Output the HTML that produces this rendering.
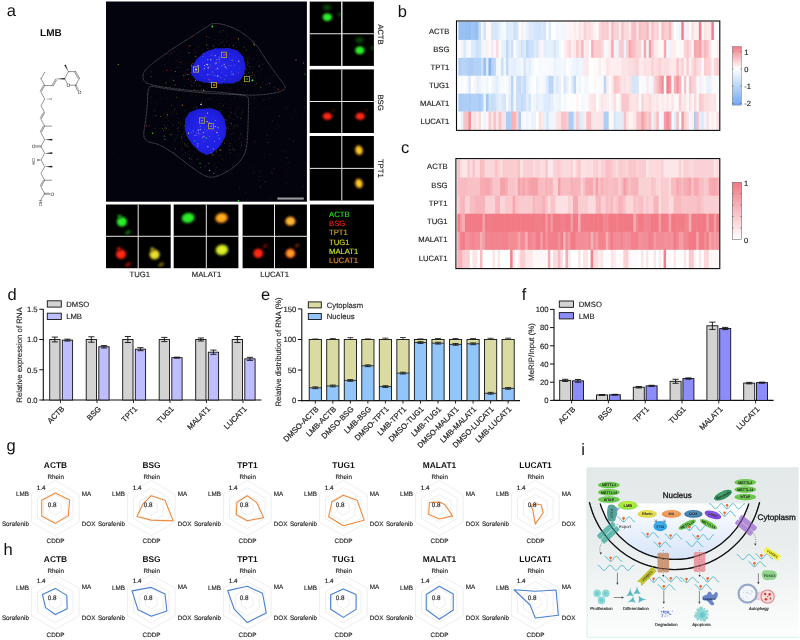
<!DOCTYPE html>
<html><head><meta charset="utf-8"><title>Figure</title>
<style>
html,body{margin:0;padding:0;background:#fff;}
body{width:800px;height:640px;overflow:hidden;font-family:"Liberation Sans", sans-serif;}
svg{display:block;font-family:"Liberation Sans", sans-serif;text-rendering:geometricPrecision;}
</style></head><body>
<svg width="800" height="640" viewBox="0 0 800 640">
<defs>
<filter id="b1" x="-50%" y="-50%" width="200%" height="200%" color-interpolation-filters="sRGB"><feGaussianBlur stdDeviation="1.1"/></filter>
<filter id="b2" x="-50%" y="-50%" width="200%" height="200%" color-interpolation-filters="sRGB"><feGaussianBlur stdDeviation="1.8"/></filter>
<filter id="b05" x="-50%" y="-50%" width="200%" height="200%" color-interpolation-filters="sRGB"><feGaussianBlur stdDeviation="0.45"/></filter>
<filter id="b03" x="-50%" y="-50%" width="200%" height="200%" color-interpolation-filters="sRGB"><feGaussianBlur stdDeviation="0.3"/></filter>
<clipPath id="cm"><rect x="106" y="1.5" width="200.9" height="200.2"/></clipPath>
<radialGradient id="nuc" cx="50%" cy="50%" r="50%"><stop offset="0" stop-color="#2626ec"/><stop offset="0.75" stop-color="#2020e4"/><stop offset="1" stop-color="#1c1cd0"/></radialGradient>
<clipPath id="cpA"><rect x="309.7" y="1.6" width="64.2" height="64.3"/></clipPath>
<radialGradient id="g7"><stop offset="0" stop-color="#0d5a0d"/><stop offset="0.55" stop-color="#0d5a0d"/><stop offset="1" stop-color="#073007"/></radialGradient>
<radialGradient id="g8"><stop offset="0" stop-color="#0d5a0d"/><stop offset="0.55" stop-color="#0d5a0d"/><stop offset="1" stop-color="#073007"/></radialGradient>
<radialGradient id="g9"><stop offset="0" stop-color="#0d6a0d"/><stop offset="0.55" stop-color="#0d6a0d"/><stop offset="1" stop-color="#073007"/></radialGradient>
<radialGradient id="g10"><stop offset="0" stop-color="#0d6a0d"/><stop offset="0.55" stop-color="#0d6a0d"/><stop offset="1" stop-color="#073007"/></radialGradient>
<radialGradient id="g11"><stop offset="0" stop-color="#2cf02c"/><stop offset="0.55" stop-color="#2cf02c"/><stop offset="1" stop-color="#1ec81e"/></radialGradient>
<radialGradient id="g12"><stop offset="0" stop-color="#2cf02c"/><stop offset="0.55" stop-color="#2cf02c"/><stop offset="1" stop-color="#1ec81e"/></radialGradient>
<radialGradient id="g13"><stop offset="0" stop-color="#ff2a18"/><stop offset="0.55" stop-color="#ff2a18"/><stop offset="1" stop-color="#d81408"/></radialGradient>
<radialGradient id="g14"><stop offset="0" stop-color="#ff2a18"/><stop offset="0.55" stop-color="#ff2a18"/><stop offset="1" stop-color="#d81408"/></radialGradient>
<radialGradient id="g15"><stop offset="0" stop-color="#701008"/><stop offset="0.55" stop-color="#701008"/><stop offset="1" stop-color="#400804"/></radialGradient>
<radialGradient id="g16"><stop offset="0" stop-color="#701008"/><stop offset="0.55" stop-color="#701008"/><stop offset="1" stop-color="#400804"/></radialGradient>
<radialGradient id="g17"><stop offset="0" stop-color="#ffd028"/><stop offset="0.55" stop-color="#ffd028"/><stop offset="1" stop-color="#c87808"/></radialGradient>
<radialGradient id="g18"><stop offset="0" stop-color="#ffd028"/><stop offset="0.55" stop-color="#ffd028"/><stop offset="1" stop-color="#c87808"/></radialGradient>
<radialGradient id="g19"><stop offset="0" stop-color="#127812"/><stop offset="0.55" stop-color="#127812"/><stop offset="1" stop-color="#0a400a"/></radialGradient>
<radialGradient id="g20"><stop offset="0" stop-color="#2cf02c"/><stop offset="0.55" stop-color="#2cf02c"/><stop offset="1" stop-color="#1ec01e"/></radialGradient>
<radialGradient id="g21"><stop offset="0" stop-color="#1aa01a"/><stop offset="0.55" stop-color="#1aa01a"/><stop offset="1" stop-color="#0a500a"/></radialGradient>
<radialGradient id="g22"><stop offset="0" stop-color="#b01008"/><stop offset="0.55" stop-color="#b01008"/><stop offset="1" stop-color="#500804"/></radialGradient>
<radialGradient id="g23"><stop offset="0" stop-color="#ff2a18"/><stop offset="0.55" stop-color="#ff2a18"/><stop offset="1" stop-color="#d01408"/></radialGradient>
<radialGradient id="g24"><stop offset="0" stop-color="#c01810"/><stop offset="0.55" stop-color="#c01810"/><stop offset="1" stop-color="#600804"/></radialGradient>
<radialGradient id="g25"><stop offset="0" stop-color="#80700c"/><stop offset="0.55" stop-color="#80700c"/><stop offset="1" stop-color="#403804"/></radialGradient>
<radialGradient id="g26"><stop offset="0" stop-color="#e8e030"/><stop offset="0.55" stop-color="#e8e030"/><stop offset="1" stop-color="#c0b018"/></radialGradient>
<radialGradient id="g27"><stop offset="0" stop-color="#b0a018"/><stop offset="0.55" stop-color="#b0a018"/><stop offset="1" stop-color="#605008"/></radialGradient>
<radialGradient id="g28"><stop offset="0" stop-color="#2cf02c"/><stop offset="0.55" stop-color="#2cf02c"/><stop offset="1" stop-color="#1ec01e"/></radialGradient>
<radialGradient id="g29"><stop offset="0" stop-color="#ffb020"/><stop offset="0.55" stop-color="#ffb020"/><stop offset="1" stop-color="#d87008"/></radialGradient>
<radialGradient id="g30"><stop offset="0" stop-color="#e0f028"/><stop offset="0.55" stop-color="#e0f028"/><stop offset="1" stop-color="#a8c818"/></radialGradient>
<radialGradient id="g31"><stop offset="0" stop-color="#ffb838"/><stop offset="0.55" stop-color="#ffb838"/><stop offset="1" stop-color="#e08818"/></radialGradient>
<radialGradient id="g32"><stop offset="0" stop-color="#a01008"/><stop offset="0.55" stop-color="#a01008"/><stop offset="1" stop-color="#400804"/></radialGradient>
<radialGradient id="g33"><stop offset="0" stop-color="#ff2a18"/><stop offset="0.55" stop-color="#ff2a18"/><stop offset="1" stop-color="#e01408"/></radialGradient>
<radialGradient id="g34"><stop offset="0" stop-color="#a03008"/><stop offset="0.55" stop-color="#a03008"/><stop offset="1" stop-color="#401004"/></radialGradient>
<radialGradient id="g35"><stop offset="0" stop-color="#ffa028"/><stop offset="0.55" stop-color="#ffa028"/><stop offset="1" stop-color="#e84010"/></radialGradient>
<linearGradient id="cbb" x1="0" y1="0" x2="0" y2="1"><stop offset="0" stop-color="#f17a85"/><stop offset="0.38" stop-color="#ffffff"/><stop offset="1" stop-color="#70a8ee"/></linearGradient>
<linearGradient id="cbc" x1="0" y1="0" x2="0" y2="1"><stop offset="0" stop-color="#f17a85"/><stop offset="1" stop-color="#ffffff"/></linearGradient>
<linearGradient id="ibg" x1="0" y1="0" x2="0" y2="1"><stop offset="0" stop-color="#e3e8e8"/><stop offset="0.45" stop-color="#e9eded"/><stop offset="0.8" stop-color="#f6f8f8"/><stop offset="1" stop-color="#fdfefe"/></linearGradient>
<linearGradient id="inuc" x1="0" y1="0" x2="0" y2="1"><stop offset="0" stop-color="#ffffff"/><stop offset="0.25" stop-color="#f4f8fe"/><stop offset="1" stop-color="#d6e4f8"/></linearGradient>
<clipPath id="ci"><rect x="586.6" y="467.3" width="212" height="170.5"/></clipPath>
<radialGradient id="o41" cx="50%" cy="40%" r="65%"><stop offset="0" stop-color="#7ed45a"/><stop offset="1" stop-color="#5cc040"/></radialGradient>
<radialGradient id="o42" cx="50%" cy="40%" r="65%"><stop offset="0" stop-color="#7ed45a"/><stop offset="1" stop-color="#5cc040"/></radialGradient>
<radialGradient id="o43" cx="50%" cy="40%" r="65%"><stop offset="0" stop-color="#7ed45a"/><stop offset="1" stop-color="#5cc040"/></radialGradient>
<radialGradient id="o44" cx="50%" cy="40%" r="65%"><stop offset="0" stop-color="#7ed45a"/><stop offset="1" stop-color="#5cc040"/></radialGradient>
<radialGradient id="o45" cx="50%" cy="40%" r="65%"><stop offset="0" stop-color="#7ed45a"/><stop offset="1" stop-color="#5cc040"/></radialGradient>
<radialGradient id="o46" cx="50%" cy="40%" r="65%"><stop offset="0" stop-color="#7ed45a"/><stop offset="1" stop-color="#5cc040"/></radialGradient>
<radialGradient id="o47" cx="50%" cy="40%" r="65%"><stop offset="0" stop-color="#4fb27a"/><stop offset="1" stop-color="#1f7a4c"/></radialGradient>
<radialGradient id="o48" cx="50%" cy="40%" r="65%"><stop offset="0" stop-color="#d4f43c"/><stop offset="1" stop-color="#7ee040"/></radialGradient>
<radialGradient id="o49" cx="50%" cy="40%" r="65%"><stop offset="0" stop-color="#f6ee62"/><stop offset="1" stop-color="#d8d040"/></radialGradient>
<radialGradient id="o50" cx="50%" cy="40%" r="65%"><stop offset="0" stop-color="#f6b078"/><stop offset="1" stop-color="#e88844"/></radialGradient>
<radialGradient id="o51" cx="50%" cy="40%" r="65%"><stop offset="0" stop-color="#6aa2c8"/><stop offset="1" stop-color="#2e6c9c"/></radialGradient>
<radialGradient id="o52" cx="50%" cy="40%" r="65%"><stop offset="0" stop-color="#a070f0"/><stop offset="1" stop-color="#6e34d8"/></radialGradient>
<radialGradient id="o53" cx="50%" cy="40%" r="65%"><stop offset="0" stop-color="#48b4f0"/><stop offset="1" stop-color="#2a9ce4"/></radialGradient>
<radialGradient id="o54" cx="50%" cy="40%" r="65%"><stop offset="0" stop-color="#7ed45a"/><stop offset="1" stop-color="#5cc040"/></radialGradient>
<radialGradient id="o55" cx="50%" cy="40%" r="65%"><stop offset="0" stop-color="#7ed45a"/><stop offset="1" stop-color="#5cc040"/></radialGradient>
</defs>
<text x="6.7" y="15.9" font-size="16.5" fill="#111">a</text>
<text x="50.9" y="36.1" font-size="10" text-anchor="middle" font-weight="bold" fill="#111">LMB</text>
<g stroke="#3a3a3a" stroke-width="0.55" fill="none" stroke-linecap="round">
<polyline points="41,78.75 44.7,85.52 41,92.28 44.7,99.05 41,105.81 44.7,112.57 41,119.34 44.7,126.1 41,132.87 44.7,139.63 41,146.4 44.7,153.16 41,159.93 44.7,166.69 41,173.46 44.7,180.22 41,186.99 44.7,193.75"/>
<line x1="41" y1="78.75" x2="44.75" y2="72.2" stroke="#3a3a3a" stroke-width="0.55"/>
<line x1="43.4" y1="85.5" x2="40.29" y2="91.19" stroke="#3a3a3a" stroke-width="0.55"/>
<line x1="43.4" y1="112.56" x2="40.29" y2="118.25" stroke="#3a3a3a" stroke-width="0.55"/>
<line x1="43.4" y1="126.09" x2="40.29" y2="131.78" stroke="#3a3a3a" stroke-width="0.55"/>
<line x1="43.4" y1="180.21" x2="40.29" y2="185.9" stroke="#3a3a3a" stroke-width="0.55"/>
<line x1="44.7" y1="85.52" x2="52" y2="85.6" stroke="#3a3a3a" stroke-width="0.55"/>
<line x1="52" y1="85.6" x2="55.7" y2="79" stroke="#3a3a3a" stroke-width="0.55"/>
<line x1="53.2" y1="85.9" x2="56.6" y2="79.9" stroke="#3a3a3a" stroke-width="0.55"/>
<line x1="44.7" y1="126.1" x2="51.5" y2="126.1" stroke="#3a3a3a" stroke-width="0.55"/>
<line x1="44.7" y1="180.22" x2="51.5" y2="180.22" stroke="#3a3a3a" stroke-width="0.55"/>
<line x1="41" y1="145.85" x2="35.8" y2="145.85" stroke="#3a3a3a" stroke-width="0.5"/>
<line x1="41" y1="146.95" x2="35.8" y2="146.95" stroke="#3a3a3a" stroke-width="0.5"/>
<line x1="44.7" y1="193.2" x2="49.7" y2="193.2" stroke="#3a3a3a" stroke-width="0.5"/>
<line x1="44.7" y1="194.31" x2="49.7" y2="194.31" stroke="#3a3a3a" stroke-width="0.5"/>
<line x1="44.7" y1="193.75" x2="41" y2="199.6" stroke="#3a3a3a" stroke-width="0.55"/>
<line x1="64.75" y1="78.6" x2="68.3" y2="71.6" stroke="#3a3a3a" stroke-width="0.55"/>
<line x1="68.3" y1="71.6" x2="75.7" y2="71.6" stroke="#3a3a3a" stroke-width="0.55"/>
<line x1="75.7" y1="71.6" x2="79.4" y2="78.2" stroke="#3a3a3a" stroke-width="0.55"/>
<line x1="74.8" y1="72.5" x2="78.1" y2="78.3" stroke="#3a3a3a" stroke-width="0.55"/>
<line x1="79.4" y1="78.2" x2="75.7" y2="85.2" stroke="#3a3a3a" stroke-width="0.55"/>
<line x1="75.7" y1="85.2" x2="70.1" y2="85.2" stroke="#3a3a3a" stroke-width="0.55"/>
<line x1="67.3" y1="83.6" x2="64.75" y2="78.6" stroke="#3a3a3a" stroke-width="0.55"/>
<line x1="76.2" y1="85" x2="78.5" y2="90.2" stroke="#3a3a3a" stroke-width="0.5"/>
<line x1="75.2" y1="85.6" x2="77.5" y2="90.8" stroke="#3a3a3a" stroke-width="0.5"/>
</g>
<g fill="#1a1a1a" stroke="none">
<polygon points="55.7,79 64.75,77.9 64.75,79.4" fill="#1a1a1a"/>
<polygon points="68.3,71.6 64.3,65.2 65.7,64.6" fill="#1a1a1a"/>
<polygon points="44.7,139.63 52.3,138.73 52.3,140.53" fill="#1a1a1a"/>
<polygon points="44.7,153.16 52.3,152.26 52.3,154.06" fill="#1a1a1a"/>
<polygon points="44.7,166.69 52.3,165.79 52.3,167.59" fill="#1a1a1a"/>
<polygon points="41,159.93 37.4,159.13 37.4,160.73" fill="#1a1a1a"/>
</g>
<line x1="46.9" y1="98.7" x2="46.9" y2="99.39" stroke="#3a3a3a" stroke-width="0.45"/>
<line x1="48.05" y1="98.58" x2="48.05" y2="99.52" stroke="#3a3a3a" stroke-width="0.45"/>
<line x1="49.2" y1="98.45" x2="49.2" y2="99.64" stroke="#3a3a3a" stroke-width="0.45"/>
<line x1="50.35" y1="98.34" x2="50.35" y2="99.75" stroke="#3a3a3a" stroke-width="0.45"/>
<line x1="51.5" y1="98.22" x2="51.5" y2="99.88" stroke="#3a3a3a" stroke-width="0.45"/>
<text x="68.3" y="87.03" font-size="4.8" text-anchor="middle" font-weight="normal" fill="#2a2a2a">O</text>
<text x="79.5" y="93.93" font-size="4.8" text-anchor="middle" font-weight="normal" fill="#2a2a2a">O</text>
<text x="33.6" y="148.13" font-size="4.8" text-anchor="middle" font-weight="normal" fill="#2a2a2a">O</text>
<text x="52.3" y="195.53" font-size="4.8" text-anchor="middle" font-weight="normal" fill="#2a2a2a">O</text>
<text x="33.4" y="162.81" font-size="4.2" text-anchor="middle" font-weight="normal" fill="#2a2a2a" transform="rotate(-90 33.4 161.3)">HO</text>
<text x="40.9" y="204.71" font-size="4.2" text-anchor="middle" font-weight="normal" fill="#2a2a2a" transform="rotate(-90 40.9 203.2)">OH</text>
<rect x="106" y="1.5" width="200.9" height="200.2" fill="#03030e"/>
<g clip-path="url(#cm)">
<g filter="url(#b03)">
<circle cx="237.02" cy="85.07" r="0.45" fill="#2fd12f" opacity="0.15"/>
<circle cx="242.86" cy="73.76" r="0.3" fill="#2fd12f" opacity="0.55"/>
<circle cx="220.03" cy="86.35" r="0.45" fill="#2fd12f" opacity="0.15"/>
<circle cx="233.46" cy="65.02" r="0.45" fill="#2fd12f" opacity="0.55"/>
<circle cx="223.47" cy="86.22" r="0.35" fill="#e02626" opacity="0.55"/>
<circle cx="232.35" cy="76.09" r="0.3" fill="#e02626" opacity="0.25"/>
<circle cx="210.83" cy="65.8" r="0.45" fill="#2fd12f" opacity="0.25"/>
<circle cx="181.03" cy="62.25" r="0.45" fill="#e07a1c" opacity="0.9"/>
<circle cx="218.54" cy="76.84" r="0.3" fill="#e02626" opacity="0.3"/>
<circle cx="243.58" cy="50.26" r="0.45" fill="#d6c22a" opacity="0.15"/>
<circle cx="186.18" cy="79.82" r="0.4" fill="#e02626" opacity="0.55"/>
<circle cx="200.01" cy="45.18" r="0.35" fill="#c8a020" opacity="0.4"/>
<circle cx="194.37" cy="56.36" r="0.3" fill="#e07a1c" opacity="0.15"/>
<circle cx="210.86" cy="70.95" r="0.6" fill="#2fd12f" opacity="0.3"/>
<circle cx="259.23" cy="66.19" r="0.6" fill="#d6c22a" opacity="0.55"/>
<circle cx="198.72" cy="56.17" r="0.35" fill="#e02626" opacity="0.2"/>
<circle cx="199.86" cy="89.42" r="0.3" fill="#e07a1c" opacity="0.2"/>
<circle cx="174.97" cy="57.89" r="0.45" fill="#e07a1c" opacity="0.3"/>
<circle cx="219.5" cy="73.6" r="0.3" fill="#e02626" opacity="0.25"/>
<circle cx="225.21" cy="59.09" r="0.3" fill="#d6c22a" opacity="0.2"/>
<circle cx="199.03" cy="81.6" r="0.6" fill="#e02626" opacity="0.12"/>
<circle cx="197.75" cy="61.9" r="0.3" fill="#e07a1c" opacity="0.9"/>
<circle cx="225.99" cy="69.54" r="0.4" fill="#e02626" opacity="0.2"/>
<circle cx="210.16" cy="63.28" r="0.3" fill="#c8a020" opacity="0.15"/>
<circle cx="231.02" cy="27.54" r="0.45" fill="#e02626" opacity="0.55"/>
<circle cx="218.11" cy="81.26" r="0.4" fill="#d6c22a" opacity="0.15"/>
<circle cx="157.85" cy="70.5" r="0.4" fill="#e07a1c" opacity="0.3"/>
<circle cx="234.54" cy="75.63" r="0.4" fill="#d6c22a" opacity="0.2"/>
<circle cx="200.47" cy="36.49" r="0.35" fill="#c8a020" opacity="0.15"/>
<circle cx="216.93" cy="81.7" r="0.35" fill="#e02626" opacity="0.25"/>
<circle cx="221.97" cy="54.21" r="0.45" fill="#e02626" opacity="0.25"/>
<circle cx="260.57" cy="76.48" r="0.3" fill="#e02626" opacity="0.9"/>
<circle cx="223.55" cy="68.05" r="0.4" fill="#d6c22a" opacity="0.3"/>
<circle cx="202.44" cy="58.94" r="0.35" fill="#d6c22a" opacity="0.15"/>
<circle cx="220.51" cy="77.22" r="0.4" fill="#e02626" opacity="0.12"/>
<circle cx="195.81" cy="45.35" r="0.6" fill="#2fd12f" opacity="0.15"/>
<circle cx="255.36" cy="77.24" r="0.3" fill="#e07a1c" opacity="0.55"/>
<circle cx="190.42" cy="80.94" r="0.4" fill="#e07a1c" opacity="0.55"/>
<circle cx="201.53" cy="50.28" r="0.4" fill="#c8a020" opacity="0.4"/>
<circle cx="214.03" cy="66.47" r="0.45" fill="#2fd12f" opacity="0.2"/>
<circle cx="246.9" cy="47.16" r="0.3" fill="#e02626" opacity="0.3"/>
<circle cx="181.03" cy="67.21" r="0.35" fill="#d6c22a" opacity="0.55"/>
<circle cx="151.19" cy="76.49" r="0.6" fill="#e07a1c" opacity="0.55"/>
<circle cx="173.82" cy="65.38" r="0.45" fill="#e02626" opacity="0.12"/>
<circle cx="224.11" cy="71.07" r="0.45" fill="#c8a020" opacity="0.9"/>
<circle cx="157.72" cy="63.36" r="0.3" fill="#e02626" opacity="0.3"/>
<circle cx="238.13" cy="76.88" r="0.3" fill="#2fd12f" opacity="0.9"/>
<circle cx="248.01" cy="63.99" r="0.6" fill="#e02626" opacity="0.3"/>
<circle cx="193.86" cy="63.85" r="0.6" fill="#e02626" opacity="0.3"/>
<circle cx="199.38" cy="74.89" r="0.3" fill="#d6c22a" opacity="0.25"/>
<circle cx="222.74" cy="79.79" r="0.3" fill="#2fd12f" opacity="0.4"/>
<circle cx="239.59" cy="62.95" r="0.3" fill="#e07a1c" opacity="0.25"/>
<circle cx="194.33" cy="74.93" r="0.4" fill="#d6c22a" opacity="0.25"/>
<circle cx="235.98" cy="75.24" r="0.45" fill="#d6c22a" opacity="0.9"/>
<circle cx="238.02" cy="68.93" r="0.35" fill="#c8a020" opacity="0.15"/>
<circle cx="232.22" cy="62.11" r="0.3" fill="#2fd12f" opacity="0.3"/>
<circle cx="229.96" cy="62.11" r="0.4" fill="#e02626" opacity="0.3"/>
<circle cx="192.64" cy="63.29" r="0.6" fill="#e07a1c" opacity="0.4"/>
<circle cx="249.82" cy="75.5" r="0.3" fill="#e07a1c" opacity="0.3"/>
<circle cx="234.01" cy="81" r="0.45" fill="#2fd12f" opacity="0.25"/>
<circle cx="234.14" cy="54.87" r="0.45" fill="#d6c22a" opacity="0.55"/>
<circle cx="219.17" cy="74.6" r="0.35" fill="#e02626" opacity="0.12"/>
<circle cx="246.6" cy="58.68" r="0.3" fill="#c8a020" opacity="0.3"/>
<circle cx="210.19" cy="56.88" r="0.35" fill="#2fd12f" opacity="0.12"/>
<circle cx="215.45" cy="48.52" r="0.45" fill="#e02626" opacity="0.9"/>
<circle cx="187.93" cy="74.58" r="0.6" fill="#e07a1c" opacity="0.9"/>
<circle cx="221.85" cy="77.98" r="0.6" fill="#e02626" opacity="0.2"/>
<circle cx="214.17" cy="71.5" r="0.3" fill="#e02626" opacity="0.15"/>
<circle cx="235.41" cy="56.49" r="0.3" fill="#2fd12f" opacity="0.55"/>
<circle cx="239.23" cy="43.01" r="0.6" fill="#e02626" opacity="0.3"/>
<circle cx="225.28" cy="78.31" r="0.35" fill="#2fd12f" opacity="0.4"/>
<circle cx="236.9" cy="64.64" r="0.3" fill="#d6c22a" opacity="0.12"/>
<circle cx="233.78" cy="73.5" r="0.3" fill="#e02626" opacity="0.12"/>
<circle cx="223.41" cy="59.77" r="0.3" fill="#c8a020" opacity="0.55"/>
<circle cx="213.05" cy="77.69" r="0.45" fill="#c8a020" opacity="0.2"/>
<circle cx="208.81" cy="37.27" r="0.35" fill="#e07a1c" opacity="0.9"/>
<circle cx="213.29" cy="46.15" r="0.6" fill="#2fd12f" opacity="0.55"/>
<circle cx="176.66" cy="66.62" r="0.6" fill="#2fd12f" opacity="0.25"/>
<circle cx="248.65" cy="72.95" r="0.4" fill="#2fd12f" opacity="0.9"/>
<circle cx="196.96" cy="52.26" r="0.4" fill="#e02626" opacity="0.3"/>
<circle cx="229.19" cy="43.6" r="0.45" fill="#c8a020" opacity="0.15"/>
<circle cx="251.29" cy="77.28" r="0.3" fill="#d6c22a" opacity="0.3"/>
<circle cx="219.04" cy="56.54" r="0.4" fill="#e07a1c" opacity="0.55"/>
<circle cx="233.72" cy="60.82" r="0.45" fill="#2fd12f" opacity="0.25"/>
<circle cx="228.52" cy="76.58" r="0.45" fill="#d6c22a" opacity="0.2"/>
<circle cx="234.56" cy="71.81" r="0.6" fill="#2fd12f" opacity="0.25"/>
<circle cx="211.67" cy="84.89" r="0.4" fill="#e07a1c" opacity="0.9"/>
<circle cx="239.76" cy="76.12" r="0.4" fill="#d6c22a" opacity="0.15"/>
<circle cx="207.8" cy="63.34" r="0.35" fill="#c8a020" opacity="0.4"/>
<circle cx="229.6" cy="51.23" r="0.6" fill="#2fd12f" opacity="0.4"/>
<circle cx="238.72" cy="57.03" r="0.3" fill="#2fd12f" opacity="0.12"/>
<circle cx="240.82" cy="52.04" r="0.4" fill="#e02626" opacity="0.4"/>
<circle cx="232.71" cy="76.67" r="0.35" fill="#d6c22a" opacity="0.55"/>
<circle cx="249.51" cy="56.83" r="0.35" fill="#d6c22a" opacity="0.4"/>
<circle cx="184.13" cy="86.69" r="0.35" fill="#2fd12f" opacity="0.55"/>
<circle cx="201.99" cy="49.28" r="0.3" fill="#e02626" opacity="0.3"/>
<circle cx="203.22" cy="91.07" r="0.3" fill="#e07a1c" opacity="0.55"/>
<circle cx="149.54" cy="75.93" r="0.45" fill="#e07a1c" opacity="0.2"/>
<circle cx="216.83" cy="72.03" r="0.3" fill="#c8a020" opacity="0.2"/>
<circle cx="208.13" cy="77.89" r="0.4" fill="#d6c22a" opacity="0.25"/>
<circle cx="197.78" cy="62.11" r="0.6" fill="#e02626" opacity="0.2"/>
<circle cx="178.19" cy="67.3" r="0.3" fill="#c8a020" opacity="0.9"/>
<circle cx="221.8" cy="73.52" r="0.45" fill="#d6c22a" opacity="0.15"/>
<circle cx="191.29" cy="87.51" r="0.3" fill="#e02626" opacity="0.55"/>
<circle cx="218.01" cy="57.1" r="0.35" fill="#d6c22a" opacity="0.12"/>
<circle cx="199.83" cy="61.02" r="0.45" fill="#c8a020" opacity="0.25"/>
<circle cx="235.68" cy="58.47" r="0.4" fill="#e07a1c" opacity="0.3"/>
<circle cx="206.63" cy="36.53" r="0.45" fill="#e07a1c" opacity="0.9"/>
<circle cx="179.33" cy="89.01" r="0.4" fill="#c8a020" opacity="0.9"/>
<circle cx="228.27" cy="72.9" r="0.6" fill="#c8a020" opacity="0.15"/>
<circle cx="246.62" cy="69.72" r="0.3" fill="#e07a1c" opacity="0.12"/>
<circle cx="238.51" cy="81.22" r="0.6" fill="#2fd12f" opacity="0.3"/>
<circle cx="232.86" cy="61.02" r="0.6" fill="#e07a1c" opacity="0.15"/>
<circle cx="191.09" cy="64.3" r="0.4" fill="#2fd12f" opacity="0.3"/>
<circle cx="232.21" cy="72.66" r="0.35" fill="#e07a1c" opacity="0.25"/>
<circle cx="206.71" cy="44.89" r="0.6" fill="#d6c22a" opacity="0.55"/>
<circle cx="228.91" cy="43.88" r="0.3" fill="#c8a020" opacity="0.25"/>
<circle cx="229.89" cy="91.73" r="0.3" fill="#e02626" opacity="0.9"/>
<circle cx="219.61" cy="54.89" r="0.4" fill="#c8a020" opacity="0.2"/>
<circle cx="212.44" cy="88.95" r="0.45" fill="#2fd12f" opacity="0.2"/>
<circle cx="188.57" cy="79.36" r="0.4" fill="#e02626" opacity="0.9"/>
<circle cx="269.99" cy="75.96" r="0.3" fill="#2fd12f" opacity="0.4"/>
<circle cx="202.96" cy="52.43" r="0.3" fill="#e07a1c" opacity="0.3"/>
<circle cx="203.01" cy="77.43" r="0.4" fill="#d6c22a" opacity="0.2"/>
<circle cx="226.36" cy="70.31" r="0.3" fill="#e07a1c" opacity="0.25"/>
<circle cx="220.62" cy="54.6" r="0.3" fill="#e07a1c" opacity="0.12"/>
<circle cx="170.66" cy="61.99" r="0.3" fill="#e07a1c" opacity="0.4"/>
<circle cx="222.75" cy="65.16" r="0.3" fill="#e07a1c" opacity="0.55"/>
<circle cx="226.12" cy="68.57" r="0.35" fill="#2fd12f" opacity="0.25"/>
<circle cx="247.81" cy="61.94" r="0.6" fill="#d6c22a" opacity="0.4"/>
<circle cx="185.35" cy="75.15" r="0.6" fill="#c8a020" opacity="0.15"/>
<circle cx="220.93" cy="84.35" r="0.4" fill="#e07a1c" opacity="0.3"/>
<circle cx="269.2" cy="69.3" r="0.6" fill="#d6c22a" opacity="0.2"/>
<circle cx="209.33" cy="79.02" r="0.45" fill="#d6c22a" opacity="0.15"/>
<circle cx="208.31" cy="72.97" r="0.3" fill="#e07a1c" opacity="0.12"/>
<circle cx="205.89" cy="64.94" r="0.3" fill="#e07a1c" opacity="0.15"/>
<circle cx="226.96" cy="70.8" r="0.6" fill="#e07a1c" opacity="0.9"/>
<circle cx="234.81" cy="79.76" r="0.6" fill="#e02626" opacity="0.15"/>
<circle cx="184.84" cy="42.82" r="0.35" fill="#d6c22a" opacity="0.3"/>
<circle cx="244.47" cy="92.97" r="0.3" fill="#c8a020" opacity="0.4"/>
<circle cx="218.23" cy="78.67" r="0.3" fill="#c8a020" opacity="0.15"/>
<circle cx="228.61" cy="67" r="0.3" fill="#e07a1c" opacity="0.9"/>
<circle cx="237.62" cy="61.25" r="0.4" fill="#e02626" opacity="0.3"/>
<circle cx="213.29" cy="53.93" r="0.35" fill="#2fd12f" opacity="0.4"/>
<circle cx="223.21" cy="78.43" r="0.6" fill="#c8a020" opacity="0.25"/>
<circle cx="260.64" cy="52.3" r="0.3" fill="#d6c22a" opacity="0.3"/>
<circle cx="243.64" cy="70.85" r="0.3" fill="#e07a1c" opacity="0.55"/>
<circle cx="196.4" cy="78.99" r="0.3" fill="#c8a020" opacity="0.2"/>
<circle cx="212.19" cy="69.8" r="0.35" fill="#c8a020" opacity="0.55"/>
<circle cx="229.96" cy="90.29" r="0.3" fill="#e02626" opacity="0.55"/>
<circle cx="203.59" cy="82.37" r="0.45" fill="#e07a1c" opacity="0.4"/>
<circle cx="220.39" cy="69.61" r="0.3" fill="#c8a020" opacity="0.55"/>
<circle cx="203.16" cy="57.37" r="0.3" fill="#c8a020" opacity="0.2"/>
<circle cx="225.51" cy="75.23" r="0.3" fill="#2fd12f" opacity="0.55"/>
<circle cx="237.79" cy="30.54" r="0.35" fill="#e02626" opacity="0.2"/>
<circle cx="194" cy="54.04" r="0.6" fill="#2fd12f" opacity="0.2"/>
<circle cx="237.43" cy="51.02" r="0.3" fill="#c8a020" opacity="0.9"/>
<circle cx="222.82" cy="82.25" r="0.3" fill="#c8a020" opacity="0.55"/>
<circle cx="170.21" cy="87.01" r="0.6" fill="#2fd12f" opacity="0.4"/>
<circle cx="195.86" cy="56.3" r="0.6" fill="#d6c22a" opacity="0.55"/>
<circle cx="218.5" cy="82.29" r="0.4" fill="#d6c22a" opacity="0.9"/>
<circle cx="189.54" cy="74.23" r="0.3" fill="#e07a1c" opacity="0.9"/>
<circle cx="237.32" cy="73.19" r="0.3" fill="#d6c22a" opacity="0.9"/>
<circle cx="214.91" cy="63.79" r="0.3" fill="#e02626" opacity="0.4"/>
<circle cx="216.26" cy="26.37" r="0.4" fill="#c8a020" opacity="0.2"/>
<circle cx="246.16" cy="75.79" r="0.3" fill="#2fd12f" opacity="0.2"/>
<circle cx="166.24" cy="80.03" r="0.3" fill="#e02626" opacity="0.4"/>
<circle cx="218.13" cy="80.67" r="0.35" fill="#c8a020" opacity="0.9"/>
<circle cx="168.97" cy="66.93" r="0.45" fill="#e02626" opacity="0.3"/>
<circle cx="220.08" cy="81.83" r="0.3" fill="#e02626" opacity="0.55"/>
<circle cx="248.98" cy="58.59" r="0.3" fill="#e07a1c" opacity="0.3"/>
<circle cx="187.69" cy="63.31" r="0.4" fill="#d6c22a" opacity="0.15"/>
<circle cx="176.13" cy="60.82" r="0.35" fill="#d6c22a" opacity="0.55"/>
<circle cx="225.77" cy="48.73" r="0.4" fill="#2fd12f" opacity="0.25"/>
<circle cx="218.12" cy="62.68" r="0.35" fill="#c8a020" opacity="0.3"/>
<circle cx="247.47" cy="65.41" r="0.6" fill="#d6c22a" opacity="0.12"/>
<circle cx="200.2" cy="74.46" r="0.3" fill="#2fd12f" opacity="0.9"/>
<circle cx="215.73" cy="64.79" r="0.45" fill="#2fd12f" opacity="0.4"/>
<circle cx="191.49" cy="64.72" r="0.45" fill="#e07a1c" opacity="0.3"/>
<circle cx="227.14" cy="87.52" r="0.3" fill="#e07a1c" opacity="0.2"/>
<circle cx="229.37" cy="45.1" r="0.3" fill="#e07a1c" opacity="0.15"/>
<circle cx="244.92" cy="48.46" r="0.35" fill="#e07a1c" opacity="0.12"/>
<circle cx="238.42" cy="38.8" r="0.6" fill="#c8a020" opacity="0.9"/>
<circle cx="192.92" cy="65.47" r="0.3" fill="#e02626" opacity="0.12"/>
<circle cx="232.32" cy="68.92" r="0.3" fill="#e02626" opacity="0.15"/>
<circle cx="168.73" cy="56.18" r="0.4" fill="#e02626" opacity="0.25"/>
<circle cx="198.56" cy="50.48" r="0.45" fill="#e07a1c" opacity="0.2"/>
<circle cx="246.81" cy="75.6" r="0.6" fill="#e07a1c" opacity="0.12"/>
<circle cx="173.66" cy="80.23" r="0.6" fill="#2fd12f" opacity="0.9"/>
<circle cx="235.52" cy="67.15" r="0.3" fill="#2fd12f" opacity="0.4"/>
<circle cx="276" cy="91.32" r="0.6" fill="#d6c22a" opacity="0.12"/>
<circle cx="196.18" cy="62.08" r="0.35" fill="#c8a020" opacity="0.3"/>
<circle cx="233.42" cy="65.12" r="0.3" fill="#c8a020" opacity="0.2"/>
<circle cx="221.57" cy="92.06" r="0.6" fill="#e02626" opacity="0.4"/>
<circle cx="195.57" cy="80.49" r="0.6" fill="#e07a1c" opacity="0.9"/>
<circle cx="215.96" cy="67.08" r="0.4" fill="#2fd12f" opacity="0.25"/>
<circle cx="213.01" cy="77.08" r="0.45" fill="#c8a020" opacity="0.15"/>
<circle cx="221.09" cy="70.82" r="0.3" fill="#2fd12f" opacity="0.2"/>
<circle cx="221.74" cy="70.22" r="0.3" fill="#2fd12f" opacity="0.12"/>
<circle cx="217.73" cy="61.89" r="0.35" fill="#c8a020" opacity="0.25"/>
<circle cx="260.74" cy="87.55" r="0.6" fill="#2fd12f" opacity="0.55"/>
<circle cx="221.34" cy="74.43" r="0.6" fill="#2fd12f" opacity="0.15"/>
<circle cx="233.59" cy="43.41" r="0.3" fill="#2fd12f" opacity="0.15"/>
<circle cx="235.73" cy="43.92" r="0.4" fill="#d6c22a" opacity="0.3"/>
<circle cx="217.65" cy="79.61" r="0.35" fill="#d6c22a" opacity="0.9"/>
<circle cx="183.49" cy="77.44" r="0.4" fill="#d6c22a" opacity="0.12"/>
<circle cx="224.11" cy="59.1" r="0.45" fill="#2fd12f" opacity="0.25"/>
<circle cx="218.42" cy="62.4" r="0.4" fill="#d6c22a" opacity="0.15"/>
<circle cx="222.47" cy="58.23" r="0.45" fill="#e07a1c" opacity="0.4"/>
<circle cx="216.79" cy="64.65" r="0.35" fill="#e02626" opacity="0.25"/>
<circle cx="253.13" cy="58.24" r="0.3" fill="#c8a020" opacity="0.4"/>
<circle cx="200.47" cy="76.14" r="0.4" fill="#2fd12f" opacity="0.12"/>
<circle cx="210.78" cy="82.38" r="0.45" fill="#c8a020" opacity="0.2"/>
<circle cx="230.37" cy="60.11" r="0.3" fill="#e07a1c" opacity="0.12"/>
<circle cx="212.48" cy="75.12" r="0.6" fill="#e07a1c" opacity="0.4"/>
<circle cx="183.26" cy="77.1" r="0.3" fill="#c8a020" opacity="0.2"/>
<circle cx="197.19" cy="49.3" r="0.3" fill="#c8a020" opacity="0.3"/>
<circle cx="206.11" cy="39.74" r="0.6" fill="#e02626" opacity="0.2"/>
<circle cx="246.82" cy="66.47" r="0.3" fill="#d6c22a" opacity="0.25"/>
<circle cx="248.29" cy="54.19" r="0.3" fill="#e02626" opacity="0.15"/>
<circle cx="236.85" cy="56.34" r="0.4" fill="#2fd12f" opacity="0.55"/>
<circle cx="187.28" cy="67.34" r="0.3" fill="#e07a1c" opacity="0.2"/>
<circle cx="218.23" cy="65.83" r="0.4" fill="#e02626" opacity="0.55"/>
<circle cx="238.84" cy="70.1" r="0.3" fill="#c8a020" opacity="0.2"/>
<circle cx="200.13" cy="71.11" r="0.4" fill="#2fd12f" opacity="0.25"/>
<circle cx="245.38" cy="68.42" r="0.4" fill="#d6c22a" opacity="0.9"/>
<circle cx="202.1" cy="56.75" r="0.6" fill="#e02626" opacity="0.4"/>
<circle cx="198.53" cy="58.21" r="0.3" fill="#2fd12f" opacity="0.3"/>
<circle cx="238.8" cy="89.57" r="0.45" fill="#e02626" opacity="0.4"/>
<circle cx="193.9" cy="58.95" r="0.45" fill="#e07a1c" opacity="0.12"/>
<circle cx="231.12" cy="51.38" r="0.6" fill="#e07a1c" opacity="0.9"/>
<circle cx="209.6" cy="53.68" r="0.6" fill="#2fd12f" opacity="0.4"/>
<circle cx="218.07" cy="82.11" r="0.3" fill="#2fd12f" opacity="0.15"/>
<circle cx="188.5" cy="78.52" r="0.45" fill="#d6c22a" opacity="0.3"/>
<circle cx="211.06" cy="81.72" r="0.3" fill="#c8a020" opacity="0.55"/>
<circle cx="222.72" cy="58.02" r="0.6" fill="#c8a020" opacity="0.25"/>
<circle cx="163.52" cy="71.09" r="0.4" fill="#e07a1c" opacity="0.3"/>
<circle cx="236.2" cy="79.41" r="0.35" fill="#e07a1c" opacity="0.25"/>
<circle cx="206.42" cy="75.45" r="0.6" fill="#e07a1c" opacity="0.2"/>
<circle cx="231.85" cy="42.15" r="0.3" fill="#d6c22a" opacity="0.3"/>
<circle cx="187.79" cy="69.38" r="0.6" fill="#2fd12f" opacity="0.4"/>
<circle cx="211.29" cy="81.38" r="0.45" fill="#2fd12f" opacity="0.4"/>
<circle cx="162.67" cy="83.17" r="0.3" fill="#c8a020" opacity="0.12"/>
<circle cx="234.88" cy="72.86" r="0.3" fill="#c8a020" opacity="0.2"/>
<circle cx="169.21" cy="55.44" r="0.3" fill="#e02626" opacity="0.55"/>
<circle cx="224.78" cy="45.54" r="0.6" fill="#c8a020" opacity="0.3"/>
<circle cx="208.88" cy="50.13" r="0.6" fill="#e07a1c" opacity="0.15"/>
<circle cx="216.94" cy="78.31" r="0.4" fill="#e02626" opacity="0.9"/>
<circle cx="170.85" cy="70.59" r="0.3" fill="#e07a1c" opacity="0.9"/>
<circle cx="189.36" cy="53.09" r="0.35" fill="#e02626" opacity="0.9"/>
<circle cx="199.94" cy="67.59" r="0.35" fill="#e07a1c" opacity="0.55"/>
<circle cx="226.85" cy="65.95" r="0.6" fill="#d6c22a" opacity="0.12"/>
<circle cx="252.85" cy="74.36" r="0.3" fill="#d6c22a" opacity="0.9"/>
<circle cx="223.02" cy="65.04" r="0.6" fill="#e07a1c" opacity="0.2"/>
<circle cx="231.96" cy="56.46" r="0.45" fill="#e07a1c" opacity="0.25"/>
<circle cx="209.25" cy="76.97" r="0.35" fill="#2fd12f" opacity="0.3"/>
<circle cx="198.59" cy="67.93" r="0.45" fill="#d6c22a" opacity="0.4"/>
<circle cx="236.92" cy="80.29" r="0.3" fill="#d6c22a" opacity="0.4"/>
<circle cx="240.59" cy="67.07" r="0.4" fill="#c8a020" opacity="0.12"/>
<circle cx="223.67" cy="70.31" r="0.45" fill="#e07a1c" opacity="0.12"/>
<circle cx="194.66" cy="50.84" r="0.6" fill="#c8a020" opacity="0.15"/>
<circle cx="206.27" cy="53.01" r="0.3" fill="#e02626" opacity="0.2"/>
<circle cx="203.27" cy="29.75" r="0.35" fill="#2fd12f" opacity="0.2"/>
<circle cx="223.57" cy="41.26" r="0.3" fill="#d6c22a" opacity="0.55"/>
<circle cx="246.61" cy="69.88" r="0.3" fill="#c8a020" opacity="0.9"/>
<circle cx="229.13" cy="69.25" r="0.45" fill="#e07a1c" opacity="0.55"/>
<circle cx="240.08" cy="68.72" r="0.6" fill="#c8a020" opacity="0.2"/>
<circle cx="209.7" cy="71.04" r="0.3" fill="#e07a1c" opacity="0.2"/>
<circle cx="215.7" cy="68.31" r="0.3" fill="#2fd12f" opacity="0.25"/>
<circle cx="177.38" cy="76.02" r="0.3" fill="#e02626" opacity="0.4"/>
<circle cx="245.44" cy="84.94" r="0.35" fill="#2fd12f" opacity="0.9"/>
<circle cx="233.74" cy="62.66" r="0.6" fill="#2fd12f" opacity="0.12"/>
<circle cx="250.17" cy="69.41" r="0.3" fill="#c8a020" opacity="0.55"/>
<circle cx="216.69" cy="58.44" r="0.45" fill="#e07a1c" opacity="0.12"/>
<circle cx="252.07" cy="59.74" r="0.6" fill="#e07a1c" opacity="0.2"/>
<circle cx="224.53" cy="53.77" r="0.6" fill="#e02626" opacity="0.55"/>
<circle cx="222.64" cy="51.19" r="0.45" fill="#d6c22a" opacity="0.4"/>
<circle cx="273.56" cy="82.47" r="0.35" fill="#c8a020" opacity="0.12"/>
<circle cx="229.2" cy="44.96" r="0.3" fill="#e07a1c" opacity="0.55"/>
<circle cx="191.47" cy="85.49" r="0.4" fill="#e02626" opacity="0.3"/>
<circle cx="210.85" cy="78.07" r="0.45" fill="#e02626" opacity="0.12"/>
<circle cx="247.75" cy="91.8" r="0.3" fill="#c8a020" opacity="0.3"/>
<circle cx="257.52" cy="62.45" r="0.35" fill="#e07a1c" opacity="0.15"/>
<circle cx="196.92" cy="68.81" r="0.35" fill="#e02626" opacity="0.12"/>
<circle cx="203.79" cy="69.61" r="0.45" fill="#d6c22a" opacity="0.12"/>
<circle cx="208.78" cy="28.81" r="0.3" fill="#d6c22a" opacity="0.25"/>
<circle cx="201.49" cy="65.87" r="0.35" fill="#c8a020" opacity="0.9"/>
<circle cx="222.93" cy="77.3" r="0.3" fill="#2fd12f" opacity="0.3"/>
<circle cx="197.88" cy="61.4" r="0.3" fill="#c8a020" opacity="0.25"/>
<circle cx="239.69" cy="67.14" r="0.35" fill="#2fd12f" opacity="0.9"/>
<circle cx="164.95" cy="66.06" r="0.35" fill="#d6c22a" opacity="0.12"/>
<circle cx="205.36" cy="62.01" r="0.4" fill="#d6c22a" opacity="0.15"/>
<circle cx="253.19" cy="82.26" r="0.35" fill="#e02626" opacity="0.12"/>
<circle cx="239.83" cy="66.91" r="0.3" fill="#2fd12f" opacity="0.12"/>
<circle cx="235.15" cy="55.34" r="0.45" fill="#2fd12f" opacity="0.55"/>
<circle cx="219.4" cy="73.87" r="0.4" fill="#c8a020" opacity="0.2"/>
<circle cx="244.87" cy="69.67" r="0.3" fill="#e07a1c" opacity="0.15"/>
<circle cx="220.02" cy="31.9" r="0.45" fill="#d6c22a" opacity="0.9"/>
<circle cx="236.32" cy="79.49" r="0.4" fill="#e02626" opacity="0.25"/>
<circle cx="274.42" cy="87.62" r="0.6" fill="#e07a1c" opacity="0.25"/>
<circle cx="165.06" cy="83.28" r="0.45" fill="#2fd12f" opacity="0.4"/>
<circle cx="256.52" cy="54.93" r="0.4" fill="#2fd12f" opacity="0.4"/>
<circle cx="219.5" cy="74.8" r="0.3" fill="#d6c22a" opacity="0.4"/>
<circle cx="251.01" cy="75.68" r="0.3" fill="#c8a020" opacity="0.9"/>
<circle cx="180.87" cy="52.5" r="0.3" fill="#e02626" opacity="0.3"/>
<circle cx="237.18" cy="77.89" r="0.3" fill="#e07a1c" opacity="0.2"/>
<circle cx="224.46" cy="83.98" r="0.3" fill="#d6c22a" opacity="0.3"/>
<circle cx="219.55" cy="78.44" r="0.35" fill="#e07a1c" opacity="0.55"/>
<circle cx="150.7" cy="75.51" r="0.3" fill="#d6c22a" opacity="0.12"/>
<circle cx="192.12" cy="66.52" r="0.3" fill="#e07a1c" opacity="0.3"/>
<circle cx="173.86" cy="80.49" r="0.35" fill="#e02626" opacity="0.2"/>
<circle cx="234.44" cy="90.69" r="0.3" fill="#e02626" opacity="0.15"/>
<circle cx="270.82" cy="75.83" r="0.3" fill="#d6c22a" opacity="0.25"/>
<circle cx="203.47" cy="48.91" r="0.45" fill="#e02626" opacity="0.3"/>
<circle cx="251.14" cy="77.17" r="0.6" fill="#e07a1c" opacity="0.12"/>
<circle cx="208.1" cy="77.38" r="0.3" fill="#e07a1c" opacity="0.12"/>
<circle cx="219.36" cy="59.4" r="0.3" fill="#d6c22a" opacity="0.2"/>
<circle cx="224.39" cy="67.03" r="0.45" fill="#d6c22a" opacity="0.12"/>
<circle cx="208.16" cy="76.21" r="0.6" fill="#d6c22a" opacity="0.55"/>
<circle cx="233.04" cy="59.96" r="0.6" fill="#2fd12f" opacity="0.9"/>
<circle cx="257.63" cy="71.75" r="0.3" fill="#e02626" opacity="0.25"/>
<circle cx="246.42" cy="80.64" r="0.35" fill="#e02626" opacity="0.12"/>
<circle cx="234.36" cy="56.31" r="0.6" fill="#e02626" opacity="0.9"/>
<circle cx="242.26" cy="49.98" r="0.35" fill="#2fd12f" opacity="0.15"/>
<circle cx="186.45" cy="54.35" r="0.3" fill="#2fd12f" opacity="0.15"/>
<circle cx="237.6" cy="82.62" r="0.3" fill="#e02626" opacity="0.9"/>
<circle cx="166.13" cy="82.78" r="0.6" fill="#e07a1c" opacity="0.55"/>
<circle cx="213.63" cy="64.95" r="0.35" fill="#2fd12f" opacity="0.4"/>
<circle cx="236.83" cy="47.2" r="0.35" fill="#c8a020" opacity="0.55"/>
<circle cx="204.32" cy="56.83" r="0.3" fill="#c8a020" opacity="0.15"/>
<circle cx="228.36" cy="88.65" r="0.3" fill="#e02626" opacity="0.55"/>
<circle cx="254.54" cy="90.89" r="0.3" fill="#2fd12f" opacity="0.12"/>
<circle cx="232.06" cy="89.5" r="0.35" fill="#c8a020" opacity="0.12"/>
<circle cx="218.3" cy="85.58" r="0.3" fill="#e07a1c" opacity="0.12"/>
<circle cx="207.56" cy="87.76" r="0.3" fill="#2fd12f" opacity="0.3"/>
<circle cx="175.38" cy="48.72" r="0.3" fill="#e07a1c" opacity="0.2"/>
<circle cx="215.21" cy="42.86" r="0.4" fill="#d6c22a" opacity="0.25"/>
<circle cx="228.86" cy="89.91" r="0.45" fill="#e07a1c" opacity="0.3"/>
<circle cx="199.79" cy="69.91" r="0.35" fill="#e02626" opacity="0.25"/>
<circle cx="162.65" cy="56.12" r="0.3" fill="#e07a1c" opacity="0.4"/>
<circle cx="236.99" cy="63.46" r="0.4" fill="#d6c22a" opacity="0.3"/>
<circle cx="236.76" cy="66.42" r="0.3" fill="#2fd12f" opacity="0.15"/>
<circle cx="199.79" cy="85.33" r="0.4" fill="#c8a020" opacity="0.9"/>
<circle cx="220.55" cy="49.26" r="0.4" fill="#e02626" opacity="0.4"/>
<circle cx="227.81" cy="75.19" r="0.35" fill="#c8a020" opacity="0.15"/>
<circle cx="249.73" cy="77.93" r="0.35" fill="#e07a1c" opacity="0.2"/>
<circle cx="236.41" cy="76.72" r="0.45" fill="#c8a020" opacity="0.15"/>
<circle cx="246.28" cy="62.87" r="0.35" fill="#e07a1c" opacity="0.15"/>
<circle cx="195.14" cy="72.3" r="0.35" fill="#d6c22a" opacity="0.4"/>
<circle cx="198.02" cy="62.36" r="0.3" fill="#d6c22a" opacity="0.9"/>
<circle cx="209.96" cy="85.1" r="0.4" fill="#e02626" opacity="0.55"/>
<circle cx="260.51" cy="85.1" r="0.45" fill="#d6c22a" opacity="0.25"/>
<circle cx="171.9" cy="53.57" r="0.3" fill="#2fd12f" opacity="0.12"/>
<circle cx="233.14" cy="59.69" r="0.35" fill="#c8a020" opacity="0.55"/>
<circle cx="185.15" cy="64.93" r="0.4" fill="#e07a1c" opacity="0.4"/>
<circle cx="207.59" cy="52.66" r="0.6" fill="#2fd12f" opacity="0.15"/>
<circle cx="235.72" cy="75.86" r="0.6" fill="#e07a1c" opacity="0.2"/>
<circle cx="178.65" cy="62.21" r="0.35" fill="#e02626" opacity="0.4"/>
<circle cx="235.3" cy="73.28" r="0.3" fill="#e02626" opacity="0.3"/>
<circle cx="203.18" cy="33.83" r="0.45" fill="#d6c22a" opacity="0.25"/>
<circle cx="223.69" cy="76.21" r="0.45" fill="#c8a020" opacity="0.15"/>
<circle cx="249.67" cy="66.56" r="0.6" fill="#2fd12f" opacity="0.55"/>
<circle cx="253.04" cy="67.81" r="0.3" fill="#c8a020" opacity="0.3"/>
<circle cx="221.56" cy="68.94" r="0.3" fill="#2fd12f" opacity="0.2"/>
<circle cx="202.06" cy="63.53" r="0.45" fill="#c8a020" opacity="0.2"/>
<circle cx="208.9" cy="71.45" r="0.45" fill="#e02626" opacity="0.15"/>
<circle cx="265.87" cy="84.18" r="0.4" fill="#e07a1c" opacity="0.55"/>
<circle cx="189.02" cy="74.7" r="0.35" fill="#d6c22a" opacity="0.2"/>
<circle cx="188.31" cy="45.91" r="0.3" fill="#c8a020" opacity="0.4"/>
<circle cx="215.29" cy="65.31" r="0.4" fill="#e02626" opacity="0.12"/>
<circle cx="206.27" cy="59.61" r="0.3" fill="#2fd12f" opacity="0.2"/>
<circle cx="250.97" cy="51.02" r="0.4" fill="#d6c22a" opacity="0.3"/>
<circle cx="191.44" cy="82.65" r="0.4" fill="#e02626" opacity="0.3"/>
<circle cx="217.29" cy="64.3" r="0.3" fill="#e02626" opacity="0.2"/>
<circle cx="216.43" cy="68.68" r="0.4" fill="#d6c22a" opacity="0.4"/>
<circle cx="197.17" cy="64.28" r="0.6" fill="#e07a1c" opacity="0.15"/>
<circle cx="203.38" cy="89.14" r="0.3" fill="#c8a020" opacity="0.55"/>
<circle cx="215.01" cy="78.19" r="0.35" fill="#2fd12f" opacity="0.12"/>
<circle cx="237.59" cy="86.88" r="0.3" fill="#2fd12f" opacity="0.3"/>
<circle cx="224.93" cy="48.84" r="0.3" fill="#e07a1c" opacity="0.2"/>
<circle cx="223.09" cy="82.35" r="0.3" fill="#c8a020" opacity="0.3"/>
<circle cx="215.3" cy="39.01" r="0.6" fill="#e07a1c" opacity="0.2"/>
<circle cx="245.56" cy="66.23" r="0.45" fill="#e07a1c" opacity="0.25"/>
<circle cx="218.54" cy="44.82" r="0.45" fill="#2fd12f" opacity="0.3"/>
<circle cx="242.71" cy="79.14" r="0.35" fill="#e02626" opacity="0.25"/>
<circle cx="240.3" cy="79.59" r="0.45" fill="#d6c22a" opacity="0.3"/>
<circle cx="216.56" cy="61.09" r="0.3" fill="#d6c22a" opacity="0.55"/>
<circle cx="178.85" cy="86.13" r="0.35" fill="#e02626" opacity="0.2"/>
<circle cx="204.5" cy="47.39" r="0.4" fill="#d6c22a" opacity="0.12"/>
<circle cx="213.19" cy="56.64" r="0.35" fill="#e07a1c" opacity="0.15"/>
<circle cx="254.8" cy="89.34" r="0.6" fill="#e02626" opacity="0.12"/>
<circle cx="200.27" cy="57.36" r="0.3" fill="#d6c22a" opacity="0.55"/>
<circle cx="222.16" cy="68.41" r="0.45" fill="#e02626" opacity="0.25"/>
<circle cx="214.89" cy="56.15" r="0.6" fill="#e07a1c" opacity="0.4"/>
<circle cx="158.55" cy="78.23" r="0.3" fill="#d6c22a" opacity="0.12"/>
<circle cx="221.84" cy="53.78" r="0.4" fill="#2fd12f" opacity="0.55"/>
<circle cx="231.25" cy="38.54" r="0.3" fill="#c8a020" opacity="0.4"/>
<circle cx="203.62" cy="90.4" r="0.6" fill="#c8a020" opacity="0.9"/>
<circle cx="211.75" cy="58.28" r="0.3" fill="#c8a020" opacity="0.9"/>
<circle cx="148.71" cy="73.77" r="0.35" fill="#c8a020" opacity="0.2"/>
<circle cx="249.16" cy="63.32" r="0.35" fill="#c8a020" opacity="0.25"/>
<circle cx="210.58" cy="61.24" r="0.6" fill="#e07a1c" opacity="0.9"/>
<circle cx="219.78" cy="85.43" r="0.3" fill="#e07a1c" opacity="0.4"/>
<circle cx="241.48" cy="84.89" r="0.45" fill="#c8a020" opacity="0.25"/>
<circle cx="229.48" cy="50.06" r="0.6" fill="#e02626" opacity="0.2"/>
<circle cx="182.01" cy="73.58" r="0.3" fill="#e02626" opacity="0.3"/>
<circle cx="211.87" cy="67.78" r="0.35" fill="#d6c22a" opacity="0.25"/>
<circle cx="191.53" cy="73.99" r="0.3" fill="#d6c22a" opacity="0.15"/>
<circle cx="158.13" cy="75.64" r="0.3" fill="#e07a1c" opacity="0.4"/>
<circle cx="223.79" cy="30.35" r="0.4" fill="#e07a1c" opacity="0.9"/>
<circle cx="215.66" cy="66.88" r="0.6" fill="#2fd12f" opacity="0.3"/>
<circle cx="247.78" cy="58.77" r="0.6" fill="#d6c22a" opacity="0.25"/>
<circle cx="218.32" cy="64.01" r="0.3" fill="#e07a1c" opacity="0.3"/>
<circle cx="244.5" cy="63.07" r="0.3" fill="#e02626" opacity="0.3"/>
<circle cx="188.63" cy="49.34" r="0.35" fill="#c8a020" opacity="0.3"/>
<circle cx="245.91" cy="72.37" r="0.3" fill="#e07a1c" opacity="0.25"/>
<circle cx="205.52" cy="67.43" r="0.45" fill="#d6c22a" opacity="0.15"/>
<circle cx="220.09" cy="75.5" r="0.3" fill="#e07a1c" opacity="0.12"/>
<circle cx="211.63" cy="38.36" r="0.3" fill="#d6c22a" opacity="0.12"/>
<circle cx="265.91" cy="79.92" r="0.3" fill="#e07a1c" opacity="0.3"/>
<circle cx="250.98" cy="75.45" r="0.3" fill="#d6c22a" opacity="0.9"/>
<circle cx="231.58" cy="64.85" r="0.4" fill="#e02626" opacity="0.3"/>
<circle cx="229.41" cy="46.19" r="0.3" fill="#c8a020" opacity="0.9"/>
<circle cx="207.48" cy="82.31" r="0.6" fill="#c8a020" opacity="0.2"/>
<circle cx="151.07" cy="71.85" r="0.6" fill="#c8a020" opacity="0.3"/>
<circle cx="199.84" cy="74.24" r="0.35" fill="#e02626" opacity="0.4"/>
<circle cx="189.9" cy="45.71" r="0.6" fill="#e02626" opacity="0.9"/>
<circle cx="235.86" cy="83.14" r="0.45" fill="#c8a020" opacity="0.55"/>
<circle cx="219.86" cy="83.56" r="0.3" fill="#d6c22a" opacity="0.25"/>
<circle cx="239.76" cy="55.35" r="0.3" fill="#2fd12f" opacity="0.3"/>
<circle cx="230.93" cy="88.04" r="0.3" fill="#e07a1c" opacity="0.9"/>
<circle cx="208.73" cy="64.16" r="0.45" fill="#c8a020" opacity="0.15"/>
<circle cx="240.52" cy="80.9" r="0.45" fill="#e02626" opacity="0.15"/>
<circle cx="244.06" cy="62.95" r="0.6" fill="#e07a1c" opacity="0.55"/>
<circle cx="232.46" cy="65.44" r="0.3" fill="#e07a1c" opacity="0.2"/>
<circle cx="201.96" cy="57.03" r="0.35" fill="#2fd12f" opacity="0.12"/>
<circle cx="205.76" cy="61.6" r="0.3" fill="#d6c22a" opacity="0.2"/>
<circle cx="241.85" cy="53.94" r="0.45" fill="#e02626" opacity="0.15"/>
<circle cx="191.7" cy="78.22" r="0.35" fill="#2fd12f" opacity="0.15"/>
<circle cx="191.66" cy="65.89" r="0.6" fill="#d6c22a" opacity="0.9"/>
<circle cx="210.39" cy="63.23" r="0.35" fill="#c8a020" opacity="0.15"/>
<circle cx="232.25" cy="61.42" r="0.3" fill="#d6c22a" opacity="0.9"/>
<circle cx="242.03" cy="66.26" r="0.4" fill="#2fd12f" opacity="0.15"/>
<circle cx="217.74" cy="75.95" r="0.6" fill="#d6c22a" opacity="0.55"/>
<circle cx="227.35" cy="40.69" r="0.4" fill="#d6c22a" opacity="0.12"/>
<circle cx="243.81" cy="66.8" r="0.3" fill="#e07a1c" opacity="0.12"/>
<circle cx="195.39" cy="52.59" r="0.4" fill="#c8a020" opacity="0.9"/>
<circle cx="242.46" cy="55.19" r="0.45" fill="#e02626" opacity="0.15"/>
<circle cx="199.7" cy="65.11" r="0.45" fill="#e02626" opacity="0.12"/>
<circle cx="233.33" cy="45.47" r="0.45" fill="#d6c22a" opacity="0.9"/>
<circle cx="216.94" cy="68.71" r="0.4" fill="#c8a020" opacity="0.4"/>
<circle cx="194.28" cy="49.69" r="0.35" fill="#e02626" opacity="0.55"/>
<circle cx="201.25" cy="67.4" r="0.45" fill="#c8a020" opacity="0.2"/>
<circle cx="268.37" cy="79" r="0.6" fill="#c8a020" opacity="0.15"/>
<circle cx="221.42" cy="42.88" r="0.6" fill="#c8a020" opacity="0.25"/>
<circle cx="197.08" cy="62.6" r="0.6" fill="#2fd12f" opacity="0.4"/>
<circle cx="247.01" cy="49.91" r="0.35" fill="#c8a020" opacity="0.25"/>
<circle cx="243.53" cy="53" r="0.4" fill="#e07a1c" opacity="0.55"/>
<circle cx="214.07" cy="76.03" r="0.3" fill="#2fd12f" opacity="0.3"/>
<circle cx="178.81" cy="64.21" r="0.3" fill="#d6c22a" opacity="0.25"/>
<circle cx="230.5" cy="71.94" r="0.35" fill="#c8a020" opacity="0.9"/>
<circle cx="221.96" cy="51.73" r="0.4" fill="#2fd12f" opacity="0.4"/>
<circle cx="227.29" cy="77.58" r="0.3" fill="#2fd12f" opacity="0.12"/>
<circle cx="227.58" cy="86.8" r="0.6" fill="#c8a020" opacity="0.15"/>
<circle cx="212.69" cy="29.06" r="0.3" fill="#c8a020" opacity="0.15"/>
<circle cx="230.06" cy="49.45" r="0.3" fill="#e02626" opacity="0.25"/>
<circle cx="216.01" cy="65.36" r="0.3" fill="#d6c22a" opacity="0.25"/>
<circle cx="221.88" cy="64.8" r="0.4" fill="#e07a1c" opacity="0.4"/>
<circle cx="244.04" cy="47.14" r="0.6" fill="#2fd12f" opacity="0.4"/>
<circle cx="207.59" cy="56.68" r="0.45" fill="#e07a1c" opacity="0.4"/>
<circle cx="233.42" cy="68.6" r="0.3" fill="#c8a020" opacity="0.4"/>
<circle cx="203.51" cy="61.78" r="0.45" fill="#c8a020" opacity="0.2"/>
<circle cx="202.56" cy="59.39" r="0.35" fill="#c8a020" opacity="0.9"/>
<circle cx="254.45" cy="45.01" r="0.6" fill="#c8a020" opacity="0.9"/>
<circle cx="201" cy="81.49" r="0.3" fill="#d6c22a" opacity="0.3"/>
<circle cx="186.66" cy="70.72" r="0.3" fill="#d6c22a" opacity="0.25"/>
<circle cx="238.21" cy="80.44" r="0.45" fill="#e02626" opacity="0.2"/>
<circle cx="190.11" cy="52.23" r="0.6" fill="#e02626" opacity="0.2"/>
<circle cx="197.92" cy="86.41" r="0.4" fill="#e07a1c" opacity="0.25"/>
<circle cx="196.35" cy="89.75" r="0.3" fill="#e07a1c" opacity="0.4"/>
<circle cx="146.22" cy="70.65" r="0.3" fill="#2fd12f" opacity="0.55"/>
<circle cx="209.04" cy="76.11" r="0.4" fill="#e07a1c" opacity="0.55"/>
<circle cx="232.96" cy="38.78" r="0.3" fill="#d6c22a" opacity="0.3"/>
<circle cx="177.32" cy="48.3" r="0.4" fill="#d6c22a" opacity="0.3"/>
<circle cx="233.76" cy="67.03" r="0.3" fill="#c8a020" opacity="0.9"/>
<circle cx="172.27" cy="70.26" r="0.35" fill="#e02626" opacity="0.9"/>
<circle cx="254.77" cy="75.82" r="0.3" fill="#d6c22a" opacity="0.9"/>
<circle cx="228.97" cy="68.52" r="0.3" fill="#2fd12f" opacity="0.3"/>
<circle cx="217.53" cy="60.63" r="0.4" fill="#e02626" opacity="0.55"/>
<circle cx="243.75" cy="71.59" r="0.45" fill="#e02626" opacity="0.55"/>
<circle cx="217.47" cy="62.72" r="0.3" fill="#d6c22a" opacity="0.15"/>
<circle cx="206.55" cy="68.04" r="0.3" fill="#e07a1c" opacity="0.2"/>
<circle cx="188.24" cy="62.06" r="0.45" fill="#c8a020" opacity="0.15"/>
<circle cx="260.76" cy="61.98" r="0.6" fill="#e02626" opacity="0.15"/>
<circle cx="226.02" cy="77.95" r="0.3" fill="#2fd12f" opacity="0.25"/>
<circle cx="194.89" cy="77.84" r="0.35" fill="#d6c22a" opacity="0.12"/>
<circle cx="241.78" cy="71.64" r="0.45" fill="#d6c22a" opacity="0.4"/>
<circle cx="262.91" cy="64.02" r="0.4" fill="#d6c22a" opacity="0.55"/>
<circle cx="166.75" cy="87" r="0.4" fill="#e07a1c" opacity="0.55"/>
<circle cx="272.09" cy="68.82" r="0.45" fill="#e02626" opacity="0.3"/>
<circle cx="252.55" cy="72.4" r="0.6" fill="#e07a1c" opacity="0.4"/>
<circle cx="187.84" cy="75.28" r="0.45" fill="#e07a1c" opacity="0.12"/>
<circle cx="203.48" cy="53.88" r="0.45" fill="#d6c22a" opacity="0.55"/>
<circle cx="193.48" cy="49.42" r="0.35" fill="#e07a1c" opacity="0.15"/>
<circle cx="188.51" cy="64.01" r="0.3" fill="#d6c22a" opacity="0.25"/>
<circle cx="252.92" cy="41.57" r="0.6" fill="#e07a1c" opacity="0.4"/>
<circle cx="203.01" cy="68.95" r="0.3" fill="#e02626" opacity="0.4"/>
<circle cx="178.69" cy="62.68" r="0.6" fill="#e02626" opacity="0.2"/>
<circle cx="211.16" cy="59.42" r="0.35" fill="#2fd12f" opacity="0.55"/>
<circle cx="233.63" cy="55.42" r="0.3" fill="#e07a1c" opacity="0.3"/>
<circle cx="196.98" cy="84.02" r="0.45" fill="#c8a020" opacity="0.3"/>
<circle cx="237.19" cy="75.3" r="0.6" fill="#e07a1c" opacity="0.15"/>
<circle cx="179.4" cy="71.04" r="0.3" fill="#c8a020" opacity="0.12"/>
<circle cx="200.51" cy="80.9" r="0.45" fill="#e02626" opacity="0.4"/>
<circle cx="223.75" cy="56.54" r="0.3" fill="#c8a020" opacity="0.12"/>
<circle cx="231.3" cy="70.74" r="0.35" fill="#c8a020" opacity="0.4"/>
<circle cx="216.12" cy="83.43" r="0.6" fill="#c8a020" opacity="0.9"/>
<circle cx="171.52" cy="53.33" r="0.45" fill="#d6c22a" opacity="0.4"/>
<circle cx="245.99" cy="49.87" r="0.6" fill="#2fd12f" opacity="0.3"/>
<circle cx="204.63" cy="66.8" r="0.35" fill="#d6c22a" opacity="0.25"/>
<circle cx="174.35" cy="51.2" r="0.6" fill="#e02626" opacity="0.4"/>
<circle cx="197.68" cy="72.43" r="0.4" fill="#e07a1c" opacity="0.12"/>
<circle cx="170.99" cy="53.78" r="0.4" fill="#e07a1c" opacity="0.9"/>
<circle cx="238.72" cy="73.41" r="0.45" fill="#e02626" opacity="0.12"/>
<circle cx="217.06" cy="52.22" r="0.6" fill="#2fd12f" opacity="0.3"/>
<circle cx="222.95" cy="41.88" r="0.3" fill="#2fd12f" opacity="0.25"/>
<circle cx="227.27" cy="58.87" r="0.3" fill="#e07a1c" opacity="0.25"/>
<circle cx="212.12" cy="26.4" r="0.45" fill="#e07a1c" opacity="0.2"/>
<circle cx="260.35" cy="86.14" r="0.35" fill="#e02626" opacity="0.4"/>
<circle cx="232.43" cy="66.33" r="0.35" fill="#c8a020" opacity="0.3"/>
<circle cx="194.2" cy="82.18" r="0.45" fill="#d6c22a" opacity="0.55"/>
<circle cx="212.15" cy="69.74" r="0.3" fill="#d6c22a" opacity="0.55"/>
<circle cx="244.25" cy="73.38" r="0.4" fill="#d6c22a" opacity="0.9"/>
<circle cx="185.22" cy="73.75" r="0.6" fill="#2fd12f" opacity="0.4"/>
<circle cx="267.69" cy="82.61" r="0.3" fill="#d6c22a" opacity="0.3"/>
<circle cx="204.74" cy="71.15" r="0.45" fill="#e02626" opacity="0.9"/>
<circle cx="216.34" cy="57.37" r="0.3" fill="#e02626" opacity="0.2"/>
<circle cx="213.93" cy="63.75" r="0.45" fill="#2fd12f" opacity="0.9"/>
<circle cx="243.34" cy="58.38" r="0.4" fill="#e02626" opacity="0.25"/>
<circle cx="210.05" cy="56.23" r="0.45" fill="#e02626" opacity="0.2"/>
<circle cx="231.43" cy="62.36" r="0.4" fill="#2fd12f" opacity="0.15"/>
<circle cx="224.33" cy="70.02" r="0.6" fill="#e02626" opacity="0.3"/>
<circle cx="206.28" cy="53.44" r="0.6" fill="#2fd12f" opacity="0.2"/>
<circle cx="227.85" cy="56.68" r="0.45" fill="#e02626" opacity="0.4"/>
<circle cx="246.28" cy="45.03" r="0.35" fill="#d6c22a" opacity="0.25"/>
<circle cx="239.45" cy="70.41" r="0.3" fill="#d6c22a" opacity="0.15"/>
<circle cx="226.72" cy="75.1" r="0.6" fill="#d6c22a" opacity="0.55"/>
<circle cx="223.72" cy="60.66" r="0.6" fill="#e02626" opacity="0.15"/>
<circle cx="197.24" cy="87.8" r="0.3" fill="#e07a1c" opacity="0.25"/>
<circle cx="237.89" cy="52.13" r="0.3" fill="#c8a020" opacity="0.25"/>
<circle cx="248.62" cy="59.89" r="0.3" fill="#2fd12f" opacity="0.4"/>
<circle cx="198.87" cy="68.99" r="0.3" fill="#d6c22a" opacity="0.15"/>
<circle cx="241.38" cy="78.14" r="0.45" fill="#e02626" opacity="0.55"/>
<circle cx="244.21" cy="71.19" r="0.4" fill="#2fd12f" opacity="0.2"/>
<circle cx="222.96" cy="62.3" r="0.35" fill="#e02626" opacity="0.2"/>
<circle cx="220.25" cy="68.2" r="0.35" fill="#e07a1c" opacity="0.2"/>
<circle cx="231.14" cy="74.27" r="0.4" fill="#e02626" opacity="0.3"/>
<circle cx="236.67" cy="78.75" r="0.45" fill="#e02626" opacity="0.12"/>
<circle cx="208.61" cy="74.79" r="0.45" fill="#e07a1c" opacity="0.25"/>
<circle cx="273.57" cy="75.51" r="0.45" fill="#c8a020" opacity="0.25"/>
<circle cx="225.69" cy="48.55" r="0.3" fill="#e02626" opacity="0.2"/>
<circle cx="217.91" cy="71.14" r="0.45" fill="#e07a1c" opacity="0.15"/>
<circle cx="225.53" cy="63.4" r="0.3" fill="#c8a020" opacity="0.25"/>
<circle cx="222.52" cy="49.63" r="0.3" fill="#2fd12f" opacity="0.15"/>
<circle cx="224.75" cy="66.93" r="0.6" fill="#c8a020" opacity="0.2"/>
<circle cx="191.8" cy="81.65" r="0.45" fill="#e07a1c" opacity="0.2"/>
<circle cx="239.5" cy="61.74" r="0.3" fill="#e07a1c" opacity="0.15"/>
<circle cx="163.78" cy="59.78" r="0.3" fill="#e02626" opacity="0.4"/>
<circle cx="216.29" cy="62.01" r="0.4" fill="#2fd12f" opacity="0.12"/>
<circle cx="227.19" cy="35.18" r="0.6" fill="#c8a020" opacity="0.15"/>
<circle cx="188.35" cy="46.87" r="0.3" fill="#e07a1c" opacity="0.4"/>
<circle cx="226.83" cy="50.9" r="0.3" fill="#e07a1c" opacity="0.3"/>
<circle cx="277.72" cy="88.54" r="0.6" fill="#e07a1c" opacity="0.2"/>
<circle cx="235.93" cy="44" r="0.35" fill="#c8a020" opacity="0.15"/>
<circle cx="226.59" cy="40.98" r="0.3" fill="#e02626" opacity="0.25"/>
<circle cx="176.65" cy="55.8" r="0.6" fill="#c8a020" opacity="0.12"/>
<circle cx="226.65" cy="41.35" r="0.4" fill="#d6c22a" opacity="0.55"/>
<circle cx="175.37" cy="71.52" r="0.6" fill="#d6c22a" opacity="0.55"/>
<circle cx="249.31" cy="84.97" r="0.4" fill="#e07a1c" opacity="0.3"/>
<circle cx="210.6" cy="76.34" r="0.4" fill="#d6c22a" opacity="0.9"/>
<circle cx="215.93" cy="73.61" r="0.3" fill="#d6c22a" opacity="0.9"/>
<circle cx="202.5" cy="64.75" r="0.6" fill="#e02626" opacity="0.12"/>
<circle cx="235.8" cy="58.38" r="0.3" fill="#d6c22a" opacity="0.4"/>
<circle cx="194.29" cy="89.56" r="0.35" fill="#e07a1c" opacity="0.9"/>
<circle cx="246.12" cy="48.78" r="0.3" fill="#c8a020" opacity="0.2"/>
<circle cx="261.45" cy="69.07" r="0.3" fill="#2fd12f" opacity="0.9"/>
<circle cx="198.6" cy="46.95" r="0.45" fill="#2fd12f" opacity="0.55"/>
<circle cx="218.75" cy="55.94" r="0.3" fill="#e07a1c" opacity="0.4"/>
<circle cx="238.52" cy="63.68" r="0.45" fill="#e07a1c" opacity="0.12"/>
<circle cx="214.33" cy="48.99" r="0.3" fill="#2fd12f" opacity="0.15"/>
<circle cx="183.67" cy="75.47" r="0.6" fill="#e02626" opacity="0.9"/>
<circle cx="212.97" cy="74.65" r="0.3" fill="#d6c22a" opacity="0.25"/>
<circle cx="212.37" cy="65.25" r="0.3" fill="#e07a1c" opacity="0.3"/>
<circle cx="196.91" cy="62.82" r="0.6" fill="#2fd12f" opacity="0.55"/>
<circle cx="238.93" cy="65.15" r="0.35" fill="#d6c22a" opacity="0.2"/>
<circle cx="213.99" cy="25.93" r="0.35" fill="#c8a020" opacity="0.2"/>
<circle cx="221.17" cy="62.39" r="0.6" fill="#d6c22a" opacity="0.2"/>
<circle cx="242.87" cy="56.45" r="0.35" fill="#e07a1c" opacity="0.2"/>
<circle cx="237.76" cy="56.65" r="0.35" fill="#c8a020" opacity="0.9"/>
<circle cx="209.71" cy="54.48" r="0.4" fill="#d6c22a" opacity="0.9"/>
<circle cx="234.7" cy="49.16" r="0.3" fill="#d6c22a" opacity="0.2"/>
<circle cx="186.83" cy="62.49" r="0.3" fill="#e07a1c" opacity="0.3"/>
<circle cx="213.9" cy="52.67" r="0.6" fill="#d6c22a" opacity="0.15"/>
<circle cx="219.26" cy="63.08" r="0.35" fill="#c8a020" opacity="0.4"/>
<circle cx="238.11" cy="42.33" r="0.35" fill="#2fd12f" opacity="0.2"/>
<circle cx="248.93" cy="63.06" r="0.4" fill="#2fd12f" opacity="0.55"/>
<circle cx="256.44" cy="83.75" r="0.4" fill="#e07a1c" opacity="0.9"/>
<circle cx="192.9" cy="35.98" r="0.45" fill="#e02626" opacity="0.55"/>
<circle cx="228" cy="62.74" r="0.6" fill="#d6c22a" opacity="0.15"/>
<circle cx="220.52" cy="83.3" r="0.45" fill="#e02626" opacity="0.3"/>
<circle cx="240.53" cy="84.75" r="0.3" fill="#e02626" opacity="0.25"/>
<circle cx="219.07" cy="49.73" r="0.3" fill="#d6c22a" opacity="0.55"/>
<circle cx="161.36" cy="73.87" r="0.45" fill="#e07a1c" opacity="0.3"/>
<circle cx="253.81" cy="66.61" r="0.35" fill="#c8a020" opacity="0.25"/>
<circle cx="187.06" cy="48.7" r="0.3" fill="#c8a020" opacity="0.4"/>
<circle cx="207.25" cy="66.57" r="0.3" fill="#d6c22a" opacity="0.12"/>
<circle cx="220.5" cy="51.14" r="0.3" fill="#c8a020" opacity="0.9"/>
<circle cx="213.75" cy="65.23" r="0.4" fill="#c8a020" opacity="0.15"/>
<circle cx="219.03" cy="39.23" r="0.3" fill="#c8a020" opacity="0.3"/>
<circle cx="259.18" cy="61.66" r="0.3" fill="#2fd12f" opacity="0.2"/>
<circle cx="195.3" cy="66.94" r="0.6" fill="#2fd12f" opacity="0.3"/>
<circle cx="226.86" cy="51.65" r="0.45" fill="#c8a020" opacity="0.55"/>
<circle cx="186.45" cy="73.88" r="0.4" fill="#c8a020" opacity="0.25"/>
<circle cx="226.64" cy="81.56" r="0.3" fill="#d6c22a" opacity="0.15"/>
<circle cx="216.94" cy="54.46" r="0.6" fill="#e02626" opacity="0.25"/>
<circle cx="171.45" cy="77.63" r="0.6" fill="#d6c22a" opacity="0.12"/>
<circle cx="246.73" cy="75" r="0.35" fill="#2fd12f" opacity="0.25"/>
<circle cx="234.52" cy="48.94" r="0.35" fill="#c8a020" opacity="0.4"/>
<circle cx="200.83" cy="62.18" r="0.35" fill="#d6c22a" opacity="0.15"/>
<circle cx="227.74" cy="79.93" r="0.6" fill="#2fd12f" opacity="0.9"/>
<circle cx="191.92" cy="85.13" r="0.4" fill="#d6c22a" opacity="0.9"/>
<circle cx="274.05" cy="80.5" r="0.3" fill="#e07a1c" opacity="0.15"/>
<circle cx="218.23" cy="82.29" r="0.35" fill="#d6c22a" opacity="0.12"/>
<circle cx="217.34" cy="79.01" r="0.3" fill="#e07a1c" opacity="0.55"/>
<circle cx="233.62" cy="68.24" r="0.45" fill="#c8a020" opacity="0.55"/>
<circle cx="221.22" cy="57.45" r="0.45" fill="#c8a020" opacity="0.15"/>
<circle cx="191.27" cy="63.31" r="0.4" fill="#e07a1c" opacity="0.25"/>
<circle cx="224.21" cy="80.87" r="0.3" fill="#2fd12f" opacity="0.2"/>
<circle cx="205.94" cy="64.22" r="0.3" fill="#e07a1c" opacity="0.12"/>
<circle cx="166.8" cy="70.05" r="0.6" fill="#e02626" opacity="0.9"/>
<circle cx="206.43" cy="68.87" r="0.45" fill="#e07a1c" opacity="0.55"/>
<circle cx="188.19" cy="83.95" r="0.6" fill="#e02626" opacity="0.12"/>
<circle cx="230.71" cy="61.92" r="0.3" fill="#2fd12f" opacity="0.9"/>
<circle cx="194.46" cy="36.86" r="0.4" fill="#c8a020" opacity="0.3"/>
<circle cx="193.79" cy="70.83" r="0.6" fill="#2fd12f" opacity="0.15"/>
<circle cx="223" cy="59.03" r="0.35" fill="#c8a020" opacity="0.15"/>
<circle cx="239.18" cy="63.46" r="0.3" fill="#2fd12f" opacity="0.12"/>
<circle cx="229.67" cy="51.43" r="0.45" fill="#c8a020" opacity="0.15"/>
<circle cx="237.91" cy="67.36" r="0.4" fill="#e07a1c" opacity="0.12"/>
<circle cx="222.05" cy="76.74" r="0.4" fill="#c8a020" opacity="0.25"/>
<circle cx="209.59" cy="59.13" r="0.3" fill="#e07a1c" opacity="0.15"/>
<circle cx="212.53" cy="72.73" r="0.3" fill="#e02626" opacity="0.15"/>
<circle cx="207.88" cy="48.44" r="0.4" fill="#c8a020" opacity="0.9"/>
<circle cx="220.38" cy="42.39" r="0.3" fill="#2fd12f" opacity="0.12"/>
<circle cx="146.82" cy="72.17" r="0.3" fill="#e07a1c" opacity="0.2"/>
<circle cx="213.85" cy="78.5" r="0.35" fill="#e02626" opacity="0.3"/>
<circle cx="188.1" cy="70.9" r="0.35" fill="#d6c22a" opacity="0.25"/>
<circle cx="198.88" cy="64.18" r="0.35" fill="#c8a020" opacity="0.4"/>
<circle cx="220.54" cy="56.42" r="0.3" fill="#d6c22a" opacity="0.2"/>
<circle cx="227.11" cy="55.82" r="0.35" fill="#d6c22a" opacity="0.15"/>
<circle cx="231.14" cy="65.5" r="0.3" fill="#c8a020" opacity="0.25"/>
<circle cx="201.24" cy="89.2" r="0.6" fill="#2fd12f" opacity="0.25"/>
<circle cx="219.86" cy="36.18" r="0.4" fill="#d6c22a" opacity="0.15"/>
<circle cx="167.85" cy="54.42" r="0.6" fill="#e02626" opacity="0.3"/>
<circle cx="212.95" cy="57.82" r="0.45" fill="#d6c22a" opacity="0.2"/>
<circle cx="190.71" cy="54.07" r="0.3" fill="#d6c22a" opacity="0.15"/>
<circle cx="219.75" cy="27.77" r="0.3" fill="#2fd12f" opacity="0.15"/>
<circle cx="236.03" cy="59.7" r="0.4" fill="#d6c22a" opacity="0.2"/>
<circle cx="179.21" cy="51.26" r="0.4" fill="#e02626" opacity="0.15"/>
<circle cx="208.92" cy="45.99" r="0.3" fill="#e02626" opacity="0.55"/>
<circle cx="175.07" cy="84.9" r="0.6" fill="#d6c22a" opacity="0.4"/>
<circle cx="232.65" cy="68" r="0.3" fill="#2fd12f" opacity="0.3"/>
<circle cx="223.57" cy="74.97" r="0.3" fill="#2fd12f" opacity="0.55"/>
<circle cx="243.09" cy="77.93" r="0.3" fill="#2fd12f" opacity="0.3"/>
<circle cx="225.38" cy="61.07" r="0.35" fill="#d6c22a" opacity="0.2"/>
<circle cx="222.36" cy="56.3" r="0.3" fill="#d6c22a" opacity="0.15"/>
<circle cx="246.64" cy="50.77" r="0.3" fill="#d6c22a" opacity="0.9"/>
<circle cx="228.47" cy="67.73" r="0.35" fill="#e07a1c" opacity="0.25"/>
<circle cx="193.34" cy="70.37" r="0.4" fill="#2fd12f" opacity="0.9"/>
<circle cx="236.97" cy="78.96" r="0.3" fill="#e02626" opacity="0.55"/>
<circle cx="224.47" cy="71.21" r="0.4" fill="#d6c22a" opacity="0.9"/>
<circle cx="214.41" cy="71.78" r="0.3" fill="#c8a020" opacity="0.9"/>
<circle cx="223.68" cy="86.01" r="0.3" fill="#e07a1c" opacity="0.12"/>
<circle cx="218.19" cy="39.92" r="0.45" fill="#e02626" opacity="0.4"/>
<circle cx="233.37" cy="73.27" r="0.6" fill="#e07a1c" opacity="0.2"/>
<circle cx="199.99" cy="71.22" r="0.35" fill="#e02626" opacity="0.4"/>
<circle cx="211.2" cy="51.09" r="0.3" fill="#d6c22a" opacity="0.12"/>
<circle cx="236.31" cy="37.41" r="0.6" fill="#e07a1c" opacity="0.12"/>
<circle cx="220.98" cy="84.95" r="0.3" fill="#c8a020" opacity="0.4"/>
<circle cx="235.95" cy="33.24" r="0.35" fill="#2fd12f" opacity="0.2"/>
<circle cx="242.65" cy="69.03" r="0.4" fill="#2fd12f" opacity="0.25"/>
<circle cx="186.36" cy="45.36" r="0.3" fill="#e02626" opacity="0.55"/>
<circle cx="228.96" cy="79.6" r="0.3" fill="#e07a1c" opacity="0.15"/>
<circle cx="164.99" cy="64.73" r="0.6" fill="#e07a1c" opacity="0.25"/>
<circle cx="242.7" cy="67.36" r="0.35" fill="#e02626" opacity="0.12"/>
<circle cx="200.33" cy="85.98" r="0.45" fill="#2fd12f" opacity="0.4"/>
<circle cx="176.83" cy="83.58" r="0.45" fill="#e02626" opacity="0.3"/>
<circle cx="191.02" cy="70.35" r="0.3" fill="#e07a1c" opacity="0.3"/>
<circle cx="259" cy="93.57" r="0.3" fill="#e02626" opacity="0.2"/>
<circle cx="224.1" cy="64.04" r="0.4" fill="#e02626" opacity="0.2"/>
<circle cx="221.82" cy="107.28" r="0.45" fill="#d6c22a" opacity="0.25"/>
<circle cx="244.05" cy="110.42" r="0.3" fill="#e07a1c" opacity="0.12"/>
<circle cx="229.79" cy="95.73" r="0.3" fill="#d6c22a" opacity="0.3"/>
<circle cx="161.5" cy="98.37" r="0.45" fill="#2fd12f" opacity="0.55"/>
<circle cx="228.22" cy="145.91" r="0.45" fill="#c8a020" opacity="0.15"/>
<circle cx="178.35" cy="131.35" r="0.45" fill="#d6c22a" opacity="0.25"/>
<circle cx="191.33" cy="125.02" r="0.3" fill="#e07a1c" opacity="0.3"/>
<circle cx="220.36" cy="110.34" r="0.45" fill="#2fd12f" opacity="0.9"/>
<circle cx="185.46" cy="152.72" r="0.4" fill="#e02626" opacity="0.4"/>
<circle cx="167.59" cy="125.35" r="0.45" fill="#e02626" opacity="0.55"/>
<circle cx="229.71" cy="149.85" r="0.6" fill="#d6c22a" opacity="0.4"/>
<circle cx="184.45" cy="131.81" r="0.6" fill="#e02626" opacity="0.25"/>
<circle cx="154.94" cy="132.66" r="0.45" fill="#e07a1c" opacity="0.55"/>
<circle cx="181.63" cy="134.44" r="0.45" fill="#d6c22a" opacity="0.4"/>
<circle cx="206.41" cy="118.28" r="0.6" fill="#e07a1c" opacity="0.12"/>
<circle cx="209.67" cy="116.57" r="0.6" fill="#2fd12f" opacity="0.3"/>
<circle cx="210.8" cy="144.17" r="0.3" fill="#c8a020" opacity="0.4"/>
<circle cx="174.77" cy="109.21" r="0.45" fill="#2fd12f" opacity="0.9"/>
<circle cx="235.41" cy="139.95" r="0.3" fill="#e02626" opacity="0.55"/>
<circle cx="171.77" cy="92.07" r="0.3" fill="#2fd12f" opacity="0.15"/>
<circle cx="221.3" cy="131.57" r="0.6" fill="#d6c22a" opacity="0.25"/>
<circle cx="244.11" cy="154.34" r="0.3" fill="#e02626" opacity="0.9"/>
<circle cx="186.26" cy="129.46" r="0.6" fill="#e07a1c" opacity="0.9"/>
<circle cx="204.62" cy="136.7" r="0.6" fill="#2fd12f" opacity="0.3"/>
<circle cx="218.67" cy="121.43" r="0.4" fill="#c8a020" opacity="0.2"/>
<circle cx="230.84" cy="123" r="0.3" fill="#2fd12f" opacity="0.55"/>
<circle cx="202.13" cy="120.7" r="0.4" fill="#2fd12f" opacity="0.15"/>
<circle cx="227.93" cy="153.09" r="0.4" fill="#e07a1c" opacity="0.25"/>
<circle cx="216.67" cy="116.19" r="0.3" fill="#e07a1c" opacity="0.12"/>
<circle cx="196.27" cy="127.75" r="0.3" fill="#e07a1c" opacity="0.3"/>
<circle cx="185.83" cy="129.46" r="0.3" fill="#2fd12f" opacity="0.25"/>
<circle cx="166.34" cy="112.44" r="0.45" fill="#e07a1c" opacity="0.25"/>
<circle cx="164.61" cy="114.32" r="0.3" fill="#d6c22a" opacity="0.2"/>
<circle cx="185.93" cy="134.45" r="0.4" fill="#d6c22a" opacity="0.4"/>
<circle cx="192.23" cy="155.59" r="0.3" fill="#d6c22a" opacity="0.3"/>
<circle cx="192.85" cy="130.56" r="0.4" fill="#e02626" opacity="0.12"/>
<circle cx="224.51" cy="143.47" r="0.35" fill="#c8a020" opacity="0.9"/>
<circle cx="207.06" cy="124.28" r="0.45" fill="#2fd12f" opacity="0.55"/>
<circle cx="241.65" cy="142.31" r="0.3" fill="#c8a020" opacity="0.9"/>
<circle cx="171.04" cy="134.73" r="0.45" fill="#d6c22a" opacity="0.9"/>
<circle cx="219.53" cy="114.64" r="0.3" fill="#2fd12f" opacity="0.9"/>
<circle cx="215.79" cy="127.55" r="0.3" fill="#c8a020" opacity="0.15"/>
<circle cx="191.8" cy="122.67" r="0.6" fill="#2fd12f" opacity="0.4"/>
<circle cx="224.3" cy="139" r="0.6" fill="#2fd12f" opacity="0.12"/>
<circle cx="233.05" cy="119.3" r="0.3" fill="#c8a020" opacity="0.15"/>
<circle cx="217.89" cy="112.76" r="0.3" fill="#e07a1c" opacity="0.25"/>
<circle cx="207.58" cy="115.57" r="0.35" fill="#d6c22a" opacity="0.15"/>
<circle cx="191.37" cy="136.54" r="0.35" fill="#2fd12f" opacity="0.55"/>
<circle cx="234.23" cy="125.78" r="0.4" fill="#d6c22a" opacity="0.55"/>
<circle cx="220.51" cy="97.57" r="0.4" fill="#e02626" opacity="0.15"/>
<circle cx="197.18" cy="159.64" r="0.35" fill="#2fd12f" opacity="0.9"/>
<circle cx="216.43" cy="175.71" r="0.35" fill="#c8a020" opacity="0.4"/>
<circle cx="204.74" cy="117.59" r="0.6" fill="#e02626" opacity="0.55"/>
<circle cx="221.37" cy="131.31" r="0.3" fill="#d6c22a" opacity="0.3"/>
<circle cx="228.99" cy="108.71" r="0.35" fill="#d6c22a" opacity="0.3"/>
<circle cx="192.48" cy="142.97" r="0.3" fill="#2fd12f" opacity="0.12"/>
<circle cx="186.36" cy="144.29" r="0.3" fill="#c8a020" opacity="0.12"/>
<circle cx="219.88" cy="155.27" r="0.35" fill="#d6c22a" opacity="0.4"/>
<circle cx="211.69" cy="124.51" r="0.6" fill="#c8a020" opacity="0.4"/>
<circle cx="189.3" cy="154.74" r="0.6" fill="#c8a020" opacity="0.12"/>
<circle cx="192.66" cy="128.22" r="0.6" fill="#e02626" opacity="0.4"/>
<circle cx="215.56" cy="134.25" r="0.3" fill="#2fd12f" opacity="0.25"/>
<circle cx="186.04" cy="119.65" r="0.3" fill="#2fd12f" opacity="0.9"/>
<circle cx="196.02" cy="147.13" r="0.35" fill="#e07a1c" opacity="0.9"/>
<circle cx="181.78" cy="155.01" r="0.45" fill="#d6c22a" opacity="0.15"/>
<circle cx="202.2" cy="132.07" r="0.3" fill="#e02626" opacity="0.25"/>
<circle cx="239.92" cy="154.79" r="0.4" fill="#2fd12f" opacity="0.55"/>
<circle cx="198.66" cy="148.75" r="0.3" fill="#d6c22a" opacity="0.25"/>
<circle cx="239.03" cy="122.58" r="0.4" fill="#e02626" opacity="0.15"/>
<circle cx="164.3" cy="113.45" r="0.45" fill="#d6c22a" opacity="0.2"/>
<circle cx="205.44" cy="129.09" r="0.45" fill="#e02626" opacity="0.55"/>
<circle cx="202.25" cy="159" r="0.3" fill="#e02626" opacity="0.15"/>
<circle cx="231.11" cy="133.9" r="0.45" fill="#e02626" opacity="0.9"/>
<circle cx="202.13" cy="98.86" r="0.3" fill="#e07a1c" opacity="0.55"/>
<circle cx="193.95" cy="112.43" r="0.4" fill="#e02626" opacity="0.25"/>
<circle cx="195.91" cy="132.61" r="0.35" fill="#2fd12f" opacity="0.2"/>
<circle cx="168.03" cy="109.19" r="0.3" fill="#c8a020" opacity="0.25"/>
<circle cx="217.58" cy="125.59" r="0.6" fill="#c8a020" opacity="0.15"/>
<circle cx="218.2" cy="151.19" r="0.4" fill="#d6c22a" opacity="0.12"/>
<circle cx="237.8" cy="137.23" r="0.3" fill="#e07a1c" opacity="0.4"/>
<circle cx="156.2" cy="91.41" r="0.4" fill="#d6c22a" opacity="0.25"/>
<circle cx="187.96" cy="136.36" r="0.4" fill="#e02626" opacity="0.15"/>
<circle cx="195.81" cy="127.17" r="0.3" fill="#d6c22a" opacity="0.55"/>
<circle cx="228.76" cy="125.54" r="0.4" fill="#e02626" opacity="0.2"/>
<circle cx="207.59" cy="145.19" r="0.3" fill="#e07a1c" opacity="0.55"/>
<circle cx="203.41" cy="117.8" r="0.6" fill="#e07a1c" opacity="0.2"/>
<circle cx="219.45" cy="115.01" r="0.6" fill="#2fd12f" opacity="0.9"/>
<circle cx="171.52" cy="106.72" r="0.4" fill="#e07a1c" opacity="0.3"/>
<circle cx="184.42" cy="110.97" r="0.6" fill="#2fd12f" opacity="0.2"/>
<circle cx="195.68" cy="117.7" r="0.45" fill="#d6c22a" opacity="0.25"/>
<circle cx="231.53" cy="124.87" r="0.6" fill="#e07a1c" opacity="0.2"/>
<circle cx="236.7" cy="155.81" r="0.45" fill="#2fd12f" opacity="0.4"/>
<circle cx="189.55" cy="110.95" r="0.3" fill="#c8a020" opacity="0.4"/>
<circle cx="210.46" cy="118.45" r="0.3" fill="#e07a1c" opacity="0.4"/>
<circle cx="183.49" cy="118.98" r="0.3" fill="#d6c22a" opacity="0.4"/>
<circle cx="153.35" cy="132.41" r="0.3" fill="#e07a1c" opacity="0.15"/>
<circle cx="242.47" cy="141.21" r="0.35" fill="#e02626" opacity="0.25"/>
<circle cx="195.06" cy="134.27" r="0.3" fill="#2fd12f" opacity="0.15"/>
<circle cx="169.79" cy="131.78" r="0.3" fill="#e07a1c" opacity="0.2"/>
<circle cx="211.47" cy="130.69" r="0.3" fill="#2fd12f" opacity="0.15"/>
<circle cx="189.49" cy="151.69" r="0.3" fill="#e02626" opacity="0.9"/>
<circle cx="218.08" cy="149.96" r="0.35" fill="#e02626" opacity="0.15"/>
<circle cx="188.88" cy="121.68" r="0.4" fill="#d6c22a" opacity="0.25"/>
<circle cx="237.92" cy="134.74" r="0.3" fill="#e02626" opacity="0.2"/>
<circle cx="226.81" cy="143.38" r="0.4" fill="#2fd12f" opacity="0.12"/>
<circle cx="200.8" cy="167.23" r="0.4" fill="#2fd12f" opacity="0.9"/>
<circle cx="206.47" cy="116.7" r="0.45" fill="#e07a1c" opacity="0.2"/>
<circle cx="239.61" cy="137.36" r="0.4" fill="#e02626" opacity="0.2"/>
<circle cx="222.96" cy="149.31" r="0.6" fill="#c8a020" opacity="0.12"/>
<circle cx="181.22" cy="150.72" r="0.45" fill="#e02626" opacity="0.55"/>
<circle cx="241.1" cy="142.38" r="0.4" fill="#d6c22a" opacity="0.25"/>
<circle cx="237.49" cy="116.19" r="0.3" fill="#c8a020" opacity="0.4"/>
<circle cx="206.21" cy="119.61" r="0.35" fill="#c8a020" opacity="0.2"/>
<circle cx="153.43" cy="120.76" r="0.4" fill="#2fd12f" opacity="0.12"/>
<circle cx="207.39" cy="111.77" r="0.45" fill="#d6c22a" opacity="0.55"/>
<circle cx="173.29" cy="152.8" r="0.4" fill="#c8a020" opacity="0.9"/>
<circle cx="201.38" cy="134.28" r="0.3" fill="#d6c22a" opacity="0.15"/>
<circle cx="201.71" cy="145.51" r="0.45" fill="#c8a020" opacity="0.55"/>
<circle cx="216.14" cy="145.36" r="0.4" fill="#d6c22a" opacity="0.4"/>
<circle cx="229.07" cy="126.06" r="0.3" fill="#2fd12f" opacity="0.2"/>
<circle cx="174.17" cy="141.16" r="0.6" fill="#c8a020" opacity="0.2"/>
<circle cx="231.24" cy="107.47" r="0.45" fill="#d6c22a" opacity="0.12"/>
<circle cx="214.37" cy="132.29" r="0.3" fill="#2fd12f" opacity="0.9"/>
<circle cx="211.82" cy="126.98" r="0.35" fill="#d6c22a" opacity="0.2"/>
<circle cx="211.13" cy="155.55" r="0.45" fill="#e02626" opacity="0.3"/>
<circle cx="231.55" cy="160.93" r="0.3" fill="#e07a1c" opacity="0.3"/>
<circle cx="217.5" cy="134.62" r="0.35" fill="#c8a020" opacity="0.15"/>
<circle cx="163.1" cy="125.24" r="0.3" fill="#e07a1c" opacity="0.15"/>
<circle cx="186.69" cy="133.76" r="0.6" fill="#2fd12f" opacity="0.55"/>
<circle cx="165.55" cy="137.68" r="0.35" fill="#e02626" opacity="0.2"/>
<circle cx="219.46" cy="140.27" r="0.3" fill="#e02626" opacity="0.9"/>
<circle cx="231.26" cy="123.44" r="0.45" fill="#2fd12f" opacity="0.9"/>
<circle cx="205.24" cy="100.56" r="0.35" fill="#2fd12f" opacity="0.55"/>
<circle cx="246.66" cy="98.55" r="0.35" fill="#c8a020" opacity="0.4"/>
<circle cx="187.15" cy="127.47" r="0.35" fill="#2fd12f" opacity="0.25"/>
<circle cx="228.76" cy="126.86" r="0.45" fill="#d6c22a" opacity="0.4"/>
<circle cx="218.6" cy="127.03" r="0.35" fill="#e02626" opacity="0.25"/>
<circle cx="213.31" cy="130.37" r="0.3" fill="#2fd12f" opacity="0.15"/>
<circle cx="194.38" cy="130.95" r="0.6" fill="#e02626" opacity="0.15"/>
<circle cx="205.1" cy="130.43" r="0.4" fill="#2fd12f" opacity="0.15"/>
<circle cx="176.05" cy="138.07" r="0.45" fill="#2fd12f" opacity="0.55"/>
<circle cx="198.67" cy="113.37" r="0.3" fill="#e02626" opacity="0.25"/>
<circle cx="238.69" cy="106.29" r="0.3" fill="#e02626" opacity="0.3"/>
<circle cx="201.83" cy="93.83" r="0.4" fill="#e07a1c" opacity="0.12"/>
<circle cx="204.99" cy="119.39" r="0.4" fill="#e02626" opacity="0.4"/>
<circle cx="181.07" cy="139.42" r="0.3" fill="#e07a1c" opacity="0.4"/>
<circle cx="201.21" cy="118.74" r="0.35" fill="#d6c22a" opacity="0.2"/>
<circle cx="211.56" cy="137.21" r="0.3" fill="#2fd12f" opacity="0.3"/>
<circle cx="180.22" cy="122.63" r="0.4" fill="#e07a1c" opacity="0.12"/>
<circle cx="167.94" cy="98.57" r="0.3" fill="#2fd12f" opacity="0.4"/>
<circle cx="226.34" cy="140.69" r="0.4" fill="#e07a1c" opacity="0.4"/>
<circle cx="203.07" cy="157.12" r="0.35" fill="#2fd12f" opacity="0.15"/>
<circle cx="195.92" cy="148.07" r="0.3" fill="#e07a1c" opacity="0.2"/>
<circle cx="155.07" cy="128.37" r="0.3" fill="#c8a020" opacity="0.9"/>
<circle cx="223.68" cy="113.56" r="0.6" fill="#e02626" opacity="0.12"/>
<circle cx="212.07" cy="132.46" r="0.6" fill="#c8a020" opacity="0.25"/>
<circle cx="221.52" cy="150.73" r="0.35" fill="#e07a1c" opacity="0.9"/>
<circle cx="206.92" cy="130.57" r="0.6" fill="#e02626" opacity="0.55"/>
<circle cx="182.57" cy="141.46" r="0.35" fill="#d6c22a" opacity="0.4"/>
<circle cx="195" cy="119.9" r="0.4" fill="#2fd12f" opacity="0.55"/>
<circle cx="193.79" cy="134.98" r="0.3" fill="#2fd12f" opacity="0.25"/>
<circle cx="190.99" cy="132.01" r="0.45" fill="#e07a1c" opacity="0.9"/>
<circle cx="242.35" cy="120.19" r="0.3" fill="#e07a1c" opacity="0.2"/>
<circle cx="175.56" cy="139.75" r="0.6" fill="#2fd12f" opacity="0.2"/>
<circle cx="212.02" cy="130.62" r="0.3" fill="#2fd12f" opacity="0.4"/>
<circle cx="215.11" cy="167.22" r="0.35" fill="#d6c22a" opacity="0.2"/>
<circle cx="182.16" cy="148.89" r="0.3" fill="#d6c22a" opacity="0.9"/>
<circle cx="215.03" cy="131.45" r="0.3" fill="#e07a1c" opacity="0.2"/>
<circle cx="204.66" cy="138.77" r="0.3" fill="#e07a1c" opacity="0.25"/>
<circle cx="225.23" cy="134.98" r="0.45" fill="#d6c22a" opacity="0.4"/>
<circle cx="222.09" cy="137.2" r="0.4" fill="#c8a020" opacity="0.25"/>
<circle cx="215.47" cy="154.49" r="0.35" fill="#e02626" opacity="0.4"/>
<circle cx="192.12" cy="125.71" r="0.6" fill="#d6c22a" opacity="0.2"/>
<circle cx="177.04" cy="142.12" r="0.3" fill="#e02626" opacity="0.3"/>
<circle cx="209.71" cy="108.09" r="0.45" fill="#d6c22a" opacity="0.9"/>
<circle cx="228.89" cy="123.22" r="0.45" fill="#e07a1c" opacity="0.3"/>
<circle cx="208.1" cy="127.96" r="0.4" fill="#d6c22a" opacity="0.4"/>
<circle cx="165.48" cy="127.32" r="0.6" fill="#d6c22a" opacity="0.3"/>
<circle cx="223.22" cy="138.61" r="0.3" fill="#e02626" opacity="0.55"/>
<circle cx="191.42" cy="112.25" r="0.35" fill="#2fd12f" opacity="0.12"/>
<circle cx="185.5" cy="139.95" r="0.45" fill="#c8a020" opacity="0.3"/>
<circle cx="167.21" cy="116.7" r="0.6" fill="#2fd12f" opacity="0.2"/>
<circle cx="193.51" cy="140.01" r="0.3" fill="#e07a1c" opacity="0.2"/>
<circle cx="232.64" cy="165.68" r="0.35" fill="#e07a1c" opacity="0.55"/>
<circle cx="223.29" cy="148.98" r="0.35" fill="#e02626" opacity="0.3"/>
<circle cx="197.87" cy="121.28" r="0.3" fill="#2fd12f" opacity="0.12"/>
<circle cx="218.83" cy="155.44" r="0.45" fill="#d6c22a" opacity="0.15"/>
<circle cx="201.84" cy="149.06" r="0.35" fill="#c8a020" opacity="0.12"/>
<circle cx="220.46" cy="155.39" r="0.3" fill="#d6c22a" opacity="0.4"/>
<circle cx="192.21" cy="112.33" r="0.3" fill="#e02626" opacity="0.12"/>
<circle cx="191.06" cy="126.5" r="0.3" fill="#2fd12f" opacity="0.25"/>
<circle cx="180.73" cy="121.21" r="0.3" fill="#d6c22a" opacity="0.12"/>
<circle cx="162.73" cy="128.36" r="0.45" fill="#2fd12f" opacity="0.9"/>
<circle cx="209.8" cy="143.9" r="0.35" fill="#e07a1c" opacity="0.12"/>
<circle cx="215.6" cy="122.51" r="0.3" fill="#c8a020" opacity="0.55"/>
<circle cx="177.81" cy="128.96" r="0.35" fill="#d6c22a" opacity="0.9"/>
<circle cx="193.85" cy="138.67" r="0.3" fill="#c8a020" opacity="0.9"/>
<circle cx="175.45" cy="148.8" r="0.35" fill="#2fd12f" opacity="0.9"/>
<circle cx="235.71" cy="114.27" r="0.6" fill="#e02626" opacity="0.12"/>
<circle cx="217" cy="125.93" r="0.4" fill="#2fd12f" opacity="0.55"/>
<circle cx="197.03" cy="153.93" r="0.35" fill="#c8a020" opacity="0.2"/>
<circle cx="194.74" cy="130.01" r="0.45" fill="#d6c22a" opacity="0.25"/>
<circle cx="172.93" cy="150.2" r="0.45" fill="#c8a020" opacity="0.3"/>
<circle cx="229.61" cy="145.74" r="0.6" fill="#c8a020" opacity="0.4"/>
<circle cx="200.43" cy="124.75" r="0.4" fill="#e02626" opacity="0.12"/>
<circle cx="181.11" cy="122.71" r="0.6" fill="#e02626" opacity="0.25"/>
<circle cx="184.21" cy="136.36" r="0.3" fill="#e02626" opacity="0.9"/>
<circle cx="240.43" cy="117.55" r="0.3" fill="#2fd12f" opacity="0.55"/>
<circle cx="237.7" cy="125.73" r="0.4" fill="#2fd12f" opacity="0.9"/>
<circle cx="221.07" cy="156.52" r="0.3" fill="#c8a020" opacity="0.2"/>
<circle cx="217.85" cy="122.22" r="0.3" fill="#c8a020" opacity="0.9"/>
<circle cx="154.75" cy="110.87" r="0.6" fill="#d6c22a" opacity="0.25"/>
<circle cx="176.96" cy="113.83" r="0.3" fill="#c8a020" opacity="0.9"/>
<circle cx="176.77" cy="97.26" r="0.4" fill="#d6c22a" opacity="0.9"/>
<circle cx="209.35" cy="135.8" r="0.3" fill="#2fd12f" opacity="0.12"/>
<circle cx="195.53" cy="114.64" r="0.35" fill="#e02626" opacity="0.15"/>
<circle cx="217.94" cy="115.24" r="0.45" fill="#2fd12f" opacity="0.25"/>
<circle cx="221.62" cy="111.24" r="0.3" fill="#c8a020" opacity="0.2"/>
<circle cx="221.48" cy="123.18" r="0.3" fill="#2fd12f" opacity="0.4"/>
<circle cx="209.35" cy="129.58" r="0.3" fill="#2fd12f" opacity="0.2"/>
<circle cx="213.92" cy="113.36" r="0.3" fill="#2fd12f" opacity="0.9"/>
<circle cx="232.85" cy="127.82" r="0.3" fill="#2fd12f" opacity="0.3"/>
<circle cx="172.08" cy="111.94" r="0.4" fill="#e02626" opacity="0.9"/>
<circle cx="219.75" cy="104.84" r="0.35" fill="#e02626" opacity="0.3"/>
<circle cx="230.78" cy="108.47" r="0.4" fill="#d6c22a" opacity="0.12"/>
<circle cx="216.55" cy="167.75" r="0.4" fill="#d6c22a" opacity="0.4"/>
<circle cx="241.71" cy="135.47" r="0.4" fill="#d6c22a" opacity="0.25"/>
<circle cx="156.88" cy="132.08" r="0.3" fill="#e07a1c" opacity="0.2"/>
<circle cx="228.75" cy="167.81" r="0.3" fill="#e02626" opacity="0.25"/>
<circle cx="209.15" cy="125.13" r="0.35" fill="#d6c22a" opacity="0.15"/>
<circle cx="184.71" cy="145.08" r="0.35" fill="#e02626" opacity="0.55"/>
<circle cx="235.12" cy="113.53" r="0.45" fill="#e02626" opacity="0.2"/>
<circle cx="228.53" cy="128.38" r="0.4" fill="#e07a1c" opacity="0.55"/>
<circle cx="223.68" cy="140.44" r="0.3" fill="#c8a020" opacity="0.4"/>
<circle cx="219.98" cy="120.25" r="0.3" fill="#e02626" opacity="0.2"/>
<circle cx="231.79" cy="100.48" r="0.45" fill="#c8a020" opacity="0.25"/>
<circle cx="163.52" cy="130.64" r="0.3" fill="#2fd12f" opacity="0.9"/>
<circle cx="208.54" cy="111.93" r="0.4" fill="#c8a020" opacity="0.25"/>
<circle cx="247.11" cy="143.79" r="0.3" fill="#c8a020" opacity="0.2"/>
<circle cx="187.99" cy="143.68" r="0.6" fill="#2fd12f" opacity="0.2"/>
<circle cx="221.27" cy="146.88" r="0.3" fill="#2fd12f" opacity="0.12"/>
<circle cx="210.03" cy="142.39" r="0.35" fill="#2fd12f" opacity="0.9"/>
<circle cx="207.49" cy="162.06" r="0.3" fill="#e07a1c" opacity="0.25"/>
<circle cx="200.66" cy="131.5" r="0.3" fill="#e02626" opacity="0.4"/>
<circle cx="206.38" cy="115.86" r="0.4" fill="#c8a020" opacity="0.25"/>
<circle cx="183.43" cy="137.15" r="0.4" fill="#c8a020" opacity="0.3"/>
<circle cx="166.85" cy="148.85" r="0.3" fill="#e07a1c" opacity="0.12"/>
<circle cx="177.47" cy="136.02" r="0.45" fill="#e02626" opacity="0.15"/>
<circle cx="174.57" cy="153.98" r="0.3" fill="#2fd12f" opacity="0.3"/>
<circle cx="176.81" cy="110" r="0.3" fill="#e07a1c" opacity="0.3"/>
<circle cx="171.66" cy="105.03" r="0.6" fill="#e02626" opacity="0.55"/>
<circle cx="202.87" cy="128.66" r="0.6" fill="#e07a1c" opacity="0.4"/>
<circle cx="206.36" cy="136.89" r="0.6" fill="#2fd12f" opacity="0.15"/>
<circle cx="210.15" cy="118.9" r="0.6" fill="#c8a020" opacity="0.2"/>
<circle cx="204.42" cy="125.7" r="0.3" fill="#d6c22a" opacity="0.4"/>
<circle cx="208.07" cy="144.37" r="0.3" fill="#e07a1c" opacity="0.15"/>
<circle cx="190.86" cy="135.57" r="0.35" fill="#e02626" opacity="0.9"/>
<circle cx="216.3" cy="118.28" r="0.35" fill="#c8a020" opacity="0.15"/>
<circle cx="195.45" cy="121.76" r="0.3" fill="#e02626" opacity="0.9"/>
<circle cx="189.31" cy="122.28" r="0.45" fill="#c8a020" opacity="0.2"/>
<circle cx="184.22" cy="125.49" r="0.45" fill="#2fd12f" opacity="0.9"/>
<circle cx="217.36" cy="99.34" r="0.6" fill="#e07a1c" opacity="0.15"/>
<circle cx="212.36" cy="116.77" r="0.6" fill="#c8a020" opacity="0.12"/>
<circle cx="181.45" cy="159.3" r="0.3" fill="#2fd12f" opacity="0.12"/>
<circle cx="206.96" cy="137.39" r="0.45" fill="#2fd12f" opacity="0.25"/>
<circle cx="221.84" cy="136.62" r="0.4" fill="#e07a1c" opacity="0.3"/>
<circle cx="232.64" cy="128.53" r="0.35" fill="#e07a1c" opacity="0.12"/>
<circle cx="153.61" cy="91.51" r="0.45" fill="#e02626" opacity="0.3"/>
<circle cx="198.35" cy="150.31" r="0.35" fill="#2fd12f" opacity="0.9"/>
<circle cx="200.05" cy="142.76" r="0.3" fill="#c8a020" opacity="0.15"/>
<circle cx="195.35" cy="106.73" r="0.35" fill="#2fd12f" opacity="0.3"/>
<circle cx="182.48" cy="123.65" r="0.35" fill="#c8a020" opacity="0.25"/>
<circle cx="242.61" cy="109.34" r="0.3" fill="#c8a020" opacity="0.2"/>
<circle cx="211.39" cy="160.33" r="0.3" fill="#c8a020" opacity="0.15"/>
<circle cx="199.41" cy="117.72" r="0.3" fill="#c8a020" opacity="0.55"/>
<circle cx="203.16" cy="124.74" r="0.3" fill="#2fd12f" opacity="0.9"/>
<circle cx="182.82" cy="128.5" r="0.4" fill="#e02626" opacity="0.55"/>
<circle cx="216.31" cy="152.25" r="0.6" fill="#c8a020" opacity="0.3"/>
<circle cx="181.41" cy="123.66" r="0.4" fill="#e02626" opacity="0.2"/>
<circle cx="214.07" cy="121.87" r="0.6" fill="#2fd12f" opacity="0.2"/>
<circle cx="235.86" cy="110.31" r="0.4" fill="#e07a1c" opacity="0.4"/>
<circle cx="178.71" cy="151.06" r="0.45" fill="#e02626" opacity="0.2"/>
<circle cx="221.32" cy="147.42" r="0.4" fill="#e02626" opacity="0.4"/>
<circle cx="198.4" cy="98.85" r="0.3" fill="#c8a020" opacity="0.4"/>
<circle cx="173.48" cy="93.18" r="0.4" fill="#e02626" opacity="0.12"/>
<circle cx="166.22" cy="128.64" r="0.6" fill="#e07a1c" opacity="0.55"/>
<circle cx="207.16" cy="151.39" r="0.6" fill="#e07a1c" opacity="0.55"/>
<circle cx="188.87" cy="131.01" r="0.3" fill="#d6c22a" opacity="0.12"/>
<circle cx="208.02" cy="128.78" r="0.6" fill="#c8a020" opacity="0.9"/>
<circle cx="210.3" cy="123.28" r="0.4" fill="#c8a020" opacity="0.3"/>
<circle cx="210.48" cy="136.82" r="0.6" fill="#c8a020" opacity="0.4"/>
<circle cx="240.9" cy="118.37" r="0.6" fill="#c8a020" opacity="0.4"/>
<circle cx="179.24" cy="131.19" r="0.35" fill="#2fd12f" opacity="0.3"/>
<circle cx="241.35" cy="145.2" r="0.4" fill="#d6c22a" opacity="0.9"/>
<circle cx="177.56" cy="135.28" r="0.6" fill="#2fd12f" opacity="0.2"/>
<circle cx="169.21" cy="148.7" r="0.3" fill="#e02626" opacity="0.2"/>
<circle cx="198.36" cy="122.89" r="0.6" fill="#d6c22a" opacity="0.9"/>
<circle cx="245.56" cy="139.54" r="0.3" fill="#2fd12f" opacity="0.9"/>
<circle cx="201.41" cy="132.14" r="0.6" fill="#e07a1c" opacity="0.55"/>
<circle cx="219.1" cy="136.92" r="0.3" fill="#e02626" opacity="0.55"/>
<circle cx="196.76" cy="147.72" r="0.3" fill="#e07a1c" opacity="0.12"/>
<circle cx="203.64" cy="133.3" r="0.3" fill="#2fd12f" opacity="0.55"/>
<circle cx="194.73" cy="131.11" r="0.3" fill="#d6c22a" opacity="0.55"/>
<circle cx="226.97" cy="132.46" r="0.4" fill="#d6c22a" opacity="0.15"/>
<circle cx="195.25" cy="130.12" r="0.4" fill="#2fd12f" opacity="0.15"/>
<circle cx="181.65" cy="138.64" r="0.3" fill="#2fd12f" opacity="0.9"/>
<circle cx="228.91" cy="115.96" r="0.6" fill="#d6c22a" opacity="0.12"/>
<circle cx="237.53" cy="108.44" r="0.4" fill="#c8a020" opacity="0.55"/>
<circle cx="184.74" cy="116.55" r="0.35" fill="#2fd12f" opacity="0.3"/>
<circle cx="231.02" cy="122.86" r="0.6" fill="#c8a020" opacity="0.12"/>
<circle cx="228.52" cy="117" r="0.3" fill="#c8a020" opacity="0.9"/>
<circle cx="210.87" cy="128.68" r="0.6" fill="#d6c22a" opacity="0.12"/>
<circle cx="196.83" cy="108.73" r="0.3" fill="#e02626" opacity="0.2"/>
<circle cx="168.14" cy="120.79" r="0.6" fill="#e02626" opacity="0.4"/>
<circle cx="230.42" cy="152.41" r="0.3" fill="#2fd12f" opacity="0.9"/>
<circle cx="190.13" cy="140.4" r="0.3" fill="#e07a1c" opacity="0.3"/>
<circle cx="217.5" cy="127.82" r="0.4" fill="#2fd12f" opacity="0.15"/>
<circle cx="224.79" cy="137.63" r="0.45" fill="#d6c22a" opacity="0.12"/>
<circle cx="233.93" cy="149.99" r="0.3" fill="#c8a020" opacity="0.9"/>
<circle cx="229.67" cy="105.61" r="0.35" fill="#e02626" opacity="0.25"/>
<circle cx="216.59" cy="125.63" r="0.6" fill="#e07a1c" opacity="0.4"/>
<circle cx="156.66" cy="102.69" r="0.6" fill="#e07a1c" opacity="0.2"/>
<circle cx="202.86" cy="111.04" r="0.45" fill="#d6c22a" opacity="0.2"/>
<circle cx="234.71" cy="107" r="0.6" fill="#e02626" opacity="0.12"/>
<circle cx="232.93" cy="149.35" r="0.35" fill="#2fd12f" opacity="0.4"/>
<circle cx="197.89" cy="156.56" r="0.45" fill="#e07a1c" opacity="0.2"/>
<circle cx="224.02" cy="139.68" r="0.3" fill="#e02626" opacity="0.25"/>
<circle cx="205.57" cy="124.74" r="0.3" fill="#e07a1c" opacity="0.2"/>
<circle cx="182.28" cy="105.18" r="0.6" fill="#e07a1c" opacity="0.9"/>
<circle cx="193.64" cy="137.37" r="0.4" fill="#c8a020" opacity="0.4"/>
<circle cx="199.15" cy="150.15" r="0.4" fill="#e02626" opacity="0.15"/>
<circle cx="198.15" cy="155.39" r="0.4" fill="#e02626" opacity="0.4"/>
<circle cx="222.56" cy="159.6" r="0.35" fill="#e07a1c" opacity="0.55"/>
<circle cx="214.75" cy="135.32" r="0.45" fill="#2fd12f" opacity="0.9"/>
<circle cx="170.08" cy="109.47" r="0.3" fill="#2fd12f" opacity="0.2"/>
<circle cx="206.29" cy="132.85" r="0.35" fill="#e07a1c" opacity="0.55"/>
<circle cx="172.37" cy="122.86" r="0.4" fill="#2fd12f" opacity="0.2"/>
<circle cx="187.36" cy="130.14" r="0.4" fill="#e07a1c" opacity="0.3"/>
<circle cx="217.13" cy="129.48" r="0.6" fill="#d6c22a" opacity="0.12"/>
<circle cx="210.34" cy="131.11" r="0.4" fill="#c8a020" opacity="0.4"/>
<circle cx="235.29" cy="125.02" r="0.4" fill="#2fd12f" opacity="0.55"/>
<circle cx="216.7" cy="148.58" r="0.3" fill="#2fd12f" opacity="0.25"/>
<circle cx="211.6" cy="145.13" r="0.6" fill="#e07a1c" opacity="0.55"/>
<circle cx="211.89" cy="134.84" r="0.3" fill="#c8a020" opacity="0.9"/>
<circle cx="241.86" cy="146.62" r="0.4" fill="#c8a020" opacity="0.2"/>
<circle cx="187.1" cy="118.54" r="0.35" fill="#e07a1c" opacity="0.3"/>
<circle cx="241.07" cy="131.22" r="0.4" fill="#2fd12f" opacity="0.25"/>
<circle cx="208.3" cy="126.59" r="0.3" fill="#d6c22a" opacity="0.25"/>
<circle cx="209.89" cy="115.4" r="0.4" fill="#c8a020" opacity="0.15"/>
<circle cx="235.27" cy="140.29" r="0.4" fill="#2fd12f" opacity="0.2"/>
<circle cx="229.59" cy="113.47" r="0.3" fill="#2fd12f" opacity="0.4"/>
<circle cx="206.46" cy="135.73" r="0.35" fill="#e07a1c" opacity="0.12"/>
<circle cx="185.56" cy="152.69" r="0.4" fill="#d6c22a" opacity="0.25"/>
<circle cx="192.7" cy="133.08" r="0.6" fill="#e07a1c" opacity="0.4"/>
<circle cx="193.97" cy="140.41" r="0.6" fill="#e02626" opacity="0.15"/>
<circle cx="182.61" cy="145.2" r="0.3" fill="#d6c22a" opacity="0.12"/>
<circle cx="231.46" cy="112.04" r="0.35" fill="#d6c22a" opacity="0.9"/>
<circle cx="200.15" cy="119.18" r="0.45" fill="#d6c22a" opacity="0.9"/>
<circle cx="208.5" cy="131.12" r="0.45" fill="#2fd12f" opacity="0.55"/>
<circle cx="189.89" cy="117.22" r="0.6" fill="#e07a1c" opacity="0.25"/>
<circle cx="242.19" cy="137.17" r="0.35" fill="#e02626" opacity="0.9"/>
<circle cx="216.41" cy="112.56" r="0.6" fill="#e02626" opacity="0.9"/>
<circle cx="208.91" cy="163.69" r="0.45" fill="#d6c22a" opacity="0.9"/>
<circle cx="203.46" cy="121.43" r="0.4" fill="#d6c22a" opacity="0.4"/>
<circle cx="191.23" cy="163.21" r="0.45" fill="#e02626" opacity="0.2"/>
<circle cx="204.14" cy="123.87" r="0.3" fill="#c8a020" opacity="0.15"/>
<circle cx="206.84" cy="115.84" r="0.35" fill="#e07a1c" opacity="0.4"/>
<circle cx="196.06" cy="142.86" r="0.4" fill="#e02626" opacity="0.3"/>
<circle cx="207.98" cy="138.56" r="0.35" fill="#d6c22a" opacity="0.15"/>
<circle cx="196.99" cy="134.12" r="0.4" fill="#e07a1c" opacity="0.3"/>
<circle cx="164.83" cy="128.28" r="0.35" fill="#2fd12f" opacity="0.55"/>
<circle cx="226.56" cy="137.45" r="0.4" fill="#e07a1c" opacity="0.4"/>
<circle cx="168.79" cy="109.41" r="0.3" fill="#2fd12f" opacity="0.25"/>
<circle cx="164.73" cy="124.99" r="0.4" fill="#d6c22a" opacity="0.4"/>
<circle cx="216.35" cy="150.98" r="0.45" fill="#e07a1c" opacity="0.9"/>
<circle cx="203.85" cy="127.08" r="0.35" fill="#d6c22a" opacity="0.15"/>
<circle cx="159.53" cy="128.72" r="0.45" fill="#2fd12f" opacity="0.2"/>
<circle cx="156.37" cy="105.67" r="0.4" fill="#d6c22a" opacity="0.15"/>
<circle cx="178.69" cy="122.33" r="0.3" fill="#d6c22a" opacity="0.9"/>
<circle cx="164.15" cy="135.98" r="0.6" fill="#2fd12f" opacity="0.9"/>
<circle cx="222.13" cy="141.05" r="0.35" fill="#2fd12f" opacity="0.2"/>
<circle cx="212.78" cy="107.79" r="0.35" fill="#d6c22a" opacity="0.15"/>
<circle cx="205.43" cy="126.83" r="0.4" fill="#e07a1c" opacity="0.9"/>
<circle cx="183.17" cy="154.31" r="0.3" fill="#2fd12f" opacity="0.9"/>
<circle cx="211.13" cy="144.52" r="0.4" fill="#c8a020" opacity="0.25"/>
<circle cx="195.31" cy="108.11" r="0.3" fill="#c8a020" opacity="0.12"/>
<circle cx="153.18" cy="133.94" r="0.35" fill="#d6c22a" opacity="0.12"/>
<circle cx="180.69" cy="123.93" r="0.3" fill="#d6c22a" opacity="0.9"/>
<circle cx="221.12" cy="104.97" r="0.3" fill="#e02626" opacity="0.3"/>
<circle cx="198.81" cy="133.8" r="0.4" fill="#2fd12f" opacity="0.12"/>
<circle cx="230.2" cy="150.73" r="0.3" fill="#e02626" opacity="0.55"/>
<circle cx="203.75" cy="142.33" r="0.6" fill="#e07a1c" opacity="0.4"/>
<circle cx="225.69" cy="119.86" r="0.3" fill="#c8a020" opacity="0.25"/>
<circle cx="218.75" cy="137.26" r="0.3" fill="#e02626" opacity="0.12"/>
<circle cx="230.02" cy="115.29" r="0.4" fill="#e02626" opacity="0.3"/>
<circle cx="209.85" cy="98.82" r="0.4" fill="#c8a020" opacity="0.9"/>
<circle cx="182.54" cy="154.53" r="0.3" fill="#d6c22a" opacity="0.25"/>
<circle cx="232.43" cy="148.03" r="0.6" fill="#d6c22a" opacity="0.2"/>
<circle cx="211.46" cy="146.15" r="0.3" fill="#c8a020" opacity="0.9"/>
<circle cx="198.98" cy="133.67" r="0.4" fill="#d6c22a" opacity="0.55"/>
<circle cx="207.05" cy="149.42" r="0.4" fill="#c8a020" opacity="0.2"/>
<circle cx="240.38" cy="133.85" r="0.4" fill="#e07a1c" opacity="0.9"/>
<circle cx="209.8" cy="134.11" r="0.3" fill="#c8a020" opacity="0.2"/>
<circle cx="242.16" cy="111.99" r="0.6" fill="#e07a1c" opacity="0.4"/>
<circle cx="238.94" cy="107.31" r="0.4" fill="#e02626" opacity="0.3"/>
<circle cx="215.89" cy="137.75" r="0.3" fill="#d6c22a" opacity="0.4"/>
<circle cx="240.12" cy="129.09" r="0.3" fill="#e07a1c" opacity="0.12"/>
<circle cx="212.95" cy="154.83" r="0.6" fill="#e07a1c" opacity="0.9"/>
<circle cx="241.91" cy="156.19" r="0.3" fill="#e02626" opacity="0.12"/>
<circle cx="205.53" cy="165.77" r="0.45" fill="#2fd12f" opacity="0.25"/>
<circle cx="214.88" cy="162.37" r="0.4" fill="#2fd12f" opacity="0.2"/>
<circle cx="205.26" cy="166.49" r="0.6" fill="#e02626" opacity="0.4"/>
<circle cx="190.3" cy="115.32" r="0.3" fill="#e02626" opacity="0.3"/>
<circle cx="233.83" cy="119.37" r="0.6" fill="#e07a1c" opacity="0.2"/>
<circle cx="200.81" cy="121.41" r="0.3" fill="#c8a020" opacity="0.25"/>
<circle cx="230.62" cy="114.4" r="0.4" fill="#e02626" opacity="0.3"/>
<circle cx="183.56" cy="133.65" r="0.3" fill="#d6c22a" opacity="0.55"/>
<circle cx="211.07" cy="101.87" r="0.35" fill="#c8a020" opacity="0.25"/>
<circle cx="203.8" cy="139.31" r="0.6" fill="#d6c22a" opacity="0.9"/>
<circle cx="195.6" cy="126.62" r="0.6" fill="#d6c22a" opacity="0.3"/>
<circle cx="199.68" cy="115.8" r="0.35" fill="#2fd12f" opacity="0.15"/>
<circle cx="217.69" cy="114.3" r="0.45" fill="#d6c22a" opacity="0.25"/>
<circle cx="230.09" cy="158.26" r="0.6" fill="#2fd12f" opacity="0.15"/>
<circle cx="233.55" cy="134.07" r="0.3" fill="#c8a020" opacity="0.55"/>
<circle cx="177.89" cy="132.62" r="0.4" fill="#d6c22a" opacity="0.12"/>
<circle cx="184.99" cy="157.57" r="0.35" fill="#c8a020" opacity="0.15"/>
<circle cx="200.64" cy="118.43" r="0.35" fill="#d6c22a" opacity="0.15"/>
<circle cx="207.07" cy="125.09" r="0.35" fill="#e07a1c" opacity="0.2"/>
<circle cx="196.09" cy="141.34" r="0.6" fill="#e02626" opacity="0.3"/>
<circle cx="212.9" cy="126.13" r="0.3" fill="#e02626" opacity="0.25"/>
<circle cx="193.56" cy="130.58" r="0.45" fill="#e07a1c" opacity="0.9"/>
<circle cx="198.91" cy="135.88" r="0.3" fill="#d6c22a" opacity="0.12"/>
<circle cx="207.7" cy="123.58" r="0.6" fill="#d6c22a" opacity="0.15"/>
<circle cx="230.78" cy="157.79" r="0.45" fill="#e02626" opacity="0.3"/>
<circle cx="214.2" cy="138.01" r="0.3" fill="#e07a1c" opacity="0.2"/>
<circle cx="218.23" cy="141.29" r="0.4" fill="#e02626" opacity="0.4"/>
<circle cx="152.28" cy="116.04" r="0.6" fill="#e07a1c" opacity="0.15"/>
<circle cx="199.57" cy="158.29" r="0.3" fill="#c8a020" opacity="0.3"/>
<circle cx="216.74" cy="142.22" r="0.3" fill="#e07a1c" opacity="0.15"/>
<circle cx="194.65" cy="105.6" r="0.35" fill="#d6c22a" opacity="0.12"/>
<circle cx="207.86" cy="108.3" r="0.35" fill="#d6c22a" opacity="0.4"/>
<circle cx="226.99" cy="123.68" r="0.35" fill="#2fd12f" opacity="0.3"/>
<circle cx="169.13" cy="129.24" r="0.35" fill="#2fd12f" opacity="0.55"/>
<circle cx="188.12" cy="146.28" r="0.35" fill="#c8a020" opacity="0.9"/>
<circle cx="235.04" cy="113.47" r="0.6" fill="#d6c22a" opacity="0.15"/>
<circle cx="192.51" cy="118.03" r="0.45" fill="#2fd12f" opacity="0.3"/>
<circle cx="183.48" cy="127.51" r="0.45" fill="#c8a020" opacity="0.15"/>
<circle cx="205.57" cy="153.94" r="0.6" fill="#e07a1c" opacity="0.12"/>
<circle cx="148.46" cy="86.58" r="0.3" fill="#e02626" opacity="0.55"/>
<circle cx="207.04" cy="122.63" r="0.6" fill="#c8a020" opacity="0.55"/>
<circle cx="167.51" cy="114.76" r="0.6" fill="#c8a020" opacity="0.9"/>
<circle cx="146.68" cy="125.86" r="0.6" fill="#e02626" opacity="0.9"/>
<circle cx="179.16" cy="118.38" r="0.6" fill="#d6c22a" opacity="0.12"/>
<circle cx="245.45" cy="150.71" r="0.45" fill="#c8a020" opacity="0.2"/>
<circle cx="164.5" cy="135.16" r="0.35" fill="#e07a1c" opacity="0.12"/>
<circle cx="216.23" cy="133.46" r="0.3" fill="#2fd12f" opacity="0.55"/>
<circle cx="203.73" cy="147.6" r="0.4" fill="#2fd12f" opacity="0.9"/>
<circle cx="178.5" cy="127.76" r="0.6" fill="#e07a1c" opacity="0.25"/>
<circle cx="150.95" cy="97.01" r="0.6" fill="#d6c22a" opacity="0.2"/>
<circle cx="233.91" cy="120.53" r="0.3" fill="#e02626" opacity="0.25"/>
<circle cx="193.31" cy="144.06" r="0.3" fill="#d6c22a" opacity="0.12"/>
<circle cx="195.11" cy="152.63" r="0.4" fill="#c8a020" opacity="0.3"/>
<circle cx="203.61" cy="143.85" r="0.4" fill="#e02626" opacity="0.9"/>
<circle cx="203.99" cy="135.48" r="0.45" fill="#e07a1c" opacity="0.4"/>
<circle cx="234.23" cy="107.55" r="0.3" fill="#e07a1c" opacity="0.25"/>
<circle cx="225.92" cy="131.85" r="0.4" fill="#d6c22a" opacity="0.15"/>
<circle cx="236.35" cy="116.08" r="0.35" fill="#d6c22a" opacity="0.2"/>
<circle cx="234.08" cy="127.02" r="0.4" fill="#2fd12f" opacity="0.4"/>
<circle cx="232.62" cy="131.15" r="0.35" fill="#d6c22a" opacity="0.12"/>
<circle cx="172.18" cy="126.49" r="0.3" fill="#d6c22a" opacity="0.55"/>
<circle cx="185.89" cy="145.97" r="0.45" fill="#e02626" opacity="0.9"/>
<circle cx="212.83" cy="128.52" r="0.35" fill="#d6c22a" opacity="0.15"/>
<circle cx="191.45" cy="158.94" r="0.6" fill="#e02626" opacity="0.3"/>
<circle cx="208.56" cy="120.11" r="0.45" fill="#c8a020" opacity="0.25"/>
<circle cx="232.69" cy="128.88" r="0.3" fill="#c8a020" opacity="0.2"/>
<circle cx="230.32" cy="117.31" r="0.4" fill="#e07a1c" opacity="0.3"/>
<circle cx="215.09" cy="131.42" r="0.3" fill="#c8a020" opacity="0.2"/>
<circle cx="220.88" cy="103.4" r="0.6" fill="#e02626" opacity="0.12"/>
<circle cx="221.39" cy="135.64" r="0.45" fill="#e02626" opacity="0.15"/>
<circle cx="165.11" cy="92.53" r="0.3" fill="#e02626" opacity="0.25"/>
<circle cx="195.36" cy="146.89" r="0.4" fill="#e02626" opacity="0.9"/>
<circle cx="230.23" cy="143.85" r="0.45" fill="#e07a1c" opacity="0.9"/>
<circle cx="204.63" cy="108.98" r="0.3" fill="#d6c22a" opacity="0.15"/>
<circle cx="206.69" cy="114.35" r="0.4" fill="#e07a1c" opacity="0.2"/>
<circle cx="192.89" cy="135.76" r="0.35" fill="#e07a1c" opacity="0.15"/>
<circle cx="210.69" cy="152.16" r="0.3" fill="#e02626" opacity="0.9"/>
<circle cx="227.33" cy="131.23" r="0.4" fill="#e07a1c" opacity="0.2"/>
<circle cx="196.75" cy="147.31" r="0.6" fill="#e07a1c" opacity="0.9"/>
<circle cx="210.81" cy="133.07" r="0.3" fill="#e07a1c" opacity="0.12"/>
<circle cx="242.22" cy="97.26" r="0.4" fill="#d6c22a" opacity="0.4"/>
<circle cx="180.78" cy="142.82" r="0.35" fill="#c8a020" opacity="0.25"/>
<circle cx="224.54" cy="119.37" r="0.6" fill="#2fd12f" opacity="0.3"/>
<circle cx="191.07" cy="95.78" r="0.4" fill="#2fd12f" opacity="0.55"/>
<circle cx="185.07" cy="115.61" r="0.3" fill="#e07a1c" opacity="0.12"/>
<circle cx="222.88" cy="110.77" r="0.35" fill="#e07a1c" opacity="0.3"/>
<circle cx="234.25" cy="128.82" r="0.35" fill="#d6c22a" opacity="0.4"/>
<circle cx="206.52" cy="125.53" r="0.3" fill="#e07a1c" opacity="0.55"/>
<circle cx="226.32" cy="129.86" r="0.3" fill="#2fd12f" opacity="0.3"/>
<circle cx="240.69" cy="147.18" r="0.3" fill="#c8a020" opacity="0.55"/>
<circle cx="155.71" cy="115.59" r="0.6" fill="#2fd12f" opacity="0.55"/>
<circle cx="233.29" cy="127.29" r="0.45" fill="#e02626" opacity="0.12"/>
<circle cx="205.46" cy="120.56" r="0.35" fill="#d6c22a" opacity="0.55"/>
<circle cx="149.37" cy="125.74" r="0.45" fill="#e02626" opacity="0.9"/>
<circle cx="204.53" cy="132.99" r="0.35" fill="#e02626" opacity="0.55"/>
<circle cx="156.25" cy="142.08" r="0.35" fill="#e02626" opacity="0.12"/>
<circle cx="220.85" cy="138.51" r="0.45" fill="#e07a1c" opacity="0.55"/>
<circle cx="220.97" cy="138.72" r="0.4" fill="#2fd12f" opacity="0.12"/>
<circle cx="216.48" cy="133.08" r="0.45" fill="#c8a020" opacity="0.25"/>
<circle cx="191.11" cy="136.59" r="0.3" fill="#d6c22a" opacity="0.4"/>
<circle cx="217.73" cy="127.52" r="0.45" fill="#d6c22a" opacity="0.9"/>
<circle cx="196.56" cy="149" r="0.35" fill="#e07a1c" opacity="0.4"/>
<circle cx="202.61" cy="112.65" r="0.3" fill="#e02626" opacity="0.15"/>
<circle cx="220.57" cy="144.69" r="0.3" fill="#2fd12f" opacity="0.9"/>
<circle cx="185.14" cy="127.55" r="0.4" fill="#e02626" opacity="0.12"/>
<circle cx="215.4" cy="164.64" r="0.4" fill="#e02626" opacity="0.3"/>
<circle cx="203.46" cy="133.94" r="0.6" fill="#d6c22a" opacity="0.9"/>
<circle cx="200.13" cy="126.33" r="0.4" fill="#e07a1c" opacity="0.25"/>
<circle cx="194.13" cy="98.13" r="0.4" fill="#c8a020" opacity="0.15"/>
<circle cx="216.43" cy="148.45" r="0.6" fill="#e02626" opacity="0.55"/>
<circle cx="197.46" cy="123.01" r="0.35" fill="#c8a020" opacity="0.15"/>
<circle cx="155.2" cy="126.61" r="0.3" fill="#2fd12f" opacity="0.55"/>
<circle cx="212.69" cy="145.76" r="0.6" fill="#2fd12f" opacity="0.55"/>
<circle cx="197.96" cy="135.96" r="0.3" fill="#c8a020" opacity="0.2"/>
<circle cx="199.9" cy="152.42" r="0.45" fill="#e02626" opacity="0.25"/>
<circle cx="219.72" cy="128.31" r="0.3" fill="#e02626" opacity="0.55"/>
<circle cx="178.37" cy="156.58" r="0.3" fill="#2fd12f" opacity="0.15"/>
<circle cx="200.38" cy="130.65" r="0.45" fill="#2fd12f" opacity="0.15"/>
<circle cx="226.15" cy="128.01" r="0.45" fill="#e07a1c" opacity="0.55"/>
<circle cx="239.21" cy="130.93" r="0.6" fill="#e02626" opacity="0.12"/>
<circle cx="223.26" cy="105.58" r="0.4" fill="#c8a020" opacity="0.9"/>
<circle cx="188.48" cy="128.92" r="0.4" fill="#2fd12f" opacity="0.55"/>
<circle cx="203.26" cy="143.93" r="0.6" fill="#e07a1c" opacity="0.3"/>
<circle cx="234.21" cy="149.85" r="0.4" fill="#2fd12f" opacity="0.9"/>
<circle cx="229.87" cy="134.04" r="0.35" fill="#c8a020" opacity="0.3"/>
<circle cx="197.03" cy="131.88" r="0.4" fill="#e02626" opacity="0.9"/>
<circle cx="193.48" cy="111.17" r="0.4" fill="#d6c22a" opacity="0.2"/>
<circle cx="198.84" cy="126.77" r="0.35" fill="#d6c22a" opacity="0.2"/>
<circle cx="190.09" cy="153.7" r="0.45" fill="#e07a1c" opacity="0.12"/>
<circle cx="199.74" cy="138.24" r="0.4" fill="#c8a020" opacity="0.12"/>
<circle cx="171.2" cy="115.52" r="0.6" fill="#d6c22a" opacity="0.12"/>
<circle cx="220.69" cy="123.73" r="0.6" fill="#e07a1c" opacity="0.9"/>
<circle cx="223.78" cy="124.22" r="0.45" fill="#d6c22a" opacity="0.25"/>
<circle cx="202.07" cy="148.48" r="0.3" fill="#c8a020" opacity="0.25"/>
<circle cx="199.18" cy="120.58" r="0.3" fill="#2fd12f" opacity="0.15"/>
<circle cx="215.15" cy="115.72" r="0.35" fill="#e07a1c" opacity="0.3"/>
<circle cx="239.33" cy="97.27" r="0.6" fill="#e02626" opacity="0.25"/>
<circle cx="213.61" cy="124.8" r="0.35" fill="#e07a1c" opacity="0.9"/>
<circle cx="177.21" cy="145.71" r="0.45" fill="#e02626" opacity="0.3"/>
<circle cx="243.72" cy="140.48" r="0.35" fill="#2fd12f" opacity="0.2"/>
<circle cx="211.05" cy="142.47" r="0.4" fill="#c8a020" opacity="0.2"/>
<circle cx="227.56" cy="149.78" r="0.35" fill="#c8a020" opacity="0.3"/>
<circle cx="211.89" cy="129.24" r="0.4" fill="#d6c22a" opacity="0.15"/>
<circle cx="205.05" cy="140.04" r="0.3" fill="#2fd12f" opacity="0.25"/>
<circle cx="224.62" cy="141.42" r="0.4" fill="#c8a020" opacity="0.2"/>
<circle cx="197.87" cy="127" r="0.4" fill="#2fd12f" opacity="0.2"/>
<circle cx="216.75" cy="123.8" r="0.35" fill="#2fd12f" opacity="0.15"/>
<circle cx="233.19" cy="144.68" r="0.3" fill="#c8a020" opacity="0.15"/>
<circle cx="204.43" cy="102.77" r="0.35" fill="#2fd12f" opacity="0.15"/>
<circle cx="211.07" cy="134.34" r="0.45" fill="#d6c22a" opacity="0.12"/>
<circle cx="234.29" cy="97.08" r="0.3" fill="#e07a1c" opacity="0.9"/>
<circle cx="207.87" cy="139.02" r="0.3" fill="#c8a020" opacity="0.12"/>
<circle cx="151.16" cy="101.8" r="0.35" fill="#c8a020" opacity="0.25"/>
<circle cx="202.38" cy="141.76" r="0.3" fill="#2fd12f" opacity="0.25"/>
<circle cx="208.9" cy="113.36" r="0.3" fill="#2fd12f" opacity="0.25"/>
<circle cx="239.79" cy="138.86" r="0.35" fill="#d6c22a" opacity="0.55"/>
<circle cx="207.43" cy="150.62" r="0.35" fill="#2fd12f" opacity="0.55"/>
<circle cx="183.5" cy="145.16" r="0.3" fill="#e07a1c" opacity="0.12"/>
<circle cx="194.61" cy="146.61" r="0.3" fill="#e02626" opacity="0.3"/>
<circle cx="172.26" cy="115.09" r="0.6" fill="#e07a1c" opacity="0.15"/>
<circle cx="204.41" cy="149.21" r="0.3" fill="#c8a020" opacity="0.55"/>
<circle cx="195.75" cy="118.42" r="0.3" fill="#d6c22a" opacity="0.3"/>
<circle cx="242.07" cy="108.49" r="0.45" fill="#2fd12f" opacity="0.12"/>
<circle cx="219.22" cy="122.83" r="0.4" fill="#c8a020" opacity="0.3"/>
<circle cx="216.61" cy="143.38" r="0.6" fill="#2fd12f" opacity="0.9"/>
<circle cx="217.67" cy="137.64" r="0.3" fill="#d6c22a" opacity="0.3"/>
<circle cx="160.55" cy="116.26" r="0.6" fill="#c8a020" opacity="0.55"/>
<circle cx="187.63" cy="129.96" r="0.3" fill="#e07a1c" opacity="0.9"/>
<circle cx="232.89" cy="133.6" r="0.3" fill="#d6c22a" opacity="0.2"/>
<circle cx="238.94" cy="135.76" r="0.3" fill="#c8a020" opacity="0.12"/>
<circle cx="165.51" cy="139.82" r="0.3" fill="#c8a020" opacity="0.12"/>
<circle cx="201.28" cy="125.46" r="0.3" fill="#e02626" opacity="0.15"/>
<circle cx="227.38" cy="127.49" r="0.3" fill="#e02626" opacity="0.4"/>
<circle cx="231.27" cy="138.75" r="0.4" fill="#c8a020" opacity="0.15"/>
<circle cx="188.12" cy="153.45" r="0.4" fill="#e02626" opacity="0.12"/>
<circle cx="232.74" cy="105.54" r="0.3" fill="#e02626" opacity="0.15"/>
<circle cx="204.44" cy="120.55" r="0.4" fill="#d6c22a" opacity="0.15"/>
<circle cx="237.62" cy="116.63" r="0.6" fill="#c8a020" opacity="0.2"/>
<circle cx="190.42" cy="150.9" r="0.4" fill="#e02626" opacity="0.3"/>
<circle cx="175.43" cy="135.37" r="0.3" fill="#e02626" opacity="0.3"/>
<circle cx="200.93" cy="126.63" r="0.4" fill="#d6c22a" opacity="0.12"/>
<circle cx="207.97" cy="118.61" r="0.3" fill="#2fd12f" opacity="0.9"/>
<circle cx="224.75" cy="131.12" r="0.4" fill="#c8a020" opacity="0.9"/>
<circle cx="164.96" cy="139.5" r="0.6" fill="#2fd12f" opacity="0.9"/>
<circle cx="189.61" cy="158.55" r="0.45" fill="#c8a020" opacity="0.9"/>
<circle cx="184.59" cy="143.96" r="0.6" fill="#2fd12f" opacity="0.4"/>
<circle cx="204.32" cy="149.17" r="0.6" fill="#2fd12f" opacity="0.4"/>
<circle cx="216.41" cy="121.64" r="0.6" fill="#2fd12f" opacity="0.2"/>
<circle cx="204.47" cy="119.48" r="0.3" fill="#c8a020" opacity="0.3"/>
<circle cx="186.31" cy="145.27" r="0.6" fill="#c8a020" opacity="0.3"/>
<circle cx="161.94" cy="122.63" r="0.3" fill="#2fd12f" opacity="0.4"/>
<circle cx="210.16" cy="135.55" r="0.3" fill="#d6c22a" opacity="0.12"/>
<circle cx="172.21" cy="133.08" r="0.3" fill="#2fd12f" opacity="0.4"/>
<circle cx="194.53" cy="129.38" r="0.3" fill="#e07a1c" opacity="0.4"/>
<circle cx="233.27" cy="165.52" r="0.3" fill="#c8a020" opacity="0.15"/>
<circle cx="200.01" cy="121.58" r="0.35" fill="#e07a1c" opacity="0.4"/>
<circle cx="236.93" cy="107.78" r="0.3" fill="#d6c22a" opacity="0.12"/>
<circle cx="201.8" cy="152.85" r="0.3" fill="#c8a020" opacity="0.9"/>
<circle cx="222.22" cy="122.81" r="0.3" fill="#e07a1c" opacity="0.25"/>
<circle cx="210.47" cy="143.97" r="0.6" fill="#c8a020" opacity="0.2"/>
<circle cx="219.49" cy="120.55" r="0.35" fill="#e02626" opacity="0.25"/>
<circle cx="223.36" cy="107.04" r="0.3" fill="#c8a020" opacity="0.4"/>
<circle cx="169.39" cy="134.18" r="0.35" fill="#e02626" opacity="0.9"/>
<circle cx="149.24" cy="91.29" r="0.6" fill="#d6c22a" opacity="0.15"/>
<circle cx="219.12" cy="135.64" r="0.45" fill="#e07a1c" opacity="0.9"/>
<circle cx="201.39" cy="145.95" r="0.3" fill="#e07a1c" opacity="0.25"/>
<circle cx="166.04" cy="130.17" r="0.3" fill="#e07a1c" opacity="0.12"/>
<circle cx="241.39" cy="114.77" r="0.6" fill="#2fd12f" opacity="0.2"/>
<circle cx="196.06" cy="95.62" r="0.4" fill="#e07a1c" opacity="0.55"/>
<circle cx="219.12" cy="103.43" r="0.45" fill="#2fd12f" opacity="0.25"/>
<circle cx="225.48" cy="170.79" r="0.6" fill="#e02626" opacity="0.4"/>
<circle cx="237.76" cy="164.43" r="0.5" fill="#a05a18" opacity="0.17"/>
<circle cx="300.67" cy="191.04" r="0.4" fill="#a05a18" opacity="0.21"/>
<circle cx="272.34" cy="120.9" r="0.7" fill="#a05a18" opacity="0.26"/>
<circle cx="279.49" cy="126.33" r="0.4" fill="#a05a18" opacity="0.25"/>
<circle cx="274" cy="169.04" r="0.7" fill="#a05a18" opacity="0.39"/>
<circle cx="264.53" cy="122.54" r="0.5" fill="#a05a18" opacity="0.16"/>
<circle cx="281.34" cy="127.49" r="0.4" fill="#a05a18" opacity="0.34"/>
<circle cx="293.41" cy="140.95" r="0.7" fill="#a05a18" opacity="0.31"/>
<circle cx="275.49" cy="117.64" r="0.4" fill="#a05a18" opacity="0.31"/>
<circle cx="265.01" cy="156.86" r="0.7" fill="#a05a18" opacity="0.27"/>
<circle cx="286.79" cy="183.36" r="0.5" fill="#a05a18" opacity="0.38"/>
<circle cx="261.14" cy="160.28" r="0.4" fill="#a05a18" opacity="0.23"/>
<circle cx="239.38" cy="189.47" r="0.5" fill="#a05a18" opacity="0.22"/>
<circle cx="270.9" cy="117.76" r="0.4" fill="#a05a18" opacity="0.36"/>
<circle cx="239.52" cy="187.22" r="0.4" fill="#a05a18" opacity="0.39"/>
<circle cx="302.37" cy="186.16" r="0.4" fill="#a05a18" opacity="0.35"/>
<circle cx="303.31" cy="186.12" r="0.7" fill="#a05a18" opacity="0.2"/>
<circle cx="256.95" cy="105.16" r="0.7" fill="#a05a18" opacity="0.16"/>
<circle cx="273.37" cy="120.22" r="0.4" fill="#a05a18" opacity="0.2"/>
<circle cx="265.01" cy="154.03" r="0.5" fill="#a05a18" opacity="0.35"/>
<circle cx="280.62" cy="94.59" r="0.4" fill="#a05a18" opacity="0.18"/>
<circle cx="280.34" cy="151.04" r="0.5" fill="#a05a18" opacity="0.14"/>
<circle cx="245.92" cy="192.74" r="0.7" fill="#a05a18" opacity="0.18"/>
<circle cx="291.17" cy="115.54" r="0.7" fill="#a05a18" opacity="0.16"/>
<circle cx="270.76" cy="197.86" r="0.7" fill="#a05a18" opacity="0.26"/>
<circle cx="300.84" cy="133.03" r="0.7" fill="#a05a18" opacity="0.13"/>
<circle cx="283.44" cy="150.63" r="0.5" fill="#a05a18" opacity="0.37"/>
<circle cx="275.57" cy="128.18" r="0.5" fill="#a05a18" opacity="0.38"/>
<circle cx="289.09" cy="162.36" r="0.5" fill="#a05a18" opacity="0.38"/>
<circle cx="238.78" cy="163.4" r="0.7" fill="#a05a18" opacity="0.13"/>
<circle cx="286.48" cy="107.9" r="0.7" fill="#a05a18" opacity="0.26"/>
<circle cx="262.22" cy="181.64" r="0.4" fill="#a05a18" opacity="0.3"/>
<circle cx="277.89" cy="199.02" r="0.7" fill="#a05a18" opacity="0.24"/>
<circle cx="290.29" cy="185.66" r="0.4" fill="#a05a18" opacity="0.18"/>
<circle cx="301.25" cy="99.11" r="0.4" fill="#a05a18" opacity="0.23"/>
<circle cx="250.33" cy="167.18" r="0.4" fill="#a05a18" opacity="0.23"/>
<circle cx="268.71" cy="99.1" r="0.5" fill="#a05a18" opacity="0.39"/>
<circle cx="255.68" cy="165.13" r="0.5" fill="#a05a18" opacity="0.22"/>
<circle cx="270.03" cy="154.52" r="0.7" fill="#a05a18" opacity="0.29"/>
<circle cx="253.31" cy="189.87" r="0.4" fill="#a05a18" opacity="0.39"/>
<circle cx="258.67" cy="180.41" r="0.7" fill="#a05a18" opacity="0.26"/>
<circle cx="278.54" cy="154.23" r="0.5" fill="#a05a18" opacity="0.2"/>
<circle cx="265.26" cy="182.26" r="0.7" fill="#a05a18" opacity="0.36"/>
<circle cx="267.53" cy="100.71" r="0.4" fill="#a05a18" opacity="0.14"/>
<circle cx="296.75" cy="114.75" r="0.4" fill="#a05a18" opacity="0.22"/>
<circle cx="288.32" cy="191.83" r="0.7" fill="#a05a18" opacity="0.13"/>
<circle cx="260.21" cy="170.7" r="0.4" fill="#a05a18" opacity="0.27"/>
<circle cx="267.34" cy="135.3" r="0.7" fill="#a05a18" opacity="0.32"/>
<circle cx="289.57" cy="138.71" r="0.7" fill="#a05a18" opacity="0.33"/>
<circle cx="273.01" cy="128.88" r="0.4" fill="#a05a18" opacity="0.29"/>
<circle cx="271.89" cy="172.96" r="0.7" fill="#a05a18" opacity="0.36"/>
<circle cx="247.83" cy="172.41" r="0.4" fill="#a05a18" opacity="0.25"/>
<circle cx="295.08" cy="110.54" r="0.5" fill="#a05a18" opacity="0.29"/>
<circle cx="303.55" cy="116.59" r="0.5" fill="#a05a18" opacity="0.2"/>
<circle cx="295.69" cy="133.11" r="0.5" fill="#a05a18" opacity="0.23"/>
<circle cx="296.39" cy="137.86" r="0.5" fill="#a05a18" opacity="0.22"/>
<circle cx="281.35" cy="144.27" r="0.4" fill="#a05a18" opacity="0.18"/>
<circle cx="259.39" cy="176.57" r="0.5" fill="#a05a18" opacity="0.39"/>
<circle cx="249.47" cy="97.03" r="0.4" fill="#a05a18" opacity="0.22"/>
<circle cx="299.81" cy="99.94" r="0.4" fill="#a05a18" opacity="0.13"/>
<circle cx="254.01" cy="146.22" r="0.4" fill="#a05a18" opacity="0.31"/>
<circle cx="248.17" cy="199.82" r="0.7" fill="#a05a18" opacity="0.19"/>
<circle cx="276.83" cy="102.41" r="0.7" fill="#a05a18" opacity="0.12"/>
<circle cx="276.92" cy="178.47" r="0.5" fill="#a05a18" opacity="0.21"/>
<circle cx="287.13" cy="157.74" r="0.7" fill="#a05a18" opacity="0.27"/>
<circle cx="263.83" cy="99.37" r="0.7" fill="#a05a18" opacity="0.35"/>
<circle cx="254.8" cy="141.41" r="0.7" fill="#a05a18" opacity="0.28"/>
<circle cx="287.09" cy="174.14" r="0.5" fill="#a05a18" opacity="0.14"/>
<circle cx="291.49" cy="119.04" r="0.4" fill="#a05a18" opacity="0.27"/>
<circle cx="281.69" cy="108.52" r="0.4" fill="#a05a18" opacity="0.12"/>
<circle cx="286.05" cy="169.47" r="0.7" fill="#a05a18" opacity="0.22"/>
<circle cx="301.64" cy="94.12" r="0.4" fill="#a05a18" opacity="0.18"/>
<circle cx="237.45" cy="173.82" r="0.4" fill="#a05a18" opacity="0.17"/>
<circle cx="253.47" cy="166.65" r="0.4" fill="#a05a18" opacity="0.22"/>
<circle cx="259.23" cy="171.24" r="0.5" fill="#a05a18" opacity="0.34"/>
<circle cx="270.78" cy="97.96" r="0.5" fill="#a05a18" opacity="0.38"/>
<circle cx="297.64" cy="152.15" r="0.7" fill="#a05a18" opacity="0.16"/>
<circle cx="250.19" cy="103.57" r="0.7" fill="#a05a18" opacity="0.17"/>
<circle cx="277.99" cy="125.69" r="0.5" fill="#a05a18" opacity="0.28"/>
<circle cx="292.91" cy="99.62" r="0.5" fill="#a05a18" opacity="0.26"/>
<circle cx="279.25" cy="116.23" r="0.7" fill="#a05a18" opacity="0.38"/>
<circle cx="276.48" cy="195.14" r="0.5" fill="#a05a18" opacity="0.16"/>
<circle cx="256.05" cy="172.72" r="0.4" fill="#a05a18" opacity="0.16"/>
<circle cx="292.05" cy="119.36" r="0.4" fill="#a05a18" opacity="0.21"/>
<circle cx="268.39" cy="142.45" r="0.7" fill="#a05a18" opacity="0.34"/>
<circle cx="304.65" cy="107.1" r="0.7" fill="#a05a18" opacity="0.32"/>
<circle cx="269.17" cy="107.76" r="0.5" fill="#a05a18" opacity="0.37"/>
<circle cx="260.45" cy="186.82" r="0.7" fill="#a05a18" opacity="0.39"/>
<circle cx="253.66" cy="172.85" r="0.7" fill="#a05a18" opacity="0.3"/>
<circle cx="269.66" cy="163.78" r="0.5" fill="#a05a18" opacity="0.26"/>
<circle cx="273.91" cy="139.05" r="0.4" fill="#a05a18" opacity="0.35"/>
<circle cx="296.92" cy="123.48" r="0.7" fill="#a05a18" opacity="0.15"/>
<circle cx="291.33" cy="118.12" r="0.4" fill="#a05a18" opacity="0.34"/>
<circle cx="283.06" cy="141.22" r="0.5" fill="#a05a18" opacity="0.28"/>
<circle cx="286.44" cy="163.75" r="0.5" fill="#a05a18" opacity="0.29"/>
<circle cx="271.25" cy="149.23" r="0.5" fill="#a05a18" opacity="0.26"/>
<circle cx="254.31" cy="98.51" r="0.7" fill="#a05a18" opacity="0.28"/>
<circle cx="148.82" cy="198.18" r="0.45" fill="#8a5a18" opacity="0.14"/>
<circle cx="151.01" cy="144.65" r="0.45" fill="#8a5a18" opacity="0.15"/>
<circle cx="181.49" cy="187.88" r="0.45" fill="#8a5a18" opacity="0.27"/>
<circle cx="131.66" cy="195.89" r="0.45" fill="#8a5a18" opacity="0.17"/>
<circle cx="149.43" cy="197.04" r="0.45" fill="#8a5a18" opacity="0.21"/>
<circle cx="108.44" cy="155.88" r="0.45" fill="#8a5a18" opacity="0.12"/>
<circle cx="196.1" cy="180.7" r="0.45" fill="#8a5a18" opacity="0.14"/>
<circle cx="173.39" cy="159.08" r="0.45" fill="#8a5a18" opacity="0.21"/>
<circle cx="114.98" cy="189.97" r="0.45" fill="#8a5a18" opacity="0.26"/>
<circle cx="161.44" cy="181.44" r="0.45" fill="#8a5a18" opacity="0.17"/>
<circle cx="119.75" cy="159.51" r="0.45" fill="#8a5a18" opacity="0.25"/>
<circle cx="159.8" cy="148.08" r="0.45" fill="#8a5a18" opacity="0.15"/>
<circle cx="112.12" cy="166.99" r="0.45" fill="#8a5a18" opacity="0.13"/>
<circle cx="176.93" cy="187.68" r="0.45" fill="#8a5a18" opacity="0.16"/>
<circle cx="157.87" cy="199.52" r="0.45" fill="#8a5a18" opacity="0.22"/>
<circle cx="143.62" cy="198.55" r="0.45" fill="#8a5a18" opacity="0.15"/>
<circle cx="146.78" cy="158.94" r="0.45" fill="#8a5a18" opacity="0.23"/>
<circle cx="189.18" cy="181.35" r="0.45" fill="#8a5a18" opacity="0.14"/>
<circle cx="199.11" cy="183.37" r="0.45" fill="#8a5a18" opacity="0.2"/>
<circle cx="163.02" cy="187.15" r="0.45" fill="#8a5a18" opacity="0.26"/>
<circle cx="152.01" cy="156.13" r="0.45" fill="#8a5a18" opacity="0.22"/>
<circle cx="144.52" cy="167.35" r="0.45" fill="#8a5a18" opacity="0.21"/>
<circle cx="162.13" cy="193.42" r="0.45" fill="#8a5a18" opacity="0.16"/>
<circle cx="133.29" cy="151.07" r="0.45" fill="#8a5a18" opacity="0.12"/>
<circle cx="186.14" cy="195.17" r="0.45" fill="#8a5a18" opacity="0.13"/>
<circle cx="141.14" cy="194.25" r="0.45" fill="#8a5a18" opacity="0.27"/>
<circle cx="198.01" cy="199.55" r="0.45" fill="#8a5a18" opacity="0.16"/>
<circle cx="114.12" cy="154.98" r="0.45" fill="#8a5a18" opacity="0.2"/>
<circle cx="109.41" cy="155.22" r="0.45" fill="#8a5a18" opacity="0.19"/>
<circle cx="119.33" cy="159.82" r="0.45" fill="#8a5a18" opacity="0.12"/>
<circle cx="119.25" cy="146.19" r="0.45" fill="#8a5a18" opacity="0.26"/>
<circle cx="212.3" cy="26.5" r="0.9" fill="#35e035"/>
<circle cx="118.3" cy="64.5" r="0.6" fill="#b89018"/>
<circle cx="253.6" cy="44" r="0.6" fill="#2fd12f"/>
<circle cx="252.6" cy="80.2" r="0.8" fill="#2fe02f"/>
<circle cx="269.6" cy="83.5" r="0.6" fill="#e02626"/>
<circle cx="278.4" cy="89.5" r="0.6" fill="#e02626"/>
<circle cx="209.5" cy="170.5" r="0.7" fill="#2fd12f"/>
<circle cx="214" cy="173" r="0.6" fill="#2fd12f"/>
<circle cx="200" cy="163.5" r="0.6" fill="#2fd12f"/>
<circle cx="152.5" cy="133.2" r="0.7" fill="#2fd12f"/>
<circle cx="238.5" cy="200.8" r="0.9" fill="#35e035"/>
<circle cx="296" cy="60" r="0.7" fill="#a03060"/>
<circle cx="303.5" cy="63" r="0.7" fill="#a03060"/>
<circle cx="305" cy="74" r="0.5" fill="#2fd12f"/>
</g>
<g filter="url(#b05)">
<path d="M191.2,70.5 C191.37,65.5 191.23,67.5 194.5,62.5 C197.77,57.5 195.5,59.73 201,55.5 C206.5,51.27 204,52.23 211,49.8 C218,47.37 214.67,48.4 222,48.2 C229.33,48 226.67,47.27 233,49.2 C239.33,51.13 237.13,49.73 241,54 C244.87,58.27 243.33,56.67 244.6,62 C245.87,67.33 245.67,64.83 244.8,70 C243.93,75.17 245.1,73.4 242,77.5 C238.9,81.6 241.17,80.27 235.5,82.3 C229.83,84.33 232.83,83.3 225,83.6 C217.17,83.9 220,83.87 212,83.2 C204,82.53 207,83.5 201,81.6 C195,79.7 197.27,81.2 194,77.5 C190.73,73.8 191.03,75.5 191.2,70.5 Z" fill="url(#nuc)"/>
<path d="M205,108.6 C212,108.33 209.33,107.47 215,109.6 C220.67,111.73 218.5,110.2 222,115 C225.5,119.8 224.17,118.33 225.5,124 C226.83,129.67 226.83,126.33 226,132 C225.17,137.67 226,135.33 223,141 C220,146.67 221.5,144.67 217,149 C212.5,153.33 214.17,152.6 209.5,154 C204.83,155.4 207.5,155.2 203,153.2 C198.5,151.2 200.33,152.07 196,148 C191.67,143.93 193.33,146 190,141 C186.67,136 187.67,138.67 186,133 C184.33,127.33 184.67,129.67 185,124 C185.33,118.33 184,120.53 187,116 C190,111.47 188,112.87 194,110.4 C200,107.93 198,108.87 205,108.6 Z" fill="url(#nuc)"/>
</g>
<g filter="url(#b03)">
<circle cx="221.61" cy="65.77" r="0.7" fill="#e040a0" opacity="0.81"/>
<circle cx="209.84" cy="81.5" r="0.35" fill="#c8c8ff" opacity="0.48"/>
<circle cx="228.58" cy="65.81" r="0.35" fill="#e8e8ff" opacity="0.68"/>
<circle cx="225.22" cy="54.57" r="0.55" fill="#c8c8ff" opacity="0.58"/>
<circle cx="208.16" cy="68.21" r="0.45" fill="#ffffff" opacity="0.63"/>
<circle cx="188.9" cy="52.65" r="0.45" fill="#c8c8ff" opacity="0.86"/>
<circle cx="207.24" cy="65.4" r="0.45" fill="#e040a0" opacity="0.7"/>
<circle cx="201.21" cy="74.85" r="0.45" fill="#e040a0" opacity="0.74"/>
<circle cx="211.67" cy="55.35" r="0.35" fill="#c8c8ff" opacity="0.95"/>
<circle cx="234.37" cy="65.01" r="0.35" fill="#ffffff" opacity="0.88"/>
<circle cx="215.18" cy="63.75" r="0.55" fill="#ffffff" opacity="0.62"/>
<circle cx="207.79" cy="74.78" r="0.55" fill="#c8c8ff" opacity="1"/>
<circle cx="216.96" cy="59.73" r="0.55" fill="#ffd0ff" opacity="0.87"/>
<circle cx="210.94" cy="81.96" r="0.35" fill="#f0e060" opacity="0.83"/>
<circle cx="198.36" cy="69.18" r="0.7" fill="#f0e060" opacity="0.65"/>
<circle cx="219.46" cy="59.15" r="0.7" fill="#f0e060" opacity="0.55"/>
<circle cx="217.2" cy="68.09" r="0.45" fill="#f0e060" opacity="0.64"/>
<circle cx="225.93" cy="75.56" r="0.45" fill="#ffffff" opacity="0.57"/>
<circle cx="217.65" cy="68.28" r="0.55" fill="#ffffff" opacity="0.91"/>
<circle cx="224.4" cy="79.69" r="0.55" fill="#40e060" opacity="0.59"/>
<circle cx="217.68" cy="67.66" r="0.35" fill="#e040a0" opacity="0.48"/>
<circle cx="215.13" cy="75.61" r="0.45" fill="#e8e8ff" opacity="0.87"/>
<circle cx="222.03" cy="81.33" r="0.45" fill="#ffd0ff" opacity="0.59"/>
<circle cx="244.48" cy="74.39" r="0.35" fill="#e040a0" opacity="0.55"/>
<circle cx="233.88" cy="83.38" r="0.35" fill="#40e060" opacity="0.53"/>
<circle cx="238.66" cy="72.24" r="0.35" fill="#ffffff" opacity="0.79"/>
<circle cx="209.12" cy="82.05" r="0.35" fill="#40e060" opacity="0.89"/>
<circle cx="216.12" cy="69.41" r="0.35" fill="#ffd0ff" opacity="0.73"/>
<circle cx="219.26" cy="62.09" r="0.55" fill="#e040a0" opacity="0.89"/>
<circle cx="216.25" cy="63.63" r="0.45" fill="#ffffff" opacity="0.78"/>
<circle cx="217.29" cy="62.73" r="0.35" fill="#e040a0" opacity="0.59"/>
<circle cx="204.37" cy="68.61" r="0.7" fill="#ffffff" opacity="0.54"/>
<circle cx="224.21" cy="57.55" r="0.45" fill="#ffffff" opacity="0.96"/>
<circle cx="207.75" cy="59.62" r="0.7" fill="#ffffff" opacity="0.55"/>
<circle cx="208.17" cy="67.53" r="0.7" fill="#ffffff" opacity="0.57"/>
<circle cx="208.97" cy="79.67" r="0.7" fill="#e040a0" opacity="0.92"/>
<circle cx="231.13" cy="74.23" r="0.35" fill="#ffffff" opacity="0.7"/>
<circle cx="238.72" cy="61.18" r="0.7" fill="#e8e8ff" opacity="0.64"/>
<circle cx="233.18" cy="74.18" r="0.7" fill="#40e060" opacity="0.81"/>
<circle cx="219.08" cy="57.02" r="0.45" fill="#ffd0ff" opacity="0.77"/>
<circle cx="210.44" cy="64.42" r="0.35" fill="#40e060" opacity="0.84"/>
<circle cx="215.1" cy="55.67" r="0.55" fill="#c8c8ff" opacity="1"/>
<circle cx="213.32" cy="75.03" r="0.35" fill="#40e060" opacity="0.88"/>
<circle cx="239.34" cy="68.33" r="0.35" fill="#40e060" opacity="0.68"/>
<circle cx="203.54" cy="53.41" r="0.35" fill="#e8e8ff" opacity="0.8"/>
<circle cx="219" cy="57.37" r="0.45" fill="#ffd0ff" opacity="0.55"/>
<circle cx="224.23" cy="64.23" r="0.55" fill="#ffd0ff" opacity="0.97"/>
<circle cx="198.72" cy="72.59" r="0.35" fill="#e8e8ff" opacity="0.68"/>
<circle cx="226.31" cy="68.01" r="0.45" fill="#e8e8ff" opacity="1"/>
<circle cx="206.55" cy="64.22" r="0.45" fill="#ffffff" opacity="0.74"/>
<circle cx="221.93" cy="72.3" r="0.35" fill="#e8e8ff" opacity="0.77"/>
<circle cx="212.38" cy="53.48" r="0.35" fill="#ffd0ff" opacity="0.49"/>
<circle cx="202.32" cy="62" r="0.35" fill="#ffffff" opacity="0.51"/>
<circle cx="204.71" cy="65.55" r="0.55" fill="#ffffff" opacity="0.78"/>
<circle cx="217.74" cy="75.96" r="0.7" fill="#ffffff" opacity="0.76"/>
<circle cx="231.63" cy="71.88" r="0.35" fill="#ffffff" opacity="0.9"/>
<circle cx="207.59" cy="64.44" r="0.7" fill="#ffffff" opacity="0.66"/>
<circle cx="216.02" cy="62.21" r="0.45" fill="#ffffff" opacity="0.76"/>
<circle cx="230.94" cy="65.77" r="0.35" fill="#ffffff" opacity="0.93"/>
<circle cx="225.19" cy="66.84" r="0.55" fill="#e8e8ff" opacity="0.97"/>
<circle cx="190.45" cy="72.47" r="0.35" fill="#e040a0" opacity="0.88"/>
<circle cx="202.9" cy="56.29" r="0.45" fill="#ffffff" opacity="0.5"/>
<circle cx="198.13" cy="65.82" r="0.7" fill="#ffd0ff" opacity="0.99"/>
<circle cx="212.31" cy="71.94" r="0.45" fill="#f0e060" opacity="0.98"/>
<circle cx="210.86" cy="59.78" r="0.7" fill="#c8c8ff" opacity="0.79"/>
<circle cx="220.31" cy="77.74" r="0.45" fill="#c8c8ff" opacity="0.65"/>
<circle cx="232.09" cy="60.14" r="0.7" fill="#c8c8ff" opacity="0.58"/>
<circle cx="206.48" cy="64.69" r="0.35" fill="#ffffff" opacity="0.8"/>
<circle cx="210.09" cy="74.48" r="0.45" fill="#f0e060" opacity="0.68"/>
<circle cx="210.1" cy="66.59" r="0.55" fill="#e040a0" opacity="0.97"/>
<circle cx="207.23" cy="121.58" r="0.7" fill="#f0e060" opacity="0.83"/>
<circle cx="200.35" cy="129.54" r="0.7" fill="#ffffff" opacity="0.5"/>
<circle cx="226.08" cy="120.06" r="0.45" fill="#ffffff" opacity="0.65"/>
<circle cx="208.7" cy="123.63" r="0.45" fill="#e040a0" opacity="0.8"/>
<circle cx="206.88" cy="130.48" r="0.35" fill="#c8c8ff" opacity="0.87"/>
<circle cx="197.69" cy="146.08" r="0.7" fill="#c8c8ff" opacity="0.63"/>
<circle cx="214.51" cy="130.93" r="0.45" fill="#e040a0" opacity="0.89"/>
<circle cx="193.65" cy="131.96" r="0.35" fill="#ffffff" opacity="0.57"/>
<circle cx="216.99" cy="132.34" r="0.7" fill="#ffffff" opacity="0.76"/>
<circle cx="219.29" cy="138.73" r="0.55" fill="#ffd0ff" opacity="0.79"/>
<circle cx="215.2" cy="126.58" r="0.55" fill="#c8c8ff" opacity="0.65"/>
<circle cx="213.28" cy="148.73" r="0.55" fill="#f0e060" opacity="0.78"/>
<circle cx="191.64" cy="159.26" r="0.35" fill="#40e060" opacity="0.82"/>
<circle cx="202.35" cy="137.73" r="0.45" fill="#ffffff" opacity="0.87"/>
<circle cx="199.83" cy="134.6" r="0.7" fill="#e040a0" opacity="0.68"/>
<circle cx="213.02" cy="119.4" r="0.35" fill="#40e060" opacity="0.52"/>
<circle cx="201.07" cy="104.37" r="0.7" fill="#ffffff" opacity="0.98"/>
<circle cx="212.14" cy="130.27" r="0.55" fill="#e040a0" opacity="0.62"/>
<circle cx="181.81" cy="136.87" r="0.45" fill="#ffffff" opacity="0.62"/>
<circle cx="193.45" cy="107.89" r="0.35" fill="#c8c8ff" opacity="0.51"/>
<circle cx="200.79" cy="126.66" r="0.35" fill="#ffffff" opacity="0.82"/>
<circle cx="218.14" cy="127.63" r="0.7" fill="#f0e060" opacity="0.64"/>
<circle cx="204" cy="141.24" r="0.35" fill="#e040a0" opacity="0.86"/>
<circle cx="199.56" cy="126.88" r="0.35" fill="#40e060" opacity="0.7"/>
<circle cx="214.47" cy="141.24" r="0.55" fill="#c8c8ff" opacity="0.59"/>
<circle cx="215.28" cy="120.58" r="0.7" fill="#40e060" opacity="0.7"/>
<circle cx="196.84" cy="135.58" r="0.35" fill="#ffffff" opacity="0.61"/>
<circle cx="203.72" cy="123.86" r="0.35" fill="#ffd0ff" opacity="0.83"/>
<circle cx="206.87" cy="121.59" r="0.35" fill="#f0e060" opacity="0.81"/>
<circle cx="201.01" cy="104.35" r="0.7" fill="#ffd0ff" opacity="0.69"/>
<circle cx="203.92" cy="141.89" r="0.45" fill="#40e060" opacity="0.51"/>
<circle cx="206.13" cy="117.26" r="0.35" fill="#ffffff" opacity="0.94"/>
<circle cx="200.18" cy="133.24" r="0.35" fill="#e040a0" opacity="0.75"/>
<circle cx="198.29" cy="130.16" r="0.7" fill="#ffffff" opacity="0.72"/>
<circle cx="191.76" cy="132.6" r="0.35" fill="#ffffff" opacity="0.81"/>
<circle cx="192.98" cy="130.6" r="0.45" fill="#ffffff" opacity="0.51"/>
<circle cx="209.25" cy="122.63" r="0.7" fill="#ffffff" opacity="0.48"/>
<circle cx="207.9" cy="146.64" r="0.55" fill="#ffffff" opacity="0.84"/>
<circle cx="197.94" cy="143.87" r="0.55" fill="#ffffff" opacity="0.62"/>
<circle cx="204.74" cy="129.52" r="0.45" fill="#c8c8ff" opacity="0.66"/>
<circle cx="207.54" cy="113.08" r="0.7" fill="#ffffff" opacity="0.79"/>
<circle cx="196.38" cy="133.12" r="0.45" fill="#e8e8ff" opacity="0.85"/>
<circle cx="203.4" cy="132.65" r="0.7" fill="#e8e8ff" opacity="0.61"/>
<circle cx="211.08" cy="153" r="0.55" fill="#ffffff" opacity="0.49"/>
<circle cx="196.33" cy="107" r="0.45" fill="#ffd0ff" opacity="0.58"/>
<circle cx="220.09" cy="149.89" r="0.55" fill="#f0e060" opacity="0.73"/>
<circle cx="205.41" cy="115.94" r="0.35" fill="#ffffff" opacity="0.81"/>
<circle cx="188.62" cy="133.18" r="0.7" fill="#f0e060" opacity="0.8"/>
<circle cx="216.93" cy="132.98" r="0.35" fill="#c8c8ff" opacity="0.9"/>
<circle cx="195.01" cy="135.33" r="0.7" fill="#f0e060" opacity="0.51"/>
<circle cx="198.66" cy="133.07" r="0.55" fill="#ffffff" opacity="0.61"/>
<circle cx="194.63" cy="140.99" r="0.7" fill="#40e060" opacity="0.49"/>
<circle cx="218.2" cy="135.43" r="0.45" fill="#ffffff" opacity="0.52"/>
<circle cx="206.36" cy="137.95" r="0.7" fill="#40e060" opacity="0.77"/>
<circle cx="173.12" cy="124.97" r="0.35" fill="#ffffff" opacity="0.51"/>
<circle cx="203.43" cy="136.78" r="0.7" fill="#e040a0" opacity="0.65"/>
<circle cx="201.69" cy="102.86" r="0.35" fill="#ffffff" opacity="0.83"/>
<circle cx="215.81" cy="126.48" r="0.45" fill="#ffffff" opacity="0.94"/>
<circle cx="209.24" cy="136.41" r="0.35" fill="#e8e8ff" opacity="0.86"/>
<circle cx="204.07" cy="136.34" r="0.55" fill="#f0e060" opacity="0.62"/>
</g>
<path d="M221.35,24.1 Q229,25.8 235.75,29.15 Q242.5,32.5 249.25,38.15 Q256,43.8 261.65,52.8 Q267.3,61.8 272.9,69.65 Q278.5,77.5 282.65,82.55 Q286.8,87.6 283.9,89.55 Q281,91.5 277.5,92.4 Q274,93.3 265,94.4 Q256,95.5 247,94.95 Q238,94.4 229,93.2 Q220,92 208.75,91.5 Q197.5,91 186.25,89.9 Q175,88.8 163.75,87.1 Q152.5,85.4 148.25,83.7 Q144,82 143.2,78.65 Q142.4,75.3 144.1,71.9 Q145.8,68.5 152.55,63.45 Q159.3,58.4 167.15,52.7 Q175,47 184,41.45 Q193,35.9 199.75,31.4 Q206.5,26.9 210.1,24.65 Q213.7,22.4 221.35,24.1 Z" fill="none" stroke="#c4c4be" stroke-width="0.55" stroke-dasharray="0.9 0.5" opacity="0.8"/>
<path d="M147.75,94.05 Q147.5,102.5 146.65,111.5 Q145.8,120.5 144.4,128.4 Q143,136.3 144.95,139.1 Q146.9,141.9 153.1,143 Q159.3,144.1 167.15,149.2 Q175,154.3 182.9,160.45 Q190.8,166.6 196.4,170.55 Q202,174.5 205.95,176.2 Q209.9,177.9 214.95,176.75 Q220,175.6 226.75,171.7 Q233.5,167.8 238,163.3 Q242.5,158.8 244.75,153.15 Q247,147.5 247.55,136.25 Q248.1,125 248.35,113.75 Q248.6,102.5 248.6,99.35 Q248.6,96.2 243.3,95.4 Q238,94.6 229,94.3 Q220,94 208.75,93.2 Q197.5,92.4 186.25,91.25 Q175,90.1 166,88.65 Q157,87.2 152.5,86.4 Q148,85.6 147.75,94.05 Z" fill="none" stroke="#c4c4be" stroke-width="0.55" stroke-dasharray="0.9 0.5" opacity="0.8"/>
<rect x="221.4" y="52.2" width="5.2" height="5.2" fill="none" stroke="#b8b028" stroke-width="0.8"/>
<rect x="193.4" y="66.9" width="5.2" height="5.2" fill="none" stroke="#c0b850" stroke-width="0.8"/>
<rect x="211.4" y="82.4" width="5.2" height="5.2" fill="none" stroke="#c0b028" stroke-width="0.8"/>
<rect x="244.4" y="76.4" width="5.2" height="5.2" fill="none" stroke="#b0a828" stroke-width="0.8"/>
<rect x="199.4" y="117.9" width="5.2" height="5.2" fill="none" stroke="#b8ac30" stroke-width="0.8"/>
<rect x="208.4" y="123.6" width="5.2" height="5.2" fill="none" stroke="#b8ac30" stroke-width="0.8"/>
<circle cx="224" cy="54.8" r="0.9" fill="#e03090"/>
<circle cx="214" cy="85" r="1.1" fill="#f07018"/>
<circle cx="247" cy="79" r="0.8" fill="#30d030"/><circle cx="252.4" cy="80.4" r="1.0" fill="#30d030"/>
<circle cx="196" cy="69.5" r="0.9" fill="#ffffff"/>
<circle cx="202" cy="120.5" r="0.6" fill="#ffffff"/>
<circle cx="211" cy="126.1" r="0.6" fill="#f0f0a0"/>
<rect x="277.4" y="197.5" width="26.4" height="2.1" fill="#9a9a9a"/>
</g>
<rect x="309.7" y="1.6" width="64.2" height="64.3" fill="#000"/>
<line x1="341.8" y1="1.6" x2="341.8" y2="65.9" stroke="#e6e6e6" stroke-width="1"/>
<line x1="309.7" y1="33.75" x2="373.9" y2="33.75" stroke="#e6e6e6" stroke-width="1"/>
<g clip-path="url(#cpA)">
<ellipse cx="327" cy="7.5" rx="4.5" ry="3.2" fill="url(#g7)" filter="url(#b2)" opacity="0.8"/>
<ellipse cx="359.5" cy="40.2" rx="4.5" ry="3.2" fill="url(#g8)" filter="url(#b2)" opacity="0.8"/>
<ellipse cx="339.5" cy="14.5" rx="1.8" ry="2.2" fill="url(#g9)" filter="url(#b1)" opacity="0.7"/>
<ellipse cx="372.5" cy="48" rx="1.8" ry="2.4" fill="url(#g10)" filter="url(#b1)" opacity="0.7"/>
<ellipse cx="327.3" cy="17.2" rx="4.8" ry="4" fill="url(#g11)" filter="url(#b1)" opacity="1"/>
<ellipse cx="359.8" cy="50.3" rx="4.8" ry="4" fill="url(#g12)" filter="url(#b1)" opacity="1"/>
</g>
<line x1="341.8" y1="1.6" x2="341.8" y2="65.9" stroke="#e6e6e6" stroke-width="1"/>
<rect x="309.7" y="69.4" width="64.2" height="63.6" fill="#000"/>
<line x1="341.8" y1="69.4" x2="341.8" y2="133" stroke="#e6e6e6" stroke-width="1"/>
<line x1="309.7" y1="101.5" x2="373.9" y2="101.5" stroke="#e6e6e6" stroke-width="1"/>
<ellipse cx="327.4" cy="116.3" rx="4.8" ry="3.7" fill="url(#g13)" filter="url(#b1)" opacity="1"/>
<ellipse cx="360.2" cy="116.3" rx="4.8" ry="3.7" fill="url(#g14)" filter="url(#b1)" opacity="1"/>
<ellipse cx="333.5" cy="110.5" rx="1.6" ry="1.4" fill="url(#g15)" filter="url(#b1)" opacity="0.8"/>
<ellipse cx="366.5" cy="110.5" rx="1.6" ry="1.4" fill="url(#g16)" filter="url(#b1)" opacity="0.8"/>
<rect x="309.7" y="136" width="64.2" height="64.6" fill="#000"/>
<line x1="341.8" y1="136" x2="341.8" y2="200.6" stroke="#e6e6e6" stroke-width="1"/>
<line x1="309.7" y1="168.4" x2="373.9" y2="168.4" stroke="#e6e6e6" stroke-width="1"/>
<ellipse cx="359" cy="150.3" rx="3.9" ry="5" fill="url(#g17)" filter="url(#b1)" opacity="1" transform="rotate(-15 359 150.3)"/>
<ellipse cx="359" cy="183.5" rx="3.9" ry="5" fill="url(#g18)" filter="url(#b1)" opacity="1" transform="rotate(-15 359 183.5)"/>
<text x="381" y="37.17" font-size="7.7" text-anchor="middle" font-weight="normal" fill="#1c1c1c" transform="rotate(90 381 34.4)" stroke="#1c1c1c" stroke-width="0.14">ACTB</text>
<text x="381" y="105.27" font-size="7.7" text-anchor="middle" font-weight="normal" fill="#1c1c1c" transform="rotate(90 381 102.5)" stroke="#1c1c1c" stroke-width="0.14">BSG</text>
<text x="381" y="171.07" font-size="7.7" text-anchor="middle" font-weight="normal" fill="#1c1c1c" transform="rotate(90 381 168.3)" stroke="#1c1c1c" stroke-width="0.14">TPT1</text>
<rect x="106" y="204.5" width="64.7" height="63.7" fill="#000"/>
<line x1="138.2" y1="204.5" x2="138.2" y2="268.2" stroke="#e6e6e6" stroke-width="1"/>
<line x1="106" y1="236.3" x2="170.7" y2="236.3" stroke="#e6e6e6" stroke-width="1"/>
<ellipse cx="127.9" cy="232.3" rx="3.4" ry="2" fill="url(#g19)" filter="url(#b1)" opacity="0.9" transform="rotate(-30 127.9 232.3)"/>
<ellipse cx="121.9" cy="221.8" rx="5.2" ry="5" fill="url(#g20)" filter="url(#b1)" opacity="1"/>
<ellipse cx="119.6" cy="216.6" rx="2.4" ry="2.4" fill="url(#g21)" filter="url(#b1)" opacity="0.9"/>
<ellipse cx="128" cy="264.6" rx="3.4" ry="2" fill="url(#g22)" filter="url(#b1)" opacity="0.9" transform="rotate(-30 128 264.6)"/>
<ellipse cx="121" cy="254.2" rx="5.2" ry="5" fill="url(#g23)" filter="url(#b1)" opacity="1"/>
<ellipse cx="119" cy="249" rx="2.4" ry="2.4" fill="url(#g24)" filter="url(#b1)" opacity="0.9"/>
<ellipse cx="161.2" cy="264.6" rx="3.4" ry="2" fill="url(#g25)" filter="url(#b1)" opacity="0.9" transform="rotate(-30 161.2 264.6)"/>
<ellipse cx="154.6" cy="254.6" rx="5.2" ry="5" fill="url(#g26)" filter="url(#b1)" opacity="1"/>
<ellipse cx="152.4" cy="249.4" rx="2.4" ry="2.4" fill="url(#g27)" filter="url(#b1)" opacity="0.9"/>
<rect x="173.7" y="204.5" width="64.7" height="63.7" fill="#000"/>
<line x1="206.3" y1="204.5" x2="206.3" y2="268.2" stroke="#e6e6e6" stroke-width="1"/>
<line x1="173.7" y1="236.3" x2="238.4" y2="236.3" stroke="#e6e6e6" stroke-width="1"/>
<ellipse cx="188.1" cy="217.9" rx="6.6" ry="5.2" fill="url(#g28)" filter="url(#b1)" opacity="1" transform="rotate(-10 188.1 217.9)"/>
<ellipse cx="221.5" cy="217.9" rx="6.4" ry="5.2" fill="url(#g29)" filter="url(#b1)" opacity="1" transform="rotate(-10 221.5 217.9)"/>
<ellipse cx="221.9" cy="249.9" rx="6.4" ry="5.4" fill="url(#g30)" filter="url(#b1)" opacity="1" transform="rotate(-10 221.9 249.9)"/>
<rect x="242.6" y="204.5" width="64.3" height="63.7" fill="#000"/>
<line x1="274.5" y1="204.5" x2="274.5" y2="268.2" stroke="#e6e6e6" stroke-width="1"/>
<line x1="242.6" y1="236.3" x2="306.9" y2="236.3" stroke="#e6e6e6" stroke-width="1"/>
<ellipse cx="290.4" cy="221.2" rx="5.2" ry="4.6" fill="url(#g31)" filter="url(#b1)" opacity="1"/>
<ellipse cx="265.2" cy="246" rx="3" ry="1.4" fill="url(#g32)" filter="url(#b1)" opacity="0.9" transform="rotate(-35 265.2 246)"/>
<ellipse cx="258.2" cy="253.4" rx="5" ry="4.8" fill="url(#g33)" filter="url(#b1)" opacity="1"/>
<ellipse cx="297" cy="245.6" rx="3" ry="1.4" fill="url(#g34)" filter="url(#b1)" opacity="0.9" transform="rotate(-35 297 245.6)"/>
<ellipse cx="290.4" cy="253.4" rx="5" ry="4.8" fill="url(#g35)" filter="url(#b1)" opacity="1"/>
<rect x="310" y="204.5" width="64" height="63.7" fill="#000"/>
<text x="329" y="216.77" font-size="7.7" text-anchor="start" font-weight="normal" fill="#22e022" stroke="#22e022" stroke-width="0.14">ACTB</text>
<text x="329" y="226.05" font-size="7.7" text-anchor="start" font-weight="normal" fill="#f02020" stroke="#f02020" stroke-width="0.14">BSG</text>
<text x="329" y="235.33" font-size="7.7" text-anchor="start" font-weight="normal" fill="#d2aa22" stroke="#d2aa22" stroke-width="0.14">TPT1</text>
<text x="329" y="244.61" font-size="7.7" text-anchor="start" font-weight="normal" fill="#d2d222" stroke="#d2d222" stroke-width="0.14">TUG1</text>
<text x="329" y="253.89" font-size="7.7" text-anchor="start" font-weight="normal" fill="#c8e028" stroke="#c8e028" stroke-width="0.14">MALAT1</text>
<text x="329" y="263.17" font-size="7.7" text-anchor="start" font-weight="normal" fill="#e88a20" stroke="#e88a20" stroke-width="0.14">LUCAT1</text>
<text x="139.8" y="276.77" font-size="7.7" text-anchor="middle" font-weight="normal" fill="#1c1c1c" stroke="#1c1c1c" stroke-width="0.14">TUG1</text>
<text x="206.5" y="276.77" font-size="7.7" text-anchor="middle" font-weight="normal" fill="#1c1c1c" stroke="#1c1c1c" stroke-width="0.14">MALAT1</text>
<text x="274.6" y="276.77" font-size="7.7" text-anchor="middle" font-weight="normal" fill="#1c1c1c" stroke="#1c1c1c" stroke-width="0.14">LUCAT1</text>
<text x="397.8" y="17.3" font-size="16.5" fill="#111">b</text>
<rect x="458.4" y="22" width="3.1" height="18.22" fill="#97c0f3"/>
<rect x="460.9" y="22" width="3.1" height="18.22" fill="#98c0f3"/>
<rect x="463.41" y="22" width="3.1" height="18.22" fill="#98c1f3"/>
<rect x="465.91" y="22" width="3.1" height="18.22" fill="#95bff2"/>
<rect x="468.42" y="22" width="3.1" height="18.22" fill="#95bff2"/>
<rect x="470.92" y="22" width="3.1" height="18.22" fill="#a2c6f4"/>
<rect x="473.43" y="22" width="3.1" height="18.22" fill="#9ac2f3"/>
<rect x="475.93" y="22" width="3.1" height="18.22" fill="#95bff2"/>
<rect x="478.44" y="22" width="3.1" height="18.22" fill="#c7ddf8"/>
<rect x="480.94" y="22" width="3.1" height="18.22" fill="#f1f6fd"/>
<rect x="483.45" y="22" width="3.1" height="18.22" fill="#d1e3fa"/>
<rect x="485.95" y="22" width="3.1" height="18.22" fill="#fefafa"/>
<rect x="488.46" y="22" width="3.1" height="18.22" fill="#fefafa"/>
<rect x="490.96" y="22" width="3.1" height="18.22" fill="#d9e8fb"/>
<rect x="493.47" y="22" width="3.1" height="18.22" fill="#d6e6fa"/>
<rect x="495.97" y="22" width="3.1" height="18.22" fill="#d8e8fa"/>
<rect x="498.48" y="22" width="3.1" height="18.22" fill="#e9f1fc"/>
<rect x="500.98" y="22" width="3.1" height="18.22" fill="#f3f8fe"/>
<rect x="503.49" y="22" width="3.1" height="18.22" fill="#f6fafe"/>
<rect x="505.99" y="22" width="3.1" height="18.22" fill="#dceafb"/>
<rect x="508.5" y="22" width="3.1" height="18.22" fill="#e2edfc"/>
<rect x="511" y="22" width="3.1" height="18.22" fill="#e2edfc"/>
<rect x="513.51" y="22" width="3.1" height="18.22" fill="#cce0f9"/>
<rect x="516.01" y="22" width="3.1" height="18.22" fill="#d6e6fa"/>
<rect x="518.52" y="22" width="3.1" height="18.22" fill="#fffefe"/>
<rect x="521.02" y="22" width="3.1" height="18.22" fill="#fdf0f2"/>
<rect x="523.52" y="22" width="3.1" height="18.22" fill="#f5f9fe"/>
<rect x="526.03" y="22" width="3.1" height="18.22" fill="#e9f2fc"/>
<rect x="528.53" y="22" width="3.1" height="18.22" fill="#dbe9fb"/>
<rect x="531.04" y="22" width="3.1" height="18.22" fill="#ddeafb"/>
<rect x="533.54" y="22" width="3.1" height="18.22" fill="#d6e6fa"/>
<rect x="536.05" y="22" width="3.1" height="18.22" fill="#d2e4fa"/>
<rect x="538.55" y="22" width="3.1" height="18.22" fill="#d3e4fa"/>
<rect x="541.06" y="22" width="3.1" height="18.22" fill="#dae8fb"/>
<rect x="543.56" y="22" width="3.1" height="18.22" fill="#d3e4fa"/>
<rect x="546.07" y="22" width="3.1" height="18.22" fill="#f9fbfe"/>
<rect x="548.57" y="22" width="3.1" height="18.22" fill="#dceafb"/>
<rect x="551.08" y="22" width="3.1" height="18.22" fill="#fdfeff"/>
<rect x="553.58" y="22" width="3.1" height="18.22" fill="#fefeff"/>
<rect x="556.09" y="22" width="3.1" height="18.22" fill="#f2f7fd"/>
<rect x="558.59" y="22" width="3.1" height="18.22" fill="#f6fafe"/>
<rect x="561.1" y="22" width="3.1" height="18.22" fill="#f4f8fe"/>
<rect x="563.6" y="22" width="3.1" height="18.22" fill="#f2f7fe"/>
<rect x="566.11" y="22" width="3.1" height="18.22" fill="#fef5f6"/>
<rect x="568.61" y="22" width="3.1" height="18.22" fill="#fef3f4"/>
<rect x="571.12" y="22" width="3.1" height="18.22" fill="#fef5f6"/>
<rect x="573.62" y="22" width="3.1" height="18.22" fill="#fdecee"/>
<rect x="576.13" y="22" width="3.1" height="18.22" fill="#fef2f3"/>
<rect x="578.63" y="22" width="3.1" height="18.22" fill="#fce4e6"/>
<rect x="581.14" y="22" width="3.1" height="18.22" fill="#fdeef0"/>
<rect x="583.64" y="22" width="3.1" height="18.22" fill="#fad2d6"/>
<rect x="586.15" y="22" width="3.1" height="18.22" fill="#fcdee1"/>
<rect x="588.65" y="22" width="3.1" height="18.22" fill="#fbdde0"/>
<rect x="591.15" y="22" width="3.1" height="18.22" fill="#fce7e9"/>
<rect x="593.66" y="22" width="3.1" height="18.22" fill="#fef2f3"/>
<rect x="596.16" y="22" width="3.1" height="18.22" fill="#fefafa"/>
<rect x="598.67" y="22" width="3.1" height="18.22" fill="#fbd7db"/>
<rect x="601.17" y="22" width="3.1" height="18.22" fill="#f9cace"/>
<rect x="603.68" y="22" width="3.1" height="18.22" fill="#fad0d4"/>
<rect x="606.18" y="22" width="3.1" height="18.22" fill="#f9c9ce"/>
<rect x="608.69" y="22" width="3.1" height="18.22" fill="#fdebed"/>
<rect x="611.19" y="22" width="3.1" height="18.22" fill="#f8bec3"/>
<rect x="613.7" y="22" width="3.1" height="18.22" fill="#fad3d6"/>
<rect x="616.2" y="22" width="3.1" height="18.22" fill="#fad2d6"/>
<rect x="618.71" y="22" width="3.1" height="18.22" fill="#fdeced"/>
<rect x="621.21" y="22" width="3.1" height="18.22" fill="#f9c3c8"/>
<rect x="623.72" y="22" width="3.1" height="18.22" fill="#fbdadd"/>
<rect x="626.22" y="22" width="3.1" height="18.22" fill="#fbd9dc"/>
<rect x="628.73" y="22" width="3.1" height="18.22" fill="#fce7e9"/>
<rect x="631.23" y="22" width="3.1" height="18.22" fill="#f8c1c6"/>
<rect x="633.74" y="22" width="3.1" height="18.22" fill="#f8bec3"/>
<rect x="636.24" y="22" width="3.1" height="18.22" fill="#fcdee1"/>
<rect x="638.75" y="22" width="3.1" height="18.22" fill="#f8bfc5"/>
<rect x="641.25" y="22" width="3.1" height="18.22" fill="#f9c9ce"/>
<rect x="643.76" y="22" width="3.1" height="18.22" fill="#f9c9ce"/>
<rect x="646.26" y="22" width="3.1" height="18.22" fill="#f7b7bd"/>
<rect x="648.77" y="22" width="3.1" height="18.22" fill="#fde8ea"/>
<rect x="651.27" y="22" width="3.1" height="18.22" fill="#f9c2c7"/>
<rect x="653.77" y="22" width="3.1" height="18.22" fill="#fbd7db"/>
<rect x="656.28" y="22" width="3.1" height="18.22" fill="#fad1d5"/>
<rect x="658.78" y="22" width="3.1" height="18.22" fill="#fef5f6"/>
<rect x="661.29" y="22" width="3.1" height="18.22" fill="#f8bec3"/>
<rect x="663.79" y="22" width="3.1" height="18.22" fill="#faccd0"/>
<rect x="666.3" y="22" width="3.1" height="18.22" fill="#fad1d5"/>
<rect x="668.8" y="22" width="3.1" height="18.22" fill="#f7b7bd"/>
<rect x="671.31" y="22" width="3.1" height="18.22" fill="#fce6e8"/>
<rect x="673.81" y="22" width="3.1" height="18.22" fill="#fffefe"/>
<rect x="676.32" y="22" width="3.1" height="18.22" fill="#f5f9fe"/>
<rect x="678.82" y="22" width="3.1" height="18.22" fill="#f1f6fd"/>
<rect x="681.33" y="22" width="3.1" height="18.22" fill="#f27f8a"/>
<rect x="683.83" y="22" width="3.1" height="18.22" fill="#f1f6fd"/>
<rect x="686.34" y="22" width="3.1" height="18.22" fill="#fdeaec"/>
<rect x="688.84" y="22" width="3.1" height="18.22" fill="#fbfcfe"/>
<rect x="691.35" y="22" width="3.1" height="18.22" fill="#fcdee1"/>
<rect x="693.85" y="22" width="3.1" height="18.22" fill="#fdf0f2"/>
<rect x="696.36" y="22" width="3.1" height="18.22" fill="#fdeeef"/>
<rect x="698.86" y="22" width="3.1" height="18.22" fill="#f27f8a"/>
<rect x="701.37" y="22" width="3.1" height="18.22" fill="#fef8f8"/>
<rect x="703.87" y="22" width="3.1" height="18.22" fill="#fce1e4"/>
<rect x="706.38" y="22" width="3.1" height="18.22" fill="#fdedee"/>
<rect x="708.88" y="22" width="3.1" height="18.22" fill="#fde7e9"/>
<rect x="711.39" y="22" width="3.1" height="18.22" fill="#f27f8a"/>
<rect x="713.89" y="22" width="3.1" height="18.22" fill="#f8fbfe"/>
<rect x="716.4" y="22" width="3.1" height="18.22" fill="#fffefe"/>
<text x="449.4" y="33.67" font-size="7.7" text-anchor="end" font-weight="normal" fill="#1c1c1c" stroke="#1c1c1c" stroke-width="0.14">ACTB</text>
<rect x="458.4" y="39.92" width="3.1" height="18.22" fill="#fffafb"/>
<rect x="460.9" y="39.92" width="3.1" height="18.22" fill="#f1f7fd"/>
<rect x="463.41" y="39.92" width="3.1" height="18.22" fill="#dbe9fb"/>
<rect x="465.91" y="39.92" width="3.1" height="18.22" fill="#f2f7fe"/>
<rect x="468.42" y="39.92" width="3.1" height="18.22" fill="#f6f9fe"/>
<rect x="470.92" y="39.92" width="3.1" height="18.22" fill="#deebfb"/>
<rect x="473.43" y="39.92" width="3.1" height="18.22" fill="#dbe9fb"/>
<rect x="475.93" y="39.92" width="3.1" height="18.22" fill="#cde0f9"/>
<rect x="478.44" y="39.92" width="3.1" height="18.22" fill="#d4e5fa"/>
<rect x="480.94" y="39.92" width="3.1" height="18.22" fill="#eef5fd"/>
<rect x="483.45" y="39.92" width="3.1" height="18.22" fill="#f2f7fd"/>
<rect x="485.95" y="39.92" width="3.1" height="18.22" fill="#fdeeef"/>
<rect x="488.46" y="39.92" width="3.1" height="18.22" fill="#f8fbfe"/>
<rect x="490.96" y="39.92" width="3.1" height="18.22" fill="#fde9eb"/>
<rect x="493.47" y="39.92" width="3.1" height="18.22" fill="#f5f9fe"/>
<rect x="495.97" y="39.92" width="3.1" height="18.22" fill="#fbd8db"/>
<rect x="498.48" y="39.92" width="3.1" height="18.22" fill="#fffcfc"/>
<rect x="500.98" y="39.92" width="3.1" height="18.22" fill="#e8f1fc"/>
<rect x="503.49" y="39.92" width="3.1" height="18.22" fill="#e6f0fc"/>
<rect x="505.99" y="39.92" width="3.1" height="18.22" fill="#bed8f7"/>
<rect x="508.5" y="39.92" width="3.1" height="18.22" fill="#e1edfb"/>
<rect x="511" y="39.92" width="3.1" height="18.22" fill="#d0e2f9"/>
<rect x="513.51" y="39.92" width="3.1" height="18.22" fill="#fffbfb"/>
<rect x="516.01" y="39.92" width="3.1" height="18.22" fill="#e9f1fc"/>
<rect x="518.52" y="39.92" width="3.1" height="18.22" fill="#dfebfb"/>
<rect x="521.02" y="39.92" width="3.1" height="18.22" fill="#d1e3f9"/>
<rect x="523.52" y="39.92" width="3.1" height="18.22" fill="#e0ecfb"/>
<rect x="526.03" y="39.92" width="3.1" height="18.22" fill="#bad5f7"/>
<rect x="528.53" y="39.92" width="3.1" height="18.22" fill="#cce0f9"/>
<rect x="531.04" y="39.92" width="3.1" height="18.22" fill="#cce0f9"/>
<rect x="533.54" y="39.92" width="3.1" height="18.22" fill="#deebfb"/>
<rect x="536.05" y="39.92" width="3.1" height="18.22" fill="#d4e5fa"/>
<rect x="538.55" y="39.92" width="3.1" height="18.22" fill="#fdeff1"/>
<rect x="541.06" y="39.92" width="3.1" height="18.22" fill="#f4f8fe"/>
<rect x="543.56" y="39.92" width="3.1" height="18.22" fill="#e4eefc"/>
<rect x="546.07" y="39.92" width="3.1" height="18.22" fill="#e7f0fc"/>
<rect x="548.57" y="39.92" width="3.1" height="18.22" fill="#e7f0fc"/>
<rect x="551.08" y="39.92" width="3.1" height="18.22" fill="#e4effc"/>
<rect x="553.58" y="39.92" width="3.1" height="18.22" fill="#d7e7fa"/>
<rect x="556.09" y="39.92" width="3.1" height="18.22" fill="#e4effc"/>
<rect x="558.59" y="39.92" width="3.1" height="18.22" fill="#f4f8fe"/>
<rect x="561.1" y="39.92" width="3.1" height="18.22" fill="#fffefe"/>
<rect x="563.6" y="39.92" width="3.1" height="18.22" fill="#fef1f2"/>
<rect x="566.11" y="39.92" width="3.1" height="18.22" fill="#fce4e6"/>
<rect x="568.61" y="39.92" width="3.1" height="18.22" fill="#fbd6da"/>
<rect x="571.12" y="39.92" width="3.1" height="18.22" fill="#fef1f2"/>
<rect x="573.62" y="39.92" width="3.1" height="18.22" fill="#fce7e9"/>
<rect x="576.13" y="39.92" width="3.1" height="18.22" fill="#f9c8cc"/>
<rect x="578.63" y="39.92" width="3.1" height="18.22" fill="#fbdee0"/>
<rect x="581.14" y="39.92" width="3.1" height="18.22" fill="#f7b7bd"/>
<rect x="583.64" y="39.92" width="3.1" height="18.22" fill="#fdedef"/>
<rect x="586.15" y="39.92" width="3.1" height="18.22" fill="#fde8ea"/>
<rect x="588.65" y="39.92" width="3.1" height="18.22" fill="#fef9fa"/>
<rect x="591.15" y="39.92" width="3.1" height="18.22" fill="#f7b0b6"/>
<rect x="593.66" y="39.92" width="3.1" height="18.22" fill="#fad0d4"/>
<rect x="596.16" y="39.92" width="3.1" height="18.22" fill="#facdd1"/>
<rect x="598.67" y="39.92" width="3.1" height="18.22" fill="#facdd1"/>
<rect x="601.17" y="39.92" width="3.1" height="18.22" fill="#fbd7da"/>
<rect x="603.68" y="39.92" width="3.1" height="18.22" fill="#f8fafe"/>
<rect x="606.18" y="39.92" width="3.1" height="18.22" fill="#fef4f5"/>
<rect x="608.69" y="39.92" width="3.1" height="18.22" fill="#fdeaec"/>
<rect x="611.19" y="39.92" width="3.1" height="18.22" fill="#f6a8af"/>
<rect x="613.7" y="39.92" width="3.1" height="18.22" fill="#fef3f4"/>
<rect x="616.2" y="39.92" width="3.1" height="18.22" fill="#ebf3fd"/>
<rect x="618.71" y="39.92" width="3.1" height="18.22" fill="#facdd1"/>
<rect x="621.21" y="39.92" width="3.1" height="18.22" fill="#f9c8cd"/>
<rect x="623.72" y="39.92" width="3.1" height="18.22" fill="#eaf2fc"/>
<rect x="626.22" y="39.92" width="3.1" height="18.22" fill="#faced2"/>
<rect x="628.73" y="39.92" width="3.1" height="18.22" fill="#f6a8af"/>
<rect x="631.23" y="39.92" width="3.1" height="18.22" fill="#f8babf"/>
<rect x="633.74" y="39.92" width="3.1" height="18.22" fill="#f9c4c8"/>
<rect x="636.24" y="39.92" width="3.1" height="18.22" fill="#fad3d6"/>
<rect x="638.75" y="39.92" width="3.1" height="18.22" fill="#fad3d6"/>
<rect x="641.25" y="39.92" width="3.1" height="18.22" fill="#f1f7fd"/>
<rect x="643.76" y="39.92" width="3.1" height="18.22" fill="#f6a8af"/>
<rect x="646.26" y="39.92" width="3.1" height="18.22" fill="#f1f7fd"/>
<rect x="648.77" y="39.92" width="3.1" height="18.22" fill="#f59da5"/>
<rect x="651.27" y="39.92" width="3.1" height="18.22" fill="#faccd0"/>
<rect x="653.77" y="39.92" width="3.1" height="18.22" fill="#fce6e8"/>
<rect x="656.28" y="39.92" width="3.1" height="18.22" fill="#fdeeef"/>
<rect x="658.78" y="39.92" width="3.1" height="18.22" fill="#fef8f9"/>
<rect x="661.29" y="39.92" width="3.1" height="18.22" fill="#fef8f9"/>
<rect x="663.79" y="39.92" width="3.1" height="18.22" fill="#f6a8af"/>
<rect x="666.3" y="39.92" width="3.1" height="18.22" fill="#f6f9fe"/>
<rect x="668.8" y="39.92" width="3.1" height="18.22" fill="#edf4fd"/>
<rect x="671.31" y="39.92" width="3.1" height="18.22" fill="#fdeeef"/>
<rect x="673.81" y="39.92" width="3.1" height="18.22" fill="#fdeeef"/>
<rect x="676.32" y="39.92" width="3.1" height="18.22" fill="#fafcfe"/>
<rect x="678.82" y="39.92" width="3.1" height="18.22" fill="#fef8f9"/>
<rect x="681.33" y="39.92" width="3.1" height="18.22" fill="#fef9f9"/>
<rect x="683.83" y="39.92" width="3.1" height="18.22" fill="#fbd5d8"/>
<rect x="686.34" y="39.92" width="3.1" height="18.22" fill="#f9cace"/>
<rect x="688.84" y="39.92" width="3.1" height="18.22" fill="#fbdadd"/>
<rect x="691.35" y="39.92" width="3.1" height="18.22" fill="#fef3f4"/>
<rect x="693.85" y="39.92" width="3.1" height="18.22" fill="#f6a8af"/>
<rect x="696.36" y="39.92" width="3.1" height="18.22" fill="#f6adb3"/>
<rect x="698.86" y="39.92" width="3.1" height="18.22" fill="#f5a2a9"/>
<rect x="701.37" y="39.92" width="3.1" height="18.22" fill="#fad1d4"/>
<rect x="703.87" y="39.92" width="3.1" height="18.22" fill="#f7b7bd"/>
<rect x="706.38" y="39.92" width="3.1" height="18.22" fill="#f9c6ca"/>
<rect x="708.88" y="39.92" width="3.1" height="18.22" fill="#fce3e5"/>
<rect x="711.39" y="39.92" width="3.1" height="18.22" fill="#fffafb"/>
<rect x="713.89" y="39.92" width="3.1" height="18.22" fill="#fffafb"/>
<rect x="716.4" y="39.92" width="3.1" height="18.22" fill="#fdeff1"/>
<text x="449.4" y="51.77" font-size="7.7" text-anchor="end" font-weight="normal" fill="#1c1c1c" stroke="#1c1c1c" stroke-width="0.14">BSG</text>
<rect x="458.4" y="57.84" width="3.1" height="18.22" fill="#afcef5"/>
<rect x="460.9" y="57.84" width="3.1" height="18.22" fill="#b9d4f7"/>
<rect x="463.41" y="57.84" width="3.1" height="18.22" fill="#b9d4f7"/>
<rect x="465.91" y="57.84" width="3.1" height="18.22" fill="#b4d2f6"/>
<rect x="468.42" y="57.84" width="3.1" height="18.22" fill="#adcdf5"/>
<rect x="470.92" y="57.84" width="3.1" height="18.22" fill="#adcdf5"/>
<rect x="473.43" y="57.84" width="3.1" height="18.22" fill="#b4d1f6"/>
<rect x="475.93" y="57.84" width="3.1" height="18.22" fill="#b4d1f6"/>
<rect x="478.44" y="57.84" width="3.1" height="18.22" fill="#b4d1f6"/>
<rect x="480.94" y="57.84" width="3.1" height="18.22" fill="#cbdff9"/>
<rect x="483.45" y="57.84" width="3.1" height="18.22" fill="#97c0f3"/>
<rect x="485.95" y="57.84" width="3.1" height="18.22" fill="#deebfb"/>
<rect x="488.46" y="57.84" width="3.1" height="18.22" fill="#88b6f1"/>
<rect x="490.96" y="57.84" width="3.1" height="18.22" fill="#b3d1f6"/>
<rect x="493.47" y="57.84" width="3.1" height="18.22" fill="#c1d9f8"/>
<rect x="495.97" y="57.84" width="3.1" height="18.22" fill="#f3f8fe"/>
<rect x="498.48" y="57.84" width="3.1" height="18.22" fill="#f5f9fe"/>
<rect x="500.98" y="57.84" width="3.1" height="18.22" fill="#cce0f9"/>
<rect x="503.49" y="57.84" width="3.1" height="18.22" fill="#f2f7fd"/>
<rect x="505.99" y="57.84" width="3.1" height="18.22" fill="#c4dbf8"/>
<rect x="508.5" y="57.84" width="3.1" height="18.22" fill="#eaf2fc"/>
<rect x="511" y="57.84" width="3.1" height="18.22" fill="#e7f0fc"/>
<rect x="513.51" y="57.84" width="3.1" height="18.22" fill="#e5effc"/>
<rect x="516.01" y="57.84" width="3.1" height="18.22" fill="#edf4fd"/>
<rect x="518.52" y="57.84" width="3.1" height="18.22" fill="#ecf4fd"/>
<rect x="521.02" y="57.84" width="3.1" height="18.22" fill="#f3f8fe"/>
<rect x="523.52" y="57.84" width="3.1" height="18.22" fill="#d6e6fa"/>
<rect x="526.03" y="57.84" width="3.1" height="18.22" fill="#ecf3fd"/>
<rect x="528.53" y="57.84" width="3.1" height="18.22" fill="#e1edfb"/>
<rect x="531.04" y="57.84" width="3.1" height="18.22" fill="#f1f6fd"/>
<rect x="533.54" y="57.84" width="3.1" height="18.22" fill="#fbfdff"/>
<rect x="536.05" y="57.84" width="3.1" height="18.22" fill="#fbfdff"/>
<rect x="538.55" y="57.84" width="3.1" height="18.22" fill="#f6fafe"/>
<rect x="541.06" y="57.84" width="3.1" height="18.22" fill="#f9fbfe"/>
<rect x="543.56" y="57.84" width="3.1" height="18.22" fill="#f7fafe"/>
<rect x="546.07" y="57.84" width="3.1" height="18.22" fill="#f8fbfe"/>
<rect x="548.57" y="57.84" width="3.1" height="18.22" fill="#f6f9fe"/>
<rect x="551.08" y="57.84" width="3.1" height="18.22" fill="#f6fafe"/>
<rect x="553.58" y="57.84" width="3.1" height="18.22" fill="#eaf2fd"/>
<rect x="556.09" y="57.84" width="3.1" height="18.22" fill="#f2f7fd"/>
<rect x="558.59" y="57.84" width="3.1" height="18.22" fill="#f2f7fd"/>
<rect x="561.1" y="57.84" width="3.1" height="18.22" fill="#f5f9fe"/>
<rect x="563.6" y="57.84" width="3.1" height="18.22" fill="#eff5fd"/>
<rect x="566.11" y="57.84" width="3.1" height="18.22" fill="#feffff"/>
<rect x="568.61" y="57.84" width="3.1" height="18.22" fill="#f7fafe"/>
<rect x="571.12" y="57.84" width="3.1" height="18.22" fill="#f2f7fd"/>
<rect x="573.62" y="57.84" width="3.1" height="18.22" fill="#eef5fd"/>
<rect x="576.13" y="57.84" width="3.1" height="18.22" fill="#e9f2fc"/>
<rect x="578.63" y="57.84" width="3.1" height="18.22" fill="#f0f6fd"/>
<rect x="581.14" y="57.84" width="3.1" height="18.22" fill="#edf4fd"/>
<rect x="583.64" y="57.84" width="3.1" height="18.22" fill="#fde9eb"/>
<rect x="586.15" y="57.84" width="3.1" height="18.22" fill="#fce7e9"/>
<rect x="588.65" y="57.84" width="3.1" height="18.22" fill="#fefeff"/>
<rect x="591.15" y="57.84" width="3.1" height="18.22" fill="#feffff"/>
<rect x="593.66" y="57.84" width="3.1" height="18.22" fill="#fefafa"/>
<rect x="596.16" y="57.84" width="3.1" height="18.22" fill="#fefafb"/>
<rect x="598.67" y="57.84" width="3.1" height="18.22" fill="#fdecee"/>
<rect x="601.17" y="57.84" width="3.1" height="18.22" fill="#fef9fa"/>
<rect x="603.68" y="57.84" width="3.1" height="18.22" fill="#fef5f5"/>
<rect x="606.18" y="57.84" width="3.1" height="18.22" fill="#fce4e7"/>
<rect x="608.69" y="57.84" width="3.1" height="18.22" fill="#fdeaec"/>
<rect x="611.19" y="57.84" width="3.1" height="18.22" fill="#fdf0f1"/>
<rect x="613.7" y="57.84" width="3.1" height="18.22" fill="#fdeef0"/>
<rect x="616.2" y="57.84" width="3.1" height="18.22" fill="#fdebed"/>
<rect x="618.71" y="57.84" width="3.1" height="18.22" fill="#fdf0f1"/>
<rect x="621.21" y="57.84" width="3.1" height="18.22" fill="#fce2e5"/>
<rect x="623.72" y="57.84" width="3.1" height="18.22" fill="#fce4e6"/>
<rect x="626.22" y="57.84" width="3.1" height="18.22" fill="#fce2e5"/>
<rect x="628.73" y="57.84" width="3.1" height="18.22" fill="#fbdde0"/>
<rect x="631.23" y="57.84" width="3.1" height="18.22" fill="#fbdcdf"/>
<rect x="633.74" y="57.84" width="3.1" height="18.22" fill="#fbd7db"/>
<rect x="636.24" y="57.84" width="3.1" height="18.22" fill="#fad2d6"/>
<rect x="638.75" y="57.84" width="3.1" height="18.22" fill="#fde9eb"/>
<rect x="641.25" y="57.84" width="3.1" height="18.22" fill="#fde9eb"/>
<rect x="643.76" y="57.84" width="3.1" height="18.22" fill="#fcdee1"/>
<rect x="646.26" y="57.84" width="3.1" height="18.22" fill="#fce4e7"/>
<rect x="648.77" y="57.84" width="3.1" height="18.22" fill="#fce1e4"/>
<rect x="651.27" y="57.84" width="3.1" height="18.22" fill="#fad2d6"/>
<rect x="653.77" y="57.84" width="3.1" height="18.22" fill="#fcdfe1"/>
<rect x="656.28" y="57.84" width="3.1" height="18.22" fill="#fbd8db"/>
<rect x="658.78" y="57.84" width="3.1" height="18.22" fill="#fad0d4"/>
<rect x="661.29" y="57.84" width="3.1" height="18.22" fill="#fce1e3"/>
<rect x="663.79" y="57.84" width="3.1" height="18.22" fill="#fbdcdf"/>
<rect x="666.3" y="57.84" width="3.1" height="18.22" fill="#fbdcdf"/>
<rect x="668.8" y="57.84" width="3.1" height="18.22" fill="#fce6e8"/>
<rect x="671.31" y="57.84" width="3.1" height="18.22" fill="#fde8ea"/>
<rect x="673.81" y="57.84" width="3.1" height="18.22" fill="#fde9eb"/>
<rect x="676.32" y="57.84" width="3.1" height="18.22" fill="#f9c3c8"/>
<rect x="678.82" y="57.84" width="3.1" height="18.22" fill="#fce1e3"/>
<rect x="681.33" y="57.84" width="3.1" height="18.22" fill="#fad0d4"/>
<rect x="683.83" y="57.84" width="3.1" height="18.22" fill="#fdeeef"/>
<rect x="686.34" y="57.84" width="3.1" height="18.22" fill="#facdd1"/>
<rect x="688.84" y="57.84" width="3.1" height="18.22" fill="#fdf0f1"/>
<rect x="691.35" y="57.84" width="3.1" height="18.22" fill="#fbdadd"/>
<rect x="693.85" y="57.84" width="3.1" height="18.22" fill="#f9c9ce"/>
<rect x="696.36" y="57.84" width="3.1" height="18.22" fill="#fbdadd"/>
<rect x="698.86" y="57.84" width="3.1" height="18.22" fill="#fce4e6"/>
<rect x="701.37" y="57.84" width="3.1" height="18.22" fill="#fffafb"/>
<rect x="703.87" y="57.84" width="3.1" height="18.22" fill="#faccd0"/>
<rect x="706.38" y="57.84" width="3.1" height="18.22" fill="#fad2d6"/>
<rect x="708.88" y="57.84" width="3.1" height="18.22" fill="#fad4d8"/>
<rect x="711.39" y="57.84" width="3.1" height="18.22" fill="#fef4f5"/>
<rect x="713.89" y="57.84" width="3.1" height="18.22" fill="#fbd6da"/>
<rect x="716.4" y="57.84" width="3.1" height="18.22" fill="#facdd1"/>
<text x="449.4" y="69.87" font-size="7.7" text-anchor="end" font-weight="normal" fill="#1c1c1c" stroke="#1c1c1c" stroke-width="0.14">TPT1</text>
<rect x="458.4" y="75.76" width="3.1" height="18.22" fill="#fbfcff"/>
<rect x="460.9" y="75.76" width="3.1" height="18.22" fill="#f8fbfe"/>
<rect x="463.41" y="75.76" width="3.1" height="18.22" fill="#fdfeff"/>
<rect x="465.91" y="75.76" width="3.1" height="18.22" fill="#f5f9fe"/>
<rect x="468.42" y="75.76" width="3.1" height="18.22" fill="#dbe9fb"/>
<rect x="470.92" y="75.76" width="3.1" height="18.22" fill="#fffdfd"/>
<rect x="473.43" y="75.76" width="3.1" height="18.22" fill="#fef6f6"/>
<rect x="475.93" y="75.76" width="3.1" height="18.22" fill="#e7f0fc"/>
<rect x="478.44" y="75.76" width="3.1" height="18.22" fill="#ebf3fd"/>
<rect x="480.94" y="75.76" width="3.1" height="18.22" fill="#f5f9fe"/>
<rect x="483.45" y="75.76" width="3.1" height="18.22" fill="#f8fbfe"/>
<rect x="485.95" y="75.76" width="3.1" height="18.22" fill="#f0f6fd"/>
<rect x="488.46" y="75.76" width="3.1" height="18.22" fill="#fdfeff"/>
<rect x="490.96" y="75.76" width="3.1" height="18.22" fill="#f1f7fd"/>
<rect x="493.47" y="75.76" width="3.1" height="18.22" fill="#e9f2fc"/>
<rect x="495.97" y="75.76" width="3.1" height="18.22" fill="#e3eefc"/>
<rect x="498.48" y="75.76" width="3.1" height="18.22" fill="#f4f9fe"/>
<rect x="500.98" y="75.76" width="3.1" height="18.22" fill="#f7fafe"/>
<rect x="503.49" y="75.76" width="3.1" height="18.22" fill="#fafcfe"/>
<rect x="505.99" y="75.76" width="3.1" height="18.22" fill="#fef9f9"/>
<rect x="508.5" y="75.76" width="3.1" height="18.22" fill="#e6f0fc"/>
<rect x="511" y="75.76" width="3.1" height="18.22" fill="#bbd6f7"/>
<rect x="513.51" y="75.76" width="3.1" height="18.22" fill="#fef9f9"/>
<rect x="516.01" y="75.76" width="3.1" height="18.22" fill="#cbdff9"/>
<rect x="518.52" y="75.76" width="3.1" height="18.22" fill="#c6dcf8"/>
<rect x="521.02" y="75.76" width="3.1" height="18.22" fill="#d5e6fa"/>
<rect x="523.52" y="75.76" width="3.1" height="18.22" fill="#c5dcf8"/>
<rect x="526.03" y="75.76" width="3.1" height="18.22" fill="#e3eefc"/>
<rect x="528.53" y="75.76" width="3.1" height="18.22" fill="#f3f8fe"/>
<rect x="531.04" y="75.76" width="3.1" height="18.22" fill="#fafcfe"/>
<rect x="533.54" y="75.76" width="3.1" height="18.22" fill="#fffefe"/>
<rect x="536.05" y="75.76" width="3.1" height="18.22" fill="#eef4fd"/>
<rect x="538.55" y="75.76" width="3.1" height="18.22" fill="#f7fafe"/>
<rect x="541.06" y="75.76" width="3.1" height="18.22" fill="#fef7f8"/>
<rect x="543.56" y="75.76" width="3.1" height="18.22" fill="#f2f7fd"/>
<rect x="546.07" y="75.76" width="3.1" height="18.22" fill="#ddeafb"/>
<rect x="548.57" y="75.76" width="3.1" height="18.22" fill="#bbd6f7"/>
<rect x="551.08" y="75.76" width="3.1" height="18.22" fill="#bbd6f7"/>
<rect x="553.58" y="75.76" width="3.1" height="18.22" fill="#ebf3fd"/>
<rect x="556.09" y="75.76" width="3.1" height="18.22" fill="#dbe9fb"/>
<rect x="558.59" y="75.76" width="3.1" height="18.22" fill="#e9f1fc"/>
<rect x="561.1" y="75.76" width="3.1" height="18.22" fill="#fffafb"/>
<rect x="563.6" y="75.76" width="3.1" height="18.22" fill="#d7e7fa"/>
<rect x="566.11" y="75.76" width="3.1" height="18.22" fill="#e8f1fc"/>
<rect x="568.61" y="75.76" width="3.1" height="18.22" fill="#fffafb"/>
<rect x="571.12" y="75.76" width="3.1" height="18.22" fill="#dfebfb"/>
<rect x="573.62" y="75.76" width="3.1" height="18.22" fill="#bbd6f7"/>
<rect x="576.13" y="75.76" width="3.1" height="18.22" fill="#f8fbfe"/>
<rect x="578.63" y="75.76" width="3.1" height="18.22" fill="#eff5fd"/>
<rect x="581.14" y="75.76" width="3.1" height="18.22" fill="#fffcfc"/>
<rect x="583.64" y="75.76" width="3.1" height="18.22" fill="#f4f8fe"/>
<rect x="586.15" y="75.76" width="3.1" height="18.22" fill="#f1f7fd"/>
<rect x="588.65" y="75.76" width="3.1" height="18.22" fill="#fffcfc"/>
<rect x="591.15" y="75.76" width="3.1" height="18.22" fill="#fdfeff"/>
<rect x="593.66" y="75.76" width="3.1" height="18.22" fill="#fef9f9"/>
<rect x="596.16" y="75.76" width="3.1" height="18.22" fill="#fefafa"/>
<rect x="598.67" y="75.76" width="3.1" height="18.22" fill="#f8fbfe"/>
<rect x="601.17" y="75.76" width="3.1" height="18.22" fill="#f7fafe"/>
<rect x="603.68" y="75.76" width="3.1" height="18.22" fill="#bbd6f7"/>
<rect x="606.18" y="75.76" width="3.1" height="18.22" fill="#fdeaec"/>
<rect x="608.69" y="75.76" width="3.1" height="18.22" fill="#fafcfe"/>
<rect x="611.19" y="75.76" width="3.1" height="18.22" fill="#fde9ea"/>
<rect x="613.7" y="75.76" width="3.1" height="18.22" fill="#f9c3c8"/>
<rect x="616.2" y="75.76" width="3.1" height="18.22" fill="#f9c6ca"/>
<rect x="618.71" y="75.76" width="3.1" height="18.22" fill="#fbd7da"/>
<rect x="621.21" y="75.76" width="3.1" height="18.22" fill="#fce5e7"/>
<rect x="623.72" y="75.76" width="3.1" height="18.22" fill="#fcdfe2"/>
<rect x="626.22" y="75.76" width="3.1" height="18.22" fill="#fdeaec"/>
<rect x="628.73" y="75.76" width="3.1" height="18.22" fill="#fce1e3"/>
<rect x="631.23" y="75.76" width="3.1" height="18.22" fill="#d6e6fa"/>
<rect x="633.74" y="75.76" width="3.1" height="18.22" fill="#d6e6fa"/>
<rect x="636.24" y="75.76" width="3.1" height="18.22" fill="#d6e6fa"/>
<rect x="638.75" y="75.76" width="3.1" height="18.22" fill="#fafcfe"/>
<rect x="641.25" y="75.76" width="3.1" height="18.22" fill="#f8fbfe"/>
<rect x="643.76" y="75.76" width="3.1" height="18.22" fill="#f8fbfe"/>
<rect x="646.26" y="75.76" width="3.1" height="18.22" fill="#fde9eb"/>
<rect x="648.77" y="75.76" width="3.1" height="18.22" fill="#f4f9fe"/>
<rect x="651.27" y="75.76" width="3.1" height="18.22" fill="#eff5fd"/>
<rect x="653.77" y="75.76" width="3.1" height="18.22" fill="#fad1d5"/>
<rect x="656.28" y="75.76" width="3.1" height="18.22" fill="#f8c0c5"/>
<rect x="658.78" y="75.76" width="3.1" height="18.22" fill="#f6a8af"/>
<rect x="661.29" y="75.76" width="3.1" height="18.22" fill="#f38c96"/>
<rect x="663.79" y="75.76" width="3.1" height="18.22" fill="#fcfdff"/>
<rect x="666.3" y="75.76" width="3.1" height="18.22" fill="#f2838d"/>
<rect x="668.8" y="75.76" width="3.1" height="18.22" fill="#f4929b"/>
<rect x="671.31" y="75.76" width="3.1" height="18.22" fill="#fef4f5"/>
<rect x="673.81" y="75.76" width="3.1" height="18.22" fill="#f7b0b6"/>
<rect x="676.32" y="75.76" width="3.1" height="18.22" fill="#f4939c"/>
<rect x="678.82" y="75.76" width="3.1" height="18.22" fill="#f7b4bb"/>
<rect x="681.33" y="75.76" width="3.1" height="18.22" fill="#fdfeff"/>
<rect x="683.83" y="75.76" width="3.1" height="18.22" fill="#f9c2c7"/>
<rect x="686.34" y="75.76" width="3.1" height="18.22" fill="#fbfdff"/>
<rect x="688.84" y="75.76" width="3.1" height="18.22" fill="#f8c1c6"/>
<rect x="691.35" y="75.76" width="3.1" height="18.22" fill="#fad0d4"/>
<rect x="693.85" y="75.76" width="3.1" height="18.22" fill="#fbd6d9"/>
<rect x="696.36" y="75.76" width="3.1" height="18.22" fill="#f5f9fe"/>
<rect x="698.86" y="75.76" width="3.1" height="18.22" fill="#fdeff0"/>
<rect x="701.37" y="75.76" width="3.1" height="18.22" fill="#f4f8fe"/>
<rect x="703.87" y="75.76" width="3.1" height="18.22" fill="#fef9f9"/>
<rect x="706.38" y="75.76" width="3.1" height="18.22" fill="#e9f2fc"/>
<rect x="708.88" y="75.76" width="3.1" height="18.22" fill="#e9f2fc"/>
<rect x="711.39" y="75.76" width="3.1" height="18.22" fill="#fef9f9"/>
<rect x="713.89" y="75.76" width="3.1" height="18.22" fill="#fef9fa"/>
<rect x="716.4" y="75.76" width="3.1" height="18.22" fill="#f9fbfe"/>
<text x="449.4" y="87.97" font-size="7.7" text-anchor="end" font-weight="normal" fill="#1c1c1c" stroke="#1c1c1c" stroke-width="0.14">TUG1</text>
<rect x="458.4" y="93.68" width="3.1" height="18.22" fill="#aacbf5"/>
<rect x="460.9" y="93.68" width="3.1" height="18.22" fill="#aaccf5"/>
<rect x="463.41" y="93.68" width="3.1" height="18.22" fill="#aecef5"/>
<rect x="465.91" y="93.68" width="3.1" height="18.22" fill="#afcef5"/>
<rect x="468.42" y="93.68" width="3.1" height="18.22" fill="#a9cbf5"/>
<rect x="470.92" y="93.68" width="3.1" height="18.22" fill="#b1d0f6"/>
<rect x="473.43" y="93.68" width="3.1" height="18.22" fill="#b1d0f6"/>
<rect x="475.93" y="93.68" width="3.1" height="18.22" fill="#b2d0f6"/>
<rect x="478.44" y="93.68" width="3.1" height="18.22" fill="#a8caf5"/>
<rect x="480.94" y="93.68" width="3.1" height="18.22" fill="#b5d2f6"/>
<rect x="483.45" y="93.68" width="3.1" height="18.22" fill="#edf4fd"/>
<rect x="485.95" y="93.68" width="3.1" height="18.22" fill="#a3c7f4"/>
<rect x="488.46" y="93.68" width="3.1" height="18.22" fill="#cfe2f9"/>
<rect x="490.96" y="93.68" width="3.1" height="18.22" fill="#c7ddf8"/>
<rect x="493.47" y="93.68" width="3.1" height="18.22" fill="#cce0f9"/>
<rect x="495.97" y="93.68" width="3.1" height="18.22" fill="#dbe9fb"/>
<rect x="498.48" y="93.68" width="3.1" height="18.22" fill="#e6f0fc"/>
<rect x="500.98" y="93.68" width="3.1" height="18.22" fill="#dceafb"/>
<rect x="503.49" y="93.68" width="3.1" height="18.22" fill="#d5e5fa"/>
<rect x="505.99" y="93.68" width="3.1" height="18.22" fill="#f7fafe"/>
<rect x="508.5" y="93.68" width="3.1" height="18.22" fill="#dfebfb"/>
<rect x="511" y="93.68" width="3.1" height="18.22" fill="#c1d9f8"/>
<rect x="513.51" y="93.68" width="3.1" height="18.22" fill="#f4f8fe"/>
<rect x="516.01" y="93.68" width="3.1" height="18.22" fill="#cce0f9"/>
<rect x="518.52" y="93.68" width="3.1" height="18.22" fill="#cee1f9"/>
<rect x="521.02" y="93.68" width="3.1" height="18.22" fill="#c3dbf8"/>
<rect x="523.52" y="93.68" width="3.1" height="18.22" fill="#cbdff9"/>
<rect x="526.03" y="93.68" width="3.1" height="18.22" fill="#e2edfc"/>
<rect x="528.53" y="93.68" width="3.1" height="18.22" fill="#d4e5fa"/>
<rect x="531.04" y="93.68" width="3.1" height="18.22" fill="#f6f9fe"/>
<rect x="533.54" y="93.68" width="3.1" height="18.22" fill="#eef5fd"/>
<rect x="536.05" y="93.68" width="3.1" height="18.22" fill="#e4eefc"/>
<rect x="538.55" y="93.68" width="3.1" height="18.22" fill="#ecf4fd"/>
<rect x="541.06" y="93.68" width="3.1" height="18.22" fill="#eaf2fd"/>
<rect x="543.56" y="93.68" width="3.1" height="18.22" fill="#dceafb"/>
<rect x="546.07" y="93.68" width="3.1" height="18.22" fill="#ddeafb"/>
<rect x="548.57" y="93.68" width="3.1" height="18.22" fill="#ddeafb"/>
<rect x="551.08" y="93.68" width="3.1" height="18.22" fill="#e5effc"/>
<rect x="553.58" y="93.68" width="3.1" height="18.22" fill="#f1f7fd"/>
<rect x="556.09" y="93.68" width="3.1" height="18.22" fill="#f1f6fd"/>
<rect x="558.59" y="93.68" width="3.1" height="18.22" fill="#eaf2fc"/>
<rect x="561.1" y="93.68" width="3.1" height="18.22" fill="#ffffff"/>
<rect x="563.6" y="93.68" width="3.1" height="18.22" fill="#f4f8fe"/>
<rect x="566.11" y="93.68" width="3.1" height="18.22" fill="#fcfdff"/>
<rect x="568.61" y="93.68" width="3.1" height="18.22" fill="#fefeff"/>
<rect x="571.12" y="93.68" width="3.1" height="18.22" fill="#fcfdff"/>
<rect x="573.62" y="93.68" width="3.1" height="18.22" fill="#feffff"/>
<rect x="576.13" y="93.68" width="3.1" height="18.22" fill="#fef4f5"/>
<rect x="578.63" y="93.68" width="3.1" height="18.22" fill="#fffdfd"/>
<rect x="581.14" y="93.68" width="3.1" height="18.22" fill="#f5f9fe"/>
<rect x="583.64" y="93.68" width="3.1" height="18.22" fill="#f7fafe"/>
<rect x="586.15" y="93.68" width="3.1" height="18.22" fill="#f9fbfe"/>
<rect x="588.65" y="93.68" width="3.1" height="18.22" fill="#fde9eb"/>
<rect x="591.15" y="93.68" width="3.1" height="18.22" fill="#fce4e6"/>
<rect x="593.66" y="93.68" width="3.1" height="18.22" fill="#fce1e4"/>
<rect x="596.16" y="93.68" width="3.1" height="18.22" fill="#ffffff"/>
<rect x="598.67" y="93.68" width="3.1" height="18.22" fill="#fdeff1"/>
<rect x="601.17" y="93.68" width="3.1" height="18.22" fill="#fce4e7"/>
<rect x="603.68" y="93.68" width="3.1" height="18.22" fill="#fdebed"/>
<rect x="606.18" y="93.68" width="3.1" height="18.22" fill="#fdeeef"/>
<rect x="608.69" y="93.68" width="3.1" height="18.22" fill="#fef6f7"/>
<rect x="611.19" y="93.68" width="3.1" height="18.22" fill="#fdeef0"/>
<rect x="613.7" y="93.68" width="3.1" height="18.22" fill="#fcdee1"/>
<rect x="616.2" y="93.68" width="3.1" height="18.22" fill="#fef9fa"/>
<rect x="618.71" y="93.68" width="3.1" height="18.22" fill="#fdf0f1"/>
<rect x="621.21" y="93.68" width="3.1" height="18.22" fill="#f9c6cb"/>
<rect x="623.72" y="93.68" width="3.1" height="18.22" fill="#f9c6cb"/>
<rect x="626.22" y="93.68" width="3.1" height="18.22" fill="#f9c6ca"/>
<rect x="628.73" y="93.68" width="3.1" height="18.22" fill="#fcdee1"/>
<rect x="631.23" y="93.68" width="3.1" height="18.22" fill="#fce6e8"/>
<rect x="633.74" y="93.68" width="3.1" height="18.22" fill="#fce5e8"/>
<rect x="636.24" y="93.68" width="3.1" height="18.22" fill="#fcdfe1"/>
<rect x="638.75" y="93.68" width="3.1" height="18.22" fill="#fffbfc"/>
<rect x="641.25" y="93.68" width="3.1" height="18.22" fill="#fad3d7"/>
<rect x="643.76" y="93.68" width="3.1" height="18.22" fill="#fce5e7"/>
<rect x="646.26" y="93.68" width="3.1" height="18.22" fill="#fce1e3"/>
<rect x="648.77" y="93.68" width="3.1" height="18.22" fill="#fbdadd"/>
<rect x="651.27" y="93.68" width="3.1" height="18.22" fill="#fce6e8"/>
<rect x="653.77" y="93.68" width="3.1" height="18.22" fill="#fdebed"/>
<rect x="656.28" y="93.68" width="3.1" height="18.22" fill="#fce5e7"/>
<rect x="658.78" y="93.68" width="3.1" height="18.22" fill="#fef2f4"/>
<rect x="661.29" y="93.68" width="3.1" height="18.22" fill="#fdeaec"/>
<rect x="663.79" y="93.68" width="3.1" height="18.22" fill="#fef1f2"/>
<rect x="666.3" y="93.68" width="3.1" height="18.22" fill="#fde7e9"/>
<rect x="668.8" y="93.68" width="3.1" height="18.22" fill="#fef4f5"/>
<rect x="671.31" y="93.68" width="3.1" height="18.22" fill="#fce4e6"/>
<rect x="673.81" y="93.68" width="3.1" height="18.22" fill="#f8fbfe"/>
<rect x="676.32" y="93.68" width="3.1" height="18.22" fill="#fef8f8"/>
<rect x="678.82" y="93.68" width="3.1" height="18.22" fill="#facdd1"/>
<rect x="681.33" y="93.68" width="3.1" height="18.22" fill="#fde8ea"/>
<rect x="683.83" y="93.68" width="3.1" height="18.22" fill="#fce5e7"/>
<rect x="686.34" y="93.68" width="3.1" height="18.22" fill="#fef5f6"/>
<rect x="688.84" y="93.68" width="3.1" height="18.22" fill="#fcdfe2"/>
<rect x="691.35" y="93.68" width="3.1" height="18.22" fill="#fef6f6"/>
<rect x="693.85" y="93.68" width="3.1" height="18.22" fill="#fbd9dc"/>
<rect x="696.36" y="93.68" width="3.1" height="18.22" fill="#fef6f6"/>
<rect x="698.86" y="93.68" width="3.1" height="18.22" fill="#f9c9cd"/>
<rect x="701.37" y="93.68" width="3.1" height="18.22" fill="#facfd3"/>
<rect x="703.87" y="93.68" width="3.1" height="18.22" fill="#fbdcdf"/>
<rect x="706.38" y="93.68" width="3.1" height="18.22" fill="#fcdee1"/>
<rect x="708.88" y="93.68" width="3.1" height="18.22" fill="#fce2e4"/>
<rect x="711.39" y="93.68" width="3.1" height="18.22" fill="#fce7e9"/>
<rect x="713.89" y="93.68" width="3.1" height="18.22" fill="#fce4e6"/>
<rect x="716.4" y="93.68" width="3.1" height="18.22" fill="#fdfeff"/>
<text x="449.4" y="106.07" font-size="7.7" text-anchor="end" font-weight="normal" fill="#1c1c1c" stroke="#1c1c1c" stroke-width="0.14">MALAT1</text>
<rect x="458.4" y="111.6" width="3.1" height="18.22" fill="#fffdfd"/>
<rect x="460.9" y="111.6" width="3.1" height="18.22" fill="#e6f0fc"/>
<rect x="463.41" y="111.6" width="3.1" height="18.22" fill="#f9c2c7"/>
<rect x="465.91" y="111.6" width="3.1" height="18.22" fill="#f9c2c7"/>
<rect x="468.42" y="111.6" width="3.1" height="18.22" fill="#f38c95"/>
<rect x="470.92" y="111.6" width="3.1" height="18.22" fill="#fdebec"/>
<rect x="473.43" y="111.6" width="3.1" height="18.22" fill="#fbdddf"/>
<rect x="475.93" y="111.6" width="3.1" height="18.22" fill="#fdeeef"/>
<rect x="478.44" y="111.6" width="3.1" height="18.22" fill="#fbdadd"/>
<rect x="480.94" y="111.6" width="3.1" height="18.22" fill="#fbfdff"/>
<rect x="483.45" y="111.6" width="3.1" height="18.22" fill="#ecf3fd"/>
<rect x="485.95" y="111.6" width="3.1" height="18.22" fill="#fef8f9"/>
<rect x="488.46" y="111.6" width="3.1" height="18.22" fill="#f9cace"/>
<rect x="490.96" y="111.6" width="3.1" height="18.22" fill="#fce3e5"/>
<rect x="493.47" y="111.6" width="3.1" height="18.22" fill="#f9c2c7"/>
<rect x="495.97" y="111.6" width="3.1" height="18.22" fill="#fce5e7"/>
<rect x="498.48" y="111.6" width="3.1" height="18.22" fill="#f9c2c7"/>
<rect x="500.98" y="111.6" width="3.1" height="18.22" fill="#fce3e6"/>
<rect x="503.49" y="111.6" width="3.1" height="18.22" fill="#fce4e6"/>
<rect x="505.99" y="111.6" width="3.1" height="18.22" fill="#adcdf5"/>
<rect x="508.5" y="111.6" width="3.1" height="18.22" fill="#adcdf5"/>
<rect x="511" y="111.6" width="3.1" height="18.22" fill="#f7b1b7"/>
<rect x="513.51" y="111.6" width="3.1" height="18.22" fill="#f7b4ba"/>
<rect x="516.01" y="111.6" width="3.1" height="18.22" fill="#fad1d5"/>
<rect x="518.52" y="111.6" width="3.1" height="18.22" fill="#adcdf5"/>
<rect x="521.02" y="111.6" width="3.1" height="18.22" fill="#f2f7fd"/>
<rect x="523.52" y="111.6" width="3.1" height="18.22" fill="#f7fafe"/>
<rect x="526.03" y="111.6" width="3.1" height="18.22" fill="#eff5fd"/>
<rect x="528.53" y="111.6" width="3.1" height="18.22" fill="#f9fcfe"/>
<rect x="531.04" y="111.6" width="3.1" height="18.22" fill="#edf4fd"/>
<rect x="533.54" y="111.6" width="3.1" height="18.22" fill="#ecf3fd"/>
<rect x="536.05" y="111.6" width="3.1" height="18.22" fill="#ffffff"/>
<rect x="538.55" y="111.6" width="3.1" height="18.22" fill="#fcdfe2"/>
<rect x="541.06" y="111.6" width="3.1" height="18.22" fill="#fde8ea"/>
<rect x="543.56" y="111.6" width="3.1" height="18.22" fill="#eaf2fc"/>
<rect x="546.07" y="111.6" width="3.1" height="18.22" fill="#d6e6fa"/>
<rect x="548.57" y="111.6" width="3.1" height="18.22" fill="#edf4fd"/>
<rect x="551.08" y="111.6" width="3.1" height="18.22" fill="#f1f7fd"/>
<rect x="553.58" y="111.6" width="3.1" height="18.22" fill="#eef5fd"/>
<rect x="556.09" y="111.6" width="3.1" height="18.22" fill="#fce1e4"/>
<rect x="558.59" y="111.6" width="3.1" height="18.22" fill="#fcdfe2"/>
<rect x="561.1" y="111.6" width="3.1" height="18.22" fill="#f9c2c7"/>
<rect x="563.6" y="111.6" width="3.1" height="18.22" fill="#f9c2c7"/>
<rect x="566.11" y="111.6" width="3.1" height="18.22" fill="#f9cacf"/>
<rect x="568.61" y="111.6" width="3.1" height="18.22" fill="#adcdf5"/>
<rect x="571.12" y="111.6" width="3.1" height="18.22" fill="#adcdf5"/>
<rect x="573.62" y="111.6" width="3.1" height="18.22" fill="#e3eefc"/>
<rect x="576.13" y="111.6" width="3.1" height="18.22" fill="#f9cace"/>
<rect x="578.63" y="111.6" width="3.1" height="18.22" fill="#dbe9fb"/>
<rect x="581.14" y="111.6" width="3.1" height="18.22" fill="#e5effc"/>
<rect x="583.64" y="111.6" width="3.1" height="18.22" fill="#fdedee"/>
<rect x="586.15" y="111.6" width="3.1" height="18.22" fill="#f9c2c7"/>
<rect x="588.65" y="111.6" width="3.1" height="18.22" fill="#f9c2c7"/>
<rect x="591.15" y="111.6" width="3.1" height="18.22" fill="#fce5e7"/>
<rect x="593.66" y="111.6" width="3.1" height="18.22" fill="#fce6e8"/>
<rect x="596.16" y="111.6" width="3.1" height="18.22" fill="#fce6e8"/>
<rect x="598.67" y="111.6" width="3.1" height="18.22" fill="#fce5e7"/>
<rect x="601.17" y="111.6" width="3.1" height="18.22" fill="#fce0e3"/>
<rect x="603.68" y="111.6" width="3.1" height="18.22" fill="#adcdf5"/>
<rect x="606.18" y="111.6" width="3.1" height="18.22" fill="#adcdf5"/>
<rect x="608.69" y="111.6" width="3.1" height="18.22" fill="#fef8f8"/>
<rect x="611.19" y="111.6" width="3.1" height="18.22" fill="#fef7f8"/>
<rect x="613.7" y="111.6" width="3.1" height="18.22" fill="#d5e5fa"/>
<rect x="616.2" y="111.6" width="3.1" height="18.22" fill="#e2edfc"/>
<rect x="618.71" y="111.6" width="3.1" height="18.22" fill="#e3eefc"/>
<rect x="621.21" y="111.6" width="3.1" height="18.22" fill="#e1edfb"/>
<rect x="623.72" y="111.6" width="3.1" height="18.22" fill="#f9c1c6"/>
<rect x="626.22" y="111.6" width="3.1" height="18.22" fill="#fce5e8"/>
<rect x="628.73" y="111.6" width="3.1" height="18.22" fill="#fef2f3"/>
<rect x="631.23" y="111.6" width="3.1" height="18.22" fill="#fdedef"/>
<rect x="633.74" y="111.6" width="3.1" height="18.22" fill="#fce6e8"/>
<rect x="636.24" y="111.6" width="3.1" height="18.22" fill="#f9c2c7"/>
<rect x="638.75" y="111.6" width="3.1" height="18.22" fill="#f9c3c8"/>
<rect x="641.25" y="111.6" width="3.1" height="18.22" fill="#f59fa7"/>
<rect x="643.76" y="111.6" width="3.1" height="18.22" fill="#f7b7bd"/>
<rect x="646.26" y="111.6" width="3.1" height="18.22" fill="#f9c9ce"/>
<rect x="648.77" y="111.6" width="3.1" height="18.22" fill="#f8c0c5"/>
<rect x="651.27" y="111.6" width="3.1" height="18.22" fill="#ebf3fd"/>
<rect x="653.77" y="111.6" width="3.1" height="18.22" fill="#fcdee1"/>
<rect x="656.28" y="111.6" width="3.1" height="18.22" fill="#f8bbc0"/>
<rect x="658.78" y="111.6" width="3.1" height="18.22" fill="#f6f9fe"/>
<rect x="661.29" y="111.6" width="3.1" height="18.22" fill="#f4f8fe"/>
<rect x="663.79" y="111.6" width="3.1" height="18.22" fill="#f5a0a8"/>
<rect x="666.3" y="111.6" width="3.1" height="18.22" fill="#f38a94"/>
<rect x="668.8" y="111.6" width="3.1" height="18.22" fill="#f5a0a8"/>
<rect x="671.31" y="111.6" width="3.1" height="18.22" fill="#f7fafe"/>
<rect x="673.81" y="111.6" width="3.1" height="18.22" fill="#e0ecfb"/>
<rect x="676.32" y="111.6" width="3.1" height="18.22" fill="#f8bcc2"/>
<rect x="678.82" y="111.6" width="3.1" height="18.22" fill="#fafcfe"/>
<rect x="681.33" y="111.6" width="3.1" height="18.22" fill="#f59da5"/>
<rect x="683.83" y="111.6" width="3.1" height="18.22" fill="#fad1d5"/>
<rect x="686.34" y="111.6" width="3.1" height="18.22" fill="#fcdfe2"/>
<rect x="688.84" y="111.6" width="3.1" height="18.22" fill="#f5f9fe"/>
<rect x="691.35" y="111.6" width="3.1" height="18.22" fill="#fdf0f1"/>
<rect x="693.85" y="111.6" width="3.1" height="18.22" fill="#adcdf5"/>
<rect x="696.36" y="111.6" width="3.1" height="18.22" fill="#f8bfc4"/>
<rect x="698.86" y="111.6" width="3.1" height="18.22" fill="#e4eefc"/>
<rect x="701.37" y="111.6" width="3.1" height="18.22" fill="#dbe9fb"/>
<rect x="703.87" y="111.6" width="3.1" height="18.22" fill="#eef5fd"/>
<rect x="706.38" y="111.6" width="3.1" height="18.22" fill="#fcdfe2"/>
<rect x="708.88" y="111.6" width="3.1" height="18.22" fill="#fef6f7"/>
<rect x="711.39" y="111.6" width="3.1" height="18.22" fill="#fdf0f1"/>
<rect x="713.89" y="111.6" width="3.1" height="18.22" fill="#fef7f7"/>
<rect x="716.4" y="111.6" width="3.1" height="18.22" fill="#fce1e4"/>
<text x="449.4" y="124.17" font-size="7.7" text-anchor="end" font-weight="normal" fill="#1c1c1c" stroke="#1c1c1c" stroke-width="0.14">LUCAT1</text>
<rect x="456.5" y="21" width="263.3" height="109.4" fill="none" stroke="#0a0a0a" stroke-width="1.1"/>
<rect x="732.3" y="46.5" width="9.1" height="58.6" fill="url(#cbb)" stroke="#777" stroke-width="0.5"/>
<line x1="732.3" y1="51.67" x2="733.6" y2="51.67" stroke="#333" stroke-width="0.5"/>
<line x1="740.1" y1="51.67" x2="741.4" y2="51.67" stroke="#333" stroke-width="0.5"/>
<text x="744.2" y="54.57" font-size="7.5" text-anchor="start" font-weight="normal" fill="#1c1c1c" stroke="#1c1c1c" stroke-width="0.14">1</text>
<line x1="732.3" y1="68.91" x2="733.6" y2="68.91" stroke="#333" stroke-width="0.5"/>
<line x1="740.1" y1="68.91" x2="741.4" y2="68.91" stroke="#333" stroke-width="0.5"/>
<text x="744.2" y="71.81" font-size="7.5" text-anchor="start" font-weight="normal" fill="#1c1c1c" stroke="#1c1c1c" stroke-width="0.14">0</text>
<line x1="732.3" y1="86.14" x2="733.6" y2="86.14" stroke="#333" stroke-width="0.5"/>
<line x1="740.1" y1="86.14" x2="741.4" y2="86.14" stroke="#333" stroke-width="0.5"/>
<text x="744.2" y="89.04" font-size="7.5" text-anchor="start" font-weight="normal" fill="#1c1c1c" stroke="#1c1c1c" stroke-width="0.14">-1</text>
<line x1="732.3" y1="103.38" x2="733.6" y2="103.38" stroke="#333" stroke-width="0.5"/>
<line x1="740.1" y1="103.38" x2="741.4" y2="103.38" stroke="#333" stroke-width="0.5"/>
<text x="744.2" y="106.28" font-size="7.5" text-anchor="start" font-weight="normal" fill="#1c1c1c" stroke="#1c1c1c" stroke-width="0.14">-2</text>
<text x="400.9" y="152.6" font-size="16.5" fill="#111">c</text>
<rect x="457.3" y="159.6" width="3.12" height="18.35" fill="#f8bfc4"/>
<rect x="459.82" y="159.6" width="3.12" height="18.35" fill="#fcdee1"/>
<rect x="462.33" y="159.6" width="3.12" height="18.35" fill="#fce5e7"/>
<rect x="464.85" y="159.6" width="3.12" height="18.35" fill="#fce5e7"/>
<rect x="467.36" y="159.6" width="3.12" height="18.35" fill="#f9cace"/>
<rect x="469.88" y="159.6" width="3.12" height="18.35" fill="#fcdee1"/>
<rect x="472.39" y="159.6" width="3.12" height="18.35" fill="#f9c6cb"/>
<rect x="474.91" y="159.6" width="3.12" height="18.35" fill="#fbdbde"/>
<rect x="477.42" y="159.6" width="3.12" height="18.35" fill="#fbdbde"/>
<rect x="479.94" y="159.6" width="3.12" height="18.35" fill="#f8bbc0"/>
<rect x="482.45" y="159.6" width="3.12" height="18.35" fill="#f9c4c9"/>
<rect x="484.97" y="159.6" width="3.12" height="18.35" fill="#fbd8db"/>
<rect x="487.48" y="159.6" width="3.12" height="18.35" fill="#fbd8db"/>
<rect x="490" y="159.6" width="3.12" height="18.35" fill="#fbd5d9"/>
<rect x="492.52" y="159.6" width="3.12" height="18.35" fill="#fbd5d8"/>
<rect x="495.03" y="159.6" width="3.12" height="18.35" fill="#f9c1c6"/>
<rect x="497.55" y="159.6" width="3.12" height="18.35" fill="#fad4d8"/>
<rect x="500.06" y="159.6" width="3.12" height="18.35" fill="#fbdcdf"/>
<rect x="502.58" y="159.6" width="3.12" height="18.35" fill="#faccd0"/>
<rect x="505.09" y="159.6" width="3.12" height="18.35" fill="#faccd0"/>
<rect x="507.61" y="159.6" width="3.12" height="18.35" fill="#faccd0"/>
<rect x="510.12" y="159.6" width="3.12" height="18.35" fill="#faccd0"/>
<rect x="512.64" y="159.6" width="3.12" height="18.35" fill="#faccd0"/>
<rect x="515.15" y="159.6" width="3.12" height="18.35" fill="#faccd0"/>
<rect x="517.67" y="159.6" width="3.12" height="18.35" fill="#f8c0c5"/>
<rect x="520.18" y="159.6" width="3.12" height="18.35" fill="#fce6e8"/>
<rect x="522.7" y="159.6" width="3.12" height="18.35" fill="#fad0d4"/>
<rect x="525.22" y="159.6" width="3.12" height="18.35" fill="#fad0d4"/>
<rect x="527.73" y="159.6" width="3.12" height="18.35" fill="#fad0d4"/>
<rect x="530.25" y="159.6" width="3.12" height="18.35" fill="#fad0d4"/>
<rect x="532.76" y="159.6" width="3.12" height="18.35" fill="#fbdbde"/>
<rect x="535.28" y="159.6" width="3.12" height="18.35" fill="#fbd4d8"/>
<rect x="537.79" y="159.6" width="3.12" height="18.35" fill="#fbd4d8"/>
<rect x="540.31" y="159.6" width="3.12" height="18.35" fill="#fcdee1"/>
<rect x="542.82" y="159.6" width="3.12" height="18.35" fill="#fcdee1"/>
<rect x="545.34" y="159.6" width="3.12" height="18.35" fill="#f9c8cd"/>
<rect x="547.85" y="159.6" width="3.12" height="18.35" fill="#fde9eb"/>
<rect x="550.37" y="159.6" width="3.12" height="18.35" fill="#fde9eb"/>
<rect x="552.88" y="159.6" width="3.12" height="18.35" fill="#fbd5d9"/>
<rect x="555.4" y="159.6" width="3.12" height="18.35" fill="#faced2"/>
<rect x="557.92" y="159.6" width="3.12" height="18.35" fill="#faced2"/>
<rect x="560.43" y="159.6" width="3.12" height="18.35" fill="#fbd6da"/>
<rect x="562.95" y="159.6" width="3.12" height="18.35" fill="#fbdbde"/>
<rect x="565.46" y="159.6" width="3.12" height="18.35" fill="#fbd9dc"/>
<rect x="567.98" y="159.6" width="3.12" height="18.35" fill="#fbd9dc"/>
<rect x="570.49" y="159.6" width="3.12" height="18.35" fill="#fad0d4"/>
<rect x="573.01" y="159.6" width="3.12" height="18.35" fill="#fce7e9"/>
<rect x="575.52" y="159.6" width="3.12" height="18.35" fill="#fad2d6"/>
<rect x="578.04" y="159.6" width="3.12" height="18.35" fill="#f9c7cb"/>
<rect x="580.55" y="159.6" width="3.12" height="18.35" fill="#fce2e5"/>
<rect x="583.07" y="159.6" width="3.12" height="18.35" fill="#fce2e5"/>
<rect x="585.58" y="159.6" width="3.12" height="18.35" fill="#fcdee1"/>
<rect x="588.1" y="159.6" width="3.12" height="18.35" fill="#fcdee1"/>
<rect x="590.62" y="159.6" width="3.12" height="18.35" fill="#fcdee1"/>
<rect x="593.13" y="159.6" width="3.12" height="18.35" fill="#fad2d6"/>
<rect x="595.65" y="159.6" width="3.12" height="18.35" fill="#facfd3"/>
<rect x="598.16" y="159.6" width="3.12" height="18.35" fill="#fcdfe2"/>
<rect x="600.68" y="159.6" width="3.12" height="18.35" fill="#fad0d4"/>
<rect x="603.19" y="159.6" width="3.12" height="18.35" fill="#fad0d4"/>
<rect x="605.71" y="159.6" width="3.12" height="18.35" fill="#f8c0c5"/>
<rect x="608.22" y="159.6" width="3.12" height="18.35" fill="#f8c0c5"/>
<rect x="610.74" y="159.6" width="3.12" height="18.35" fill="#f9cacf"/>
<rect x="613.25" y="159.6" width="3.12" height="18.35" fill="#fad2d6"/>
<rect x="615.77" y="159.6" width="3.12" height="18.35" fill="#fbdcdf"/>
<rect x="618.28" y="159.6" width="3.12" height="18.35" fill="#faccd0"/>
<rect x="620.8" y="159.6" width="3.12" height="18.35" fill="#faccd0"/>
<rect x="623.32" y="159.6" width="3.12" height="18.35" fill="#fad2d6"/>
<rect x="625.83" y="159.6" width="3.12" height="18.35" fill="#fbd6d9"/>
<rect x="628.35" y="159.6" width="3.12" height="18.35" fill="#f9c6cb"/>
<rect x="630.86" y="159.6" width="3.12" height="18.35" fill="#f9c6cb"/>
<rect x="633.38" y="159.6" width="3.12" height="18.35" fill="#f9c6cb"/>
<rect x="635.89" y="159.6" width="3.12" height="18.35" fill="#fad1d4"/>
<rect x="638.41" y="159.6" width="3.12" height="18.35" fill="#facdd1"/>
<rect x="640.92" y="159.6" width="3.12" height="18.35" fill="#facdd1"/>
<rect x="643.44" y="159.6" width="3.12" height="18.35" fill="#facbd0"/>
<rect x="645.95" y="159.6" width="3.12" height="18.35" fill="#fce5e7"/>
<rect x="648.47" y="159.6" width="3.12" height="18.35" fill="#fbd9dc"/>
<rect x="650.98" y="159.6" width="3.12" height="18.35" fill="#fbd9dc"/>
<rect x="653.5" y="159.6" width="3.12" height="18.35" fill="#fbd9dc"/>
<rect x="656.02" y="159.6" width="3.12" height="18.35" fill="#fbd9dc"/>
<rect x="658.53" y="159.6" width="3.12" height="18.35" fill="#fbd9dc"/>
<rect x="661.05" y="159.6" width="3.12" height="18.35" fill="#facfd3"/>
<rect x="663.56" y="159.6" width="3.12" height="18.35" fill="#fce6e8"/>
<rect x="666.08" y="159.6" width="3.12" height="18.35" fill="#fce6e8"/>
<rect x="668.59" y="159.6" width="3.12" height="18.35" fill="#fce6e8"/>
<rect x="671.11" y="159.6" width="3.12" height="18.35" fill="#fce6e8"/>
<rect x="673.62" y="159.6" width="3.12" height="18.35" fill="#fce6e8"/>
<rect x="676.14" y="159.6" width="3.12" height="18.35" fill="#fce6e8"/>
<rect x="678.65" y="159.6" width="3.12" height="18.35" fill="#fad3d7"/>
<rect x="681.17" y="159.6" width="3.12" height="18.35" fill="#fce5e7"/>
<rect x="683.68" y="159.6" width="3.12" height="18.35" fill="#fad0d3"/>
<rect x="686.2" y="159.6" width="3.12" height="18.35" fill="#fad0d4"/>
<rect x="688.72" y="159.6" width="3.12" height="18.35" fill="#fbd8db"/>
<rect x="691.23" y="159.6" width="3.12" height="18.35" fill="#fbd8db"/>
<rect x="693.75" y="159.6" width="3.12" height="18.35" fill="#fad2d6"/>
<rect x="696.26" y="159.6" width="3.12" height="18.35" fill="#fad2d6"/>
<rect x="698.78" y="159.6" width="3.12" height="18.35" fill="#fad2d6"/>
<rect x="701.29" y="159.6" width="3.12" height="18.35" fill="#fad2d6"/>
<rect x="703.81" y="159.6" width="3.12" height="18.35" fill="#fad2d6"/>
<rect x="706.32" y="159.6" width="3.12" height="18.35" fill="#fad2d6"/>
<rect x="708.84" y="159.6" width="3.12" height="18.35" fill="#fad2d6"/>
<rect x="711.35" y="159.6" width="3.12" height="18.35" fill="#fad3d7"/>
<rect x="713.87" y="159.6" width="3.12" height="18.35" fill="#fce6e8"/>
<rect x="716.38" y="159.6" width="3.12" height="18.35" fill="#fbdcdf"/>
<text x="447.6" y="169.37" font-size="7.7" text-anchor="end" font-weight="normal" fill="#1c1c1c" stroke="#1c1c1c" stroke-width="0.14">ACTB</text>
<rect x="457.3" y="177.65" width="3.12" height="18.35" fill="#f8bbc1"/>
<rect x="459.82" y="177.65" width="3.12" height="18.35" fill="#f8bbc1"/>
<rect x="462.33" y="177.65" width="3.12" height="18.35" fill="#f8bbc1"/>
<rect x="464.85" y="177.65" width="3.12" height="18.35" fill="#f8bbc1"/>
<rect x="467.36" y="177.65" width="3.12" height="18.35" fill="#f8c1c6"/>
<rect x="469.88" y="177.65" width="3.12" height="18.35" fill="#f8c1c6"/>
<rect x="472.39" y="177.65" width="3.12" height="18.35" fill="#f8c1c6"/>
<rect x="474.91" y="177.65" width="3.12" height="18.35" fill="#f8c1c6"/>
<rect x="477.42" y="177.65" width="3.12" height="18.35" fill="#f8c1c6"/>
<rect x="479.94" y="177.65" width="3.12" height="18.35" fill="#f6acb3"/>
<rect x="482.45" y="177.65" width="3.12" height="18.35" fill="#f6acb3"/>
<rect x="484.97" y="177.65" width="3.12" height="18.35" fill="#f6a7af"/>
<rect x="487.48" y="177.65" width="3.12" height="18.35" fill="#f6a7af"/>
<rect x="490" y="177.65" width="3.12" height="18.35" fill="#f7b3b9"/>
<rect x="492.52" y="177.65" width="3.12" height="18.35" fill="#f9c5ca"/>
<rect x="495.03" y="177.65" width="3.12" height="18.35" fill="#f9c5ca"/>
<rect x="497.55" y="177.65" width="3.12" height="18.35" fill="#f9c5ca"/>
<rect x="500.06" y="177.65" width="3.12" height="18.35" fill="#f5a3aa"/>
<rect x="502.58" y="177.65" width="3.12" height="18.35" fill="#f5a3aa"/>
<rect x="505.09" y="177.65" width="3.12" height="18.35" fill="#f6aab1"/>
<rect x="507.61" y="177.65" width="3.12" height="18.35" fill="#f9c3c8"/>
<rect x="510.12" y="177.65" width="3.12" height="18.35" fill="#f9c3c8"/>
<rect x="512.64" y="177.65" width="3.12" height="18.35" fill="#f9c3c8"/>
<rect x="515.15" y="177.65" width="3.12" height="18.35" fill="#faccd0"/>
<rect x="517.67" y="177.65" width="3.12" height="18.35" fill="#f5a4ac"/>
<rect x="520.18" y="177.65" width="3.12" height="18.35" fill="#f7afb6"/>
<rect x="522.7" y="177.65" width="3.12" height="18.35" fill="#f6a5ac"/>
<rect x="525.22" y="177.65" width="3.12" height="18.35" fill="#f7b3b9"/>
<rect x="527.73" y="177.65" width="3.12" height="18.35" fill="#f6a6ad"/>
<rect x="530.25" y="177.65" width="3.12" height="18.35" fill="#f59fa7"/>
<rect x="532.76" y="177.65" width="3.12" height="18.35" fill="#f59fa7"/>
<rect x="535.28" y="177.65" width="3.12" height="18.35" fill="#f59fa7"/>
<rect x="537.79" y="177.65" width="3.12" height="18.35" fill="#f8b8be"/>
<rect x="540.31" y="177.65" width="3.12" height="18.35" fill="#f8bcc1"/>
<rect x="542.82" y="177.65" width="3.12" height="18.35" fill="#f8bcc1"/>
<rect x="545.34" y="177.65" width="3.12" height="18.35" fill="#f7b3b9"/>
<rect x="547.85" y="177.65" width="3.12" height="18.35" fill="#f7b8be"/>
<rect x="550.37" y="177.65" width="3.12" height="18.35" fill="#f7b4ba"/>
<rect x="552.88" y="177.65" width="3.12" height="18.35" fill="#fad3d7"/>
<rect x="555.4" y="177.65" width="3.12" height="18.35" fill="#fad3d7"/>
<rect x="557.92" y="177.65" width="3.12" height="18.35" fill="#f5a1a8"/>
<rect x="560.43" y="177.65" width="3.12" height="18.35" fill="#f8bdc3"/>
<rect x="562.95" y="177.65" width="3.12" height="18.35" fill="#f8bdc3"/>
<rect x="565.46" y="177.65" width="3.12" height="18.35" fill="#f8bdc3"/>
<rect x="567.98" y="177.65" width="3.12" height="18.35" fill="#f8bdc3"/>
<rect x="570.49" y="177.65" width="3.12" height="18.35" fill="#f7b0b7"/>
<rect x="573.01" y="177.65" width="3.12" height="18.35" fill="#f7b5bb"/>
<rect x="575.52" y="177.65" width="3.12" height="18.35" fill="#f7b5bb"/>
<rect x="578.04" y="177.65" width="3.12" height="18.35" fill="#f7b5bb"/>
<rect x="580.55" y="177.65" width="3.12" height="18.35" fill="#fad1d4"/>
<rect x="583.07" y="177.65" width="3.12" height="18.35" fill="#f8bec3"/>
<rect x="585.58" y="177.65" width="3.12" height="18.35" fill="#f6a9b0"/>
<rect x="588.1" y="177.65" width="3.12" height="18.35" fill="#f6a9b0"/>
<rect x="590.62" y="177.65" width="3.12" height="18.35" fill="#f6a9b0"/>
<rect x="593.13" y="177.65" width="3.12" height="18.35" fill="#f9c4c9"/>
<rect x="595.65" y="177.65" width="3.12" height="18.35" fill="#f59fa7"/>
<rect x="598.16" y="177.65" width="3.12" height="18.35" fill="#f8c0c6"/>
<rect x="600.68" y="177.65" width="3.12" height="18.35" fill="#f7b0b6"/>
<rect x="603.19" y="177.65" width="3.12" height="18.35" fill="#f8bbc0"/>
<rect x="605.71" y="177.65" width="3.12" height="18.35" fill="#f8b9bf"/>
<rect x="608.22" y="177.65" width="3.12" height="18.35" fill="#f8bfc5"/>
<rect x="610.74" y="177.65" width="3.12" height="18.35" fill="#f8bfc5"/>
<rect x="613.25" y="177.65" width="3.12" height="18.35" fill="#f8babf"/>
<rect x="615.77" y="177.65" width="3.12" height="18.35" fill="#f8bbc0"/>
<rect x="618.28" y="177.65" width="3.12" height="18.35" fill="#facfd3"/>
<rect x="620.8" y="177.65" width="3.12" height="18.35" fill="#f8bcc2"/>
<rect x="623.32" y="177.65" width="3.12" height="18.35" fill="#f59ea6"/>
<rect x="625.83" y="177.65" width="3.12" height="18.35" fill="#f7b0b6"/>
<rect x="628.35" y="177.65" width="3.12" height="18.35" fill="#f8c0c5"/>
<rect x="630.86" y="177.65" width="3.12" height="18.35" fill="#f7b6bc"/>
<rect x="633.38" y="177.65" width="3.12" height="18.35" fill="#f7b3b9"/>
<rect x="635.89" y="177.65" width="3.12" height="18.35" fill="#f7b3b9"/>
<rect x="638.41" y="177.65" width="3.12" height="18.35" fill="#fad2d5"/>
<rect x="640.92" y="177.65" width="3.12" height="18.35" fill="#fad2d5"/>
<rect x="643.44" y="177.65" width="3.12" height="18.35" fill="#fad2d5"/>
<rect x="645.95" y="177.65" width="3.12" height="18.35" fill="#fad2d5"/>
<rect x="648.47" y="177.65" width="3.12" height="18.35" fill="#fad2d5"/>
<rect x="650.98" y="177.65" width="3.12" height="18.35" fill="#f9c3c8"/>
<rect x="653.5" y="177.65" width="3.12" height="18.35" fill="#f9c8cd"/>
<rect x="656.02" y="177.65" width="3.12" height="18.35" fill="#fbd7da"/>
<rect x="658.53" y="177.65" width="3.12" height="18.35" fill="#fbd7da"/>
<rect x="661.05" y="177.65" width="3.12" height="18.35" fill="#facbcf"/>
<rect x="663.56" y="177.65" width="3.12" height="18.35" fill="#facbcf"/>
<rect x="666.08" y="177.65" width="3.12" height="18.35" fill="#facbcf"/>
<rect x="668.59" y="177.65" width="3.12" height="18.35" fill="#fbdadd"/>
<rect x="671.11" y="177.65" width="3.12" height="18.35" fill="#f8bcc1"/>
<rect x="673.62" y="177.65" width="3.12" height="18.35" fill="#f8bcc2"/>
<rect x="676.14" y="177.65" width="3.12" height="18.35" fill="#f6a9b0"/>
<rect x="678.65" y="177.65" width="3.12" height="18.35" fill="#f7b1b8"/>
<rect x="681.17" y="177.65" width="3.12" height="18.35" fill="#f8b9bf"/>
<rect x="683.68" y="177.65" width="3.12" height="18.35" fill="#f6aeb5"/>
<rect x="686.2" y="177.65" width="3.12" height="18.35" fill="#f6abb2"/>
<rect x="688.72" y="177.65" width="3.12" height="18.35" fill="#f5a3aa"/>
<rect x="691.23" y="177.65" width="3.12" height="18.35" fill="#f8c0c5"/>
<rect x="693.75" y="177.65" width="3.12" height="18.35" fill="#f6a9b0"/>
<rect x="696.26" y="177.65" width="3.12" height="18.35" fill="#f6a9b0"/>
<rect x="698.78" y="177.65" width="3.12" height="18.35" fill="#f8bdc3"/>
<rect x="701.29" y="177.65" width="3.12" height="18.35" fill="#f8bdc3"/>
<rect x="703.81" y="177.65" width="3.12" height="18.35" fill="#f9cbcf"/>
<rect x="706.32" y="177.65" width="3.12" height="18.35" fill="#f9c3c8"/>
<rect x="708.84" y="177.65" width="3.12" height="18.35" fill="#f6aeb4"/>
<rect x="711.35" y="177.65" width="3.12" height="18.35" fill="#f6a6ad"/>
<rect x="713.87" y="177.65" width="3.12" height="18.35" fill="#f6a6ad"/>
<rect x="716.38" y="177.65" width="3.12" height="18.35" fill="#f7b1b7"/>
<text x="447.6" y="187.63" font-size="7.7" text-anchor="end" font-weight="normal" fill="#1c1c1c" stroke="#1c1c1c" stroke-width="0.14">BSG</text>
<rect x="457.3" y="195.7" width="3.12" height="18.35" fill="#f9cace"/>
<rect x="459.82" y="195.7" width="3.12" height="18.35" fill="#f8babf"/>
<rect x="462.33" y="195.7" width="3.12" height="18.35" fill="#f7b4bb"/>
<rect x="464.85" y="195.7" width="3.12" height="18.35" fill="#fad1d5"/>
<rect x="467.36" y="195.7" width="3.12" height="18.35" fill="#fad1d5"/>
<rect x="469.88" y="195.7" width="3.12" height="18.35" fill="#f8bdc3"/>
<rect x="472.39" y="195.7" width="3.12" height="18.35" fill="#f8bdc3"/>
<rect x="474.91" y="195.7" width="3.12" height="18.35" fill="#f7b4ba"/>
<rect x="477.42" y="195.7" width="3.12" height="18.35" fill="#f7b4ba"/>
<rect x="479.94" y="195.7" width="3.12" height="18.35" fill="#f7b4ba"/>
<rect x="482.45" y="195.7" width="3.12" height="18.35" fill="#f7b4ba"/>
<rect x="484.97" y="195.7" width="3.12" height="18.35" fill="#fad2d6"/>
<rect x="487.48" y="195.7" width="3.12" height="18.35" fill="#fad2d6"/>
<rect x="490" y="195.7" width="3.12" height="18.35" fill="#fad2d6"/>
<rect x="492.52" y="195.7" width="3.12" height="18.35" fill="#fad2d6"/>
<rect x="495.03" y="195.7" width="3.12" height="18.35" fill="#f7b5bb"/>
<rect x="497.55" y="195.7" width="3.12" height="18.35" fill="#f7b5bb"/>
<rect x="500.06" y="195.7" width="3.12" height="18.35" fill="#fad4d8"/>
<rect x="502.58" y="195.7" width="3.12" height="18.35" fill="#fbd4d8"/>
<rect x="505.09" y="195.7" width="3.12" height="18.35" fill="#f9c9ce"/>
<rect x="507.61" y="195.7" width="3.12" height="18.35" fill="#f9c9ce"/>
<rect x="510.12" y="195.7" width="3.12" height="18.35" fill="#f9c9ce"/>
<rect x="512.64" y="195.7" width="3.12" height="18.35" fill="#f6a7ae"/>
<rect x="515.15" y="195.7" width="3.12" height="18.35" fill="#f8c1c6"/>
<rect x="517.67" y="195.7" width="3.12" height="18.35" fill="#f9c7cc"/>
<rect x="520.18" y="195.7" width="3.12" height="18.35" fill="#f9cace"/>
<rect x="522.7" y="195.7" width="3.12" height="18.35" fill="#f9cace"/>
<rect x="525.22" y="195.7" width="3.12" height="18.35" fill="#f9cace"/>
<rect x="527.73" y="195.7" width="3.12" height="18.35" fill="#f9cace"/>
<rect x="530.25" y="195.7" width="3.12" height="18.35" fill="#f9cace"/>
<rect x="532.76" y="195.7" width="3.12" height="18.35" fill="#f7b6bc"/>
<rect x="535.28" y="195.7" width="3.12" height="18.35" fill="#f8c0c6"/>
<rect x="537.79" y="195.7" width="3.12" height="18.35" fill="#f8c0c6"/>
<rect x="540.31" y="195.7" width="3.12" height="18.35" fill="#f8babf"/>
<rect x="542.82" y="195.7" width="3.12" height="18.35" fill="#f7b0b7"/>
<rect x="545.34" y="195.7" width="3.12" height="18.35" fill="#f9c4c9"/>
<rect x="547.85" y="195.7" width="3.12" height="18.35" fill="#fbdcdf"/>
<rect x="550.37" y="195.7" width="3.12" height="18.35" fill="#f9c4c8"/>
<rect x="552.88" y="195.7" width="3.12" height="18.35" fill="#f9c4c8"/>
<rect x="555.4" y="195.7" width="3.12" height="18.35" fill="#fce0e3"/>
<rect x="557.92" y="195.7" width="3.12" height="18.35" fill="#fce0e3"/>
<rect x="560.43" y="195.7" width="3.12" height="18.35" fill="#fce0e3"/>
<rect x="562.95" y="195.7" width="3.12" height="18.35" fill="#fce0e3"/>
<rect x="565.46" y="195.7" width="3.12" height="18.35" fill="#fce0e3"/>
<rect x="567.98" y="195.7" width="3.12" height="18.35" fill="#fad0d4"/>
<rect x="570.49" y="195.7" width="3.12" height="18.35" fill="#fbd7db"/>
<rect x="573.01" y="195.7" width="3.12" height="18.35" fill="#f6a9b0"/>
<rect x="575.52" y="195.7" width="3.12" height="18.35" fill="#f6a9b0"/>
<rect x="578.04" y="195.7" width="3.12" height="18.35" fill="#facdd1"/>
<rect x="580.55" y="195.7" width="3.12" height="18.35" fill="#facdd1"/>
<rect x="583.07" y="195.7" width="3.12" height="18.35" fill="#facdd1"/>
<rect x="585.58" y="195.7" width="3.12" height="18.35" fill="#facdd1"/>
<rect x="588.1" y="195.7" width="3.12" height="18.35" fill="#fbdbde"/>
<rect x="590.62" y="195.7" width="3.12" height="18.35" fill="#fbdbde"/>
<rect x="593.13" y="195.7" width="3.12" height="18.35" fill="#fbdbde"/>
<rect x="595.65" y="195.7" width="3.12" height="18.35" fill="#f8b8be"/>
<rect x="598.16" y="195.7" width="3.12" height="18.35" fill="#f7b2b8"/>
<rect x="600.68" y="195.7" width="3.12" height="18.35" fill="#facdd2"/>
<rect x="603.19" y="195.7" width="3.12" height="18.35" fill="#facdd2"/>
<rect x="605.71" y="195.7" width="3.12" height="18.35" fill="#f8bbc1"/>
<rect x="608.22" y="195.7" width="3.12" height="18.35" fill="#f9c3c8"/>
<rect x="610.74" y="195.7" width="3.12" height="18.35" fill="#f8b8be"/>
<rect x="613.25" y="195.7" width="3.12" height="18.35" fill="#facdd1"/>
<rect x="615.77" y="195.7" width="3.12" height="18.35" fill="#f9c5ca"/>
<rect x="618.28" y="195.7" width="3.12" height="18.35" fill="#f7b1b7"/>
<rect x="620.8" y="195.7" width="3.12" height="18.35" fill="#f7b6bc"/>
<rect x="623.32" y="195.7" width="3.12" height="18.35" fill="#f9c2c7"/>
<rect x="625.83" y="195.7" width="3.12" height="18.35" fill="#fbd7da"/>
<rect x="628.35" y="195.7" width="3.12" height="18.35" fill="#fbd7da"/>
<rect x="630.86" y="195.7" width="3.12" height="18.35" fill="#fbd7da"/>
<rect x="633.38" y="195.7" width="3.12" height="18.35" fill="#f8c1c6"/>
<rect x="635.89" y="195.7" width="3.12" height="18.35" fill="#f9c8cd"/>
<rect x="638.41" y="195.7" width="3.12" height="18.35" fill="#f8c0c5"/>
<rect x="640.92" y="195.7" width="3.12" height="18.35" fill="#f8c0c5"/>
<rect x="643.44" y="195.7" width="3.12" height="18.35" fill="#fad4d7"/>
<rect x="645.95" y="195.7" width="3.12" height="18.35" fill="#f9c8cc"/>
<rect x="648.47" y="195.7" width="3.12" height="18.35" fill="#fad2d6"/>
<rect x="650.98" y="195.7" width="3.12" height="18.35" fill="#fad2d6"/>
<rect x="653.5" y="195.7" width="3.12" height="18.35" fill="#f7b4ba"/>
<rect x="656.02" y="195.7" width="3.12" height="18.35" fill="#f7b4ba"/>
<rect x="658.53" y="195.7" width="3.12" height="18.35" fill="#fbdee0"/>
<rect x="661.05" y="195.7" width="3.12" height="18.35" fill="#f9cacf"/>
<rect x="663.56" y="195.7" width="3.12" height="18.35" fill="#f9cacf"/>
<rect x="666.08" y="195.7" width="3.12" height="18.35" fill="#f9cacf"/>
<rect x="668.59" y="195.7" width="3.12" height="18.35" fill="#fbdadd"/>
<rect x="671.11" y="195.7" width="3.12" height="18.35" fill="#fbdadd"/>
<rect x="673.62" y="195.7" width="3.12" height="18.35" fill="#f8babf"/>
<rect x="676.14" y="195.7" width="3.12" height="18.35" fill="#f8babf"/>
<rect x="678.65" y="195.7" width="3.12" height="18.35" fill="#f8b9bf"/>
<rect x="681.17" y="195.7" width="3.12" height="18.35" fill="#f9c3c8"/>
<rect x="683.68" y="195.7" width="3.12" height="18.35" fill="#f9c3c8"/>
<rect x="686.2" y="195.7" width="3.12" height="18.35" fill="#f9c2c7"/>
<rect x="688.72" y="195.7" width="3.12" height="18.35" fill="#f9c2c7"/>
<rect x="691.23" y="195.7" width="3.12" height="18.35" fill="#f9c2c7"/>
<rect x="693.75" y="195.7" width="3.12" height="18.35" fill="#f9c2c7"/>
<rect x="696.26" y="195.7" width="3.12" height="18.35" fill="#f8bcc2"/>
<rect x="698.78" y="195.7" width="3.12" height="18.35" fill="#f8bcc2"/>
<rect x="701.29" y="195.7" width="3.12" height="18.35" fill="#f9c6cb"/>
<rect x="703.81" y="195.7" width="3.12" height="18.35" fill="#facfd3"/>
<rect x="706.32" y="195.7" width="3.12" height="18.35" fill="#facfd3"/>
<rect x="708.84" y="195.7" width="3.12" height="18.35" fill="#facfd3"/>
<rect x="711.35" y="195.7" width="3.12" height="18.35" fill="#facfd3"/>
<rect x="713.87" y="195.7" width="3.12" height="18.35" fill="#fad0d4"/>
<rect x="716.38" y="195.7" width="3.12" height="18.35" fill="#fad0d4"/>
<text x="447.6" y="205.89" font-size="7.7" text-anchor="end" font-weight="normal" fill="#1c1c1c" stroke="#1c1c1c" stroke-width="0.14">TPT1</text>
<rect x="457.3" y="213.75" width="3.12" height="18.35" fill="#f17a85"/>
<rect x="459.82" y="213.75" width="3.12" height="18.35" fill="#f49ba4"/>
<rect x="462.33" y="213.75" width="3.12" height="18.35" fill="#f7afb6"/>
<rect x="464.85" y="213.75" width="3.12" height="18.35" fill="#f17b86"/>
<rect x="467.36" y="213.75" width="3.12" height="18.35" fill="#f17b86"/>
<rect x="469.88" y="213.75" width="3.12" height="18.35" fill="#f17b86"/>
<rect x="472.39" y="213.75" width="3.12" height="18.35" fill="#f17b86"/>
<rect x="474.91" y="213.75" width="3.12" height="18.35" fill="#f17b86"/>
<rect x="477.42" y="213.75" width="3.12" height="18.35" fill="#f17b86"/>
<rect x="479.94" y="213.75" width="3.12" height="18.35" fill="#f17a85"/>
<rect x="482.45" y="213.75" width="3.12" height="18.35" fill="#f5a2aa"/>
<rect x="484.97" y="213.75" width="3.12" height="18.35" fill="#f17a85"/>
<rect x="487.48" y="213.75" width="3.12" height="18.35" fill="#f17d88"/>
<rect x="490" y="213.75" width="3.12" height="18.35" fill="#f17d88"/>
<rect x="492.52" y="213.75" width="3.12" height="18.35" fill="#f17a85"/>
<rect x="495.03" y="213.75" width="3.12" height="18.35" fill="#f17a85"/>
<rect x="497.55" y="213.75" width="3.12" height="18.35" fill="#f17a85"/>
<rect x="500.06" y="213.75" width="3.12" height="18.35" fill="#f17a85"/>
<rect x="502.58" y="213.75" width="3.12" height="18.35" fill="#f17a85"/>
<rect x="505.09" y="213.75" width="3.12" height="18.35" fill="#f17a85"/>
<rect x="507.61" y="213.75" width="3.12" height="18.35" fill="#f17a85"/>
<rect x="510.12" y="213.75" width="3.12" height="18.35" fill="#f17a85"/>
<rect x="512.64" y="213.75" width="3.12" height="18.35" fill="#f17a85"/>
<rect x="515.15" y="213.75" width="3.12" height="18.35" fill="#f17a85"/>
<rect x="517.67" y="213.75" width="3.12" height="18.35" fill="#f17a85"/>
<rect x="520.18" y="213.75" width="3.12" height="18.35" fill="#f17c87"/>
<rect x="522.7" y="213.75" width="3.12" height="18.35" fill="#f17a85"/>
<rect x="525.22" y="213.75" width="3.12" height="18.35" fill="#f17a85"/>
<rect x="527.73" y="213.75" width="3.12" height="18.35" fill="#f17a85"/>
<rect x="530.25" y="213.75" width="3.12" height="18.35" fill="#f17a85"/>
<rect x="532.76" y="213.75" width="3.12" height="18.35" fill="#f17a85"/>
<rect x="535.28" y="213.75" width="3.12" height="18.35" fill="#f17d87"/>
<rect x="537.79" y="213.75" width="3.12" height="18.35" fill="#f17d87"/>
<rect x="540.31" y="213.75" width="3.12" height="18.35" fill="#f17c87"/>
<rect x="542.82" y="213.75" width="3.12" height="18.35" fill="#f17a85"/>
<rect x="545.34" y="213.75" width="3.12" height="18.35" fill="#f49ba4"/>
<rect x="547.85" y="213.75" width="3.12" height="18.35" fill="#f17c87"/>
<rect x="550.37" y="213.75" width="3.12" height="18.35" fill="#f497a0"/>
<rect x="552.88" y="213.75" width="3.12" height="18.35" fill="#f17a85"/>
<rect x="555.4" y="213.75" width="3.12" height="18.35" fill="#f17a85"/>
<rect x="557.92" y="213.75" width="3.12" height="18.35" fill="#f17a85"/>
<rect x="560.43" y="213.75" width="3.12" height="18.35" fill="#f2818b"/>
<rect x="562.95" y="213.75" width="3.12" height="18.35" fill="#f2818b"/>
<rect x="565.46" y="213.75" width="3.12" height="18.35" fill="#f17a85"/>
<rect x="567.98" y="213.75" width="3.12" height="18.35" fill="#f17a85"/>
<rect x="570.49" y="213.75" width="3.12" height="18.35" fill="#f49ba4"/>
<rect x="573.01" y="213.75" width="3.12" height="18.35" fill="#f17a85"/>
<rect x="575.52" y="213.75" width="3.12" height="18.35" fill="#f17a85"/>
<rect x="578.04" y="213.75" width="3.12" height="18.35" fill="#f7afb6"/>
<rect x="580.55" y="213.75" width="3.12" height="18.35" fill="#f17b86"/>
<rect x="583.07" y="213.75" width="3.12" height="18.35" fill="#f17b86"/>
<rect x="585.58" y="213.75" width="3.12" height="18.35" fill="#f17a85"/>
<rect x="588.1" y="213.75" width="3.12" height="18.35" fill="#f17a85"/>
<rect x="590.62" y="213.75" width="3.12" height="18.35" fill="#f17a85"/>
<rect x="593.13" y="213.75" width="3.12" height="18.35" fill="#f17a85"/>
<rect x="595.65" y="213.75" width="3.12" height="18.35" fill="#f17a85"/>
<rect x="598.16" y="213.75" width="3.12" height="18.35" fill="#f17a85"/>
<rect x="600.68" y="213.75" width="3.12" height="18.35" fill="#f17a85"/>
<rect x="603.19" y="213.75" width="3.12" height="18.35" fill="#f28892"/>
<rect x="605.71" y="213.75" width="3.12" height="18.35" fill="#f28892"/>
<rect x="608.22" y="213.75" width="3.12" height="18.35" fill="#f17a85"/>
<rect x="610.74" y="213.75" width="3.12" height="18.35" fill="#f17a85"/>
<rect x="613.25" y="213.75" width="3.12" height="18.35" fill="#f17a85"/>
<rect x="615.77" y="213.75" width="3.12" height="18.35" fill="#f2818c"/>
<rect x="618.28" y="213.75" width="3.12" height="18.35" fill="#f17a85"/>
<rect x="620.8" y="213.75" width="3.12" height="18.35" fill="#f17a85"/>
<rect x="623.32" y="213.75" width="3.12" height="18.35" fill="#f17a85"/>
<rect x="625.83" y="213.75" width="3.12" height="18.35" fill="#f17a85"/>
<rect x="628.35" y="213.75" width="3.12" height="18.35" fill="#f17a85"/>
<rect x="630.86" y="213.75" width="3.12" height="18.35" fill="#f17a85"/>
<rect x="633.38" y="213.75" width="3.12" height="18.35" fill="#f7afb6"/>
<rect x="635.89" y="213.75" width="3.12" height="18.35" fill="#f28892"/>
<rect x="638.41" y="213.75" width="3.12" height="18.35" fill="#f17a85"/>
<rect x="640.92" y="213.75" width="3.12" height="18.35" fill="#f17a85"/>
<rect x="643.44" y="213.75" width="3.12" height="18.35" fill="#f2858f"/>
<rect x="645.95" y="213.75" width="3.12" height="18.35" fill="#f2858f"/>
<rect x="648.47" y="213.75" width="3.12" height="18.35" fill="#f2858f"/>
<rect x="650.98" y="213.75" width="3.12" height="18.35" fill="#f17a85"/>
<rect x="653.5" y="213.75" width="3.12" height="18.35" fill="#f17a85"/>
<rect x="656.02" y="213.75" width="3.12" height="18.35" fill="#f17a85"/>
<rect x="658.53" y="213.75" width="3.12" height="18.35" fill="#f49ba4"/>
<rect x="661.05" y="213.75" width="3.12" height="18.35" fill="#f17a85"/>
<rect x="663.56" y="213.75" width="3.12" height="18.35" fill="#f17a85"/>
<rect x="666.08" y="213.75" width="3.12" height="18.35" fill="#f17a85"/>
<rect x="668.59" y="213.75" width="3.12" height="18.35" fill="#f5a2aa"/>
<rect x="671.11" y="213.75" width="3.12" height="18.35" fill="#f17a85"/>
<rect x="673.62" y="213.75" width="3.12" height="18.35" fill="#f17a85"/>
<rect x="676.14" y="213.75" width="3.12" height="18.35" fill="#f17e89"/>
<rect x="678.65" y="213.75" width="3.12" height="18.35" fill="#f17d88"/>
<rect x="681.17" y="213.75" width="3.12" height="18.35" fill="#f17a85"/>
<rect x="683.68" y="213.75" width="3.12" height="18.35" fill="#f2818b"/>
<rect x="686.2" y="213.75" width="3.12" height="18.35" fill="#f28690"/>
<rect x="688.72" y="213.75" width="3.12" height="18.35" fill="#f7afb6"/>
<rect x="691.23" y="213.75" width="3.12" height="18.35" fill="#f17c87"/>
<rect x="693.75" y="213.75" width="3.12" height="18.35" fill="#f17c87"/>
<rect x="696.26" y="213.75" width="3.12" height="18.35" fill="#f17c87"/>
<rect x="698.78" y="213.75" width="3.12" height="18.35" fill="#f17a85"/>
<rect x="701.29" y="213.75" width="3.12" height="18.35" fill="#f17a85"/>
<rect x="703.81" y="213.75" width="3.12" height="18.35" fill="#f17a85"/>
<rect x="706.32" y="213.75" width="3.12" height="18.35" fill="#f49ba4"/>
<rect x="708.84" y="213.75" width="3.12" height="18.35" fill="#f17a85"/>
<rect x="711.35" y="213.75" width="3.12" height="18.35" fill="#f17a85"/>
<rect x="713.87" y="213.75" width="3.12" height="18.35" fill="#f49ba4"/>
<rect x="716.38" y="213.75" width="3.12" height="18.35" fill="#f17a85"/>
<text x="447.6" y="224.15" font-size="7.7" text-anchor="end" font-weight="normal" fill="#1c1c1c" stroke="#1c1c1c" stroke-width="0.14">TUG1</text>
<rect x="457.3" y="231.8" width="3.12" height="18.35" fill="#f5a2aa"/>
<rect x="459.82" y="231.8" width="3.12" height="18.35" fill="#f2848e"/>
<rect x="462.33" y="231.8" width="3.12" height="18.35" fill="#f17b86"/>
<rect x="464.85" y="231.8" width="3.12" height="18.35" fill="#f4939c"/>
<rect x="467.36" y="231.8" width="3.12" height="18.35" fill="#f4939c"/>
<rect x="469.88" y="231.8" width="3.12" height="18.35" fill="#f38993"/>
<rect x="472.39" y="231.8" width="3.12" height="18.35" fill="#f28790"/>
<rect x="474.91" y="231.8" width="3.12" height="18.35" fill="#f38d97"/>
<rect x="477.42" y="231.8" width="3.12" height="18.35" fill="#f38d97"/>
<rect x="479.94" y="231.8" width="3.12" height="18.35" fill="#f7afb6"/>
<rect x="482.45" y="231.8" width="3.12" height="18.35" fill="#f49ba4"/>
<rect x="484.97" y="231.8" width="3.12" height="18.35" fill="#f2858f"/>
<rect x="487.48" y="231.8" width="3.12" height="18.35" fill="#f2858f"/>
<rect x="490" y="231.8" width="3.12" height="18.35" fill="#f2828d"/>
<rect x="492.52" y="231.8" width="3.12" height="18.35" fill="#f2848e"/>
<rect x="495.03" y="231.8" width="3.12" height="18.35" fill="#f2848e"/>
<rect x="497.55" y="231.8" width="3.12" height="18.35" fill="#f2848e"/>
<rect x="500.06" y="231.8" width="3.12" height="18.35" fill="#f2848e"/>
<rect x="502.58" y="231.8" width="3.12" height="18.35" fill="#f2838e"/>
<rect x="505.09" y="231.8" width="3.12" height="18.35" fill="#f2838e"/>
<rect x="507.61" y="231.8" width="3.12" height="18.35" fill="#f38c95"/>
<rect x="510.12" y="231.8" width="3.12" height="18.35" fill="#f38c95"/>
<rect x="512.64" y="231.8" width="3.12" height="18.35" fill="#f38c95"/>
<rect x="515.15" y="231.8" width="3.12" height="18.35" fill="#f38c95"/>
<rect x="517.67" y="231.8" width="3.12" height="18.35" fill="#f5a2aa"/>
<rect x="520.18" y="231.8" width="3.12" height="18.35" fill="#f38c95"/>
<rect x="522.7" y="231.8" width="3.12" height="18.35" fill="#f38c95"/>
<rect x="525.22" y="231.8" width="3.12" height="18.35" fill="#f7afb6"/>
<rect x="527.73" y="231.8" width="3.12" height="18.35" fill="#f2828c"/>
<rect x="530.25" y="231.8" width="3.12" height="18.35" fill="#f28892"/>
<rect x="532.76" y="231.8" width="3.12" height="18.35" fill="#f3919a"/>
<rect x="535.28" y="231.8" width="3.12" height="18.35" fill="#f17e89"/>
<rect x="537.79" y="231.8" width="3.12" height="18.35" fill="#f17b86"/>
<rect x="540.31" y="231.8" width="3.12" height="18.35" fill="#f49ba4"/>
<rect x="542.82" y="231.8" width="3.12" height="18.35" fill="#f17b86"/>
<rect x="545.34" y="231.8" width="3.12" height="18.35" fill="#f3919a"/>
<rect x="547.85" y="231.8" width="3.12" height="18.35" fill="#f2818b"/>
<rect x="550.37" y="231.8" width="3.12" height="18.35" fill="#f2818b"/>
<rect x="552.88" y="231.8" width="3.12" height="18.35" fill="#f2818b"/>
<rect x="555.4" y="231.8" width="3.12" height="18.35" fill="#f2818b"/>
<rect x="557.92" y="231.8" width="3.12" height="18.35" fill="#f3919a"/>
<rect x="560.43" y="231.8" width="3.12" height="18.35" fill="#f17a85"/>
<rect x="562.95" y="231.8" width="3.12" height="18.35" fill="#f7afb6"/>
<rect x="565.46" y="231.8" width="3.12" height="18.35" fill="#f38c96"/>
<rect x="567.98" y="231.8" width="3.12" height="18.35" fill="#f49ba4"/>
<rect x="570.49" y="231.8" width="3.12" height="18.35" fill="#f17a85"/>
<rect x="573.01" y="231.8" width="3.12" height="18.35" fill="#f17a85"/>
<rect x="575.52" y="231.8" width="3.12" height="18.35" fill="#f38d96"/>
<rect x="578.04" y="231.8" width="3.12" height="18.35" fill="#f38d96"/>
<rect x="580.55" y="231.8" width="3.12" height="18.35" fill="#f38d96"/>
<rect x="583.07" y="231.8" width="3.12" height="18.35" fill="#f38d96"/>
<rect x="585.58" y="231.8" width="3.12" height="18.35" fill="#f4929b"/>
<rect x="588.1" y="231.8" width="3.12" height="18.35" fill="#f28892"/>
<rect x="590.62" y="231.8" width="3.12" height="18.35" fill="#f7afb6"/>
<rect x="593.13" y="231.8" width="3.12" height="18.35" fill="#f38f98"/>
<rect x="595.65" y="231.8" width="3.12" height="18.35" fill="#f49ba4"/>
<rect x="598.16" y="231.8" width="3.12" height="18.35" fill="#f2838d"/>
<rect x="600.68" y="231.8" width="3.12" height="18.35" fill="#f2838d"/>
<rect x="603.19" y="231.8" width="3.12" height="18.35" fill="#f2838d"/>
<rect x="605.71" y="231.8" width="3.12" height="18.35" fill="#f7afb6"/>
<rect x="608.22" y="231.8" width="3.12" height="18.35" fill="#f38c95"/>
<rect x="610.74" y="231.8" width="3.12" height="18.35" fill="#f17a85"/>
<rect x="613.25" y="231.8" width="3.12" height="18.35" fill="#f38c96"/>
<rect x="615.77" y="231.8" width="3.12" height="18.35" fill="#f38c96"/>
<rect x="618.28" y="231.8" width="3.12" height="18.35" fill="#f38c96"/>
<rect x="620.8" y="231.8" width="3.12" height="18.35" fill="#f2848e"/>
<rect x="623.32" y="231.8" width="3.12" height="18.35" fill="#f39099"/>
<rect x="625.83" y="231.8" width="3.12" height="18.35" fill="#f39099"/>
<rect x="628.35" y="231.8" width="3.12" height="18.35" fill="#f39099"/>
<rect x="630.86" y="231.8" width="3.12" height="18.35" fill="#f2838d"/>
<rect x="633.38" y="231.8" width="3.12" height="18.35" fill="#f2838d"/>
<rect x="635.89" y="231.8" width="3.12" height="18.35" fill="#f2838d"/>
<rect x="638.41" y="231.8" width="3.12" height="18.35" fill="#f4939c"/>
<rect x="640.92" y="231.8" width="3.12" height="18.35" fill="#f38f98"/>
<rect x="643.44" y="231.8" width="3.12" height="18.35" fill="#f38f98"/>
<rect x="645.95" y="231.8" width="3.12" height="18.35" fill="#f38f98"/>
<rect x="648.47" y="231.8" width="3.12" height="18.35" fill="#f17f89"/>
<rect x="650.98" y="231.8" width="3.12" height="18.35" fill="#f2828c"/>
<rect x="653.5" y="231.8" width="3.12" height="18.35" fill="#f49ba4"/>
<rect x="656.02" y="231.8" width="3.12" height="18.35" fill="#f38c96"/>
<rect x="658.53" y="231.8" width="3.12" height="18.35" fill="#f38c96"/>
<rect x="661.05" y="231.8" width="3.12" height="18.35" fill="#f38c96"/>
<rect x="663.56" y="231.8" width="3.12" height="18.35" fill="#f39099"/>
<rect x="666.08" y="231.8" width="3.12" height="18.35" fill="#f39099"/>
<rect x="668.59" y="231.8" width="3.12" height="18.35" fill="#f39099"/>
<rect x="671.11" y="231.8" width="3.12" height="18.35" fill="#f39099"/>
<rect x="673.62" y="231.8" width="3.12" height="18.35" fill="#f17a85"/>
<rect x="676.14" y="231.8" width="3.12" height="18.35" fill="#f2858f"/>
<rect x="678.65" y="231.8" width="3.12" height="18.35" fill="#f49ba4"/>
<rect x="681.17" y="231.8" width="3.12" height="18.35" fill="#f49ba4"/>
<rect x="683.68" y="231.8" width="3.12" height="18.35" fill="#f2858f"/>
<rect x="686.2" y="231.8" width="3.12" height="18.35" fill="#f2858f"/>
<rect x="688.72" y="231.8" width="3.12" height="18.35" fill="#f17a85"/>
<rect x="691.23" y="231.8" width="3.12" height="18.35" fill="#f17a85"/>
<rect x="693.75" y="231.8" width="3.12" height="18.35" fill="#f17a85"/>
<rect x="696.26" y="231.8" width="3.12" height="18.35" fill="#f5a2aa"/>
<rect x="698.78" y="231.8" width="3.12" height="18.35" fill="#f17a85"/>
<rect x="701.29" y="231.8" width="3.12" height="18.35" fill="#f17a85"/>
<rect x="703.81" y="231.8" width="3.12" height="18.35" fill="#f38d96"/>
<rect x="706.32" y="231.8" width="3.12" height="18.35" fill="#f2808a"/>
<rect x="708.84" y="231.8" width="3.12" height="18.35" fill="#f5a2aa"/>
<rect x="711.35" y="231.8" width="3.12" height="18.35" fill="#f4959e"/>
<rect x="713.87" y="231.8" width="3.12" height="18.35" fill="#f49ba4"/>
<rect x="716.38" y="231.8" width="3.12" height="18.35" fill="#f4959e"/>
<text x="447.6" y="242.41" font-size="7.7" text-anchor="end" font-weight="normal" fill="#1c1c1c" stroke="#1c1c1c" stroke-width="0.14">MALAT1</text>
<rect x="457.3" y="249.85" width="3.12" height="18.35" fill="#f7b1b7"/>
<rect x="459.82" y="249.85" width="3.12" height="18.35" fill="#f7b1b7"/>
<rect x="462.33" y="249.85" width="3.12" height="18.35" fill="#facdd1"/>
<rect x="464.85" y="249.85" width="3.12" height="18.35" fill="#fad2d5"/>
<rect x="467.36" y="249.85" width="3.12" height="18.35" fill="#fad2d5"/>
<rect x="469.88" y="249.85" width="3.12" height="18.35" fill="#ffffff"/>
<rect x="472.39" y="249.85" width="3.12" height="18.35" fill="#fce4e6"/>
<rect x="474.91" y="249.85" width="3.12" height="18.35" fill="#fce4e6"/>
<rect x="477.42" y="249.85" width="3.12" height="18.35" fill="#ffffff"/>
<rect x="479.94" y="249.85" width="3.12" height="18.35" fill="#f8b8be"/>
<rect x="482.45" y="249.85" width="3.12" height="18.35" fill="#ffffff"/>
<rect x="484.97" y="249.85" width="3.12" height="18.35" fill="#ffffff"/>
<rect x="487.48" y="249.85" width="3.12" height="18.35" fill="#ffffff"/>
<rect x="490" y="249.85" width="3.12" height="18.35" fill="#ffffff"/>
<rect x="492.52" y="249.85" width="3.12" height="18.35" fill="#fce4e7"/>
<rect x="495.03" y="249.85" width="3.12" height="18.35" fill="#ffffff"/>
<rect x="497.55" y="249.85" width="3.12" height="18.35" fill="#fce4e7"/>
<rect x="500.06" y="249.85" width="3.12" height="18.35" fill="#ffffff"/>
<rect x="502.58" y="249.85" width="3.12" height="18.35" fill="#ffffff"/>
<rect x="505.09" y="249.85" width="3.12" height="18.35" fill="#ffffff"/>
<rect x="507.61" y="249.85" width="3.12" height="18.35" fill="#ffffff"/>
<rect x="510.12" y="249.85" width="3.12" height="18.35" fill="#f2818b"/>
<rect x="512.64" y="249.85" width="3.12" height="18.35" fill="#fdeced"/>
<rect x="515.15" y="249.85" width="3.12" height="18.35" fill="#ffffff"/>
<rect x="517.67" y="249.85" width="3.12" height="18.35" fill="#fdeced"/>
<rect x="520.18" y="249.85" width="3.12" height="18.35" fill="#facfd3"/>
<rect x="522.7" y="249.85" width="3.12" height="18.35" fill="#facfd3"/>
<rect x="525.22" y="249.85" width="3.12" height="18.35" fill="#fce7e9"/>
<rect x="527.73" y="249.85" width="3.12" height="18.35" fill="#fce7e9"/>
<rect x="530.25" y="249.85" width="3.12" height="18.35" fill="#fde8ea"/>
<rect x="532.76" y="249.85" width="3.12" height="18.35" fill="#fef7f8"/>
<rect x="535.28" y="249.85" width="3.12" height="18.35" fill="#fef7f8"/>
<rect x="537.79" y="249.85" width="3.12" height="18.35" fill="#fef7f8"/>
<rect x="540.31" y="249.85" width="3.12" height="18.35" fill="#fef7f8"/>
<rect x="542.82" y="249.85" width="3.12" height="18.35" fill="#fef7f8"/>
<rect x="545.34" y="249.85" width="3.12" height="18.35" fill="#fef7f8"/>
<rect x="547.85" y="249.85" width="3.12" height="18.35" fill="#f6aab1"/>
<rect x="550.37" y="249.85" width="3.12" height="18.35" fill="#ffffff"/>
<rect x="552.88" y="249.85" width="3.12" height="18.35" fill="#fbdadd"/>
<rect x="555.4" y="249.85" width="3.12" height="18.35" fill="#fbdadd"/>
<rect x="557.92" y="249.85" width="3.12" height="18.35" fill="#f8bbc0"/>
<rect x="560.43" y="249.85" width="3.12" height="18.35" fill="#fce0e3"/>
<rect x="562.95" y="249.85" width="3.12" height="18.35" fill="#ffffff"/>
<rect x="565.46" y="249.85" width="3.12" height="18.35" fill="#f6adb3"/>
<rect x="567.98" y="249.85" width="3.12" height="18.35" fill="#fce7e9"/>
<rect x="570.49" y="249.85" width="3.12" height="18.35" fill="#ffffff"/>
<rect x="573.01" y="249.85" width="3.12" height="18.35" fill="#ffffff"/>
<rect x="575.52" y="249.85" width="3.12" height="18.35" fill="#ffffff"/>
<rect x="578.04" y="249.85" width="3.12" height="18.35" fill="#fce4e7"/>
<rect x="580.55" y="249.85" width="3.12" height="18.35" fill="#ffffff"/>
<rect x="583.07" y="249.85" width="3.12" height="18.35" fill="#fce4e7"/>
<rect x="585.58" y="249.85" width="3.12" height="18.35" fill="#fce4e7"/>
<rect x="588.1" y="249.85" width="3.12" height="18.35" fill="#ffffff"/>
<rect x="590.62" y="249.85" width="3.12" height="18.35" fill="#f2818b"/>
<rect x="593.13" y="249.85" width="3.12" height="18.35" fill="#fbdddf"/>
<rect x="595.65" y="249.85" width="3.12" height="18.35" fill="#fbdddf"/>
<rect x="598.16" y="249.85" width="3.12" height="18.35" fill="#fdedee"/>
<rect x="600.68" y="249.85" width="3.12" height="18.35" fill="#fce4e7"/>
<rect x="603.19" y="249.85" width="3.12" height="18.35" fill="#ffffff"/>
<rect x="605.71" y="249.85" width="3.12" height="18.35" fill="#ffffff"/>
<rect x="608.22" y="249.85" width="3.12" height="18.35" fill="#ffffff"/>
<rect x="610.74" y="249.85" width="3.12" height="18.35" fill="#fce4e7"/>
<rect x="613.25" y="249.85" width="3.12" height="18.35" fill="#fdebec"/>
<rect x="615.77" y="249.85" width="3.12" height="18.35" fill="#fffbfc"/>
<rect x="618.28" y="249.85" width="3.12" height="18.35" fill="#fffbfc"/>
<rect x="620.8" y="249.85" width="3.12" height="18.35" fill="#fffbfc"/>
<rect x="623.32" y="249.85" width="3.12" height="18.35" fill="#fad3d6"/>
<rect x="625.83" y="249.85" width="3.12" height="18.35" fill="#facfd3"/>
<rect x="628.35" y="249.85" width="3.12" height="18.35" fill="#fef5f6"/>
<rect x="630.86" y="249.85" width="3.12" height="18.35" fill="#fffbfc"/>
<rect x="633.38" y="249.85" width="3.12" height="18.35" fill="#fffbfc"/>
<rect x="635.89" y="249.85" width="3.12" height="18.35" fill="#fffbfc"/>
<rect x="638.41" y="249.85" width="3.12" height="18.35" fill="#ffffff"/>
<rect x="640.92" y="249.85" width="3.12" height="18.35" fill="#fce4e7"/>
<rect x="643.44" y="249.85" width="3.12" height="18.35" fill="#ffffff"/>
<rect x="645.95" y="249.85" width="3.12" height="18.35" fill="#fce4e7"/>
<rect x="648.47" y="249.85" width="3.12" height="18.35" fill="#ffffff"/>
<rect x="650.98" y="249.85" width="3.12" height="18.35" fill="#ffffff"/>
<rect x="653.5" y="249.85" width="3.12" height="18.35" fill="#fce4e7"/>
<rect x="656.02" y="249.85" width="3.12" height="18.35" fill="#ffffff"/>
<rect x="658.53" y="249.85" width="3.12" height="18.35" fill="#fdeaec"/>
<rect x="661.05" y="249.85" width="3.12" height="18.35" fill="#ffffff"/>
<rect x="663.56" y="249.85" width="3.12" height="18.35" fill="#f2818b"/>
<rect x="666.08" y="249.85" width="3.12" height="18.35" fill="#fef9fa"/>
<rect x="668.59" y="249.85" width="3.12" height="18.35" fill="#fef9fa"/>
<rect x="671.11" y="249.85" width="3.12" height="18.35" fill="#ffffff"/>
<rect x="673.62" y="249.85" width="3.12" height="18.35" fill="#fce5e7"/>
<rect x="676.14" y="249.85" width="3.12" height="18.35" fill="#ffffff"/>
<rect x="678.65" y="249.85" width="3.12" height="18.35" fill="#ffffff"/>
<rect x="681.17" y="249.85" width="3.12" height="18.35" fill="#ffffff"/>
<rect x="683.68" y="249.85" width="3.12" height="18.35" fill="#fce4e7"/>
<rect x="686.2" y="249.85" width="3.12" height="18.35" fill="#ffffff"/>
<rect x="688.72" y="249.85" width="3.12" height="18.35" fill="#f9c9ce"/>
<rect x="691.23" y="249.85" width="3.12" height="18.35" fill="#f9c9ce"/>
<rect x="693.75" y="249.85" width="3.12" height="18.35" fill="#fef3f4"/>
<rect x="696.26" y="249.85" width="3.12" height="18.35" fill="#ffffff"/>
<rect x="698.78" y="249.85" width="3.12" height="18.35" fill="#fce6e8"/>
<rect x="701.29" y="249.85" width="3.12" height="18.35" fill="#ffffff"/>
<rect x="703.81" y="249.85" width="3.12" height="18.35" fill="#fbd7da"/>
<rect x="706.32" y="249.85" width="3.12" height="18.35" fill="#fbd7da"/>
<rect x="708.84" y="249.85" width="3.12" height="18.35" fill="#fef7f7"/>
<rect x="711.35" y="249.85" width="3.12" height="18.35" fill="#fef8f9"/>
<rect x="713.87" y="249.85" width="3.12" height="18.35" fill="#fef8f9"/>
<rect x="716.38" y="249.85" width="3.12" height="18.35" fill="#fef8f9"/>
<text x="447.6" y="260.67" font-size="7.7" text-anchor="end" font-weight="normal" fill="#1c1c1c" stroke="#1c1c1c" stroke-width="0.14">LUCAT1</text>
<rect x="455.9" y="158.6" width="263.9" height="110" fill="none" stroke="#0a0a0a" stroke-width="1.1"/>
<rect x="732.3" y="182.3" width="9.2" height="57" fill="url(#cbc)" stroke="#555" stroke-width="0.5"/>
<line x1="732.3" y1="193.7" x2="733.6" y2="193.7" stroke="#333" stroke-width="0.5"/>
<line x1="740.2" y1="193.7" x2="741.5" y2="193.7" stroke="#333" stroke-width="0.5"/>
<line x1="732.3" y1="205.1" x2="733.6" y2="205.1" stroke="#333" stroke-width="0.5"/>
<line x1="740.2" y1="205.1" x2="741.5" y2="205.1" stroke="#333" stroke-width="0.5"/>
<line x1="732.3" y1="216.5" x2="733.6" y2="216.5" stroke="#333" stroke-width="0.5"/>
<line x1="740.2" y1="216.5" x2="741.5" y2="216.5" stroke="#333" stroke-width="0.5"/>
<line x1="732.3" y1="227.9" x2="733.6" y2="227.9" stroke="#333" stroke-width="0.5"/>
<line x1="740.2" y1="227.9" x2="741.5" y2="227.9" stroke="#333" stroke-width="0.5"/>
<text x="744" y="185.6" font-size="7.5" text-anchor="start" font-weight="normal" fill="#1c1c1c" stroke="#1c1c1c" stroke-width="0.14">1</text>
<text x="744" y="242.7" font-size="7.5" text-anchor="start" font-weight="normal" fill="#1c1c1c" stroke="#1c1c1c" stroke-width="0.14">0</text>
<text x="7.4" y="299.9" font-size="16.5" fill="#111">d</text>
<line x1="43.3" y1="308.9" x2="43.3" y2="400.55" stroke="#111" stroke-width="1.1"/>
<line x1="42.75" y1="400" x2="261.5" y2="400" stroke="#111" stroke-width="1.1"/>
<line x1="39.3" y1="400" x2="43.3" y2="400" stroke="#111" stroke-width="1"/>
<text x="37.6" y="402.77" font-size="7.7" text-anchor="end" font-weight="normal" fill="#1c1c1c" stroke="#1c1c1c" stroke-width="0.14">0.0</text>
<line x1="39.3" y1="369.75" x2="43.3" y2="369.75" stroke="#111" stroke-width="1"/>
<text x="37.6" y="372.52" font-size="7.7" text-anchor="end" font-weight="normal" fill="#1c1c1c" stroke="#1c1c1c" stroke-width="0.14">0.5</text>
<line x1="39.3" y1="339.5" x2="43.3" y2="339.5" stroke="#111" stroke-width="1"/>
<text x="37.6" y="342.27" font-size="7.7" text-anchor="end" font-weight="normal" fill="#1c1c1c" stroke="#1c1c1c" stroke-width="0.14">1.0</text>
<line x1="39.3" y1="309.25" x2="43.3" y2="309.25" stroke="#111" stroke-width="1"/>
<text x="37.6" y="312.02" font-size="7.7" text-anchor="end" font-weight="normal" fill="#1c1c1c" stroke="#1c1c1c" stroke-width="0.14">1.5</text>
<text x="19.4" y="357.81" font-size="7.8" text-anchor="middle" font-weight="normal" fill="#1c1c1c" transform="rotate(-90 19.4 355)" stroke="#1c1c1c" stroke-width="0.14">Relative expression of RNA</text>
<rect x="49.7" y="339.5" width="10.3" height="60.5" fill="#d3d3d3" stroke="#111" stroke-width="0.9"/>
<line x1="54.85" y1="337.08" x2="54.85" y2="341.92" stroke="#111" stroke-width="0.9"/>
<line x1="51.75" y1="337.08" x2="57.95" y2="337.08" stroke="#111" stroke-width="0.9"/>
<line x1="51.75" y1="341.92" x2="57.95" y2="341.92" stroke="#111" stroke-width="0.9"/>
<rect x="62.3" y="340.11" width="10.3" height="59.89" fill="#bebeff" stroke="#111" stroke-width="0.9"/>
<line x1="67.45" y1="339.2" x2="67.45" y2="341.01" stroke="#111" stroke-width="0.9"/>
<line x1="64.35" y1="339.2" x2="70.55" y2="339.2" stroke="#111" stroke-width="0.9"/>
<line x1="64.35" y1="341.01" x2="70.55" y2="341.01" stroke="#111" stroke-width="0.9"/>
<line x1="60.5" y1="400" x2="60.5" y2="403" stroke="#111" stroke-width="0.9"/>
<text x="64.9" y="409.4" font-size="7.7" text-anchor="end" fill="#1c1c1c" stroke="#1c1c1c" stroke-width="0.2" transform="rotate(-45 64.9 409.4)">ACTB</text>
<rect x="86.2" y="339.5" width="10.3" height="60.5" fill="#d3d3d3" stroke="#111" stroke-width="0.9"/>
<line x1="91.35" y1="336.78" x2="91.35" y2="342.22" stroke="#111" stroke-width="0.9"/>
<line x1="88.25" y1="336.78" x2="94.45" y2="336.78" stroke="#111" stroke-width="0.9"/>
<line x1="88.25" y1="342.22" x2="94.45" y2="342.22" stroke="#111" stroke-width="0.9"/>
<rect x="98.8" y="346.76" width="10.3" height="53.24" fill="#bebeff" stroke="#111" stroke-width="0.9"/>
<line x1="103.95" y1="345.55" x2="103.95" y2="347.97" stroke="#111" stroke-width="0.9"/>
<line x1="100.85" y1="345.55" x2="107.05" y2="345.55" stroke="#111" stroke-width="0.9"/>
<line x1="100.85" y1="347.97" x2="107.05" y2="347.97" stroke="#111" stroke-width="0.9"/>
<line x1="97" y1="400" x2="97" y2="403" stroke="#111" stroke-width="0.9"/>
<text x="101.4" y="409.4" font-size="7.7" text-anchor="end" fill="#1c1c1c" stroke="#1c1c1c" stroke-width="0.2" transform="rotate(-45 101.4 409.4)">BSG</text>
<rect x="122.7" y="339.5" width="10.3" height="60.5" fill="#d3d3d3" stroke="#111" stroke-width="0.9"/>
<line x1="127.85" y1="336.48" x2="127.85" y2="342.52" stroke="#111" stroke-width="0.9"/>
<line x1="124.75" y1="336.48" x2="130.95" y2="336.48" stroke="#111" stroke-width="0.9"/>
<line x1="124.75" y1="342.52" x2="130.95" y2="342.52" stroke="#111" stroke-width="0.9"/>
<rect x="135.3" y="349.18" width="10.3" height="50.82" fill="#bebeff" stroke="#111" stroke-width="0.9"/>
<line x1="140.45" y1="347.67" x2="140.45" y2="350.69" stroke="#111" stroke-width="0.9"/>
<line x1="137.35" y1="347.67" x2="143.55" y2="347.67" stroke="#111" stroke-width="0.9"/>
<line x1="137.35" y1="350.69" x2="143.55" y2="350.69" stroke="#111" stroke-width="0.9"/>
<line x1="133.5" y1="400" x2="133.5" y2="403" stroke="#111" stroke-width="0.9"/>
<text x="137.9" y="409.4" font-size="7.7" text-anchor="end" fill="#1c1c1c" stroke="#1c1c1c" stroke-width="0.2" transform="rotate(-45 137.9 409.4)">TPT1</text>
<rect x="159.2" y="339.5" width="10.3" height="60.5" fill="#d3d3d3" stroke="#111" stroke-width="0.9"/>
<line x1="164.35" y1="337.38" x2="164.35" y2="341.62" stroke="#111" stroke-width="0.9"/>
<line x1="161.25" y1="337.38" x2="167.45" y2="337.38" stroke="#111" stroke-width="0.9"/>
<line x1="161.25" y1="341.62" x2="167.45" y2="341.62" stroke="#111" stroke-width="0.9"/>
<rect x="171.8" y="357.65" width="10.3" height="42.35" fill="#bebeff" stroke="#111" stroke-width="0.9"/>
<line x1="176.95" y1="357.17" x2="176.95" y2="358.13" stroke="#111" stroke-width="0.9"/>
<line x1="173.85" y1="357.17" x2="180.05" y2="357.17" stroke="#111" stroke-width="0.9"/>
<line x1="173.85" y1="358.13" x2="180.05" y2="358.13" stroke="#111" stroke-width="0.9"/>
<line x1="170" y1="400" x2="170" y2="403" stroke="#111" stroke-width="0.9"/>
<text x="174.4" y="409.4" font-size="7.7" text-anchor="end" fill="#1c1c1c" stroke="#1c1c1c" stroke-width="0.2" transform="rotate(-45 174.4 409.4)">TUG1</text>
<rect x="195.7" y="339.5" width="10.3" height="60.5" fill="#d3d3d3" stroke="#111" stroke-width="0.9"/>
<line x1="200.85" y1="337.99" x2="200.85" y2="341.01" stroke="#111" stroke-width="0.9"/>
<line x1="197.75" y1="337.99" x2="203.95" y2="337.99" stroke="#111" stroke-width="0.9"/>
<line x1="197.75" y1="341.01" x2="203.95" y2="341.01" stroke="#111" stroke-width="0.9"/>
<rect x="208.3" y="352.2" width="10.3" height="47.8" fill="#bebeff" stroke="#111" stroke-width="0.9"/>
<line x1="213.45" y1="350.09" x2="213.45" y2="354.32" stroke="#111" stroke-width="0.9"/>
<line x1="210.35" y1="350.09" x2="216.55" y2="350.09" stroke="#111" stroke-width="0.9"/>
<line x1="210.35" y1="354.32" x2="216.55" y2="354.32" stroke="#111" stroke-width="0.9"/>
<line x1="206.5" y1="400" x2="206.5" y2="403" stroke="#111" stroke-width="0.9"/>
<text x="210.9" y="409.4" font-size="7.7" text-anchor="end" fill="#1c1c1c" stroke="#1c1c1c" stroke-width="0.2" transform="rotate(-45 210.9 409.4)">MALAT1</text>
<rect x="232.2" y="339.5" width="10.3" height="60.5" fill="#d3d3d3" stroke="#111" stroke-width="0.9"/>
<line x1="237.35" y1="336.48" x2="237.35" y2="342.52" stroke="#111" stroke-width="0.9"/>
<line x1="234.25" y1="336.48" x2="240.45" y2="336.48" stroke="#111" stroke-width="0.9"/>
<line x1="234.25" y1="342.52" x2="240.45" y2="342.52" stroke="#111" stroke-width="0.9"/>
<rect x="244.8" y="358.86" width="10.3" height="41.14" fill="#bebeff" stroke="#111" stroke-width="0.9"/>
<line x1="249.95" y1="357.35" x2="249.95" y2="360.37" stroke="#111" stroke-width="0.9"/>
<line x1="246.85" y1="357.35" x2="253.05" y2="357.35" stroke="#111" stroke-width="0.9"/>
<line x1="246.85" y1="360.37" x2="253.05" y2="360.37" stroke="#111" stroke-width="0.9"/>
<line x1="243" y1="400" x2="243" y2="403" stroke="#111" stroke-width="0.9"/>
<text x="247.4" y="409.4" font-size="7.7" text-anchor="end" fill="#1c1c1c" stroke="#1c1c1c" stroke-width="0.2" transform="rotate(-45 247.4 409.4)">LUCAT1</text>
<rect x="47.3" y="300.8" width="14" height="6.3" fill="#d3d3d3" stroke="#111" stroke-width="0.9"/>
<text x="66.2" y="306.67" font-size="7.7" text-anchor="start" font-weight="normal" fill="#1c1c1c" stroke="#1c1c1c" stroke-width="0.14">DMSO</text>
<rect x="47.3" y="313.2" width="14" height="6.3" fill="#bebeff" stroke="#111" stroke-width="0.9"/>
<text x="66.2" y="319.17" font-size="7.7" text-anchor="start" font-weight="normal" fill="#1c1c1c" stroke="#1c1c1c" stroke-width="0.14">LMB</text>
<text x="260.9" y="300.2" font-size="16.5" fill="#111">e</text>
<line x1="301.8" y1="308.7" x2="301.8" y2="401.15" stroke="#111" stroke-width="1.1"/>
<line x1="301.25" y1="400.6" x2="520" y2="400.6" stroke="#111" stroke-width="1.1"/>
<line x1="297.8" y1="400.6" x2="301.8" y2="400.6" stroke="#111" stroke-width="1"/>
<text x="296.4" y="403.37" font-size="7.7" text-anchor="end" font-weight="normal" fill="#1c1c1c" stroke="#1c1c1c" stroke-width="0.14">0</text>
<line x1="297.8" y1="370.05" x2="301.8" y2="370.05" stroke="#111" stroke-width="1"/>
<text x="296.4" y="372.82" font-size="7.7" text-anchor="end" font-weight="normal" fill="#1c1c1c" stroke="#1c1c1c" stroke-width="0.14">50</text>
<line x1="297.8" y1="339.5" x2="301.8" y2="339.5" stroke="#111" stroke-width="1"/>
<text x="296.4" y="342.27" font-size="7.7" text-anchor="end" font-weight="normal" fill="#1c1c1c" stroke="#1c1c1c" stroke-width="0.14">100</text>
<line x1="297.8" y1="308.95" x2="301.8" y2="308.95" stroke="#111" stroke-width="1"/>
<text x="296.4" y="311.72" font-size="7.7" text-anchor="end" font-weight="normal" fill="#1c1c1c" stroke="#1c1c1c" stroke-width="0.14">150</text>
<text x="278.6" y="354.81" font-size="7.8" text-anchor="middle" font-weight="normal" fill="#1c1c1c" transform="rotate(-90 278.6 352)" stroke="#1c1c1c" stroke-width="0.14">Relative distribution of RNA (%)</text>
<rect x="309.2" y="339.5" width="12.2" height="61.1" fill="#d9dba2"/>
<rect x="309.2" y="387.77" width="12.2" height="12.83" fill="#92c5f9"/>
<line x1="309.2" y1="387.77" x2="321.4" y2="387.77" stroke="#111" stroke-width="0.8"/>
<rect x="309.2" y="339.5" width="12.2" height="61.1" fill="none" stroke="#111" stroke-width="0.9"/>
<line x1="315.3" y1="339.5" x2="315.3" y2="339.01" stroke="#111" stroke-width="0.7"/>
<line x1="312.3" y1="339.01" x2="318.3" y2="339.01" stroke="#111" stroke-width="0.8"/>
<line x1="315.3" y1="386.87" x2="315.3" y2="388.67" stroke="#111" stroke-width="0.8"/>
<line x1="312.3" y1="386.87" x2="318.3" y2="386.87" stroke="#111" stroke-width="0.8"/>
<line x1="312.3" y1="388.67" x2="318.3" y2="388.67" stroke="#111" stroke-width="0.8"/>
<line x1="315.3" y1="400.6" x2="315.3" y2="403.6" stroke="#111" stroke-width="0.9"/>
<text x="319.1" y="409.6" font-size="7.7" text-anchor="end" fill="#1c1c1c" stroke="#1c1c1c" stroke-width="0.2" transform="rotate(-45 319.1 409.6)">DMSO-ACTB</text>
<rect x="326.73" y="339.5" width="12.2" height="61.1" fill="#d9dba2"/>
<rect x="326.73" y="385.94" width="12.2" height="14.66" fill="#92c5f9"/>
<line x1="326.73" y1="385.94" x2="338.93" y2="385.94" stroke="#111" stroke-width="0.8"/>
<rect x="326.73" y="339.5" width="12.2" height="61.1" fill="none" stroke="#111" stroke-width="0.9"/>
<line x1="332.83" y1="339.5" x2="332.83" y2="338.58" stroke="#111" stroke-width="0.7"/>
<line x1="329.83" y1="338.58" x2="335.83" y2="338.58" stroke="#111" stroke-width="0.8"/>
<line x1="332.83" y1="385.04" x2="332.83" y2="386.84" stroke="#111" stroke-width="0.8"/>
<line x1="329.83" y1="385.04" x2="335.83" y2="385.04" stroke="#111" stroke-width="0.8"/>
<line x1="329.83" y1="386.84" x2="335.83" y2="386.84" stroke="#111" stroke-width="0.8"/>
<line x1="332.83" y1="400.6" x2="332.83" y2="403.6" stroke="#111" stroke-width="0.9"/>
<text x="336.63" y="409.6" font-size="7.7" text-anchor="end" fill="#1c1c1c" stroke="#1c1c1c" stroke-width="0.2" transform="rotate(-45 336.63 409.6)">LMB-ACTB</text>
<rect x="344.26" y="339.5" width="12.2" height="61.1" fill="#d9dba2"/>
<rect x="344.26" y="380.44" width="12.2" height="20.16" fill="#92c5f9"/>
<line x1="344.26" y1="380.44" x2="356.46" y2="380.44" stroke="#111" stroke-width="0.8"/>
<rect x="344.26" y="339.5" width="12.2" height="61.1" fill="none" stroke="#111" stroke-width="0.9"/>
<line x1="350.36" y1="339.5" x2="350.36" y2="337.67" stroke="#111" stroke-width="0.7"/>
<line x1="347.36" y1="337.67" x2="353.36" y2="337.67" stroke="#111" stroke-width="0.8"/>
<line x1="350.36" y1="379.54" x2="350.36" y2="381.34" stroke="#111" stroke-width="0.8"/>
<line x1="347.36" y1="379.54" x2="353.36" y2="379.54" stroke="#111" stroke-width="0.8"/>
<line x1="347.36" y1="381.34" x2="353.36" y2="381.34" stroke="#111" stroke-width="0.8"/>
<line x1="350.36" y1="400.6" x2="350.36" y2="403.6" stroke="#111" stroke-width="0.9"/>
<text x="354.16" y="409.6" font-size="7.7" text-anchor="end" fill="#1c1c1c" stroke="#1c1c1c" stroke-width="0.2" transform="rotate(-45 354.16 409.6)">DMSO-BSG</text>
<rect x="361.79" y="339.5" width="12.2" height="61.1" fill="#d9dba2"/>
<rect x="361.79" y="365.77" width="12.2" height="34.83" fill="#92c5f9"/>
<line x1="361.79" y1="365.77" x2="373.99" y2="365.77" stroke="#111" stroke-width="0.8"/>
<rect x="361.79" y="339.5" width="12.2" height="61.1" fill="none" stroke="#111" stroke-width="0.9"/>
<line x1="367.89" y1="339.5" x2="367.89" y2="338.89" stroke="#111" stroke-width="0.7"/>
<line x1="364.89" y1="338.89" x2="370.89" y2="338.89" stroke="#111" stroke-width="0.8"/>
<line x1="367.89" y1="364.87" x2="367.89" y2="366.67" stroke="#111" stroke-width="0.8"/>
<line x1="364.89" y1="364.87" x2="370.89" y2="364.87" stroke="#111" stroke-width="0.8"/>
<line x1="364.89" y1="366.67" x2="370.89" y2="366.67" stroke="#111" stroke-width="0.8"/>
<line x1="367.89" y1="400.6" x2="367.89" y2="403.6" stroke="#111" stroke-width="0.9"/>
<text x="371.69" y="409.6" font-size="7.7" text-anchor="end" fill="#1c1c1c" stroke="#1c1c1c" stroke-width="0.2" transform="rotate(-45 371.69 409.6)">LMB-BSG</text>
<rect x="379.32" y="339.5" width="12.2" height="61.1" fill="#d9dba2"/>
<rect x="379.32" y="386.55" width="12.2" height="14.05" fill="#92c5f9"/>
<line x1="379.32" y1="386.55" x2="391.52" y2="386.55" stroke="#111" stroke-width="0.8"/>
<rect x="379.32" y="339.5" width="12.2" height="61.1" fill="none" stroke="#111" stroke-width="0.9"/>
<line x1="385.42" y1="339.5" x2="385.42" y2="338.16" stroke="#111" stroke-width="0.7"/>
<line x1="382.42" y1="338.16" x2="388.42" y2="338.16" stroke="#111" stroke-width="0.8"/>
<line x1="385.42" y1="385.65" x2="385.42" y2="387.45" stroke="#111" stroke-width="0.8"/>
<line x1="382.42" y1="385.65" x2="388.42" y2="385.65" stroke="#111" stroke-width="0.8"/>
<line x1="382.42" y1="387.45" x2="388.42" y2="387.45" stroke="#111" stroke-width="0.8"/>
<line x1="385.42" y1="400.6" x2="385.42" y2="403.6" stroke="#111" stroke-width="0.9"/>
<text x="389.22" y="409.6" font-size="7.7" text-anchor="end" fill="#1c1c1c" stroke="#1c1c1c" stroke-width="0.2" transform="rotate(-45 389.22 409.6)">DMSO-TPT1</text>
<rect x="396.85" y="339.5" width="12.2" height="61.1" fill="#d9dba2"/>
<rect x="396.85" y="373.11" width="12.2" height="27.5" fill="#92c5f9"/>
<line x1="396.85" y1="373.11" x2="409.05" y2="373.11" stroke="#111" stroke-width="0.8"/>
<rect x="396.85" y="339.5" width="12.2" height="61.1" fill="none" stroke="#111" stroke-width="0.9"/>
<line x1="402.95" y1="339.5" x2="402.95" y2="337.54" stroke="#111" stroke-width="0.7"/>
<line x1="399.95" y1="337.54" x2="405.95" y2="337.54" stroke="#111" stroke-width="0.8"/>
<line x1="402.95" y1="372.21" x2="402.95" y2="374" stroke="#111" stroke-width="0.8"/>
<line x1="399.95" y1="372.21" x2="405.95" y2="372.21" stroke="#111" stroke-width="0.8"/>
<line x1="399.95" y1="374" x2="405.95" y2="374" stroke="#111" stroke-width="0.8"/>
<line x1="402.95" y1="400.6" x2="402.95" y2="403.6" stroke="#111" stroke-width="0.9"/>
<text x="406.75" y="409.6" font-size="7.7" text-anchor="end" fill="#1c1c1c" stroke="#1c1c1c" stroke-width="0.2" transform="rotate(-45 406.75 409.6)">LMB-TPT1</text>
<rect x="414.38" y="339.5" width="12.2" height="61.1" fill="#d9dba2"/>
<rect x="414.38" y="342.56" width="12.2" height="58.05" fill="#92c5f9"/>
<line x1="414.38" y1="342.56" x2="426.58" y2="342.56" stroke="#111" stroke-width="0.8"/>
<rect x="414.38" y="339.5" width="12.2" height="61.1" fill="none" stroke="#111" stroke-width="0.9"/>
<line x1="420.48" y1="339.5" x2="420.48" y2="338.89" stroke="#111" stroke-width="0.7"/>
<line x1="417.48" y1="338.89" x2="423.48" y2="338.89" stroke="#111" stroke-width="0.8"/>
<line x1="420.48" y1="341.66" x2="420.48" y2="343.45" stroke="#111" stroke-width="0.8"/>
<line x1="417.48" y1="341.66" x2="423.48" y2="341.66" stroke="#111" stroke-width="0.8"/>
<line x1="417.48" y1="343.45" x2="423.48" y2="343.45" stroke="#111" stroke-width="0.8"/>
<line x1="420.48" y1="400.6" x2="420.48" y2="403.6" stroke="#111" stroke-width="0.9"/>
<text x="424.28" y="409.6" font-size="7.7" text-anchor="end" fill="#1c1c1c" stroke="#1c1c1c" stroke-width="0.2" transform="rotate(-45 424.28 409.6)">DMSO-TUG1</text>
<rect x="431.91" y="339.5" width="12.2" height="61.1" fill="#d9dba2"/>
<rect x="431.91" y="343.17" width="12.2" height="57.43" fill="#92c5f9"/>
<line x1="431.91" y1="343.17" x2="444.11" y2="343.17" stroke="#111" stroke-width="0.8"/>
<rect x="431.91" y="339.5" width="12.2" height="61.1" fill="none" stroke="#111" stroke-width="0.9"/>
<line x1="438.01" y1="339.5" x2="438.01" y2="338.52" stroke="#111" stroke-width="0.7"/>
<line x1="435.01" y1="338.52" x2="441.01" y2="338.52" stroke="#111" stroke-width="0.8"/>
<line x1="438.01" y1="342.27" x2="438.01" y2="344.07" stroke="#111" stroke-width="0.8"/>
<line x1="435.01" y1="342.27" x2="441.01" y2="342.27" stroke="#111" stroke-width="0.8"/>
<line x1="435.01" y1="344.07" x2="441.01" y2="344.07" stroke="#111" stroke-width="0.8"/>
<line x1="438.01" y1="400.6" x2="438.01" y2="403.6" stroke="#111" stroke-width="0.9"/>
<text x="441.81" y="409.6" font-size="7.7" text-anchor="end" fill="#1c1c1c" stroke="#1c1c1c" stroke-width="0.2" transform="rotate(-45 441.81 409.6)">LMB-TUG1</text>
<rect x="449.44" y="339.5" width="12.2" height="61.1" fill="#d9dba2"/>
<rect x="449.44" y="344.39" width="12.2" height="56.21" fill="#92c5f9"/>
<line x1="449.44" y1="344.39" x2="461.64" y2="344.39" stroke="#111" stroke-width="0.8"/>
<rect x="449.44" y="339.5" width="12.2" height="61.1" fill="none" stroke="#111" stroke-width="0.9"/>
<line x1="455.54" y1="339.5" x2="455.54" y2="338.52" stroke="#111" stroke-width="0.7"/>
<line x1="452.54" y1="338.52" x2="458.54" y2="338.52" stroke="#111" stroke-width="0.8"/>
<line x1="455.54" y1="343.49" x2="455.54" y2="345.29" stroke="#111" stroke-width="0.8"/>
<line x1="452.54" y1="343.49" x2="458.54" y2="343.49" stroke="#111" stroke-width="0.8"/>
<line x1="452.54" y1="345.29" x2="458.54" y2="345.29" stroke="#111" stroke-width="0.8"/>
<line x1="455.54" y1="400.6" x2="455.54" y2="403.6" stroke="#111" stroke-width="0.9"/>
<text x="459.34" y="409.6" font-size="7.7" text-anchor="end" fill="#1c1c1c" stroke="#1c1c1c" stroke-width="0.2" transform="rotate(-45 459.34 409.6)">DMSO-MALAT1</text>
<rect x="466.97" y="339.5" width="12.2" height="61.1" fill="#d9dba2"/>
<rect x="466.97" y="343.78" width="12.2" height="56.82" fill="#92c5f9"/>
<line x1="466.97" y1="343.78" x2="479.17" y2="343.78" stroke="#111" stroke-width="0.8"/>
<rect x="466.97" y="339.5" width="12.2" height="61.1" fill="none" stroke="#111" stroke-width="0.9"/>
<line x1="473.07" y1="339.5" x2="473.07" y2="338.52" stroke="#111" stroke-width="0.7"/>
<line x1="470.07" y1="338.52" x2="476.07" y2="338.52" stroke="#111" stroke-width="0.8"/>
<line x1="473.07" y1="342.88" x2="473.07" y2="344.68" stroke="#111" stroke-width="0.8"/>
<line x1="470.07" y1="342.88" x2="476.07" y2="342.88" stroke="#111" stroke-width="0.8"/>
<line x1="470.07" y1="344.68" x2="476.07" y2="344.68" stroke="#111" stroke-width="0.8"/>
<line x1="473.07" y1="400.6" x2="473.07" y2="403.6" stroke="#111" stroke-width="0.9"/>
<text x="476.87" y="409.6" font-size="7.7" text-anchor="end" fill="#1c1c1c" stroke="#1c1c1c" stroke-width="0.2" transform="rotate(-45 476.87 409.6)">LMB-MALAT1</text>
<rect x="484.5" y="339.5" width="12.2" height="61.1" fill="#d9dba2"/>
<rect x="484.5" y="393.27" width="12.2" height="7.33" fill="#92c5f9"/>
<line x1="484.5" y1="393.27" x2="496.7" y2="393.27" stroke="#111" stroke-width="0.8"/>
<rect x="484.5" y="339.5" width="12.2" height="61.1" fill="none" stroke="#111" stroke-width="0.9"/>
<line x1="490.6" y1="339.5" x2="490.6" y2="338.28" stroke="#111" stroke-width="0.7"/>
<line x1="487.6" y1="338.28" x2="493.6" y2="338.28" stroke="#111" stroke-width="0.8"/>
<line x1="490.6" y1="392.37" x2="490.6" y2="394.17" stroke="#111" stroke-width="0.8"/>
<line x1="487.6" y1="392.37" x2="493.6" y2="392.37" stroke="#111" stroke-width="0.8"/>
<line x1="487.6" y1="394.17" x2="493.6" y2="394.17" stroke="#111" stroke-width="0.8"/>
<line x1="490.6" y1="400.6" x2="490.6" y2="403.6" stroke="#111" stroke-width="0.9"/>
<text x="494.4" y="409.6" font-size="7.7" text-anchor="end" fill="#1c1c1c" stroke="#1c1c1c" stroke-width="0.2" transform="rotate(-45 494.4 409.6)">DMSO-LUCAT1</text>
<rect x="502.03" y="339.5" width="12.2" height="61.1" fill="#d9dba2"/>
<rect x="502.03" y="388.38" width="12.2" height="12.22" fill="#92c5f9"/>
<line x1="502.03" y1="388.38" x2="514.23" y2="388.38" stroke="#111" stroke-width="0.8"/>
<rect x="502.03" y="339.5" width="12.2" height="61.1" fill="none" stroke="#111" stroke-width="0.9"/>
<line x1="508.13" y1="339.5" x2="508.13" y2="338.16" stroke="#111" stroke-width="0.7"/>
<line x1="505.13" y1="338.16" x2="511.13" y2="338.16" stroke="#111" stroke-width="0.8"/>
<line x1="508.13" y1="387.48" x2="508.13" y2="389.28" stroke="#111" stroke-width="0.8"/>
<line x1="505.13" y1="387.48" x2="511.13" y2="387.48" stroke="#111" stroke-width="0.8"/>
<line x1="505.13" y1="389.28" x2="511.13" y2="389.28" stroke="#111" stroke-width="0.8"/>
<line x1="508.13" y1="400.6" x2="508.13" y2="403.6" stroke="#111" stroke-width="0.9"/>
<text x="511.93" y="409.6" font-size="7.7" text-anchor="end" fill="#1c1c1c" stroke="#1c1c1c" stroke-width="0.2" transform="rotate(-45 511.93 409.6)">LMB-LUCAT1</text>
<rect x="308.3" y="301.9" width="13" height="6" fill="#d9dba2" stroke="#111" stroke-width="0.9"/>
<text x="326.8" y="307.67" font-size="7.7" text-anchor="start" font-weight="normal" fill="#1c1c1c" stroke="#1c1c1c" stroke-width="0.14">Cytoplasm</text>
<rect x="308.3" y="313.5" width="13" height="6" fill="#92c5f9" stroke="#111" stroke-width="0.9"/>
<text x="326.8" y="319.27" font-size="7.7" text-anchor="start" font-weight="normal" fill="#1c1c1c" stroke="#1c1c1c" stroke-width="0.14">Nucleus</text>
<text x="521.8" y="299.7" font-size="16.5" fill="#111">f</text>
<line x1="554" y1="308.9" x2="554" y2="400.95" stroke="#111" stroke-width="1.1"/>
<line x1="553.45" y1="400.4" x2="773.6" y2="400.4" stroke="#111" stroke-width="1.1"/>
<line x1="550" y1="400.4" x2="554" y2="400.4" stroke="#111" stroke-width="1"/>
<text x="548.6" y="403.17" font-size="7.7" text-anchor="end" font-weight="normal" fill="#1c1c1c" stroke="#1c1c1c" stroke-width="0.14">0</text>
<line x1="550" y1="382.2" x2="554" y2="382.2" stroke="#111" stroke-width="1"/>
<text x="548.6" y="384.97" font-size="7.7" text-anchor="end" font-weight="normal" fill="#1c1c1c" stroke="#1c1c1c" stroke-width="0.14">20</text>
<line x1="550" y1="364" x2="554" y2="364" stroke="#111" stroke-width="1"/>
<text x="548.6" y="366.77" font-size="7.7" text-anchor="end" font-weight="normal" fill="#1c1c1c" stroke="#1c1c1c" stroke-width="0.14">40</text>
<line x1="550" y1="345.8" x2="554" y2="345.8" stroke="#111" stroke-width="1"/>
<text x="548.6" y="348.57" font-size="7.7" text-anchor="end" font-weight="normal" fill="#1c1c1c" stroke="#1c1c1c" stroke-width="0.14">60</text>
<line x1="550" y1="327.6" x2="554" y2="327.6" stroke="#111" stroke-width="1"/>
<text x="548.6" y="330.37" font-size="7.7" text-anchor="end" font-weight="normal" fill="#1c1c1c" stroke="#1c1c1c" stroke-width="0.14">80</text>
<line x1="550" y1="309.4" x2="554" y2="309.4" stroke="#111" stroke-width="1"/>
<text x="548.6" y="312.17" font-size="7.7" text-anchor="end" font-weight="normal" fill="#1c1c1c" stroke="#1c1c1c" stroke-width="0.14">100</text>
<text x="531.2" y="354.81" font-size="7.8" text-anchor="middle" font-weight="normal" fill="#1c1c1c" transform="rotate(-90 531.2 352)" stroke="#1c1c1c" stroke-width="0.14">MeRIP/Input (%)</text>
<rect x="559.7" y="380.38" width="11" height="20.02" fill="#d3d3d3" stroke="#111" stroke-width="0.9"/>
<line x1="565.2" y1="379.29" x2="565.2" y2="381.47" stroke="#111" stroke-width="0.9"/>
<line x1="562.1" y1="379.29" x2="568.3" y2="379.29" stroke="#111" stroke-width="0.9"/>
<line x1="562.1" y1="381.47" x2="568.3" y2="381.47" stroke="#111" stroke-width="0.9"/>
<rect x="572.5" y="380.83" width="11" height="19.57" fill="#8c8cfa" stroke="#111" stroke-width="0.9"/>
<line x1="578" y1="379.47" x2="578" y2="382.2" stroke="#111" stroke-width="0.9"/>
<line x1="574.9" y1="379.47" x2="581.1" y2="379.47" stroke="#111" stroke-width="0.9"/>
<line x1="574.9" y1="382.2" x2="581.1" y2="382.2" stroke="#111" stroke-width="0.9"/>
<line x1="571.6" y1="400.4" x2="571.6" y2="403.4" stroke="#111" stroke-width="0.9"/>
<text x="576" y="409.8" font-size="7.7" text-anchor="end" fill="#1c1c1c" stroke="#1c1c1c" stroke-width="0.2" transform="rotate(-45 576 409.8)">ACTB</text>
<rect x="596.5" y="394.94" width="11" height="5.46" fill="#d3d3d3" stroke="#111" stroke-width="0.9"/>
<line x1="602" y1="394.49" x2="602" y2="395.39" stroke="#111" stroke-width="0.9"/>
<line x1="598.9" y1="394.49" x2="605.1" y2="394.49" stroke="#111" stroke-width="0.9"/>
<line x1="598.9" y1="395.39" x2="605.1" y2="395.39" stroke="#111" stroke-width="0.9"/>
<rect x="609.3" y="394.76" width="11" height="5.64" fill="#8c8cfa" stroke="#111" stroke-width="0.9"/>
<line x1="614.8" y1="394.3" x2="614.8" y2="395.21" stroke="#111" stroke-width="0.9"/>
<line x1="611.7" y1="394.3" x2="617.9" y2="394.3" stroke="#111" stroke-width="0.9"/>
<line x1="611.7" y1="395.21" x2="617.9" y2="395.21" stroke="#111" stroke-width="0.9"/>
<line x1="608.4" y1="400.4" x2="608.4" y2="403.4" stroke="#111" stroke-width="0.9"/>
<text x="612.8" y="409.8" font-size="7.7" text-anchor="end" fill="#1c1c1c" stroke="#1c1c1c" stroke-width="0.2" transform="rotate(-45 612.8 409.8)">BSG</text>
<rect x="633.3" y="387.2" width="11" height="13.2" fill="#d3d3d3" stroke="#111" stroke-width="0.9"/>
<line x1="638.8" y1="386.48" x2="638.8" y2="387.93" stroke="#111" stroke-width="0.9"/>
<line x1="635.7" y1="386.48" x2="641.9" y2="386.48" stroke="#111" stroke-width="0.9"/>
<line x1="635.7" y1="387.93" x2="641.9" y2="387.93" stroke="#111" stroke-width="0.9"/>
<rect x="646.1" y="385.84" width="11" height="14.56" fill="#8c8cfa" stroke="#111" stroke-width="0.9"/>
<line x1="651.6" y1="385.29" x2="651.6" y2="386.39" stroke="#111" stroke-width="0.9"/>
<line x1="648.5" y1="385.29" x2="654.7" y2="385.29" stroke="#111" stroke-width="0.9"/>
<line x1="648.5" y1="386.39" x2="654.7" y2="386.39" stroke="#111" stroke-width="0.9"/>
<line x1="645.2" y1="400.4" x2="645.2" y2="403.4" stroke="#111" stroke-width="0.9"/>
<text x="649.6" y="409.8" font-size="7.7" text-anchor="end" fill="#1c1c1c" stroke="#1c1c1c" stroke-width="0.2" transform="rotate(-45 649.6 409.8)">TPT1</text>
<rect x="670.1" y="381.29" width="11" height="19.11" fill="#d3d3d3" stroke="#111" stroke-width="0.9"/>
<line x1="675.6" y1="379.29" x2="675.6" y2="383.29" stroke="#111" stroke-width="0.9"/>
<line x1="672.5" y1="379.29" x2="678.7" y2="379.29" stroke="#111" stroke-width="0.9"/>
<line x1="672.5" y1="383.29" x2="678.7" y2="383.29" stroke="#111" stroke-width="0.9"/>
<rect x="682.9" y="378.56" width="11" height="21.84" fill="#8c8cfa" stroke="#111" stroke-width="0.9"/>
<line x1="688.4" y1="377.92" x2="688.4" y2="379.2" stroke="#111" stroke-width="0.9"/>
<line x1="685.3" y1="377.92" x2="691.5" y2="377.92" stroke="#111" stroke-width="0.9"/>
<line x1="685.3" y1="379.2" x2="691.5" y2="379.2" stroke="#111" stroke-width="0.9"/>
<line x1="682" y1="400.4" x2="682" y2="403.4" stroke="#111" stroke-width="0.9"/>
<text x="686.4" y="409.8" font-size="7.7" text-anchor="end" fill="#1c1c1c" stroke="#1c1c1c" stroke-width="0.2" transform="rotate(-45 686.4 409.8)">TUG1</text>
<rect x="706.9" y="325.78" width="11" height="74.62" fill="#d3d3d3" stroke="#111" stroke-width="0.9"/>
<line x1="712.4" y1="322.14" x2="712.4" y2="329.42" stroke="#111" stroke-width="0.9"/>
<line x1="709.3" y1="322.14" x2="715.5" y2="322.14" stroke="#111" stroke-width="0.9"/>
<line x1="709.3" y1="329.42" x2="715.5" y2="329.42" stroke="#111" stroke-width="0.9"/>
<rect x="719.7" y="328.51" width="11" height="71.89" fill="#8c8cfa" stroke="#111" stroke-width="0.9"/>
<line x1="725.2" y1="327.42" x2="725.2" y2="329.6" stroke="#111" stroke-width="0.9"/>
<line x1="722.1" y1="327.42" x2="728.3" y2="327.42" stroke="#111" stroke-width="0.9"/>
<line x1="722.1" y1="329.6" x2="728.3" y2="329.6" stroke="#111" stroke-width="0.9"/>
<line x1="718.8" y1="400.4" x2="718.8" y2="403.4" stroke="#111" stroke-width="0.9"/>
<text x="723.2" y="409.8" font-size="7.7" text-anchor="end" fill="#1c1c1c" stroke="#1c1c1c" stroke-width="0.2" transform="rotate(-45 723.2 409.8)">MALAT1</text>
<rect x="743.7" y="383.11" width="11" height="17.29" fill="#d3d3d3" stroke="#111" stroke-width="0.9"/>
<line x1="749.2" y1="382.38" x2="749.2" y2="383.84" stroke="#111" stroke-width="0.9"/>
<line x1="746.1" y1="382.38" x2="752.3" y2="382.38" stroke="#111" stroke-width="0.9"/>
<line x1="746.1" y1="383.84" x2="752.3" y2="383.84" stroke="#111" stroke-width="0.9"/>
<rect x="756.5" y="382.65" width="11" height="17.75" fill="#8c8cfa" stroke="#111" stroke-width="0.9"/>
<line x1="762" y1="382.11" x2="762" y2="383.2" stroke="#111" stroke-width="0.9"/>
<line x1="758.9" y1="382.11" x2="765.1" y2="382.11" stroke="#111" stroke-width="0.9"/>
<line x1="758.9" y1="383.2" x2="765.1" y2="383.2" stroke="#111" stroke-width="0.9"/>
<line x1="755.6" y1="400.4" x2="755.6" y2="403.4" stroke="#111" stroke-width="0.9"/>
<text x="760" y="409.8" font-size="7.7" text-anchor="end" fill="#1c1c1c" stroke="#1c1c1c" stroke-width="0.2" transform="rotate(-45 760 409.8)">LUCAT1</text>
<rect x="559.3" y="301" width="14.2" height="6.3" fill="#d3d3d3" stroke="#111" stroke-width="0.9"/>
<text x="578.8" y="306.97" font-size="7.7" text-anchor="start" font-weight="normal" fill="#1c1c1c" stroke="#1c1c1c" stroke-width="0.14">DMSO</text>
<rect x="559.3" y="312.6" width="14.2" height="6.3" fill="#8c8cfa" stroke="#111" stroke-width="0.9"/>
<text x="578.8" y="318.57" font-size="7.7" text-anchor="start" font-weight="normal" fill="#1c1c1c" stroke="#1c1c1c" stroke-width="0.14">LMB</text>
<text x="6.4" y="451" font-size="16.5" fill="#111">g</text>
<text x="3.6" y="554.6" font-size="16.5" fill="#111">h</text>
<polygon points="55.3,501.35 61.23,504.77 61.23,511.62 55.3,515.05 49.37,511.62 49.37,504.77" fill="none" stroke="#e2e2e2" stroke-width="0.6"/>
<polygon points="55.3,494.5 67.16,501.35 67.16,515.05 55.3,521.9 43.44,515.05 43.44,501.35" fill="none" stroke="#e2e2e2" stroke-width="0.6"/>
<polygon points="55.3,487.65 73.1,497.93 73.1,518.48 55.3,528.75 37.5,518.48 37.5,497.93" fill="none" stroke="#e2e2e2" stroke-width="0.6"/>
<polygon points="55.3,480.7 79.12,494.45 79.12,521.95 55.3,535.7 31.48,521.95 31.48,494.45" fill="none" stroke="#e2e2e2" stroke-width="0.6"/>
<polygon points="55.3,493 69.59,499.95 68.38,515.75 55.3,523.4 41.7,516.05 41.7,500.35" fill="none" stroke="#f08a3c" stroke-width="1.1" stroke-linejoin="round"/>
<text x="55.5" y="468.42" font-size="8.4" text-anchor="middle" font-weight="bold" fill="#111">ACTB</text>
<text x="55.7" y="478.77" font-size="6.3" text-anchor="middle" font-weight="normal" fill="#1c1c1c" stroke="#1c1c1c" stroke-width="0.14">Rhein</text>
<text x="81.7" y="495.57" font-size="6.3" text-anchor="start" font-weight="normal" fill="#1c1c1c" stroke="#1c1c1c" stroke-width="0.14">MA</text>
<text x="28.9" y="496.07" font-size="6.3" text-anchor="end" font-weight="normal" fill="#1c1c1c" stroke="#1c1c1c" stroke-width="0.14">LMB</text>
<text x="81.7" y="526.07" font-size="6.3" text-anchor="start" font-weight="normal" fill="#1c1c1c" stroke="#1c1c1c" stroke-width="0.14">DOX</text>
<text x="28.9" y="526.07" font-size="6.3" text-anchor="end" font-weight="normal" fill="#1c1c1c" stroke="#1c1c1c" stroke-width="0.14">Sorafenib</text>
<text x="55.5" y="543.37" font-size="6.3" text-anchor="middle" font-weight="normal" fill="#1c1c1c" stroke="#1c1c1c" stroke-width="0.14">CDDP</text>
<text x="41.2" y="489.67" font-size="6.3" text-anchor="middle" font-weight="normal" fill="#1c1c1c" stroke="#1c1c1c" stroke-width="0.14">1.4</text>
<text x="52.1" y="506.57" font-size="6.3" text-anchor="middle" font-weight="normal" fill="#1c1c1c" stroke="#1c1c1c" stroke-width="0.14">0.8</text>
<polygon points="55.3,595.15 61.23,598.58 61.23,605.42 55.3,608.85 49.37,605.42 49.37,598.58" fill="none" stroke="#e2e2e2" stroke-width="0.6"/>
<polygon points="55.3,588.3 67.16,595.15 67.16,608.85 55.3,615.7 43.44,608.85 43.44,595.15" fill="none" stroke="#e2e2e2" stroke-width="0.6"/>
<polygon points="55.3,581.45 73.1,591.73 73.1,612.27 55.3,622.55 37.5,612.27 37.5,591.73" fill="none" stroke="#e2e2e2" stroke-width="0.6"/>
<polygon points="55.3,574.5 79.12,588.25 79.12,615.75 55.3,629.5 31.48,615.75 31.48,588.25" fill="none" stroke="#e2e2e2" stroke-width="0.6"/>
<polygon points="55.3,588.4 66.73,595.4 67.16,608.85 55.3,614.5 45.6,607.6 42.48,594.6" fill="none" stroke="#4a80d4" stroke-width="1.1" stroke-linejoin="round"/>
<text x="55.5" y="562.22" font-size="8.4" text-anchor="middle" font-weight="bold" fill="#111">ACTB</text>
<text x="55.7" y="572.57" font-size="6.3" text-anchor="middle" font-weight="normal" fill="#1c1c1c" stroke="#1c1c1c" stroke-width="0.14">Rhein</text>
<text x="81.7" y="589.37" font-size="6.3" text-anchor="start" font-weight="normal" fill="#1c1c1c" stroke="#1c1c1c" stroke-width="0.14">MA</text>
<text x="28.9" y="589.87" font-size="6.3" text-anchor="end" font-weight="normal" fill="#1c1c1c" stroke="#1c1c1c" stroke-width="0.14">LMB</text>
<text x="81.7" y="619.87" font-size="6.3" text-anchor="start" font-weight="normal" fill="#1c1c1c" stroke="#1c1c1c" stroke-width="0.14">DOX</text>
<text x="28.9" y="619.87" font-size="6.3" text-anchor="end" font-weight="normal" fill="#1c1c1c" stroke="#1c1c1c" stroke-width="0.14">Sorafenib</text>
<text x="55.5" y="637.17" font-size="6.3" text-anchor="middle" font-weight="normal" fill="#1c1c1c" stroke="#1c1c1c" stroke-width="0.14">CDDP</text>
<text x="41.2" y="583.47" font-size="6.3" text-anchor="middle" font-weight="normal" fill="#1c1c1c" stroke="#1c1c1c" stroke-width="0.14">1.4</text>
<text x="52.1" y="600.37" font-size="6.3" text-anchor="middle" font-weight="normal" fill="#1c1c1c" stroke="#1c1c1c" stroke-width="0.14">0.8</text>
<polygon points="151.3,501.35 157.23,504.77 157.23,511.62 151.3,515.05 145.37,511.62 145.37,504.77" fill="none" stroke="#e2e2e2" stroke-width="0.6"/>
<polygon points="151.3,494.5 163.16,501.35 163.16,515.05 151.3,521.9 139.44,515.05 139.44,501.35" fill="none" stroke="#e2e2e2" stroke-width="0.6"/>
<polygon points="151.3,487.65 169.1,497.93 169.1,518.48 151.3,528.75 133.5,518.48 133.5,497.93" fill="none" stroke="#e2e2e2" stroke-width="0.6"/>
<polygon points="151.3,480.7 175.12,494.45 175.12,521.95 151.3,535.7 127.48,521.95 127.48,494.45" fill="none" stroke="#e2e2e2" stroke-width="0.6"/>
<polygon points="151.3,495.7 164.98,500.3 173.21,520.85 151.3,520.1 136.92,516.5 143.25,503.55" fill="none" stroke="#f08a3c" stroke-width="1.1" stroke-linejoin="round"/>
<text x="151.5" y="468.42" font-size="8.4" text-anchor="middle" font-weight="bold" fill="#111">BSG</text>
<text x="151.7" y="478.77" font-size="6.3" text-anchor="middle" font-weight="normal" fill="#1c1c1c" stroke="#1c1c1c" stroke-width="0.14">Rhein</text>
<text x="177.7" y="495.57" font-size="6.3" text-anchor="start" font-weight="normal" fill="#1c1c1c" stroke="#1c1c1c" stroke-width="0.14">MA</text>
<text x="124.9" y="496.07" font-size="6.3" text-anchor="end" font-weight="normal" fill="#1c1c1c" stroke="#1c1c1c" stroke-width="0.14">LMB</text>
<text x="177.7" y="526.07" font-size="6.3" text-anchor="start" font-weight="normal" fill="#1c1c1c" stroke="#1c1c1c" stroke-width="0.14">DOX</text>
<text x="124.9" y="526.07" font-size="6.3" text-anchor="end" font-weight="normal" fill="#1c1c1c" stroke="#1c1c1c" stroke-width="0.14">Sorafenib</text>
<text x="151.5" y="543.37" font-size="6.3" text-anchor="middle" font-weight="normal" fill="#1c1c1c" stroke="#1c1c1c" stroke-width="0.14">CDDP</text>
<text x="137.2" y="489.67" font-size="6.3" text-anchor="middle" font-weight="normal" fill="#1c1c1c" stroke="#1c1c1c" stroke-width="0.14">1.4</text>
<text x="148.1" y="506.57" font-size="6.3" text-anchor="middle" font-weight="normal" fill="#1c1c1c" stroke="#1c1c1c" stroke-width="0.14">0.8</text>
<polygon points="151.3,595.15 157.23,598.58 157.23,605.42 151.3,608.85 145.37,605.42 145.37,598.58" fill="none" stroke="#e2e2e2" stroke-width="0.6"/>
<polygon points="151.3,588.3 163.16,595.15 163.16,608.85 151.3,615.7 139.44,608.85 139.44,595.15" fill="none" stroke="#e2e2e2" stroke-width="0.6"/>
<polygon points="151.3,581.45 169.1,591.73 169.1,612.27 151.3,622.55 133.5,612.27 133.5,591.73" fill="none" stroke="#e2e2e2" stroke-width="0.6"/>
<polygon points="151.3,574.5 175.12,588.25 175.12,615.75 151.3,629.5 127.48,615.75 127.48,588.25" fill="none" stroke="#e2e2e2" stroke-width="0.6"/>
<polygon points="151.3,587.4 164.98,594.1 166.89,611 151.3,616.2 137.96,609.7 131.99,590.85" fill="none" stroke="#4a80d4" stroke-width="1.1" stroke-linejoin="round"/>
<text x="151.5" y="562.22" font-size="8.4" text-anchor="middle" font-weight="bold" fill="#111">BSG</text>
<text x="151.7" y="572.57" font-size="6.3" text-anchor="middle" font-weight="normal" fill="#1c1c1c" stroke="#1c1c1c" stroke-width="0.14">Rhein</text>
<text x="177.7" y="589.37" font-size="6.3" text-anchor="start" font-weight="normal" fill="#1c1c1c" stroke="#1c1c1c" stroke-width="0.14">MA</text>
<text x="124.9" y="589.87" font-size="6.3" text-anchor="end" font-weight="normal" fill="#1c1c1c" stroke="#1c1c1c" stroke-width="0.14">LMB</text>
<text x="177.7" y="619.87" font-size="6.3" text-anchor="start" font-weight="normal" fill="#1c1c1c" stroke="#1c1c1c" stroke-width="0.14">DOX</text>
<text x="124.9" y="619.87" font-size="6.3" text-anchor="end" font-weight="normal" fill="#1c1c1c" stroke="#1c1c1c" stroke-width="0.14">Sorafenib</text>
<text x="151.5" y="637.17" font-size="6.3" text-anchor="middle" font-weight="normal" fill="#1c1c1c" stroke="#1c1c1c" stroke-width="0.14">CDDP</text>
<text x="137.2" y="583.47" font-size="6.3" text-anchor="middle" font-weight="normal" fill="#1c1c1c" stroke="#1c1c1c" stroke-width="0.14">1.4</text>
<text x="148.1" y="600.37" font-size="6.3" text-anchor="middle" font-weight="normal" fill="#1c1c1c" stroke="#1c1c1c" stroke-width="0.14">0.8</text>
<polygon points="247.3,501.35 253.23,504.77 253.23,511.62 247.3,515.05 241.37,511.62 241.37,504.77" fill="none" stroke="#e2e2e2" stroke-width="0.6"/>
<polygon points="247.3,494.5 259.16,501.35 259.16,515.05 247.3,521.9 235.44,515.05 235.44,501.35" fill="none" stroke="#e2e2e2" stroke-width="0.6"/>
<polygon points="247.3,487.65 265.1,497.93 265.1,518.48 247.3,528.75 229.5,518.48 229.5,497.93" fill="none" stroke="#e2e2e2" stroke-width="0.6"/>
<polygon points="247.3,480.7 271.12,494.45 271.12,521.95 247.3,535.7 223.48,521.95 223.48,494.45" fill="none" stroke="#e2e2e2" stroke-width="0.6"/>
<polygon points="247.3,495.7 256.83,502.7 263.58,517.6 247.3,520.8 236.21,514.6 236.99,502.25" fill="none" stroke="#f08a3c" stroke-width="1.1" stroke-linejoin="round"/>
<text x="247.5" y="468.42" font-size="8.4" text-anchor="middle" font-weight="bold" fill="#111">TPT1</text>
<text x="247.7" y="478.77" font-size="6.3" text-anchor="middle" font-weight="normal" fill="#1c1c1c" stroke="#1c1c1c" stroke-width="0.14">Rhein</text>
<text x="273.7" y="495.57" font-size="6.3" text-anchor="start" font-weight="normal" fill="#1c1c1c" stroke="#1c1c1c" stroke-width="0.14">MA</text>
<text x="220.9" y="496.07" font-size="6.3" text-anchor="end" font-weight="normal" fill="#1c1c1c" stroke="#1c1c1c" stroke-width="0.14">LMB</text>
<text x="273.7" y="526.07" font-size="6.3" text-anchor="start" font-weight="normal" fill="#1c1c1c" stroke="#1c1c1c" stroke-width="0.14">DOX</text>
<text x="220.9" y="526.07" font-size="6.3" text-anchor="end" font-weight="normal" fill="#1c1c1c" stroke="#1c1c1c" stroke-width="0.14">Sorafenib</text>
<text x="247.5" y="543.37" font-size="6.3" text-anchor="middle" font-weight="normal" fill="#1c1c1c" stroke="#1c1c1c" stroke-width="0.14">CDDP</text>
<text x="233.2" y="489.67" font-size="6.3" text-anchor="middle" font-weight="normal" fill="#1c1c1c" stroke="#1c1c1c" stroke-width="0.14">1.4</text>
<text x="244.1" y="506.57" font-size="6.3" text-anchor="middle" font-weight="normal" fill="#1c1c1c" stroke="#1c1c1c" stroke-width="0.14">0.8</text>
<polygon points="247.3,595.15 253.23,598.58 253.23,605.42 247.3,608.85 241.37,605.42 241.37,598.58" fill="none" stroke="#e2e2e2" stroke-width="0.6"/>
<polygon points="247.3,588.3 259.16,595.15 259.16,608.85 247.3,615.7 235.44,608.85 235.44,595.15" fill="none" stroke="#e2e2e2" stroke-width="0.6"/>
<polygon points="247.3,581.45 265.1,591.73 265.1,612.27 247.3,622.55 229.5,612.27 229.5,591.73" fill="none" stroke="#e2e2e2" stroke-width="0.6"/>
<polygon points="247.3,574.5 271.12,588.25 271.12,615.75 247.3,629.5 223.48,615.75 223.48,588.25" fill="none" stroke="#e2e2e2" stroke-width="0.6"/>
<polygon points="247.3,586.3 262.46,593.25 266.27,612.95 247.3,622.6 234.4,609.45 227.64,590.65" fill="none" stroke="#4a80d4" stroke-width="1.1" stroke-linejoin="round"/>
<text x="247.5" y="562.22" font-size="8.4" text-anchor="middle" font-weight="bold" fill="#111">TPT1</text>
<text x="247.7" y="572.57" font-size="6.3" text-anchor="middle" font-weight="normal" fill="#1c1c1c" stroke="#1c1c1c" stroke-width="0.14">Rhein</text>
<text x="273.7" y="589.37" font-size="6.3" text-anchor="start" font-weight="normal" fill="#1c1c1c" stroke="#1c1c1c" stroke-width="0.14">MA</text>
<text x="220.9" y="589.87" font-size="6.3" text-anchor="end" font-weight="normal" fill="#1c1c1c" stroke="#1c1c1c" stroke-width="0.14">LMB</text>
<text x="273.7" y="619.87" font-size="6.3" text-anchor="start" font-weight="normal" fill="#1c1c1c" stroke="#1c1c1c" stroke-width="0.14">DOX</text>
<text x="220.9" y="619.87" font-size="6.3" text-anchor="end" font-weight="normal" fill="#1c1c1c" stroke="#1c1c1c" stroke-width="0.14">Sorafenib</text>
<text x="247.5" y="637.17" font-size="6.3" text-anchor="middle" font-weight="normal" fill="#1c1c1c" stroke="#1c1c1c" stroke-width="0.14">CDDP</text>
<text x="233.2" y="583.47" font-size="6.3" text-anchor="middle" font-weight="normal" fill="#1c1c1c" stroke="#1c1c1c" stroke-width="0.14">1.4</text>
<text x="244.1" y="600.37" font-size="6.3" text-anchor="middle" font-weight="normal" fill="#1c1c1c" stroke="#1c1c1c" stroke-width="0.14">0.8</text>
<polygon points="343.3,501.35 349.23,504.77 349.23,511.62 343.3,515.05 337.37,511.62 337.37,504.77" fill="none" stroke="#e2e2e2" stroke-width="0.6"/>
<polygon points="343.3,494.5 355.16,501.35 355.16,515.05 343.3,521.9 331.44,515.05 331.44,501.35" fill="none" stroke="#e2e2e2" stroke-width="0.6"/>
<polygon points="343.3,487.65 361.1,497.93 361.1,518.48 343.3,528.75 325.5,518.48 325.5,497.93" fill="none" stroke="#e2e2e2" stroke-width="0.6"/>
<polygon points="343.3,480.7 367.12,494.45 367.12,521.95 343.3,535.7 319.48,521.95 319.48,494.45" fill="none" stroke="#e2e2e2" stroke-width="0.6"/>
<polygon points="343.3,495.3 357.16,500.2 364.26,520.3 343.3,525.7 328.58,516.7 332.04,501.7" fill="none" stroke="#f08a3c" stroke-width="1.1" stroke-linejoin="round"/>
<text x="343.5" y="468.42" font-size="8.4" text-anchor="middle" font-weight="bold" fill="#111">TUG1</text>
<text x="343.7" y="478.77" font-size="6.3" text-anchor="middle" font-weight="normal" fill="#1c1c1c" stroke="#1c1c1c" stroke-width="0.14">Rhein</text>
<text x="369.7" y="495.57" font-size="6.3" text-anchor="start" font-weight="normal" fill="#1c1c1c" stroke="#1c1c1c" stroke-width="0.14">MA</text>
<text x="316.9" y="496.07" font-size="6.3" text-anchor="end" font-weight="normal" fill="#1c1c1c" stroke="#1c1c1c" stroke-width="0.14">LMB</text>
<text x="369.7" y="526.07" font-size="6.3" text-anchor="start" font-weight="normal" fill="#1c1c1c" stroke="#1c1c1c" stroke-width="0.14">DOX</text>
<text x="316.9" y="526.07" font-size="6.3" text-anchor="end" font-weight="normal" fill="#1c1c1c" stroke="#1c1c1c" stroke-width="0.14">Sorafenib</text>
<text x="343.5" y="543.37" font-size="6.3" text-anchor="middle" font-weight="normal" fill="#1c1c1c" stroke="#1c1c1c" stroke-width="0.14">CDDP</text>
<text x="329.2" y="489.67" font-size="6.3" text-anchor="middle" font-weight="normal" fill="#1c1c1c" stroke="#1c1c1c" stroke-width="0.14">1.4</text>
<text x="340.1" y="506.57" font-size="6.3" text-anchor="middle" font-weight="normal" fill="#1c1c1c" stroke="#1c1c1c" stroke-width="0.14">0.8</text>
<polygon points="343.3,595.15 349.23,598.58 349.23,605.42 343.3,608.85 337.37,605.42 337.37,598.58" fill="none" stroke="#e2e2e2" stroke-width="0.6"/>
<polygon points="343.3,588.3 355.16,595.15 355.16,608.85 343.3,615.7 331.44,608.85 331.44,595.15" fill="none" stroke="#e2e2e2" stroke-width="0.6"/>
<polygon points="343.3,581.45 361.1,591.73 361.1,612.27 343.3,622.55 325.5,612.27 325.5,591.73" fill="none" stroke="#e2e2e2" stroke-width="0.6"/>
<polygon points="343.3,574.5 367.12,588.25 367.12,615.75 343.3,629.5 319.48,615.75 319.48,588.25" fill="none" stroke="#e2e2e2" stroke-width="0.6"/>
<polygon points="343.3,588.9 356.12,594.6 356.12,609.4 343.3,617.4 330.66,609.3 330.66,594.7" fill="none" stroke="#4a80d4" stroke-width="1.1" stroke-linejoin="round"/>
<text x="343.5" y="562.22" font-size="8.4" text-anchor="middle" font-weight="bold" fill="#111">TUG1</text>
<text x="343.7" y="572.57" font-size="6.3" text-anchor="middle" font-weight="normal" fill="#1c1c1c" stroke="#1c1c1c" stroke-width="0.14">Rhein</text>
<text x="369.7" y="589.37" font-size="6.3" text-anchor="start" font-weight="normal" fill="#1c1c1c" stroke="#1c1c1c" stroke-width="0.14">MA</text>
<text x="316.9" y="589.87" font-size="6.3" text-anchor="end" font-weight="normal" fill="#1c1c1c" stroke="#1c1c1c" stroke-width="0.14">LMB</text>
<text x="369.7" y="619.87" font-size="6.3" text-anchor="start" font-weight="normal" fill="#1c1c1c" stroke="#1c1c1c" stroke-width="0.14">DOX</text>
<text x="316.9" y="619.87" font-size="6.3" text-anchor="end" font-weight="normal" fill="#1c1c1c" stroke="#1c1c1c" stroke-width="0.14">Sorafenib</text>
<text x="343.5" y="637.17" font-size="6.3" text-anchor="middle" font-weight="normal" fill="#1c1c1c" stroke="#1c1c1c" stroke-width="0.14">CDDP</text>
<text x="329.2" y="583.47" font-size="6.3" text-anchor="middle" font-weight="normal" fill="#1c1c1c" stroke="#1c1c1c" stroke-width="0.14">1.4</text>
<text x="340.1" y="600.37" font-size="6.3" text-anchor="middle" font-weight="normal" fill="#1c1c1c" stroke="#1c1c1c" stroke-width="0.14">0.8</text>
<polygon points="439.3,501.35 445.23,504.77 445.23,511.62 439.3,515.05 433.37,511.62 433.37,504.77" fill="none" stroke="#e2e2e2" stroke-width="0.6"/>
<polygon points="439.3,494.5 451.16,501.35 451.16,515.05 439.3,521.9 427.44,515.05 427.44,501.35" fill="none" stroke="#e2e2e2" stroke-width="0.6"/>
<polygon points="439.3,487.65 457.1,497.93 457.1,518.48 439.3,528.75 421.5,518.48 421.5,497.93" fill="none" stroke="#e2e2e2" stroke-width="0.6"/>
<polygon points="439.3,480.7 463.12,494.45 463.12,521.95 439.3,535.7 415.48,521.95 415.48,494.45" fill="none" stroke="#e2e2e2" stroke-width="0.6"/>
<polygon points="439.3,502.1 445.1,504.85 452.55,515.85 439.3,519 428.65,514.35 429.43,502.5" fill="none" stroke="#f08a3c" stroke-width="1.1" stroke-linejoin="round"/>
<text x="439.5" y="468.42" font-size="8.4" text-anchor="middle" font-weight="bold" fill="#111">MALAT1</text>
<text x="439.7" y="478.77" font-size="6.3" text-anchor="middle" font-weight="normal" fill="#1c1c1c" stroke="#1c1c1c" stroke-width="0.14">Rhein</text>
<text x="465.7" y="495.57" font-size="6.3" text-anchor="start" font-weight="normal" fill="#1c1c1c" stroke="#1c1c1c" stroke-width="0.14">MA</text>
<text x="412.9" y="496.07" font-size="6.3" text-anchor="end" font-weight="normal" fill="#1c1c1c" stroke="#1c1c1c" stroke-width="0.14">LMB</text>
<text x="465.7" y="526.07" font-size="6.3" text-anchor="start" font-weight="normal" fill="#1c1c1c" stroke="#1c1c1c" stroke-width="0.14">DOX</text>
<text x="412.9" y="526.07" font-size="6.3" text-anchor="end" font-weight="normal" fill="#1c1c1c" stroke="#1c1c1c" stroke-width="0.14">Sorafenib</text>
<text x="439.5" y="543.37" font-size="6.3" text-anchor="middle" font-weight="normal" fill="#1c1c1c" stroke="#1c1c1c" stroke-width="0.14">CDDP</text>
<text x="425.2" y="489.67" font-size="6.3" text-anchor="middle" font-weight="normal" fill="#1c1c1c" stroke="#1c1c1c" stroke-width="0.14">1.4</text>
<text x="436.1" y="506.57" font-size="6.3" text-anchor="middle" font-weight="normal" fill="#1c1c1c" stroke="#1c1c1c" stroke-width="0.14">0.8</text>
<polygon points="439.3,595.15 445.23,598.58 445.23,605.42 439.3,608.85 433.37,605.42 433.37,598.58" fill="none" stroke="#e2e2e2" stroke-width="0.6"/>
<polygon points="439.3,588.3 451.16,595.15 451.16,608.85 439.3,615.7 427.44,608.85 427.44,595.15" fill="none" stroke="#e2e2e2" stroke-width="0.6"/>
<polygon points="439.3,581.45 457.1,591.73 457.1,612.27 439.3,622.55 421.5,612.27 421.5,591.73" fill="none" stroke="#e2e2e2" stroke-width="0.6"/>
<polygon points="439.3,574.5 463.12,588.25 463.12,615.75 439.3,629.5 415.48,615.75 415.48,588.25" fill="none" stroke="#e2e2e2" stroke-width="0.6"/>
<polygon points="439.3,586.25 453.24,593.95 453.24,610.05 439.3,619.2 426.22,609.55 426.22,594.45" fill="none" stroke="#4a80d4" stroke-width="1.1" stroke-linejoin="round"/>
<text x="439.5" y="562.22" font-size="8.4" text-anchor="middle" font-weight="bold" fill="#111">MALAT1</text>
<text x="439.7" y="572.57" font-size="6.3" text-anchor="middle" font-weight="normal" fill="#1c1c1c" stroke="#1c1c1c" stroke-width="0.14">Rhein</text>
<text x="465.7" y="589.37" font-size="6.3" text-anchor="start" font-weight="normal" fill="#1c1c1c" stroke="#1c1c1c" stroke-width="0.14">MA</text>
<text x="412.9" y="589.87" font-size="6.3" text-anchor="end" font-weight="normal" fill="#1c1c1c" stroke="#1c1c1c" stroke-width="0.14">LMB</text>
<text x="465.7" y="619.87" font-size="6.3" text-anchor="start" font-weight="normal" fill="#1c1c1c" stroke="#1c1c1c" stroke-width="0.14">DOX</text>
<text x="412.9" y="619.87" font-size="6.3" text-anchor="end" font-weight="normal" fill="#1c1c1c" stroke="#1c1c1c" stroke-width="0.14">Sorafenib</text>
<text x="439.5" y="637.17" font-size="6.3" text-anchor="middle" font-weight="normal" fill="#1c1c1c" stroke="#1c1c1c" stroke-width="0.14">CDDP</text>
<text x="425.2" y="583.47" font-size="6.3" text-anchor="middle" font-weight="normal" fill="#1c1c1c" stroke="#1c1c1c" stroke-width="0.14">1.4</text>
<text x="436.1" y="600.37" font-size="6.3" text-anchor="middle" font-weight="normal" fill="#1c1c1c" stroke="#1c1c1c" stroke-width="0.14">0.8</text>
<polygon points="535.3,501.35 541.23,504.77 541.23,511.62 535.3,515.05 529.37,511.62 529.37,504.77" fill="none" stroke="#e2e2e2" stroke-width="0.6"/>
<polygon points="535.3,494.5 547.16,501.35 547.16,515.05 535.3,521.9 523.44,515.05 523.44,501.35" fill="none" stroke="#e2e2e2" stroke-width="0.6"/>
<polygon points="535.3,487.65 553.1,497.93 553.1,518.48 535.3,528.75 517.5,518.48 517.5,497.93" fill="none" stroke="#e2e2e2" stroke-width="0.6"/>
<polygon points="535.3,480.7 559.12,494.45 559.12,521.95 535.3,535.7 511.48,521.95 511.48,494.45" fill="none" stroke="#e2e2e2" stroke-width="0.6"/>
<polygon points="535.3,504 541.19,504.8 543.18,512.75 535.3,524.1 532.7,509.7 530.54,505.45" fill="none" stroke="#f08a3c" stroke-width="1.1" stroke-linejoin="round"/>
<text x="535.5" y="468.42" font-size="8.4" text-anchor="middle" font-weight="bold" fill="#111">LUCAT1</text>
<text x="535.7" y="478.77" font-size="6.3" text-anchor="middle" font-weight="normal" fill="#1c1c1c" stroke="#1c1c1c" stroke-width="0.14">Rhein</text>
<text x="561.7" y="495.57" font-size="6.3" text-anchor="start" font-weight="normal" fill="#1c1c1c" stroke="#1c1c1c" stroke-width="0.14">MA</text>
<text x="508.9" y="496.07" font-size="6.3" text-anchor="end" font-weight="normal" fill="#1c1c1c" stroke="#1c1c1c" stroke-width="0.14">LMB</text>
<text x="561.7" y="526.07" font-size="6.3" text-anchor="start" font-weight="normal" fill="#1c1c1c" stroke="#1c1c1c" stroke-width="0.14">DOX</text>
<text x="508.9" y="526.07" font-size="6.3" text-anchor="end" font-weight="normal" fill="#1c1c1c" stroke="#1c1c1c" stroke-width="0.14">Sorafenib</text>
<text x="535.5" y="543.37" font-size="6.3" text-anchor="middle" font-weight="normal" fill="#1c1c1c" stroke="#1c1c1c" stroke-width="0.14">CDDP</text>
<text x="521.2" y="489.67" font-size="6.3" text-anchor="middle" font-weight="normal" fill="#1c1c1c" stroke="#1c1c1c" stroke-width="0.14">1.4</text>
<text x="532.1" y="506.57" font-size="6.3" text-anchor="middle" font-weight="normal" fill="#1c1c1c" stroke="#1c1c1c" stroke-width="0.14">0.8</text>
<polygon points="535.3,595.15 541.23,598.58 541.23,605.42 535.3,608.85 529.37,605.42 529.37,598.58" fill="none" stroke="#e2e2e2" stroke-width="0.6"/>
<polygon points="535.3,588.3 547.16,595.15 547.16,608.85 535.3,615.7 523.44,608.85 523.44,595.15" fill="none" stroke="#e2e2e2" stroke-width="0.6"/>
<polygon points="535.3,581.45 553.1,591.73 553.1,612.27 535.3,622.55 517.5,612.27 517.5,591.73" fill="none" stroke="#e2e2e2" stroke-width="0.6"/>
<polygon points="535.3,574.5 559.12,588.25 559.12,615.75 535.3,629.5 511.48,615.75 511.48,588.25" fill="none" stroke="#e2e2e2" stroke-width="0.6"/>
<polygon points="535.3,591.3 556.08,590 558.34,615.3 535.3,618 530.1,605 514.08,589.75" fill="none" stroke="#4a80d4" stroke-width="1.1" stroke-linejoin="round"/>
<text x="535.5" y="562.22" font-size="8.4" text-anchor="middle" font-weight="bold" fill="#111">LUCAT1</text>
<text x="535.7" y="572.57" font-size="6.3" text-anchor="middle" font-weight="normal" fill="#1c1c1c" stroke="#1c1c1c" stroke-width="0.14">Rhein</text>
<text x="561.7" y="589.37" font-size="6.3" text-anchor="start" font-weight="normal" fill="#1c1c1c" stroke="#1c1c1c" stroke-width="0.14">MA</text>
<text x="508.9" y="589.87" font-size="6.3" text-anchor="end" font-weight="normal" fill="#1c1c1c" stroke="#1c1c1c" stroke-width="0.14">LMB</text>
<text x="561.7" y="619.87" font-size="6.3" text-anchor="start" font-weight="normal" fill="#1c1c1c" stroke="#1c1c1c" stroke-width="0.14">DOX</text>
<text x="508.9" y="619.87" font-size="6.3" text-anchor="end" font-weight="normal" fill="#1c1c1c" stroke="#1c1c1c" stroke-width="0.14">Sorafenib</text>
<text x="535.5" y="637.17" font-size="6.3" text-anchor="middle" font-weight="normal" fill="#1c1c1c" stroke="#1c1c1c" stroke-width="0.14">CDDP</text>
<text x="521.2" y="583.47" font-size="6.3" text-anchor="middle" font-weight="normal" fill="#1c1c1c" stroke="#1c1c1c" stroke-width="0.14">1.4</text>
<text x="532.1" y="600.37" font-size="6.3" text-anchor="middle" font-weight="normal" fill="#1c1c1c" stroke="#1c1c1c" stroke-width="0.14">0.8</text>
<text x="581.3" y="454.9" font-size="16.5" fill="#111">i</text>
<rect x="586.6" y="467.3" width="212" height="170.5" fill="url(#ibg)"/>
<path d="M587.05,470.3 V637.35 H798.6" fill="none" stroke="#d6efef" stroke-width="0.9"/>
<g clip-path="url(#ci)">
<path d="M600.18,503.6 A77.4,77.4 0 0 0 748.82,503.6 Z" fill="url(#inuc)"/>
<path d="M589.36,502.2 A87.5,87.5 0 0 0 759.64,502.2" fill="none" stroke="#111" stroke-width="1.25"/>
<path d="M600.18,503.6 A77.4,77.4 0 0 0 748.82,503.6" fill="none" stroke="#111" stroke-width="1.25"/>
<g transform="rotate(48 608.3 532.6)" opacity="0.88">
<rect x="602.55" y="521.85" width="5.55" height="21.5" fill="#52b4a6" rx="1.6"/>
<rect x="608.5" y="521.85" width="5.55" height="21.5" fill="#52b4a6" rx="1.6"/>
</g>
<g transform="rotate(-50 746 525.4)" opacity="0.8">
<rect x="740.25" y="515.15" width="5.55" height="20.5" fill="#a474d4" rx="1.6"/>
<rect x="746.2" y="515.15" width="5.55" height="20.5" fill="#a474d4" rx="1.6"/>
</g>
<g transform="rotate(0 663.3 562.6)" opacity="0.9">
<rect x="657.5" y="552.7" width="5.6" height="19.8" fill="#c98f6c" rx="1.6"/>
<rect x="663.5" y="552.7" width="5.6" height="19.8" fill="#c98f6c" rx="1.6"/>
</g>
<g transform="rotate(0 699.6 562)" opacity="0.9">
<rect x="693.8" y="552.1" width="5.6" height="19.8" fill="#ea949c" rx="1.6"/>
<rect x="699.8" y="552.1" width="5.6" height="19.8" fill="#ea949c" rx="1.6"/>
</g>
<path d="M589.36,502.2 A87.5,87.5 0 0 0 759.64,502.2" fill="none" stroke="#111" stroke-width="0.8" opacity="0.75"/>
<path d="M600.18,503.6 A77.4,77.4 0 0 0 748.82,503.6" fill="none" stroke="#111" stroke-width="0.8" opacity="0.75"/>
<text x="677.3" y="498.28" font-size="8" text-anchor="middle" font-weight="normal" fill="#111" stroke="#111" stroke-width="0.3">Nucleus</text>
<text x="757.6" y="519.52" font-size="8.1" text-anchor="start" font-weight="normal" fill="#111" stroke="#111" stroke-width="0.3">Cytoplasm</text>
<g>
<ellipse cx="608.9" cy="485" rx="10.9" ry="3.2" fill="url(#o41)"/>
<text x="608.9" y="486.4" font-size="3.6" text-anchor="middle" font-weight="bold" fill="#1a1a1a">METTL3</text>
</g>
<g>
<ellipse cx="608.9" cy="492.3" rx="10.9" ry="3.2" fill="url(#o42)"/>
<text x="608.9" y="493.7" font-size="3.6" text-anchor="middle" font-weight="bold" fill="#1a1a1a">METTL14</text>
</g>
<g>
<ellipse cx="608.9" cy="499.5" rx="10.9" ry="3.2" fill="url(#o43)"/>
<text x="608.9" y="500.9" font-size="3.6" text-anchor="middle" font-weight="bold" fill="#1a1a1a">WTAP</text>
</g>
<g>
<ellipse cx="745.3" cy="482.2" rx="10.9" ry="3.2" fill="url(#o44)"/>
<text x="745.3" y="483.6" font-size="3.6" text-anchor="middle" font-weight="bold" fill="#1a1a1a">METTL3</text>
</g>
<g>
<ellipse cx="745.3" cy="489.5" rx="10.9" ry="3.2" fill="url(#o45)"/>
<text x="745.3" y="490.9" font-size="3.6" text-anchor="middle" font-weight="bold" fill="#1a1a1a">METTL14</text>
</g>
<g>
<ellipse cx="745.3" cy="497" rx="10.9" ry="3.2" fill="url(#o46)"/>
<text x="745.3" y="498.4" font-size="3.6" text-anchor="middle" font-weight="bold" fill="#1a1a1a">WTAP</text>
</g>
<g transform="rotate(-25 723 495.2)">
<ellipse cx="723" cy="495.2" rx="9.6" ry="3.9" fill="url(#o47)"/>
<text x="723" y="496.42" font-size="3.1" text-anchor="middle" font-weight="bold" fill="#1a1a1a">Sorafenib</text>
</g>
<g>
<ellipse cx="627.8" cy="505.3" rx="9.8" ry="4.4" fill="url(#o48)"/>
<text x="627.8" y="506.84" font-size="4" text-anchor="middle" font-weight="bold" fill="#1a1a1a">LMB</text>
</g>
<path d="M608.3,505.5 C611,503.5 615,504.5 615.8,507 C618,507.5 618.6,510 617,511.5 C618,514 616.5,516 615.6,518 C616,520.5 614,522 611.6,521.6 C609,522 607.2,520 607.6,517.6 C606.6,514 607,508.5 608.3,505.5 Z" fill="#5aa39d"/>
<path d="M615.5,509.5 l3.5,-2.2 l0.8,1.4 l-3.4,2.4 z" fill="#8a9ae0" opacity="0.8"/>
<text x="611.6" y="514.62" font-size="3.4" text-anchor="middle" font-weight="normal" fill="#163c3a" transform="rotate(-90 611.6 513.4)">CRM1</text>
<text x="625" y="527.51" font-size="4.2" text-anchor="middle" font-weight="normal" fill="#222">Export</text>
<path d="M616.5,523.8 l1.2,1.3" stroke="#333" stroke-width="0.4" fill="none"/>
<g>
<ellipse cx="647.2" cy="513.9" rx="9.7" ry="3.9" fill="url(#o49)"/>
<text x="647.2" y="515.37" font-size="3.8" text-anchor="middle" font-weight="bold" fill="#1a1a1a">Rhein</text>
</g>
<g>
<ellipse cx="671.5" cy="513.9" rx="9.7" ry="3.9" fill="url(#o50)"/>
<text x="671.5" y="515.37" font-size="3.8" text-anchor="middle" font-weight="bold" fill="#1a1a1a">MA</text>
</g>
<g>
<ellipse cx="693.4" cy="513.9" rx="9.2" ry="3.9" fill="url(#o51)"/>
<text x="693.4" y="515.37" font-size="3.8" text-anchor="middle" font-weight="bold" fill="#1a1a1a">DOX</text>
</g>
<g transform="rotate(18 712.9 514.8)">
<ellipse cx="712.9" cy="514.8" rx="8.6" ry="3.7" fill="url(#o52)"/>
<text x="712.9" y="516.12" font-size="3.4" text-anchor="middle" font-weight="bold" fill="#1a1a1a">CDDP</text>
</g>
<g>
<ellipse cx="660.2" cy="526.2" rx="6.7" ry="5.1" fill="url(#o53)"/>
<text x="660.2" y="527.67" font-size="3.8" text-anchor="middle" font-weight="bold" fill="#1a1a1a">FTO</text>
</g>
<path d="M654.6,519.8 l1.9,1.9 M654.4,521.6 l2.1,0.1 l0.1,-2.1 M665.8,519.8 l-1.9,1.9 M666,521.6 l-2.1,0.1 l-0.1,-2.1" stroke="#333" stroke-width="0.45" fill="none"/>
<g transform="rotate(-27 687.2 524.6)">
<ellipse cx="687.2" cy="524.6" rx="9.6" ry="3" fill="url(#o54)"/>
<text x="687.2" y="525.89" font-size="3.3" text-anchor="middle" font-weight="bold" fill="#1a1a1a">METTL14</text>
</g>
<g transform="rotate(27 708.6 524.2)">
<ellipse cx="708.6" cy="524.2" rx="9.6" ry="3" fill="url(#o55)"/>
<text x="708.6" y="525.49" font-size="3.3" text-anchor="middle" font-weight="bold" fill="#1a1a1a">METTL14</text>
</g>
<path d="M617.9,516.8 C620.14,516.8 621.26,522 623.5,522 C625.74,522 626.86,516.8 629.1,516.8 C631.34,516.8 632.46,522 634.7,522" fill="none" stroke="#43b4c4" stroke-width="0.8" stroke-linecap="round"/>
<line x1="623.5" y1="518.2" x2="623.5" y2="521.7" stroke="#9a6a4a" stroke-width="0.5"/>
<circle cx="623.5" cy="518.4" r="1.3" fill="#f0642a"/>
<path d="M642,532.4 C644.24,532.4 645.36,537.6 647.6,537.6 C649.84,537.6 650.96,532.4 653.2,532.4 C655.44,532.4 656.56,537.6 658.8,537.6" fill="none" stroke="#43b4c4" stroke-width="0.8" stroke-linecap="round"/>
<line x1="647.6" y1="533.8" x2="647.6" y2="537.3" stroke="#9a6a4a" stroke-width="0.5"/>
<circle cx="647.6" cy="534" r="1.3" fill="#f0642a"/>
<path d="M665,533.9 C667.24,533.9 668.36,539.1 670.6,539.1 C672.84,539.1 673.96,533.9 676.2,533.9 C678.44,533.9 679.56,539.1 681.8,539.1" fill="none" stroke="#43b4c4" stroke-width="0.8" stroke-linecap="round"/>
<line x1="670.6" y1="535.3" x2="670.6" y2="538.8" stroke="#9a6a4a" stroke-width="0.5"/>
<circle cx="670.6" cy="535.5" r="1.3" fill="#f0642a"/>
<path d="M654,542 C656.24,542 657.36,547.2 659.6,547.2 C661.84,547.2 662.96,542 665.2,542 C667.44,542 668.56,547.2 670.8,547.2" fill="none" stroke="#43b4c4" stroke-width="0.8" stroke-linecap="round"/>
<line x1="659.6" y1="543.4" x2="659.6" y2="546.9" stroke="#9a6a4a" stroke-width="0.5"/>
<circle cx="659.6" cy="543.6" r="1.3" fill="#f0642a"/>
<path d="M684,525.4 C686.16,525.4 687.24,530.6 689.4,530.6 C691.56,530.6 692.64,525.4 694.8,525.4 C696.96,525.4 698.04,530.6 700.2,530.6 C702.36,530.6 703.44,525.4 705.6,525.4" fill="none" stroke="#43b4c4" stroke-width="0.8" stroke-linecap="round"/>
<line x1="689.4" y1="526.8" x2="689.4" y2="530.3" stroke="#9a6a4a" stroke-width="0.5"/>
<circle cx="689.4" cy="527" r="1.3" fill="#f0642a"/>
<path d="M692.5,534.6 C694.62,534.6 695.68,539.8 697.8,539.8 C699.92,539.8 700.98,534.6 703.1,534.6 C705.22,534.6 706.28,539.8 708.4,539.8 C710.52,539.8 711.58,534.6 713.7,534.6" fill="none" stroke="#43b4c4" stroke-width="0.8" stroke-linecap="round"/>
<line x1="697.8" y1="536" x2="697.8" y2="539.5" stroke="#9a6a4a" stroke-width="0.5"/>
<circle cx="697.8" cy="536.2" r="1.3" fill="#f0642a"/>
<path d="M686,541.4 C688.24,541.4 689.36,546.6 691.6,546.6 C693.84,546.6 694.96,541.4 697.2,541.4 C699.44,541.4 700.56,546.6 702.8,546.6" fill="none" stroke="#43b4c4" stroke-width="0.8" stroke-linecap="round"/>
<path d="M709.7,503.6 C712.02,503.6 713.18,508.8 715.5,508.8 C717.82,508.8 718.98,503.6 721.3,503.6 C723.62,503.6 724.78,508.8 727.1,508.8 C729.42,508.8 730.58,503.6 732.9,503.6 C735.22,503.6 736.38,508.8 738.7,508.8 C741.02,508.8 742.18,503.6 744.5,503.6" fill="none" stroke="#43b4c4" stroke-width="0.8" stroke-linecap="round"/>
<line x1="727.1" y1="505" x2="727.1" y2="508.5" stroke="#9a6a4a" stroke-width="0.5"/>
<circle cx="727.1" cy="505.2" r="1.3" fill="#f0642a"/>
<path d="M719,511.2 C721.24,511.2 722.36,516.4 724.6,516.4 C726.84,516.4 727.96,511.2 730.2,511.2 C732.44,511.2 733.56,516.4 735.8,516.4" fill="none" stroke="#43b4c4" stroke-width="0.8" stroke-linecap="round"/>
<line x1="724.6" y1="512.6" x2="724.6" y2="516.1" stroke="#9a6a4a" stroke-width="0.5"/>
<circle cx="724.6" cy="512.8" r="1.3" fill="#f0642a"/>
<path d="M605,556.2 C607.24,556.2 608.36,561.4 610.6,561.4 C612.84,561.4 613.96,556.2 616.2,556.2 C618.44,556.2 619.56,561.4 621.8,561.4" fill="none" stroke="#43b4c4" stroke-width="0.8" stroke-linecap="round"/>
<line x1="610.6" y1="557.6" x2="610.6" y2="561.1" stroke="#9a6a4a" stroke-width="0.5"/>
<circle cx="610.6" cy="557.8" r="1.3" fill="#f0642a"/>
<path d="M598,565.2 C600.4,565.2 601.6,570.4 604,570.4 C606.4,570.4 607.6,565.2 610,565.2 C612.4,565.2 613.6,570.4 616,570.4 C618.4,570.4 619.6,565.2 622,565.2 C624.4,565.2 625.6,570.4 628,570.4 C630.4,570.4 631.6,565.2 634,565.2" fill="none" stroke="#43b4c4" stroke-width="0.8" stroke-linecap="round"/>
<path d="M648,577.2 C650.24,577.2 651.36,582.4 653.6,582.4 C655.84,582.4 656.96,577.2 659.2,577.2 C661.44,577.2 662.56,582.4 664.8,582.4" fill="none" stroke="#43b4c4" stroke-width="0.8" stroke-linecap="round"/>
<line x1="653.6" y1="578.6" x2="653.6" y2="582.1" stroke="#9a6a4a" stroke-width="0.5"/>
<circle cx="653.6" cy="578.8" r="1.3" fill="#f0642a"/>
<path d="M665.2,576.6 C667.44,576.6 668.56,581.8 670.8,581.8 C673.04,581.8 674.16,576.6 676.4,576.6 C678.64,576.6 679.76,581.8 682,581.8" fill="none" stroke="#43b4c4" stroke-width="0.8" stroke-linecap="round"/>
<line x1="670.8" y1="578" x2="670.8" y2="581.5" stroke="#9a6a4a" stroke-width="0.5"/>
<circle cx="670.8" cy="578.2" r="1.3" fill="#f0642a"/>
<path d="M658.2,584.6 C660.44,584.6 661.56,589.8 663.8,589.8 C666.04,589.8 667.16,584.6 669.4,584.6 C671.64,584.6 672.76,589.8 675,589.8" fill="none" stroke="#43b4c4" stroke-width="0.8" stroke-linecap="round"/>
<line x1="663.8" y1="586" x2="663.8" y2="589.5" stroke="#9a6a4a" stroke-width="0.5"/>
<circle cx="663.8" cy="586.2" r="1.3" fill="#f0642a"/>
<path d="M680.5,577.4 C682.9,577.4 684.1,582.6 686.5,582.6 C688.9,582.6 690.1,577.4 692.5,577.4 C694.9,577.4 696.1,582.6 698.5,582.6" fill="none" stroke="#43b4c4" stroke-width="0.8" stroke-linecap="round"/>
<line x1="686.5" y1="578.8" x2="686.5" y2="582.3" stroke="#9a6a4a" stroke-width="0.5"/>
<circle cx="686.5" cy="579" r="1.3" fill="#f0642a"/>
<path d="M702,576.8 C704.24,576.8 705.36,582 707.6,582 C709.84,582 710.96,576.8 713.2,576.8 C715.44,576.8 716.56,582 718.8,582" fill="none" stroke="#43b4c4" stroke-width="0.8" stroke-linecap="round"/>
<line x1="707.6" y1="578.2" x2="707.6" y2="581.7" stroke="#9a6a4a" stroke-width="0.5"/>
<circle cx="707.6" cy="578.4" r="1.3" fill="#f0642a"/>
<path d="M695,584.6 C697.24,584.6 698.36,589.8 700.6,589.8 C702.84,589.8 703.96,584.6 706.2,584.6 C708.44,584.6 709.56,589.8 711.8,589.8" fill="none" stroke="#43b4c4" stroke-width="0.8" stroke-linecap="round"/>
<line x1="700.6" y1="586" x2="700.6" y2="589.5" stroke="#9a6a4a" stroke-width="0.5"/>
<circle cx="700.6" cy="586.2" r="1.3" fill="#f0642a"/>
<path d="M737,554.4 C739.4,554.4 740.6,559.6 743,559.6 C745.4,559.6 746.6,554.4 749,554.4 C751.4,554.4 752.6,559.6 755,559.6" fill="none" stroke="#43b4c4" stroke-width="0.8" stroke-linecap="round"/>
<path d="M755.8,553.8 C758.04,553.8 759.16,559 761.4,559 C763.64,559 764.76,553.8 767,553.8 C769.24,553.8 770.36,559 772.6,559" fill="none" stroke="#43b4c4" stroke-width="0.8" stroke-linecap="round"/>
<line x1="761.4" y1="555.2" x2="761.4" y2="558.7" stroke="#9a6a4a" stroke-width="0.5"/>
<circle cx="761.4" cy="555.4" r="1.3" fill="#f0642a"/>
<path d="M748.8,561.6 C751.04,561.6 752.16,566.8 754.4,566.8 C756.64,566.8 757.76,561.6 760,561.6 C762.24,561.6 763.36,566.8 765.6,566.8" fill="none" stroke="#43b4c4" stroke-width="0.8" stroke-linecap="round"/>
<line x1="754.4" y1="563" x2="754.4" y2="566.5" stroke="#9a6a4a" stroke-width="0.5"/>
<circle cx="754.4" cy="563.2" r="1.3" fill="#f0642a"/>
<g transform="rotate(-45 646.9 576.3)">
<polygon points="636,573.2 657.6,573.2 657.6,579.4 636,579.4 638,576.3" fill="#c2c234"/>
<text x="647.2" y="577.62" font-size="3.4" text-anchor="middle" font-weight="bold" fill="#3a3a10">YTHDC1</text>
</g>
<g transform="rotate(32 772.4 553.8)">
<polygon points="763.4,550.9 781.6,550.9 780,553.8 781.6,556.7 763.4,556.7" fill="#f2f24a"/>
<text x="772.4" y="555.05" font-size="3.2" text-anchor="middle" font-weight="bold" fill="#3a3a10">YTHDF1</text>
</g>
<path d="M762.3,571.8 C764,569.6 768,570.6 770.5,570.6 C774.5,570.4 777.6,572.4 776.8,575.6 C776.6,579 773.5,580.6 770,579.8 C766.5,580.8 762.6,580 762.2,576.6 C761.6,574.6 761.6,573 762.3,571.8 Z" fill="#92d48e"/>
<text x="769.6" y="576.86" font-size="3.5" text-anchor="middle" font-weight="bold" fill="#1a3a1a">FOXO3</text>
<line x1="617.4" y1="572.6" x2="617.4" y2="584.6" stroke="#333" stroke-width="0.55"/>
<polygon points="617.4,584.6 616.27,582.71 618.53,582.71" fill="#333"/>
<line x1="613.6" y1="597.5" x2="623.6" y2="597.5" stroke="#333" stroke-width="0.55"/>
<polygon points="623.6,597.5 621.71,598.63 621.71,596.37" fill="#333"/>
<line x1="663.8" y1="590.8" x2="663.8" y2="603.6" stroke="#333" stroke-width="0.55"/>
<polygon points="663.8,603.6 662.67,601.71 664.93,601.71" fill="#333"/>
<line x1="699.4" y1="590.8" x2="699.4" y2="603.6" stroke="#333" stroke-width="0.55"/>
<polygon points="699.4,603.6 698.27,601.71 700.53,601.71" fill="#333"/>
<line x1="758.4" y1="573.4" x2="758.4" y2="584" stroke="#333" stroke-width="0.55"/>
<polygon points="758.4,584 757.27,582.11 759.53,582.11" fill="#333"/>
<line x1="663.3" y1="550" x2="663.3" y2="577" stroke="#333" stroke-width="0.45"  stroke-dasharray="1 0.8"/>
<polygon points="663.3,577 662.17,575.11 664.43,575.11" fill="#333"/>
<line x1="699.6" y1="550" x2="699.6" y2="577" stroke="#333" stroke-width="0.45"  stroke-dasharray="1 0.8"/>
<polygon points="699.6,577 698.47,575.11 700.73,575.11" fill="#333"/>
<path d="M601.6,543.5 C599.6,546 599.2,550 600.8,553.6" fill="none" stroke="#333" stroke-width="0.45" stroke-dasharray="1 0.8"/>
<polygon points="600.9,554.8 599.7,552.6 601.9,552.5" fill="#333"/>
<path d="M752.6,532.6 C755.4,535.4 756.4,540 755.4,544.4" fill="none" stroke="#333" stroke-width="0.45" stroke-dasharray="1 0.8"/>
<polygon points="755.2,545.8 754.2,543.4 756.5,543.7" fill="#333"/>
<circle cx="597.2" cy="593.4" r="3.8" fill="#8edad8"/>
<circle cx="597.2" cy="593.4" r="1.8" fill="#76cccc"/>
<circle cx="605.8" cy="593.4" r="3.8" fill="#8edad8"/>
<circle cx="605.8" cy="593.4" r="1.8" fill="#76cccc"/>
<circle cx="601.5" cy="600.4" r="3.8" fill="#8edad8"/>
<circle cx="601.5" cy="600.4" r="1.8" fill="#76cccc"/>
<text x="601.4" y="609.61" font-size="4.2" text-anchor="middle" font-weight="normal" fill="#222" stroke="#222" stroke-width="0.12">Proliferation</text>
<path transform="translate(630.2 593.6) rotate(0)" d="M0,-6 C0.4,-2 1.4,0.2 3.9,2.4 C1.4,1.6 -1.4,1.6 -3.9,2.4 C-1.4,0.2 -0.4,-2 0,-6 Z" fill="#56b8c6"/>
<path transform="translate(637 591.6) rotate(0)" d="M0,-6 C0.4,-2 1.4,0.2 3.9,2.4 C1.4,1.6 -1.4,1.6 -3.9,2.4 C-1.4,0.2 -0.4,-2 0,-6 Z" fill="#56b8c6"/>
<path transform="translate(640.8 599.4) rotate(90)" d="M0,-6 C0.4,-2 1.4,0.2 3.9,2.4 C1.4,1.6 -1.4,1.6 -3.9,2.4 C-1.4,0.2 -0.4,-2 0,-6 Z" fill="#56b8c6"/>
<path transform="translate(632.4 600.4) rotate(250)" d="M0,-6 C0.4,-2 1.4,0.2 3.9,2.4 C1.4,1.6 -1.4,1.6 -3.9,2.4 C-1.4,0.2 -0.4,-2 0,-6 Z" fill="#56b8c6"/>
<text x="636" y="609.81" font-size="4.2" text-anchor="middle" font-weight="normal" fill="#222" stroke="#222" stroke-width="0.12">Differentiation</text>
<rect x="664.58" y="615.6" width="1" height="1.3" fill="#5a7ce0" opacity="0.81"/>
<rect x="664.75" y="612.76" width="1" height="1" fill="#2a44b0" opacity="0.62"/>
<rect x="667.68" y="612.53" width="1.3" height="1" fill="#5a7ce0" opacity="0.82"/>
<rect x="666.79" y="615.36" width="1.3" height="1" fill="#2a44b0" opacity="0.51"/>
<rect x="664.6" y="611.21" width="1.3" height="0.7" fill="#5a7ce0" opacity="0.89"/>
<rect x="665.36" y="610.9" width="1.3" height="1.3" fill="#5a7ce0" opacity="0.86"/>
<rect x="666.95" y="611.46" width="1.3" height="1" fill="#3a5cd0" opacity="0.94"/>
<rect x="665.63" y="613.35" width="0.7" height="1" fill="#2a44b0" opacity="0.72"/>
<rect x="662.52" y="611.15" width="1.3" height="1" fill="#2a44b0" opacity="0.68"/>
<rect x="660.88" y="610.98" width="1" height="1.3" fill="#3a5cd0" opacity="0.93"/>
<rect x="668.77" y="612.4" width="0.7" height="1.3" fill="#5a7ce0" opacity="0.98"/>
<rect x="667.52" y="610.84" width="1.3" height="1.3" fill="#3a5cd0" opacity="0.82"/>
<rect x="666.66" y="612.46" width="0.7" height="0.7" fill="#5a7ce0" opacity="0.93"/>
<rect x="665.59" y="612.53" width="0.7" height="1" fill="#3a5cd0" opacity="0.51"/>
<rect x="661.51" y="613.7" width="0.7" height="0.7" fill="#2a44b0" opacity="0.81"/>
<rect x="668.89" y="613.66" width="1" height="1.3" fill="#5a7ce0" opacity="0.75"/>
<rect x="666.88" y="612.58" width="0.7" height="0.7" fill="#2a44b0" opacity="0.77"/>
<rect x="671.89" y="610.58" width="1" height="1.3" fill="#5a7ce0" opacity="0.58"/>
<rect x="670.12" y="613.87" width="1" height="1" fill="#3a5cd0" opacity="0.95"/>
<rect x="661.9" y="614.45" width="1.3" height="1" fill="#2a44b0" opacity="0.93"/>
<rect x="663.71" y="611.59" width="1.3" height="1" fill="#5a7ce0" opacity="0.82"/>
<rect x="662.79" y="607.1" width="1" height="1" fill="#2a44b0" opacity="0.65"/>
<rect x="661.5" y="616.19" width="1.3" height="1" fill="#3a5cd0" opacity="0.69"/>
<rect x="662.94" y="611.92" width="1.3" height="1.3" fill="#5a7ce0" opacity="0.73"/>
<rect x="663.1" y="610.58" width="1.3" height="1" fill="#2a44b0" opacity="0.74"/>
<rect x="657.98" y="609.42" width="0.7" height="1" fill="#5a7ce0" opacity="0.81"/>
<text x="666.3" y="626.31" font-size="4.2" text-anchor="middle" font-weight="normal" fill="#222" stroke="#222" stroke-width="0.12">Degradation</text>
<g fill="#8ed6d6">
<circle cx="701.8" cy="614.4" r="5.2"/>
<circle cx="707.8" cy="614.4" r="1"/>
<circle cx="706.85" cy="617.64" r="1.5"/>
<circle cx="704.29" cy="619.86" r="2"/>
<circle cx="700.95" cy="620.34" r="1"/>
<circle cx="697.87" cy="618.93" r="1.5"/>
<circle cx="696.04" cy="616.09" r="2"/>
<circle cx="696.04" cy="612.71" r="1"/>
<circle cx="697.87" cy="609.87" r="1.5"/>
<circle cx="700.95" cy="608.46" r="2"/>
<circle cx="704.29" cy="608.94" r="1"/>
<circle cx="706.85" cy="611.16" r="1.5"/>
</g>
<circle cx="702.2" cy="615.0" r="2.6" fill="#6cc6cc"/>
<text x="701.4" y="626.31" font-size="4.2" text-anchor="middle" font-weight="normal" fill="#222" stroke="#222" stroke-width="0.12">Apoptosis</text>
<path d="M702.6,596.4 C704.6,594.6 707.2,595.4 707.6,593.2 C708.2,591.2 711.2,591.2 711.6,593.4 C711.8,595.2 714.2,594.8 714.6,593 C715.4,591 718.2,591.8 717.8,594.4 C717.6,597.4 716.4,599.4 713.6,599.2 C711.6,599.2 712.6,602 714.2,603.2 C714.6,605.2 712.2,606 710.4,604.4 C708.6,602.6 707.6,600.6 705.4,600.6 C703,600.4 701.4,598.2 702.6,596.4 Z" fill="#6a86c8"/>
<text x="709.4" y="599.55" font-size="3.2" text-anchor="middle" font-weight="bold" fill="#16244a">caspase</text>
<path d="M755.6,590.6 C758.6,593.6 760.6,592.2 763,591.4 L763.4,601.6 C760.8,600.4 758.4,598.4 755.2,599.6 Z" fill="#efd4d8" stroke="#c8a8b8" stroke-width="0.5"/>
<circle cx="747.6" cy="593.7" r="9.0" fill="#f4f6fa" stroke="#96a8c8" stroke-width="2.2"/>
<circle cx="767.6" cy="596.6" r="6.6" fill="#f6dcdc" stroke="#e08080" stroke-width="1.1"/>
<circle cx="744.06" cy="590.26" r="0.35" fill="#60c0d0"/>
<circle cx="752.21" cy="591.96" r="0.35" fill="#60c0d0"/>
<circle cx="750.9" cy="594.31" r="0.35" fill="#4a9cd0"/>
<circle cx="743.77" cy="588.51" r="0.35" fill="#4a9cd0"/>
<circle cx="743.41" cy="598.06" r="0.35" fill="#4a5cd0"/>
<circle cx="743.83" cy="592.64" r="0.35" fill="#4a9cd0"/>
<circle cx="747.24" cy="590.65" r="0.35" fill="#4a9cd0"/>
<circle cx="752.02" cy="591.14" r="0.35" fill="#4a9cd0"/>
<circle cx="747.69" cy="592.54" r="0.35" fill="#60c0d0"/>
<circle cx="746.44" cy="592.65" r="0.35" fill="#4a9cd0"/>
<circle cx="747.9" cy="593.65" r="0.35" fill="#4a9cd0"/>
<circle cx="749.35" cy="593.25" r="0.35" fill="#4a9cd0"/>
<circle cx="745.73" cy="601.12" r="0.35" fill="#60c0d0"/>
<circle cx="750.59" cy="590.75" r="0.35" fill="#4a9cd0"/>
<circle cx="751.88" cy="592.03" r="0.35" fill="#4a5cd0"/>
<circle cx="746.74" cy="596.41" r="0.35" fill="#4a9cd0"/>
<circle cx="765.2" cy="594" r="1.2" fill="#d83a3a"/>
<circle cx="769.6" cy="594.4" r="1.3" fill="#d83a3a"/>
<circle cx="766" cy="599.2" r="1.3" fill="#d83a3a"/>
<circle cx="770.4" cy="598.6" r="1" fill="#d83a3a"/>
<circle cx="767.8" cy="596.6" r="0.7" fill="#d83a3a"/>
<text x="758.9" y="609.81" font-size="4.2" text-anchor="middle" font-weight="normal" fill="#222" stroke="#222" stroke-width="0.12">Autophagy</text>
</g>
</svg>
</body></html>
